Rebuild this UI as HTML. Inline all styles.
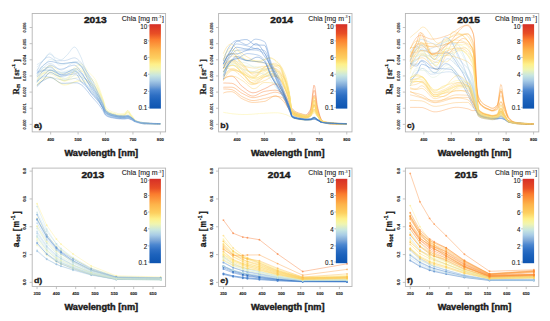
<!DOCTYPE html><html><head><meta charset="utf-8"><style>html,body{margin:0;padding:0;background:#fff;}svg{display:block;font-family:"Liberation Sans", sans-serif;}</style></head><body>
<svg width="550" height="321" viewBox="0 0 550 321">
<defs><linearGradient id="cb" x1="0" y1="1" x2="0" y2="0"><stop offset="0.0" stop-color="#0d54b0"/><stop offset="0.09898989898989899" stop-color="#1c62bc"/><stop offset="0.15858585858585855" stop-color="#2e6fc4"/><stop offset="0.21818181818181814" stop-color="#4b86d0"/><stop offset="0.2727272727272727" stop-color="#7ea8d8"/><stop offset="0.3333333333333333" stop-color="#a8cce6"/><stop offset="0.3939393939393939" stop-color="#c8e6e0"/><stop offset="0.4646464646464647" stop-color="#f0f5b0"/><stop offset="0.5252525252525253" stop-color="#fef08a"/><stop offset="0.595959595959596" stop-color="#fdd060"/><stop offset="0.696969696969697" stop-color="#fdb34a"/><stop offset="0.8181818181818181" stop-color="#fb7d2e"/><stop offset="0.888888888888889" stop-color="#e84e25"/><stop offset="1.0" stop-color="#d62f27"/></linearGradient></defs>
<rect width="550" height="321" fill="#fff"/>
<clipPath id="clip00"><rect x="32.2" y="13.5" width="133.4" height="118.4"/></clipPath><g clip-path="url(#clip00)"><path d="M36.9 84.5L37.8 83.8L38.6 83.2L39.4 82.5L40.2 81.9L41.0 81.4L41.9 80.9L42.7 80.4L43.5 79.9L44.3 79.5L45.2 79.1L46.0 78.6L46.8 78.2L47.6 77.8L48.5 77.5L49.3 77.3L50.1 77.3L50.9 77.3L51.7 77.5L52.6 77.8L53.4 78.2L54.2 78.7L55.0 79.2L55.9 79.8L56.7 80.4L57.5 81.0L58.3 81.6L59.2 82.2L60.0 82.7L60.8 83.2L61.6 83.6L62.4 84.0L63.3 84.2L64.1 84.3L64.9 84.3L65.7 84.2L66.6 84.1L67.4 84.0L68.2 83.8L69.0 83.6L69.9 83.4L70.7 83.1L71.5 82.9L72.3 82.6L73.1 82.4L74.0 82.1L74.8 81.9L75.6 81.7L76.4 81.5L77.3 81.4L78.1 81.3L78.9 81.3L79.7 81.2L80.5 81.3L81.4 81.4L82.2 81.5L83.0 81.7L83.8 81.9L84.7 82.1L85.5 82.4L86.3 82.7L87.1 83.0L88.0 83.3L88.8 83.7L89.6 84.1L90.4 84.6L91.2 85.2L92.1 85.9L92.9 86.8L93.7 87.7L94.5 88.7L95.4 89.7L96.2 91.0L97.0 92.5L97.8 94.2L98.7 95.9L99.5 97.7L100.3 99.4L101.1 100.9L101.9 102.5L102.8 104.2L103.6 106.0L104.4 108.2L105.2 110.2L106.1 111.2L106.9 112.0L107.7 112.6L108.5 113.1L109.4 113.5L110.2 113.8L111.0 114.2L111.8 114.4L112.6 114.7L113.5 114.9L114.3 115.1L115.1 115.3L115.9 115.5L116.8 115.7L117.6 115.9L118.4 116.1L119.2 116.1L120.0 116.1L120.9 116.1L121.7 116.1L122.5 116.1L123.3 116.1L124.2 116.0L125.0 115.8L125.8 115.4L126.6 115.0L127.5 114.7L128.3 114.8L129.1 115.2L129.9 115.9L130.7 116.7L131.6 117.4L132.4 118.1L133.2 119.0L134.0 119.8L134.9 120.5" fill="none" stroke="#fcf18e" stroke-width="0.6" stroke-opacity="0.6" stroke-linejoin="round"/><path d="M134.9 120.5L135.7 120.9L136.5 121.2L137.3 121.5L138.2 121.7L139.0 121.9L139.8 122.1L140.6 122.3L141.4 122.4L142.3 122.5L143.1 122.6L143.9 122.7L144.7 122.8L145.6 122.9L146.4 123.0L147.2 123.0L148.0 123.1L148.8 123.2L149.7 123.2L150.5 123.3L151.3 123.3L152.1 123.4L153.0 123.4L153.8 123.5L154.6 123.5L155.4 123.6L156.3 123.6L157.1 123.6L157.9 123.6L158.7 123.6L159.5 123.7L160.4 123.7" fill="none" stroke="#fcf18e" stroke-width="0.6" stroke-opacity="0.36" stroke-linejoin="round"/>
<path d="M36.9 85.8L37.8 84.4L38.6 83.0L39.4 81.7L40.2 80.6L41.0 79.6L41.9 78.8L42.7 78.2L43.5 77.9L44.3 77.8L45.2 77.7L46.0 77.6L46.8 77.5L47.6 77.5L48.5 77.5L49.3 77.4L50.1 77.4L50.9 77.5L51.7 77.7L52.6 78.0L53.4 78.5L54.2 79.0L55.0 79.6L55.9 80.2L56.7 80.8L57.5 81.5L58.3 82.2L59.2 82.8L60.0 83.4L60.8 83.9L61.6 84.4L62.4 84.7L63.3 85.0L64.1 85.1L64.9 85.1L65.7 85.0L66.6 84.9L67.4 84.7L68.2 84.5L69.0 84.2L69.9 83.9L70.7 83.6L71.5 83.2L72.3 82.9L73.1 82.5L74.0 82.1L74.8 81.8L75.6 81.5L76.4 81.1L77.3 80.9L78.1 80.6L78.9 80.4L79.7 80.2L80.5 80.1L81.4 80.1L82.2 80.1L83.0 80.2L83.8 80.4L84.7 80.7L85.5 81.0L86.3 81.3L87.1 81.7L88.0 82.0L88.8 82.4L89.6 82.8L90.4 83.2L91.2 83.7L92.1 84.3L92.9 85.0L93.7 85.7L94.5 86.5L95.4 87.4L96.2 88.6L97.0 90.1L97.8 91.9L98.7 93.8L99.5 95.8L100.3 97.5L101.1 99.2L101.9 100.9L102.8 102.7L103.6 104.8L104.4 107.9L105.2 110.5L106.1 111.6L106.9 112.4L107.7 113.0L108.5 113.4L109.4 113.8L110.2 114.2L111.0 114.5L111.8 114.7L112.6 114.9L113.5 115.2L114.3 115.4L115.1 115.5L115.9 115.8L116.8 116.0L117.6 116.2L118.4 116.3L119.2 116.4L120.0 116.3L120.9 116.3L121.7 116.2L122.5 116.0L123.3 115.9L124.2 115.7L125.0 115.0L125.8 113.8L126.6 112.6L127.5 111.9L128.3 112.0L129.1 112.9L129.9 114.3L130.7 115.6L131.6 116.7L132.4 117.7L133.2 118.8L134.0 119.7L134.9 120.5" fill="none" stroke="#feec85" stroke-width="0.6" stroke-opacity="0.6" stroke-linejoin="round"/><path d="M134.9 120.5L135.7 121.0L136.5 121.4L137.3 121.7L138.2 122.0L139.0 122.3L139.8 122.6L140.6 122.8L141.4 123.0L142.3 123.1L143.1 123.2L143.9 123.2L144.7 123.3L145.6 123.3L146.4 123.3L147.2 123.3L148.0 123.4L148.8 123.4L149.7 123.4L150.5 123.4L151.3 123.4L152.1 123.5L153.0 123.5L153.8 123.5L154.6 123.5L155.4 123.5L156.3 123.5L157.1 123.5L157.9 123.5L158.7 123.5L159.5 123.5L160.4 123.5" fill="none" stroke="#feec85" stroke-width="0.6" stroke-opacity="0.36" stroke-linejoin="round"/>
<path d="M36.9 85.3L37.8 84.6L38.6 83.9L39.4 83.1L40.2 82.4L41.0 81.6L41.9 80.8L42.7 80.0L43.5 79.2L44.3 78.4L45.2 77.3L46.0 76.2L46.8 75.1L47.6 74.0L48.5 73.1L49.3 72.5L50.1 72.3L50.9 72.4L51.7 72.6L52.6 73.0L53.4 73.5L54.2 74.1L55.0 74.7L55.9 75.4L56.7 76.1L57.5 76.9L58.3 77.6L59.2 78.3L60.0 79.0L60.8 79.6L61.6 80.1L62.4 80.5L63.3 80.8L64.1 80.9L64.9 80.9L65.7 80.9L66.6 80.7L67.4 80.6L68.2 80.4L69.0 80.1L69.9 79.9L70.7 79.6L71.5 79.3L72.3 79.0L73.1 78.7L74.0 78.4L74.8 78.1L75.6 77.8L76.4 77.5L77.3 77.3L78.1 77.1L78.9 77.0L79.7 76.9L80.5 76.8L81.4 76.8L82.2 77.0L83.0 77.3L83.8 77.7L84.7 78.2L85.5 78.8L86.3 79.4L87.1 80.0L88.0 80.7L88.8 81.3L89.6 81.9L90.4 82.6L91.2 83.3L92.1 84.1L92.9 85.0L93.7 85.9L94.5 86.9L95.4 88.0L96.2 89.2L97.0 90.6L97.8 92.1L98.7 93.7L99.5 95.4L100.3 97.0L101.1 98.7L101.9 100.4L102.8 102.3L103.6 104.4L104.4 107.2L105.2 109.7L106.1 110.8L106.9 111.6L107.7 112.3L108.5 112.8L109.4 113.2L110.2 113.5L111.0 113.9L111.8 114.1L112.6 114.4L113.5 114.6L114.3 114.8L115.1 115.0L115.9 115.2L116.8 115.5L117.6 115.7L118.4 115.8L119.2 115.9L120.0 115.8L120.9 115.8L121.7 115.6L122.5 115.5L123.3 115.3L124.2 115.0L125.0 114.3L125.8 112.9L126.6 111.5L127.5 110.6L128.3 110.8L129.1 111.8L129.9 113.3L130.7 114.9L131.6 116.1L132.4 117.2L133.2 118.3L134.0 119.4L134.9 120.2" fill="none" stroke="#f9f299" stroke-width="0.6" stroke-opacity="0.6" stroke-linejoin="round"/><path d="M134.9 120.2L135.7 120.8L136.5 121.3L137.3 121.8L138.2 122.2L139.0 122.5L139.8 122.9L140.6 123.2L141.4 123.4L142.3 123.6L143.1 123.7L143.9 123.8L144.7 123.8L145.6 123.8L146.4 123.8L147.2 123.8L148.0 123.9L148.8 123.9L149.7 123.9L150.5 123.9L151.3 123.9L152.1 123.9L153.0 123.9L153.8 123.9L154.6 123.9L155.4 123.9L156.3 123.9L157.1 123.9L157.9 123.9L158.7 123.9L159.5 123.9L160.4 123.9" fill="none" stroke="#f9f299" stroke-width="0.6" stroke-opacity="0.36" stroke-linejoin="round"/>
<path d="M36.9 79.3L37.8 78.1L38.6 76.9L39.4 75.9L40.2 75.0L41.0 74.2L41.9 73.6L42.7 73.2L43.5 73.0L44.3 73.0L45.2 73.0L46.0 73.1L46.8 73.2L47.6 73.3L48.5 73.4L49.3 73.6L50.1 73.7L50.9 73.9L51.7 74.2L52.6 74.6L53.4 75.1L54.2 75.6L55.0 76.1L55.9 76.7L56.7 77.3L57.5 77.9L58.3 78.4L59.2 79.0L60.0 79.5L60.8 79.9L61.6 80.3L62.4 80.6L63.3 80.8L64.1 80.9L64.9 80.9L65.7 80.8L66.6 80.5L67.4 80.1L68.2 79.7L69.0 79.2L69.9 78.6L70.7 78.0L71.5 77.3L72.3 76.6L73.1 75.9L74.0 75.2L74.8 74.6L75.6 73.9L76.4 73.3L77.3 72.8L78.1 72.3L78.9 71.9L79.7 71.5L80.5 71.3L81.4 71.2L82.2 71.4L83.0 72.0L83.8 72.9L84.7 74.1L85.5 75.5L86.3 77.0L87.1 78.4L88.0 79.8L88.8 80.9L89.6 81.7L90.4 82.4L91.2 83.0L92.1 83.6L92.9 84.2L93.7 84.9L94.5 85.6L95.4 86.5L96.2 87.5L97.0 88.8L97.8 90.2L98.7 91.7L99.5 93.3L100.3 94.9L101.1 96.5L101.9 98.3L102.8 100.2L103.6 102.6L104.4 106.2L105.2 109.3L106.1 110.5L106.9 111.4L107.7 112.0L108.5 112.5L109.4 112.9L110.2 113.3L111.0 113.6L111.8 113.9L112.6 114.1L113.5 114.4L114.3 114.6L115.1 114.8L115.9 115.0L116.8 115.3L117.6 115.5L118.4 115.6L119.2 115.7L120.0 115.7L120.9 115.6L121.7 115.5L122.5 115.5L123.3 115.3L124.2 115.2L125.0 114.7L125.8 113.8L126.6 112.9L127.5 112.3L128.3 112.4L129.1 113.2L129.9 114.3L130.7 115.5L131.6 116.5L132.4 117.4L133.2 118.4L134.0 119.4L134.9 120.2" fill="none" stroke="#fee980" stroke-width="0.6" stroke-opacity="0.6" stroke-linejoin="round"/><path d="M134.9 120.2L135.7 120.8L136.5 121.2L137.3 121.6L138.2 122.0L139.0 122.3L139.8 122.7L140.6 122.9L141.4 123.2L142.3 123.3L143.1 123.5L143.9 123.6L144.7 123.6L145.6 123.7L146.4 123.7L147.2 123.8L148.0 123.8L148.8 123.8L149.7 123.9L150.5 123.9L151.3 123.9L152.1 124.0L153.0 124.0L153.8 124.0L154.6 124.0L155.4 124.1L156.3 124.1L157.1 124.1L157.9 124.1L158.7 124.1L159.5 124.1L160.4 124.1" fill="none" stroke="#fee980" stroke-width="0.6" stroke-opacity="0.36" stroke-linejoin="round"/>
<path d="M36.9 80.7L37.8 79.5L38.6 78.4L39.4 77.3L40.2 76.3L41.0 75.4L41.9 74.6L42.7 73.9L43.5 73.3L44.3 72.8L45.2 72.4L46.0 72.0L46.8 71.6L47.6 71.2L48.5 71.0L49.3 70.8L50.1 70.8L50.9 70.8L51.7 71.1L52.6 71.4L53.4 71.9L54.2 72.4L55.0 73.0L55.9 73.7L56.7 74.4L57.5 75.1L58.3 75.8L59.2 76.4L60.0 77.1L60.8 77.6L61.6 78.1L62.4 78.5L63.3 78.8L64.1 78.9L64.9 78.9L65.7 78.7L66.6 78.3L67.4 77.8L68.2 77.1L69.0 76.4L69.9 75.6L70.7 74.7L71.5 73.9L72.3 73.0L73.1 72.1L74.0 71.3L74.8 70.5L75.6 69.8L76.4 69.2L77.3 68.7L78.1 68.4L78.9 68.3L79.7 68.3L80.5 68.6L81.4 69.0L82.2 69.6L83.0 70.3L83.8 71.1L84.7 72.1L85.5 73.0L86.3 74.0L87.1 75.0L88.0 75.9L88.8 76.8L89.6 77.6L90.4 78.4L91.2 79.2L92.1 80.0L92.9 80.9L93.7 81.8L94.5 82.9L95.4 84.0L96.2 85.3L97.0 86.9L97.8 88.7L98.7 90.6L99.5 92.4L100.3 94.2L101.1 96.0L101.9 97.8L102.8 99.7L103.6 102.0L104.4 105.3L105.2 108.2L106.1 109.5L106.9 110.4L107.7 111.1L108.5 111.6L109.4 112.1L110.2 112.5L111.0 112.8L111.8 113.1L112.6 113.4L113.5 113.6L114.3 113.9L115.1 114.1L115.9 114.3L116.8 114.6L117.6 114.8L118.4 115.0L119.2 115.0L120.0 115.0L120.9 115.0L121.7 115.0L122.5 115.0L123.3 115.0L124.2 115.0L125.0 114.8L125.8 114.4L126.6 114.0L127.5 113.7L128.3 113.8L129.1 114.3L129.9 115.0L130.7 115.8L131.6 116.5L132.4 117.3L133.2 118.3L134.0 119.2L134.9 120.0" fill="none" stroke="#feef88" stroke-width="0.6" stroke-opacity="0.6" stroke-linejoin="round"/><path d="M134.9 120.0L135.7 120.5L136.5 120.8L137.3 121.1L138.2 121.4L139.0 121.7L139.8 121.9L140.6 122.1L141.4 122.2L142.3 122.4L143.1 122.5L143.9 122.6L144.7 122.7L145.6 122.8L146.4 122.9L147.2 123.0L148.0 123.1L148.8 123.2L149.7 123.3L150.5 123.3L151.3 123.4L152.1 123.5L153.0 123.5L153.8 123.6L154.6 123.7L155.4 123.7L156.3 123.7L157.1 123.8L157.9 123.8L158.7 123.8L159.5 123.8L160.4 123.8" fill="none" stroke="#feef88" stroke-width="0.6" stroke-opacity="0.36" stroke-linejoin="round"/>
<path d="M36.9 81.9L37.8 80.8L38.6 79.8L39.4 78.8L40.2 77.8L41.0 76.9L41.9 76.1L42.7 75.3L43.5 74.5L44.3 73.8L45.2 73.0L46.0 72.3L46.8 71.5L47.6 70.9L48.5 70.4L49.3 70.0L50.1 69.9L50.9 70.0L51.7 70.3L52.6 70.7L53.4 71.3L54.2 72.0L55.0 72.8L55.9 73.7L56.7 74.6L57.5 75.5L58.3 76.4L59.2 77.3L60.0 78.1L60.8 78.8L61.6 79.4L62.4 79.9L63.3 80.3L64.1 80.4L64.9 80.4L65.7 80.2L66.6 79.8L67.4 79.2L68.2 78.6L69.0 77.8L69.9 76.9L70.7 76.0L71.5 75.1L72.3 74.2L73.1 73.3L74.0 72.4L74.8 71.6L75.6 70.9L76.4 70.4L77.3 69.9L78.1 69.7L78.9 69.6L79.7 69.7L80.5 70.0L81.4 70.4L82.2 71.0L83.0 71.6L83.8 72.3L84.7 73.1L85.5 74.0L86.3 74.8L87.1 75.6L88.0 76.5L88.8 77.2L89.6 78.0L90.4 78.7L91.2 79.5L92.1 80.3L92.9 81.1L93.7 82.0L94.5 83.0L95.4 84.1L96.2 85.3L97.0 86.7L97.8 88.2L98.7 89.9L99.5 91.7L100.3 93.6L101.1 95.9L101.9 98.5L102.8 101.0L103.6 103.5L104.4 106.1L105.2 108.2L106.1 109.4L106.9 110.3L107.7 111.0L108.5 111.5L109.4 112.0L110.2 112.4L111.0 112.7L111.8 113.1L112.6 113.3L113.5 113.6L114.3 113.8L115.1 114.0L115.9 114.3L116.8 114.5L117.6 114.7L118.4 114.9L119.2 115.0L120.0 115.0L120.9 114.9L121.7 114.9L122.5 114.8L123.3 114.8L124.2 114.7L125.0 114.3L125.8 113.6L126.6 112.8L127.5 112.3L128.3 112.4L129.1 113.1L129.9 114.1L130.7 115.2L131.6 116.1L132.4 117.1L133.2 118.1L134.0 119.1L134.9 119.9" fill="none" stroke="#f2f4a9" stroke-width="0.6" stroke-opacity="0.6" stroke-linejoin="round"/><path d="M134.9 119.9L135.7 120.5L136.5 120.9L137.3 121.3L138.2 121.7L139.0 122.0L139.8 122.3L140.6 122.6L141.4 122.8L142.3 123.0L143.1 123.1L143.9 123.2L144.7 123.2L145.6 123.2L146.4 123.3L147.2 123.3L148.0 123.3L148.8 123.4L149.7 123.4L150.5 123.4L151.3 123.5L152.1 123.5L153.0 123.5L153.8 123.5L154.6 123.5L155.4 123.5L156.3 123.5L157.1 123.6L157.9 123.6L158.7 123.6L159.5 123.6L160.4 123.6" fill="none" stroke="#f2f4a9" stroke-width="0.6" stroke-opacity="0.36" stroke-linejoin="round"/>
<path d="M36.9 77.8L37.8 77.1L38.6 76.4L39.4 75.7L40.2 75.0L41.0 74.3L41.9 73.6L42.7 72.9L43.5 72.2L44.3 71.4L45.2 70.5L46.0 69.5L46.8 68.5L47.6 67.6L48.5 66.9L49.3 66.4L50.1 66.2L50.9 66.3L51.7 66.7L52.6 67.4L53.4 68.2L54.2 69.1L55.0 70.2L55.9 71.4L56.7 72.7L57.5 73.9L58.3 75.2L59.2 76.4L60.0 77.5L60.8 78.6L61.6 79.4L62.4 80.1L63.3 80.6L64.1 80.8L64.9 80.8L65.7 80.5L66.6 80.1L67.4 79.4L68.2 78.6L69.0 77.7L69.9 76.6L70.7 75.5L71.5 74.3L72.3 73.1L73.1 71.9L74.0 70.7L74.8 69.6L75.6 68.6L76.4 67.6L77.3 66.8L78.1 66.1L78.9 65.6L79.7 65.3L80.5 65.2L81.4 65.6L82.2 66.3L83.0 67.3L83.8 68.5L84.7 69.9L85.5 71.4L86.3 72.9L87.1 74.3L88.0 75.6L88.8 76.6L89.6 77.3L90.4 77.9L91.2 78.4L92.1 78.9L92.9 79.4L93.7 80.0L94.5 80.7L95.4 81.5L96.2 82.8L97.0 84.5L97.8 86.6L98.7 88.8L99.5 91.0L100.3 93.0L101.1 94.7L101.9 96.5L102.8 98.5L103.6 100.9L104.4 104.8L105.2 108.1L106.1 109.5L106.9 110.4L107.7 111.1L108.5 111.6L109.4 112.1L110.2 112.5L111.0 112.8L111.8 113.1L112.6 113.4L113.5 113.6L114.3 113.8L115.1 114.1L115.9 114.3L116.8 114.6L117.6 114.8L118.4 114.9L119.2 115.0L120.0 115.0L120.9 114.9L121.7 114.9L122.5 114.8L123.3 114.6L124.2 114.5L125.0 113.9L125.8 112.9L126.6 111.9L127.5 111.2L128.3 111.4L129.1 112.2L129.9 113.5L130.7 114.8L131.6 115.8L132.4 116.9L133.2 118.0L134.0 119.1L134.9 119.9" fill="none" stroke="#f7f39e" stroke-width="0.6" stroke-opacity="0.6" stroke-linejoin="round"/><path d="M134.9 119.9L135.7 120.5L136.5 120.9L137.3 121.2L138.2 121.5L139.0 121.8L139.8 122.0L140.6 122.2L141.4 122.4L142.3 122.5L143.1 122.7L143.9 122.8L144.7 122.9L145.6 123.0L146.4 123.1L147.2 123.2L148.0 123.2L148.8 123.3L149.7 123.4L150.5 123.5L151.3 123.6L152.1 123.6L153.0 123.7L153.8 123.7L154.6 123.8L155.4 123.8L156.3 123.9L157.1 123.9L157.9 123.9L158.7 124.0L159.5 124.0L160.4 124.0" fill="none" stroke="#f7f39e" stroke-width="0.6" stroke-opacity="0.36" stroke-linejoin="round"/>
<path d="M36.9 75.7L37.8 74.8L38.6 74.0L39.4 73.1L40.2 72.3L41.0 71.6L41.9 70.8L42.7 70.2L43.5 69.5L44.3 68.9L45.2 68.3L46.0 67.7L46.8 67.1L47.6 66.5L48.5 66.1L49.3 65.8L50.1 65.7L50.9 65.8L51.7 66.0L52.6 66.4L53.4 66.9L54.2 67.4L55.0 68.1L55.9 68.7L56.7 69.5L57.5 70.2L58.3 70.9L59.2 71.6L60.0 72.3L60.8 72.9L61.6 73.4L62.4 73.8L63.3 74.1L64.1 74.2L64.9 74.2L65.7 74.0L66.6 73.7L67.4 73.3L68.2 72.8L69.0 72.2L69.9 71.6L70.7 70.9L71.5 70.1L72.3 69.4L73.1 68.6L74.0 67.9L74.8 67.1L75.6 66.5L76.4 65.8L77.3 65.3L78.1 64.8L78.9 64.4L79.7 64.1L80.5 64.0L81.4 64.0L82.2 64.4L83.0 65.0L83.8 65.8L84.7 66.7L85.5 67.8L86.3 69.0L87.1 70.1L88.0 71.2L88.8 72.2L89.6 73.1L90.4 73.9L91.2 74.7L92.1 75.6L92.9 76.4L93.7 77.3L94.5 78.4L95.4 79.6L96.2 81.0L97.0 82.7L97.8 84.6L98.7 86.6L99.5 88.8L100.3 90.9L101.1 93.3L101.9 95.9L102.8 98.5L103.6 101.0L104.4 103.8L105.2 106.1L106.1 107.4L106.9 108.4L107.7 109.2L108.5 109.9L109.4 110.4L110.2 110.8L111.0 111.2L111.8 111.6L112.6 111.9L113.5 112.2L114.3 112.4L115.1 112.7L115.9 112.9L116.8 113.2L117.6 113.5L118.4 113.7L119.2 113.7L120.0 113.7L120.9 113.7L121.7 113.6L122.5 113.6L123.3 113.5L124.2 113.4L125.0 112.9L125.8 112.0L126.6 111.1L127.5 110.6L128.3 110.7L129.1 111.5L129.9 112.7L130.7 113.9L131.6 115.0L132.4 116.1L133.2 117.2L134.0 118.3L134.9 119.3" fill="none" stroke="#fdf08c" stroke-width="0.6" stroke-opacity="0.6" stroke-linejoin="round"/><path d="M134.9 119.3L135.7 120.0L136.5 120.4L137.3 120.9L138.2 121.3L139.0 121.7L139.8 122.0L140.6 122.3L141.4 122.6L142.3 122.8L143.1 123.0L143.9 123.1L144.7 123.2L145.6 123.3L146.4 123.3L147.2 123.4L148.0 123.5L148.8 123.6L149.7 123.6L150.5 123.7L151.3 123.8L152.1 123.8L153.0 123.9L153.8 123.9L154.6 123.9L155.4 124.0L156.3 124.0L157.1 124.0L157.9 124.1L158.7 124.1L159.5 124.1L160.4 124.1" fill="none" stroke="#fdf08c" stroke-width="0.6" stroke-opacity="0.36" stroke-linejoin="round"/>
<path d="M36.9 82.7L37.8 81.5L38.6 80.2L39.4 79.1L40.2 78.1L41.0 77.3L41.9 76.6L42.7 76.2L43.5 76.0L44.3 76.0L45.2 76.1L46.0 76.2L46.8 76.4L47.6 76.6L48.5 76.8L49.3 77.0L50.1 77.1L50.9 77.3L51.7 77.5L52.6 77.7L53.4 77.9L54.2 78.1L55.0 78.3L55.9 78.6L56.7 78.8L57.5 79.0L58.3 79.2L59.2 79.4L60.0 79.6L60.8 79.7L61.6 79.8L62.4 79.9L63.3 80.0L64.1 80.0L64.9 80.0L65.7 79.9L66.6 79.8L67.4 79.7L68.2 79.5L69.0 79.4L69.9 79.2L70.7 79.0L71.5 78.9L72.3 78.7L73.1 78.6L74.0 78.5L74.8 78.5L75.6 78.5L76.4 78.8L77.3 79.2L78.1 79.7L78.9 80.3L79.7 80.9L80.5 81.5L81.4 82.0L82.2 82.5L83.0 82.9L83.8 83.2L84.7 83.7L85.5 84.1L86.3 84.7L87.1 85.5L88.0 86.5L88.8 87.6L89.6 88.8L90.4 90.1L91.2 91.3L92.1 92.4L92.9 93.4L93.7 94.4L94.5 95.4L95.4 96.4L96.2 97.4L97.0 98.5L97.8 99.6L98.7 100.8L99.5 102.1L100.3 103.6L101.1 105.1L101.9 106.7L102.8 108.3L103.6 110.1L104.4 112.0L105.2 113.4L106.1 114.2L106.9 114.8L107.7 115.3L108.5 115.7L109.4 116.0L110.2 116.3L111.0 116.5L111.8 116.7L112.6 116.9L113.5 117.1L114.3 117.2L115.1 117.4L115.9 117.5L116.8 117.7L117.6 117.8L118.4 117.9L119.2 118.0L120.0 118.0L120.9 118.1L121.7 118.1L122.5 118.1L123.3 118.1L124.2 118.1L125.0 118.1L125.8 118.0L126.6 117.9L127.5 117.8L128.3 117.8L129.1 118.1L129.9 118.4L130.7 118.8L131.6 119.2L132.4 119.7L133.2 120.3L134.0 120.9L134.9 121.4" fill="none" stroke="#91b8de" stroke-width="0.6" stroke-opacity="0.6" stroke-linejoin="round"/><path d="M134.9 121.4L135.7 121.7L136.5 121.9L137.3 122.0L138.2 122.1L139.0 122.2L139.8 122.3L140.6 122.3L141.4 122.4L142.3 122.5L143.1 122.5L143.9 122.6L144.7 122.7L145.6 122.7L146.4 122.8L147.2 122.8L148.0 122.9L148.8 123.0L149.7 123.0L150.5 123.1L151.3 123.1L152.1 123.2L153.0 123.2L153.8 123.3L154.6 123.3L155.4 123.4L156.3 123.4L157.1 123.5L157.9 123.5L158.7 123.5L159.5 123.6L160.4 123.6" fill="none" stroke="#91b8de" stroke-width="0.6" stroke-opacity="0.36" stroke-linejoin="round"/>
<path d="M36.9 80.2L37.8 79.9L38.6 79.5L39.4 79.1L40.2 78.7L41.0 78.4L41.9 78.0L42.7 77.6L43.5 77.2L44.3 76.8L45.2 76.3L46.0 75.7L46.8 75.1L47.6 74.6L48.5 74.2L49.3 73.9L50.1 73.8L50.9 73.9L51.7 74.0L52.6 74.1L53.4 74.3L54.2 74.6L55.0 74.9L55.9 75.2L56.7 75.5L57.5 75.8L58.3 76.1L59.2 76.4L60.0 76.6L60.8 76.8L61.6 77.0L62.4 77.1L63.3 77.1L64.1 77.0L64.9 76.7L65.7 76.3L66.6 75.7L67.4 75.0L68.2 74.3L69.0 73.5L69.9 72.8L70.7 72.2L71.5 71.6L72.3 71.2L73.1 71.0L74.0 70.9L74.8 71.2L75.6 71.6L76.4 72.2L77.3 72.9L78.1 73.8L78.9 74.7L79.7 75.6L80.5 76.6L81.4 77.5L82.2 78.4L83.0 79.5L83.8 80.6L84.7 81.7L85.5 82.9L86.3 84.0L87.1 85.2L88.0 86.3L88.8 87.5L89.6 88.6L90.4 89.8L91.2 90.9L92.1 92.1L92.9 93.2L93.7 94.4L94.5 95.5L95.4 96.6L96.2 97.8L97.0 98.9L97.8 100.1L98.7 101.2L99.5 102.3L100.3 103.4L101.1 104.5L101.9 105.7L102.8 107.0L103.6 108.7L104.4 110.6L105.2 112.2L106.1 113.1L106.9 113.7L107.7 114.3L108.5 114.7L109.4 115.0L110.2 115.3L111.0 115.6L111.8 115.8L112.6 116.0L113.5 116.2L114.3 116.4L115.1 116.6L115.9 116.8L116.8 116.9L117.6 117.1L118.4 117.2L119.2 117.3L120.0 117.3L120.9 117.4L121.7 117.4L122.5 117.4L123.3 117.4L124.2 117.4L125.0 117.4L125.8 117.3L126.6 117.1L127.5 117.1L128.3 117.1L129.1 117.4L129.9 117.7L130.7 118.2L131.6 118.6L132.4 119.2L133.2 119.8L134.0 120.5L134.9 121.0" fill="none" stroke="#bedee2" stroke-width="0.6" stroke-opacity="0.6" stroke-linejoin="round"/><path d="M134.9 121.0L135.7 121.4L136.5 121.7L137.3 122.0L138.2 122.2L139.0 122.4L139.8 122.6L140.6 122.8L141.4 122.9L142.3 123.0L143.1 123.1L143.9 123.2L144.7 123.2L145.6 123.2L146.4 123.3L147.2 123.3L148.0 123.3L148.8 123.3L149.7 123.4L150.5 123.4L151.3 123.4L152.1 123.4L153.0 123.5L153.8 123.5L154.6 123.5L155.4 123.5L156.3 123.5L157.1 123.5L157.9 123.5L158.7 123.5L159.5 123.5L160.4 123.5" fill="none" stroke="#bedee2" stroke-width="0.6" stroke-opacity="0.36" stroke-linejoin="round"/>
<path d="M36.9 82.4L37.8 80.8L38.6 79.4L39.4 78.0L40.2 76.7L41.0 75.5L41.9 74.5L42.7 73.7L43.5 73.0L44.3 72.4L45.2 71.9L46.0 71.5L46.8 71.0L47.6 70.7L48.5 70.4L49.3 70.2L50.1 70.1L50.9 70.2L51.7 70.5L52.6 70.8L53.4 71.3L54.2 71.9L55.0 72.5L55.9 73.2L56.7 73.9L57.5 74.7L58.3 75.4L59.2 76.1L60.0 76.7L60.8 77.3L61.6 77.8L62.4 78.1L63.3 78.3L64.1 78.4L64.9 78.4L65.7 78.3L66.6 78.1L67.4 77.9L68.2 77.7L69.0 77.4L69.9 77.2L70.7 76.9L71.5 76.6L72.3 76.4L73.1 76.1L74.0 75.9L74.8 75.7L75.6 75.6L76.4 75.5L77.3 75.5L78.1 75.5L78.9 75.6L79.7 75.8L80.5 76.0L81.4 76.2L82.2 76.9L83.0 78.2L83.8 79.9L84.7 81.8L85.5 83.5L86.3 84.8L87.1 85.8L88.0 86.7L88.8 87.5L89.6 88.2L90.4 89.0L91.2 89.8L92.1 90.7L92.9 91.6L93.7 92.5L94.5 93.5L95.4 94.5L96.2 95.5L97.0 96.6L97.8 97.8L98.7 99.0L99.5 100.6L100.3 102.4L101.1 104.3L101.9 106.2L102.8 107.9L103.6 109.5L104.4 111.0L105.2 112.2L106.1 113.0L106.9 113.7L107.7 114.2L108.5 114.7L109.4 115.0L110.2 115.3L111.0 115.6L111.8 115.8L112.6 116.0L113.5 116.2L114.3 116.4L115.1 116.6L115.9 116.7L116.8 116.9L117.6 117.1L118.4 117.2L119.2 117.3L120.0 117.3L120.9 117.3L121.7 117.4L122.5 117.4L123.3 117.4L124.2 117.4L125.0 117.4L125.8 117.2L126.6 117.1L127.5 117.0L128.3 117.1L129.1 117.3L129.9 117.7L130.7 118.2L131.6 118.6L132.4 119.1L133.2 119.8L134.0 120.5L134.9 121.0" fill="none" stroke="#cae7de" stroke-width="0.6" stroke-opacity="0.6" stroke-linejoin="round"/><path d="M134.9 121.0L135.7 121.4L136.5 121.7L137.3 121.9L138.2 122.1L139.0 122.3L139.8 122.5L140.6 122.6L141.4 122.7L142.3 122.9L143.1 123.0L143.9 123.1L144.7 123.2L145.6 123.3L146.4 123.4L147.2 123.5L148.0 123.6L148.8 123.7L149.7 123.8L150.5 123.9L151.3 124.0L152.1 124.0L153.0 124.1L153.8 124.2L154.6 124.3L155.4 124.3L156.3 124.4L157.1 124.4L157.9 124.4L158.7 124.5L159.5 124.5L160.4 124.5" fill="none" stroke="#cae7de" stroke-width="0.6" stroke-opacity="0.36" stroke-linejoin="round"/>
<path d="M36.9 81.6L37.8 79.7L38.6 77.9L39.4 76.3L40.2 74.7L41.0 73.4L41.9 72.3L42.7 71.5L43.5 70.9L44.3 70.7L45.2 70.5L46.0 70.3L46.8 70.1L47.6 70.0L48.5 69.9L49.3 69.8L50.1 69.8L50.9 69.8L51.7 69.9L52.6 70.1L53.4 70.3L54.2 70.5L55.0 70.7L55.9 71.0L56.7 71.3L57.5 71.5L58.3 71.8L59.2 72.0L60.0 72.2L60.8 72.4L61.6 72.5L62.4 72.6L63.3 72.6L64.1 72.5L64.9 72.4L65.7 72.3L66.6 72.1L67.4 71.9L68.2 71.7L69.0 71.5L69.9 71.3L70.7 71.2L71.5 71.0L72.3 70.9L73.1 70.8L74.0 70.7L74.8 70.8L75.6 71.0L76.4 71.4L77.3 71.8L78.1 72.3L78.9 72.9L79.7 73.6L80.5 74.2L81.4 74.9L82.2 75.5L83.0 76.3L83.8 77.1L84.7 78.0L85.5 78.9L86.3 79.9L87.1 81.0L88.0 82.3L88.8 83.6L89.6 85.0L90.4 86.3L91.2 87.6L92.1 88.8L92.9 89.9L93.7 90.9L94.5 91.9L95.4 92.9L96.2 93.9L97.0 94.9L97.8 96.1L98.7 97.3L99.5 98.7L100.3 100.3L101.1 102.0L101.9 103.7L102.8 105.5L103.6 107.4L104.4 109.5L105.2 111.1L106.1 112.1L106.9 112.8L107.7 113.3L108.5 113.8L109.4 114.2L110.2 114.5L111.0 114.8L111.8 115.1L112.6 115.3L113.5 115.5L114.3 115.7L115.1 115.9L115.9 116.1L116.8 116.3L117.6 116.4L118.4 116.6L119.2 116.7L120.0 116.7L120.9 116.7L121.7 116.8L122.5 116.8L123.3 116.8L124.2 116.8L125.0 116.8L125.8 116.6L126.6 116.5L127.5 116.4L128.3 116.5L129.1 116.7L129.9 117.1L130.7 117.6L131.6 118.1L132.4 118.7L133.2 119.4L134.0 120.1L134.9 120.7" fill="none" stroke="#9ec3e3" stroke-width="0.6" stroke-opacity="0.6" stroke-linejoin="round"/><path d="M134.9 120.7L135.7 121.2L136.5 121.6L137.3 121.9L138.2 122.3L139.0 122.6L139.8 122.9L140.6 123.2L141.4 123.4L142.3 123.6L143.1 123.7L143.9 123.8L144.7 123.8L145.6 123.8L146.4 123.8L147.2 123.8L148.0 123.8L148.8 123.8L149.7 123.8L150.5 123.8L151.3 123.8L152.1 123.8L153.0 123.8L153.8 123.8L154.6 123.8L155.4 123.8L156.3 123.8L157.1 123.8L157.9 123.8L158.7 123.8L159.5 123.8L160.4 123.8" fill="none" stroke="#9ec3e3" stroke-width="0.6" stroke-opacity="0.36" stroke-linejoin="round"/>
<path d="M36.9 71.8L37.8 71.4L38.6 71.1L39.4 70.8L40.2 70.6L41.0 70.4L41.9 70.2L42.7 70.1L43.5 70.1L44.3 70.1L45.2 70.1L46.0 70.1L46.8 70.1L47.6 70.2L48.5 70.3L49.3 70.3L50.1 70.4L50.9 70.5L51.7 70.7L52.6 70.9L53.4 71.3L54.2 71.6L55.0 71.9L55.9 72.3L56.7 72.6L57.5 72.9L58.3 73.2L59.2 73.4L60.0 73.5L60.8 73.5L61.6 73.5L62.4 73.4L63.3 73.3L64.1 73.1L64.9 72.9L65.7 72.7L66.6 72.4L67.4 72.2L68.2 71.9L69.0 71.7L69.9 71.4L70.7 71.2L71.5 71.0L72.3 70.8L73.1 70.6L74.0 70.5L74.8 70.5L75.6 70.5L76.4 70.9L77.3 71.7L78.1 72.8L78.9 74.1L79.7 75.3L80.5 76.4L81.4 77.2L82.2 77.7L83.0 78.1L83.8 78.5L84.7 78.8L85.5 79.2L86.3 79.7L87.1 80.3L88.0 80.9L88.8 81.7L89.6 82.5L90.4 83.4L91.2 84.4L92.1 85.4L92.9 86.5L93.7 87.8L94.5 89.1L95.4 90.6L96.2 92.1L97.0 93.6L97.8 95.2L98.7 96.8L99.5 98.5L100.3 100.3L101.1 102.1L101.9 104.0L102.8 105.8L103.6 107.8L104.4 109.9L105.2 111.5L106.1 112.4L106.9 113.1L107.7 113.7L108.5 114.1L109.4 114.5L110.2 114.8L111.0 115.1L111.8 115.4L112.6 115.6L113.5 115.8L114.3 116.0L115.1 116.1L115.9 116.3L116.8 116.5L117.6 116.7L118.4 116.8L119.2 116.9L120.0 116.9L120.9 117.0L121.7 117.0L122.5 117.0L123.3 117.0L124.2 117.0L125.0 117.0L125.8 116.9L126.6 116.7L127.5 116.6L128.3 116.7L129.1 117.0L129.9 117.4L130.7 117.8L131.6 118.3L132.4 118.8L133.2 119.5L134.0 120.2L134.9 120.8" fill="none" stroke="#a5cae5" stroke-width="0.6" stroke-opacity="0.6" stroke-linejoin="round"/><path d="M134.9 120.8L135.7 121.3L136.5 121.6L137.3 122.0L138.2 122.3L139.0 122.6L139.8 122.9L140.6 123.2L141.4 123.4L142.3 123.6L143.1 123.7L143.9 123.7L144.7 123.7L145.6 123.7L146.4 123.7L147.2 123.8L148.0 123.8L148.8 123.8L149.7 123.8L150.5 123.8L151.3 123.8L152.1 123.8L153.0 123.8L153.8 123.8L154.6 123.8L155.4 123.8L156.3 123.8L157.1 123.8L157.9 123.8L158.7 123.8L159.5 123.8L160.4 123.8" fill="none" stroke="#a5cae5" stroke-width="0.6" stroke-opacity="0.36" stroke-linejoin="round"/>
<path d="M36.9 75.3L37.8 73.8L38.6 72.4L39.4 71.1L40.2 70.0L41.0 69.0L41.9 68.2L42.7 67.6L43.5 67.4L44.3 67.4L45.2 67.4L46.0 67.5L46.8 67.5L47.6 67.6L48.5 67.7L49.3 67.8L50.1 67.9L50.9 68.1L51.7 68.5L52.6 68.9L53.4 69.4L54.2 70.0L55.0 70.6L55.9 71.1L56.7 71.6L57.5 72.0L58.3 72.2L59.2 72.3L60.0 72.3L60.8 72.2L61.6 72.1L62.4 71.9L63.3 71.8L64.1 71.6L64.9 71.3L65.7 71.1L66.6 70.9L67.4 70.6L68.2 70.4L69.0 70.2L69.9 70.0L70.7 69.8L71.5 69.7L72.3 69.6L73.1 69.5L74.0 69.5L74.8 69.6L75.6 69.9L76.4 70.3L77.3 70.8L78.1 71.3L78.9 71.8L79.7 72.4L80.5 72.9L81.4 73.4L82.2 73.8L83.0 74.1L83.8 74.5L84.7 74.9L85.5 75.3L86.3 75.9L87.1 76.7L88.0 77.7L88.8 79.0L89.6 80.4L90.4 81.9L91.2 83.3L92.1 84.7L92.9 86.1L93.7 87.6L94.5 89.1L95.4 90.7L96.2 92.2L97.0 93.8L97.8 95.3L98.7 96.8L99.5 98.3L100.3 99.8L101.1 101.2L101.9 102.8L102.8 104.4L103.6 106.3L104.4 108.5L105.2 110.2L106.1 111.1L106.9 111.9L107.7 112.5L108.5 113.1L109.4 113.5L110.2 113.8L111.0 114.1L111.8 114.4L112.6 114.6L113.5 114.9L114.3 115.1L115.1 115.3L115.9 115.5L116.8 115.7L117.6 115.9L118.4 116.0L119.2 116.1L120.0 116.1L120.9 116.2L121.7 116.2L122.5 116.2L123.3 116.3L124.2 116.3L125.0 116.2L125.8 116.1L126.6 115.9L127.5 115.8L128.3 115.9L129.1 116.2L129.9 116.6L130.7 117.1L131.6 117.6L132.4 118.3L133.2 119.0L134.0 119.8L134.9 120.4" fill="none" stroke="#bedee2" stroke-width="0.6" stroke-opacity="0.6" stroke-linejoin="round"/><path d="M134.9 120.4L135.7 120.9L136.5 121.3L137.3 121.7L138.2 122.0L139.0 122.4L139.8 122.7L140.6 122.9L141.4 123.1L142.3 123.3L143.1 123.4L143.9 123.5L144.7 123.5L145.6 123.5L146.4 123.5L147.2 123.5L148.0 123.5L148.8 123.6L149.7 123.6L150.5 123.6L151.3 123.6L152.1 123.6L153.0 123.6L153.8 123.6L154.6 123.6L155.4 123.6L156.3 123.6L157.1 123.6L157.9 123.6L158.7 123.6L159.5 123.6L160.4 123.6" fill="none" stroke="#bedee2" stroke-width="0.6" stroke-opacity="0.36" stroke-linejoin="round"/>
<path d="M36.9 75.8L37.8 74.5L38.6 73.3L39.4 72.2L40.2 71.1L41.0 70.1L41.9 69.2L42.7 68.3L43.5 67.6L44.3 66.9L45.2 66.2L46.0 65.5L46.8 64.8L47.6 64.3L48.5 63.8L49.3 63.5L50.1 63.4L50.9 63.5L51.7 63.8L52.6 64.2L53.4 64.8L54.2 65.4L55.0 66.1L55.9 66.8L56.7 67.5L57.5 68.2L58.3 68.8L59.2 69.3L60.0 69.7L60.8 70.0L61.6 70.1L62.4 69.9L63.3 69.7L64.1 69.2L64.9 68.7L65.7 68.1L66.6 67.5L67.4 66.8L68.2 66.1L69.0 65.4L69.9 64.7L70.7 64.1L71.5 63.6L72.3 63.2L73.1 62.9L74.0 62.8L74.8 62.9L75.6 63.0L76.4 63.4L77.3 63.8L78.1 64.3L78.9 64.9L79.7 65.6L80.5 66.2L81.4 66.9L82.2 67.8L83.0 69.0L83.8 70.3L84.7 71.8L85.5 73.2L86.3 74.6L87.1 75.9L88.0 77.1L88.8 78.4L89.6 79.7L90.4 81.0L91.2 82.3L92.1 83.6L92.9 85.0L93.7 86.3L94.5 87.7L95.4 89.0L96.2 90.4L97.0 91.9L97.8 93.4L98.7 94.9L99.5 96.5L100.3 98.2L101.1 100.0L101.9 101.8L102.8 103.7L103.6 105.9L104.4 108.2L105.2 110.0L106.1 111.0L106.9 111.8L107.7 112.4L108.5 112.9L109.4 113.3L110.2 113.7L111.0 114.0L111.8 114.3L112.6 114.5L113.5 114.7L114.3 115.0L115.1 115.2L115.9 115.4L116.8 115.6L117.6 115.8L118.4 115.9L119.2 116.0L120.0 116.0L120.9 116.1L121.7 116.1L122.5 116.1L123.3 116.2L124.2 116.2L125.0 116.1L125.8 116.0L126.6 115.8L127.5 115.7L128.3 115.8L129.1 116.1L129.9 116.5L130.7 117.0L131.6 117.6L132.4 118.2L133.2 119.0L134.0 119.8L134.9 120.5" fill="none" stroke="#9bc1e2" stroke-width="0.6" stroke-opacity="0.6" stroke-linejoin="round"/><path d="M134.9 120.5L135.7 120.9L136.5 121.2L137.3 121.4L138.2 121.6L139.0 121.8L139.8 122.0L140.6 122.1L141.4 122.2L142.3 122.4L143.1 122.5L143.9 122.6L144.7 122.7L145.6 122.9L146.4 123.0L147.2 123.1L148.0 123.2L148.8 123.3L149.7 123.4L150.5 123.5L151.3 123.6L152.1 123.7L153.0 123.8L153.8 123.9L154.6 124.0L155.4 124.1L156.3 124.2L157.1 124.2L157.9 124.3L158.7 124.3L159.5 124.4L160.4 124.4" fill="none" stroke="#9bc1e2" stroke-width="0.6" stroke-opacity="0.36" stroke-linejoin="round"/>
<path d="M36.9 69.6L37.8 69.2L38.6 68.7L39.4 68.3L40.2 67.8L41.0 67.2L41.9 66.7L42.7 66.1L43.5 65.5L44.3 64.9L45.2 64.0L46.0 63.0L46.8 62.0L47.6 61.1L48.5 60.3L49.3 59.8L50.1 59.6L50.9 59.6L51.7 59.7L52.6 60.0L53.4 60.3L54.2 60.6L55.0 61.0L55.9 61.3L56.7 61.7L57.5 62.1L58.3 62.5L59.2 62.9L60.0 63.2L60.8 63.4L61.6 63.6L62.4 63.7L63.3 63.6L64.1 63.6L64.9 63.5L65.7 63.4L66.6 63.3L67.4 63.2L68.2 63.1L69.0 62.9L69.9 62.8L70.7 62.6L71.5 62.5L72.3 62.4L73.1 62.3L74.0 62.3L74.8 62.2L75.6 62.3L76.4 62.5L77.3 62.9L78.1 63.3L78.9 63.9L79.7 64.6L80.5 65.3L81.4 66.0L82.2 66.9L83.0 68.1L83.8 69.5L84.7 70.9L85.5 72.4L86.3 73.7L87.1 74.9L88.0 76.1L88.8 77.2L89.6 78.4L90.4 79.6L91.2 80.8L92.1 82.2L92.9 83.6L93.7 85.1L94.5 86.7L95.4 88.4L96.2 90.0L97.0 91.7L97.8 93.3L98.7 94.9L99.5 96.5L100.3 98.0L101.1 99.5L101.9 101.1L102.8 102.9L103.6 105.2L104.4 107.9L105.2 110.0L106.1 111.1L106.9 111.8L107.7 112.5L108.5 113.0L109.4 113.4L110.2 113.7L111.0 114.0L111.8 114.3L112.6 114.6L113.5 114.8L114.3 115.0L115.1 115.2L115.9 115.4L116.8 115.6L117.6 115.8L118.4 115.9L119.2 116.0L120.0 116.1L120.9 116.1L121.7 116.1L122.5 116.2L123.3 116.2L124.2 116.2L125.0 116.1L125.8 116.0L126.6 115.8L127.5 115.7L128.3 115.8L129.1 116.1L129.9 116.5L130.7 117.1L131.6 117.6L132.4 118.2L133.2 119.0L134.0 119.7L134.9 120.4" fill="none" stroke="#c0e0e1" stroke-width="0.6" stroke-opacity="0.6" stroke-linejoin="round"/><path d="M134.9 120.4L135.7 120.9L136.5 121.2L137.3 121.6L138.2 121.8L139.0 122.1L139.8 122.3L140.6 122.6L141.4 122.7L142.3 122.9L143.1 123.0L143.9 123.1L144.7 123.2L145.6 123.3L146.4 123.4L147.2 123.5L148.0 123.5L148.8 123.6L149.7 123.7L150.5 123.7L151.3 123.8L152.1 123.8L153.0 123.9L153.8 123.9L154.6 124.0L155.4 124.0L156.3 124.0L157.1 124.1L157.9 124.1L158.7 124.1L159.5 124.1L160.4 124.1" fill="none" stroke="#c0e0e1" stroke-width="0.6" stroke-opacity="0.36" stroke-linejoin="round"/>
<path d="M36.9 67.1L37.8 66.4L38.6 65.6L39.4 64.7L40.2 63.9L41.0 63.1L41.9 62.2L42.7 61.3L43.5 60.5L44.3 59.5L45.2 58.4L46.0 57.2L46.8 55.9L47.6 54.8L48.5 53.8L49.3 53.2L50.1 53.0L50.9 53.3L51.7 54.0L52.6 55.2L53.4 56.7L54.2 58.3L55.0 59.9L55.9 61.5L56.7 62.9L57.5 64.1L58.3 64.8L59.2 65.0L60.0 65.0L60.8 65.0L61.6 64.9L62.4 64.8L63.3 64.6L64.1 64.4L64.9 64.3L65.7 64.1L66.6 63.8L67.4 63.6L68.2 63.4L69.0 63.2L69.9 62.9L70.7 62.7L71.5 62.5L72.3 62.3L73.1 62.1L74.0 62.0L74.8 61.8L75.6 61.7L76.4 61.6L77.3 61.6L78.1 61.6L78.9 62.0L79.7 63.0L80.5 64.3L81.4 65.4L82.2 66.3L83.0 67.1L83.8 68.0L84.7 68.9L85.5 69.9L86.3 71.0L87.1 72.3L88.0 73.9L88.8 75.6L89.6 77.4L90.4 79.2L91.2 80.9L92.1 82.4L92.9 83.9L93.7 85.3L94.5 86.6L95.4 87.9L96.2 89.3L97.0 90.6L97.8 92.0L98.7 93.4L99.5 94.8L100.3 96.2L101.1 97.7L101.9 99.3L102.8 101.1L103.6 103.7L104.4 106.8L105.2 109.2L106.1 110.4L106.9 111.2L107.7 111.8L108.5 112.4L109.4 112.8L110.2 113.2L111.0 113.5L111.8 113.8L112.6 114.0L113.5 114.3L114.3 114.5L115.1 114.7L115.9 114.9L116.8 115.1L117.6 115.3L118.4 115.5L119.2 115.6L120.0 115.6L120.9 115.7L121.7 115.7L122.5 115.7L123.3 115.7L124.2 115.7L125.0 115.7L125.8 115.5L126.6 115.4L127.5 115.3L128.3 115.3L129.1 115.7L129.9 116.1L130.7 116.7L131.6 117.2L132.4 117.9L133.2 118.7L134.0 119.5L134.9 120.2" fill="none" stroke="#b0d2e5" stroke-width="0.6" stroke-opacity="0.6" stroke-linejoin="round"/><path d="M134.9 120.2L135.7 120.7L136.5 121.1L137.3 121.5L138.2 121.8L139.0 122.1L139.8 122.4L140.6 122.7L141.4 122.9L142.3 123.1L143.1 123.2L143.9 123.3L144.7 123.3L145.6 123.4L146.4 123.4L147.2 123.4L148.0 123.5L148.8 123.5L149.7 123.5L150.5 123.6L151.3 123.6L152.1 123.6L153.0 123.6L153.8 123.6L154.6 123.7L155.4 123.7L156.3 123.7L157.1 123.7L157.9 123.7L158.7 123.7L159.5 123.7L160.4 123.7" fill="none" stroke="#b0d2e5" stroke-width="0.6" stroke-opacity="0.36" stroke-linejoin="round"/>
<path d="M36.9 85.1L37.8 84.4L38.6 83.7L39.4 83.1L40.2 82.5L41.0 81.9L41.9 81.4L42.7 80.9L43.5 80.4L44.3 80.0L45.2 79.5L46.0 79.1L46.8 78.6L47.6 78.2L48.5 77.9L49.3 77.7L50.1 77.6L50.9 77.7L51.7 77.9L52.6 78.2L53.4 78.6L54.2 79.1L55.0 79.7L55.9 80.2L56.7 80.8L57.5 81.4L58.3 81.9L59.2 82.4L60.0 82.8L60.8 83.1L61.6 83.3L62.4 83.3L63.3 83.3L64.1 83.3L64.9 83.3L65.7 83.3L66.6 83.2L67.4 83.2L68.2 83.1L69.0 83.1L69.9 83.0L70.7 83.0L71.5 82.9L72.3 82.9L73.1 82.8L74.0 82.8L74.8 82.8L75.6 82.8L76.4 82.8L77.3 82.9L78.1 83.1L78.9 83.5L79.7 83.9L80.5 84.4L81.4 84.9L82.2 85.5L83.0 86.2L83.8 87.1L84.7 88.0L85.5 88.9L86.3 89.9L87.1 90.8L88.0 91.9L88.8 92.9L89.6 94.0L90.4 95.1L91.2 96.1L92.1 97.1L92.9 98.0L93.7 98.9L94.5 99.8L95.4 100.7L96.2 101.6L97.0 102.5L97.8 103.5L98.7 104.5L99.5 105.6L100.3 106.7L101.1 107.9L101.9 109.1L102.8 110.4L103.6 111.9L104.4 113.6L105.2 114.9L106.1 115.6L106.9 116.1L107.7 116.5L108.5 116.9L109.4 117.2L110.2 117.4L111.0 117.6L111.8 117.8L112.6 117.9L113.5 118.1L114.3 118.2L115.1 118.3L115.9 118.5L116.8 118.6L117.6 118.7L118.4 118.8L119.2 118.9L120.0 118.9L120.9 118.9L121.7 119.0L122.5 119.0L123.3 119.0L124.2 119.0L125.0 119.0L125.8 118.9L126.6 118.8L127.5 118.7L128.3 118.7L129.1 118.9L129.9 119.2L130.7 119.6L131.6 119.9L132.4 120.3L133.2 120.8L134.0 121.3L134.9 121.8" fill="none" stroke="#4480cd" stroke-width="0.6" stroke-opacity="0.6" stroke-linejoin="round"/><path d="M134.9 121.8L135.7 122.1L136.5 122.3L137.3 122.6L138.2 122.8L139.0 123.0L139.8 123.1L140.6 123.3L141.4 123.4L142.3 123.6L143.1 123.7L143.9 123.7L144.7 123.8L145.6 123.9L146.4 123.9L147.2 124.0L148.0 124.0L148.8 124.1L149.7 124.2L150.5 124.2L151.3 124.3L152.1 124.3L153.0 124.3L153.8 124.4L154.6 124.4L155.4 124.4L156.3 124.5L157.1 124.5L157.9 124.5L158.7 124.5L159.5 124.5L160.4 124.5" fill="none" stroke="#4480cd" stroke-width="0.6" stroke-opacity="0.36" stroke-linejoin="round"/>
<path d="M36.9 86.7L37.8 85.8L38.6 84.9L39.4 84.0L40.2 83.1L41.0 82.2L41.9 81.3L42.7 80.4L43.5 79.5L44.3 78.6L45.2 77.5L46.0 76.3L46.8 75.1L47.6 74.1L48.5 73.2L49.3 72.6L50.1 72.4L50.9 72.4L51.7 72.7L52.6 73.0L53.4 73.4L54.2 73.9L55.0 74.4L55.9 74.9L56.7 75.3L57.5 75.7L58.3 76.0L59.2 76.2L60.0 76.2L60.8 76.2L61.6 76.2L62.4 76.1L63.3 75.9L64.1 75.8L64.9 75.7L65.7 75.5L66.6 75.3L67.4 75.1L68.2 75.0L69.0 74.8L69.9 74.6L70.7 74.4L71.5 74.3L72.3 74.2L73.1 74.0L74.0 73.9L74.8 73.9L75.6 73.9L76.4 74.0L77.3 74.9L78.1 76.1L78.9 77.7L79.7 79.3L80.5 80.8L81.4 81.9L82.2 82.8L83.0 83.6L83.8 84.3L84.7 85.0L85.5 85.8L86.3 86.6L87.1 87.6L88.0 88.7L88.8 89.8L89.6 91.0L90.4 92.2L91.2 93.3L92.1 94.3L92.9 95.3L93.7 96.2L94.5 97.2L95.4 98.1L96.2 99.0L97.0 99.9L97.8 100.9L98.7 101.9L99.5 102.9L100.3 104.0L101.1 105.2L101.9 106.4L102.8 107.8L103.6 109.9L104.4 112.3L105.2 114.2L106.1 115.0L106.9 115.5L107.7 116.0L108.5 116.3L109.4 116.6L110.2 116.9L111.0 117.1L111.8 117.3L112.6 117.4L113.5 117.6L114.3 117.7L115.1 117.9L115.9 118.0L116.8 118.2L117.6 118.3L118.4 118.4L119.2 118.5L120.0 118.5L120.9 118.5L121.7 118.6L122.5 118.6L123.3 118.6L124.2 118.6L125.0 118.6L125.8 118.5L126.6 118.4L127.5 118.3L128.3 118.3L129.1 118.5L129.9 118.9L130.7 119.2L131.6 119.6L132.4 120.0L133.2 120.6L134.0 121.1L134.9 121.6" fill="none" stroke="#3272c6" stroke-width="0.6" stroke-opacity="0.6" stroke-linejoin="round"/><path d="M134.9 121.6L135.7 121.9L136.5 122.2L137.3 122.5L138.2 122.7L139.0 123.0L139.8 123.2L140.6 123.4L141.4 123.5L142.3 123.6L143.1 123.7L143.9 123.8L144.7 123.8L145.6 123.8L146.4 123.7L147.2 123.7L148.0 123.7L148.8 123.7L149.7 123.7L150.5 123.7L151.3 123.7L152.1 123.7L153.0 123.7L153.8 123.7L154.6 123.7L155.4 123.6L156.3 123.6L157.1 123.6L157.9 123.6L158.7 123.5L159.5 123.5L160.4 123.5" fill="none" stroke="#3272c6" stroke-width="0.6" stroke-opacity="0.36" stroke-linejoin="round"/>
<path d="M36.9 81.6L37.8 80.9L38.6 80.1L39.4 79.4L40.2 78.6L41.0 77.9L41.9 77.2L42.7 76.5L43.5 75.7L44.3 75.0L45.2 74.1L46.0 73.2L46.8 72.3L47.6 71.5L48.5 70.8L49.3 70.4L50.1 70.2L50.9 70.3L51.7 70.4L52.6 70.7L53.4 71.1L54.2 71.5L55.0 71.9L55.9 72.4L56.7 72.9L57.5 73.4L58.3 73.8L59.2 74.2L60.0 74.5L60.8 74.8L61.6 75.0L62.4 75.0L63.3 75.0L64.1 74.9L64.9 74.7L65.7 74.5L66.6 74.3L67.4 74.0L68.2 73.7L69.0 73.4L69.9 73.1L70.7 72.9L71.5 72.6L72.3 72.4L73.1 72.2L74.0 72.0L74.8 71.9L75.6 71.8L76.4 72.0L77.3 72.5L78.1 73.4L78.9 74.4L79.7 75.5L80.5 76.7L81.4 77.8L82.2 79.0L83.0 80.3L83.8 81.7L84.7 83.1L85.5 84.5L86.3 85.8L87.1 87.0L88.0 88.2L88.8 89.3L89.6 90.4L90.4 91.5L91.2 92.5L92.1 93.5L92.9 94.4L93.7 95.3L94.5 96.1L95.4 96.9L96.2 97.7L97.0 98.6L97.8 99.5L98.7 100.6L99.5 101.9L100.3 103.4L101.1 105.0L101.9 106.6L102.8 108.2L103.6 109.8L104.4 111.3L105.2 112.6L106.1 113.4L106.9 114.0L107.7 114.6L108.5 115.0L109.4 115.3L110.2 115.6L111.0 115.9L111.8 116.1L112.6 116.3L113.5 116.5L114.3 116.7L115.1 116.8L115.9 117.0L116.8 117.2L117.6 117.3L118.4 117.4L119.2 117.5L120.0 117.6L120.9 117.6L121.7 117.6L122.5 117.6L123.3 117.6L124.2 117.7L125.0 117.6L125.8 117.5L126.6 117.4L127.5 117.3L128.3 117.3L129.1 117.6L129.9 117.9L130.7 118.4L131.6 118.8L132.4 119.3L133.2 120.0L134.0 120.6L134.9 121.2" fill="none" stroke="#4480cd" stroke-width="0.6" stroke-opacity="0.6" stroke-linejoin="round"/><path d="M134.9 121.2L135.7 121.5L136.5 121.7L137.3 121.9L138.2 122.0L139.0 122.2L139.8 122.3L140.6 122.4L141.4 122.4L142.3 122.5L143.1 122.6L143.9 122.7L144.7 122.8L145.6 122.8L146.4 122.9L147.2 123.0L148.0 123.1L148.8 123.1L149.7 123.2L150.5 123.3L151.3 123.3L152.1 123.4L153.0 123.4L153.8 123.5L154.6 123.6L155.4 123.6L156.3 123.6L157.1 123.7L157.9 123.7L158.7 123.7L159.5 123.8L160.4 123.8" fill="none" stroke="#4480cd" stroke-width="0.6" stroke-opacity="0.36" stroke-linejoin="round"/>
<path d="M36.9 77.1L37.8 76.1L38.6 75.2L39.4 74.3L40.2 73.5L41.0 72.7L41.9 72.0L42.7 71.3L43.5 70.7L44.3 70.1L45.2 69.4L46.0 68.8L46.8 68.2L47.6 67.7L48.5 67.3L49.3 67.0L50.1 66.9L50.9 67.1L51.7 67.4L52.6 68.0L53.4 68.7L54.2 69.6L55.0 70.5L55.9 71.4L56.7 72.2L57.5 73.1L58.3 73.8L59.2 74.3L60.0 74.6L60.8 74.7L61.6 74.7L62.4 74.5L63.3 74.3L64.1 74.0L64.9 73.6L65.7 73.2L66.6 72.7L67.4 72.3L68.2 71.8L69.0 71.3L69.9 70.8L70.7 70.4L71.5 70.0L72.3 69.6L73.1 69.3L74.0 69.0L74.8 68.8L75.6 68.8L76.4 68.8L77.3 69.2L78.1 69.9L78.9 70.7L79.7 71.6L80.5 72.6L81.4 73.5L82.2 74.4L83.0 75.4L83.8 76.5L84.7 77.6L85.5 78.8L86.3 80.0L87.1 81.4L88.0 82.9L88.8 84.5L89.6 86.1L90.4 87.7L91.2 89.2L92.1 90.6L92.9 91.8L93.7 93.0L94.5 94.1L95.4 95.2L96.2 96.3L97.0 97.5L97.8 98.7L98.7 100.0L99.5 101.4L100.3 102.9L101.1 104.6L101.9 106.2L102.8 107.7L103.6 109.2L104.4 110.6L105.2 111.8L106.1 112.6L106.9 113.3L107.7 113.9L108.5 114.3L109.4 114.7L110.2 115.0L111.0 115.3L111.8 115.5L112.6 115.8L113.5 115.9L114.3 116.1L115.1 116.3L115.9 116.5L116.8 116.7L117.6 116.8L118.4 117.0L119.2 117.0L120.0 117.1L120.9 117.1L121.7 117.1L122.5 117.2L123.3 117.2L124.2 117.2L125.0 117.1L125.8 117.0L126.6 116.9L127.5 116.8L128.3 116.8L129.1 117.1L129.9 117.5L130.7 118.0L131.6 118.4L132.4 119.0L133.2 119.7L134.0 120.3L134.9 120.9" fill="none" stroke="#4d87d0" stroke-width="0.6" stroke-opacity="0.6" stroke-linejoin="round"/><path d="M134.9 120.9L135.7 121.3L136.5 121.6L137.3 121.8L138.2 122.1L139.0 122.3L139.8 122.4L140.6 122.6L141.4 122.7L142.3 122.8L143.1 122.9L143.9 123.0L144.7 123.0L145.6 123.1L146.4 123.1L147.2 123.2L148.0 123.2L148.8 123.2L149.7 123.3L150.5 123.3L151.3 123.3L152.1 123.4L153.0 123.4L153.8 123.4L154.6 123.4L155.4 123.4L156.3 123.5L157.1 123.5L157.9 123.5L158.7 123.5L159.5 123.5L160.4 123.5" fill="none" stroke="#4d87d0" stroke-width="0.6" stroke-opacity="0.36" stroke-linejoin="round"/>
<path d="M36.9 72.3L37.8 72.2L38.6 72.1L39.4 71.9L40.2 71.6L41.0 71.4L41.9 71.0L42.7 70.7L43.5 70.3L44.3 69.9L45.2 69.2L46.0 68.4L46.8 67.5L47.6 66.6L48.5 65.9L49.3 65.3L50.1 65.1L50.9 65.2L51.7 65.4L52.6 65.8L53.4 66.2L54.2 66.7L55.0 67.2L55.9 67.7L56.7 68.1L57.5 68.6L58.3 68.9L59.2 69.1L60.0 69.2L60.8 69.2L61.6 69.1L62.4 68.9L63.3 68.7L64.1 68.5L64.9 68.2L65.7 67.8L66.6 67.5L67.4 67.1L68.2 66.8L69.0 66.4L69.9 66.1L70.7 65.8L71.5 65.6L72.3 65.4L73.1 65.2L74.0 65.2L74.8 65.2L75.6 65.6L76.4 66.1L77.3 66.9L78.1 67.9L78.9 68.9L79.7 70.0L80.5 71.1L81.4 72.2L82.2 73.3L83.0 74.6L83.8 76.0L84.7 77.5L85.5 78.9L86.3 80.2L87.1 81.4L88.0 82.6L88.8 83.7L89.6 84.8L90.4 86.0L91.2 87.1L92.1 88.3L92.9 89.6L93.7 90.9L94.5 92.2L95.4 93.5L96.2 94.8L97.0 96.2L97.8 97.6L98.7 99.0L99.5 100.5L100.3 102.0L101.1 103.6L101.9 105.1L102.8 106.7L103.6 108.4L104.4 110.2L105.2 111.6L106.1 112.5L106.9 113.2L107.7 113.7L108.5 114.2L109.4 114.6L110.2 114.9L111.0 115.2L111.8 115.4L112.6 115.6L113.5 115.8L114.3 116.0L115.1 116.2L115.9 116.4L116.8 116.6L117.6 116.7L118.4 116.9L119.2 116.9L120.0 117.0L120.9 117.0L121.7 117.0L122.5 117.1L123.3 117.1L124.2 117.1L125.0 117.0L125.8 116.9L126.6 116.8L127.5 116.7L128.3 116.7L129.1 117.0L129.9 117.4L130.7 117.9L131.6 118.3L132.4 118.9L133.2 119.5L134.0 120.2L134.9 120.8" fill="none" stroke="#598fd2" stroke-width="0.6" stroke-opacity="0.6" stroke-linejoin="round"/><path d="M134.9 120.8L135.7 121.3L136.5 121.7L137.3 122.0L138.2 122.4L139.0 122.7L139.8 123.0L140.6 123.2L141.4 123.5L142.3 123.6L143.1 123.7L143.9 123.8L144.7 123.8L145.6 123.8L146.4 123.8L147.2 123.8L148.0 123.9L148.8 123.9L149.7 123.9L150.5 123.9L151.3 123.9L152.1 123.9L153.0 123.9L153.8 123.9L154.6 123.9L155.4 123.9L156.3 123.9L157.1 123.9L157.9 123.9L158.7 123.9L159.5 123.9L160.4 123.9" fill="none" stroke="#598fd2" stroke-width="0.6" stroke-opacity="0.36" stroke-linejoin="round"/>
<path d="M36.9 73.9L37.8 72.6L38.6 71.3L39.4 70.0L40.2 68.9L41.0 67.8L41.9 66.8L42.7 65.9L43.5 65.2L44.3 64.5L45.2 63.9L46.0 63.3L46.8 62.7L47.6 62.2L48.5 61.8L49.3 61.6L50.1 61.5L50.9 61.5L51.7 61.6L52.6 61.7L53.4 61.9L54.2 62.1L55.0 62.3L55.9 62.5L56.7 62.7L57.5 62.9L58.3 63.1L59.2 63.3L60.0 63.4L60.8 63.5L61.6 63.5L62.4 63.5L63.3 63.5L64.1 63.4L64.9 63.3L65.7 63.2L66.6 63.1L67.4 63.0L68.2 62.9L69.0 62.8L69.9 62.7L70.7 62.6L71.5 62.5L72.3 62.4L73.1 62.4L74.0 62.3L74.8 62.3L75.6 62.3L76.4 62.4L77.3 62.8L78.1 63.3L78.9 64.0L79.7 64.8L80.5 65.7L81.4 66.6L82.2 67.7L83.0 69.1L83.8 70.8L84.7 72.6L85.5 74.3L86.3 76.0L87.1 77.6L88.0 79.2L88.8 80.8L89.6 82.4L90.4 83.9L91.2 85.4L92.1 86.7L92.9 88.0L93.7 89.2L94.5 90.4L95.4 91.5L96.2 92.7L97.0 93.9L97.8 95.1L98.7 96.5L99.5 98.0L100.3 99.6L101.1 101.3L101.9 103.0L102.8 104.7L103.6 106.6L104.4 108.5L105.2 110.1L106.1 111.0L106.9 111.8L107.7 112.4L108.5 113.0L109.4 113.4L110.2 113.7L111.0 114.1L111.8 114.3L112.6 114.6L113.5 114.8L114.3 115.0L115.1 115.2L115.9 115.4L116.8 115.6L117.6 115.8L118.4 115.9L119.2 116.0L120.0 116.1L120.9 116.1L121.7 116.1L122.5 116.2L123.3 116.2L124.2 116.2L125.0 116.1L125.8 116.0L126.6 115.9L127.5 115.8L128.3 115.8L129.1 116.1L129.9 116.6L130.7 117.1L131.6 117.6L132.4 118.2L133.2 119.0L134.0 119.8L134.9 120.4" fill="none" stroke="#3d7bca" stroke-width="0.6" stroke-opacity="0.6" stroke-linejoin="round"/><path d="M134.9 120.4L135.7 120.9L136.5 121.2L137.3 121.5L138.2 121.8L139.0 122.1L139.8 122.3L140.6 122.5L141.4 122.7L142.3 122.8L143.1 122.9L143.9 123.0L144.7 123.1L145.6 123.1L146.4 123.2L147.2 123.2L148.0 123.3L148.8 123.3L149.7 123.4L150.5 123.4L151.3 123.4L152.1 123.5L153.0 123.5L153.8 123.5L154.6 123.6L155.4 123.6L156.3 123.6L157.1 123.6L157.9 123.6L158.7 123.6L159.5 123.6L160.4 123.6" fill="none" stroke="#3d7bca" stroke-width="0.6" stroke-opacity="0.36" stroke-linejoin="round"/>
<path d="M36.9 64.6L37.8 64.2L38.6 63.7L39.4 63.2L40.2 62.7L41.0 62.1L41.9 61.5L42.7 60.8L43.5 60.1L44.3 59.1L45.2 58.1L46.0 56.9L46.8 55.9L47.6 55.0L48.5 54.4L49.3 54.1L50.1 54.3L50.9 54.6L51.7 55.1L52.6 55.7L53.4 56.3L54.2 57.0L55.0 57.6L55.9 58.1L56.7 58.4L57.5 58.8L58.3 59.2L59.2 59.5L60.0 59.7L60.8 59.8L61.6 59.7L62.4 59.3L63.3 58.7L64.1 58.0L64.9 57.1L65.7 56.3L66.6 55.5L67.4 54.7L68.2 53.8L69.0 52.7L69.9 51.5L70.7 50.4L71.5 49.3L72.3 48.3L73.1 47.6L74.0 47.1L74.8 47.1L75.6 47.5L76.4 48.5L77.3 49.7L78.1 51.2L78.9 52.8L79.7 54.4L80.5 56.1L81.4 58.1L82.2 60.3L83.0 62.7L83.8 65.0L84.7 67.2L85.5 69.2L86.3 71.1L87.1 72.9L88.0 74.7L88.8 76.5L89.6 78.3L90.4 80.2L91.2 82.1L92.1 84.0L92.9 86.0L93.7 88.0L94.5 90.0L95.4 91.9L96.2 93.9L97.0 95.7L97.8 97.5L98.7 99.3L99.5 100.9L100.3 102.5L101.1 104.2L101.9 105.8L102.8 107.4L103.6 109.3L104.4 111.3L105.2 112.8L106.1 113.6L106.9 114.2L107.7 114.7L108.5 115.1L109.4 115.5L110.2 115.8L111.0 116.0L111.8 116.2L112.6 116.4L113.5 116.6L114.3 116.8L115.1 116.9L115.9 117.1L116.8 117.3L117.6 117.4L118.4 117.5L119.2 117.6L120.0 117.7L120.9 117.7L121.7 117.7L122.5 117.7L123.3 117.7L124.2 117.8L125.0 117.7L125.8 117.6L126.6 117.5L127.5 117.4L128.3 117.4L129.1 117.7L129.9 118.0L130.7 118.5L131.6 118.9L132.4 119.4L133.2 120.1L134.0 120.7L134.9 121.2" fill="none" stroke="#9ac0e1" stroke-width="0.6" stroke-opacity="0.6" stroke-linejoin="round"/><path d="M134.9 121.2L135.7 121.6L136.5 121.8L137.3 121.9L138.2 122.1L139.0 122.2L139.8 122.3L140.6 122.4L141.4 122.5L142.3 122.5L143.1 122.6L143.9 122.7L144.7 122.8L145.6 122.9L146.4 123.0L147.2 123.1L148.0 123.1L148.8 123.2L149.7 123.3L150.5 123.4L151.3 123.5L152.1 123.5L153.0 123.6L153.8 123.7L154.6 123.7L155.4 123.8L156.3 123.9L157.1 123.9L157.9 124.0L158.7 124.0L159.5 124.1L160.4 124.1" fill="none" stroke="#9ac0e1" stroke-width="0.6" stroke-opacity="0.36" stroke-linejoin="round"/>
<path d="M36.9 71.1L37.8 69.3L38.6 67.7L39.4 66.1L40.2 64.7L41.0 63.3L41.9 62.1L42.7 61.0L43.5 60.0L44.3 59.2L45.2 58.5L46.0 57.9L46.8 57.5L47.6 57.2L48.5 57.1L49.3 57.1L50.1 57.4L50.9 57.8L51.7 58.3L52.6 58.9L53.4 59.5L54.2 60.0L55.0 60.5L55.9 60.7L56.7 60.8L57.5 60.8L58.3 60.8L59.2 60.7L60.0 60.7L60.8 60.7L61.6 60.7L62.4 60.7L63.3 60.6L64.1 60.6L64.9 60.6L65.7 60.4L66.6 60.2L67.4 60.0L68.2 59.7L69.0 59.4L69.9 59.0L70.7 58.7L71.5 58.4L72.3 58.2L73.1 58.0L74.0 57.9L74.8 57.9L75.6 58.1L76.4 58.5L77.3 59.0L78.1 59.7L78.9 60.4L79.7 61.2L80.5 62.0L81.4 63.0L82.2 64.2L83.0 65.6L83.8 67.0L84.7 68.4L85.5 69.8L86.3 71.1L87.1 72.3L88.0 73.4L88.8 74.6L89.6 75.7L90.4 76.9L91.2 78.2L92.1 79.7L92.9 81.3L93.7 83.1L94.5 85.0L95.4 87.0L96.2 88.9L97.0 90.9L97.8 92.7L98.7 94.5L99.5 96.2L100.3 97.9L101.1 99.7L101.9 101.5L102.8 103.4L103.6 105.7L104.4 108.3L105.2 110.3L106.1 111.3L106.9 112.1L107.7 112.7L108.5 113.2L109.4 113.6L110.2 113.9L111.0 114.2L111.8 114.5L112.6 114.7L113.5 114.9L114.3 115.1L115.1 115.3L115.9 115.5L116.8 115.7L117.6 115.9L118.4 116.1L119.2 116.2L120.0 116.2L120.9 116.2L121.7 116.3L122.5 116.3L123.3 116.3L124.2 116.3L125.0 116.3L125.8 116.1L126.6 116.0L127.5 115.9L128.3 116.0L129.1 116.2L129.9 116.7L130.7 117.2L131.6 117.7L132.4 118.3L133.2 119.1L134.0 119.9L134.9 120.5" fill="none" stroke="#7ea8d8" stroke-width="0.6" stroke-opacity="0.6" stroke-linejoin="round"/><path d="M134.9 120.5L135.7 121.0L136.5 121.2L137.3 121.5L138.2 121.7L139.0 121.9L139.8 122.1L140.6 122.2L141.4 122.4L142.3 122.5L143.1 122.6L143.9 122.7L144.7 122.8L145.6 122.8L146.4 122.9L147.2 123.0L148.0 123.1L148.8 123.1L149.7 123.2L150.5 123.3L151.3 123.3L152.1 123.4L153.0 123.4L153.8 123.5L154.6 123.5L155.4 123.6L156.3 123.6L157.1 123.6L157.9 123.6L158.7 123.7L159.5 123.7L160.4 123.7" fill="none" stroke="#7ea8d8" stroke-width="0.6" stroke-opacity="0.36" stroke-linejoin="round"/></g>
<rect x="32.20" y="13.50" width="133.4" height="118.40" fill="none" stroke="#b5b5b5" stroke-width="0.9"/>
<line x1="29.60" y1="124.40" x2="32.20" y2="124.40" stroke="#b5b5b5" stroke-width="0.8"/>
<text x="26.35" y="124.40" font-size="3.8" text-anchor="middle" font-weight="bold" fill="#1e1e1e" stroke="#1e1e1e" stroke-width="0.12" transform="rotate(-90 26.35 124.40)" textLength="10.0" lengthAdjust="spacingAndGlyphs">0.000</text>
<line x1="29.60" y1="108.25" x2="32.20" y2="108.25" stroke="#b5b5b5" stroke-width="0.8"/>
<text x="26.35" y="108.25" font-size="3.8" text-anchor="middle" font-weight="bold" fill="#1e1e1e" stroke="#1e1e1e" stroke-width="0.12" transform="rotate(-90 26.35 108.25)" textLength="10.0" lengthAdjust="spacingAndGlyphs">0.001</text>
<line x1="29.60" y1="92.10" x2="32.20" y2="92.10" stroke="#b5b5b5" stroke-width="0.8"/>
<text x="26.35" y="92.10" font-size="3.8" text-anchor="middle" font-weight="bold" fill="#1e1e1e" stroke="#1e1e1e" stroke-width="0.12" transform="rotate(-90 26.35 92.10)" textLength="10.0" lengthAdjust="spacingAndGlyphs">0.002</text>
<line x1="29.60" y1="75.95" x2="32.20" y2="75.95" stroke="#b5b5b5" stroke-width="0.8"/>
<text x="26.35" y="75.95" font-size="3.8" text-anchor="middle" font-weight="bold" fill="#1e1e1e" stroke="#1e1e1e" stroke-width="0.12" transform="rotate(-90 26.35 75.95)" textLength="10.0" lengthAdjust="spacingAndGlyphs">0.003</text>
<line x1="29.60" y1="59.80" x2="32.20" y2="59.80" stroke="#b5b5b5" stroke-width="0.8"/>
<text x="26.35" y="59.80" font-size="3.8" text-anchor="middle" font-weight="bold" fill="#1e1e1e" stroke="#1e1e1e" stroke-width="0.12" transform="rotate(-90 26.35 59.80)" textLength="10.0" lengthAdjust="spacingAndGlyphs">0.004</text>
<line x1="29.60" y1="43.65" x2="32.20" y2="43.65" stroke="#b5b5b5" stroke-width="0.8"/>
<text x="26.35" y="43.65" font-size="3.8" text-anchor="middle" font-weight="bold" fill="#1e1e1e" stroke="#1e1e1e" stroke-width="0.12" transform="rotate(-90 26.35 43.65)" textLength="10.0" lengthAdjust="spacingAndGlyphs">0.005</text>
<line x1="29.60" y1="27.50" x2="32.20" y2="27.50" stroke="#b5b5b5" stroke-width="0.8"/>
<text x="26.35" y="27.50" font-size="3.8" text-anchor="middle" font-weight="bold" fill="#1e1e1e" stroke="#1e1e1e" stroke-width="0.12" transform="rotate(-90 26.35 27.50)" textLength="10.0" lengthAdjust="spacingAndGlyphs">0.006</text>
<line x1="50.65" y1="131.90" x2="50.65" y2="134.50" stroke="#b5b5b5" stroke-width="0.8"/>
<text x="50.65" y="140.65" font-size="4.0" text-anchor="middle" font-weight="bold" fill="#1e1e1e" stroke="#1e1e1e" stroke-width="0.12" textLength="7.0" lengthAdjust="spacingAndGlyphs">400</text>
<line x1="78.08" y1="131.90" x2="78.08" y2="134.50" stroke="#b5b5b5" stroke-width="0.8"/>
<text x="78.08" y="140.65" font-size="4.0" text-anchor="middle" font-weight="bold" fill="#1e1e1e" stroke="#1e1e1e" stroke-width="0.12" textLength="7.0" lengthAdjust="spacingAndGlyphs">500</text>
<line x1="105.51" y1="131.90" x2="105.51" y2="134.50" stroke="#b5b5b5" stroke-width="0.8"/>
<text x="105.51" y="140.65" font-size="4.0" text-anchor="middle" font-weight="bold" fill="#1e1e1e" stroke="#1e1e1e" stroke-width="0.12" textLength="7.0" lengthAdjust="spacingAndGlyphs">600</text>
<line x1="132.94" y1="131.90" x2="132.94" y2="134.50" stroke="#b5b5b5" stroke-width="0.8"/>
<text x="132.94" y="140.65" font-size="4.0" text-anchor="middle" font-weight="bold" fill="#1e1e1e" stroke="#1e1e1e" stroke-width="0.12" textLength="7.0" lengthAdjust="spacingAndGlyphs">700</text>
<line x1="160.37" y1="131.90" x2="160.37" y2="134.50" stroke="#b5b5b5" stroke-width="0.8"/>
<text x="160.37" y="140.65" font-size="4.0" text-anchor="middle" font-weight="bold" fill="#1e1e1e" stroke="#1e1e1e" stroke-width="0.12" textLength="7.0" lengthAdjust="spacingAndGlyphs">800</text>
<g transform="rotate(-90)" font-family='"Liberation Serif", serif' font-weight="bold" fill="#1a1a1a" stroke="#1a1a1a" stroke-width="0.3"><text x="-94.60" y="19.10" font-size="9" textLength="6.3" lengthAdjust="spacingAndGlyphs">R</text><text x="-87.70" y="19.60" font-size="5.4" textLength="3.6" lengthAdjust="spacingAndGlyphs">rs</text><text x="-79.20" y="19.70" font-size="9" textLength="2.8" lengthAdjust="spacingAndGlyphs">[</text><text x="-75.40" y="19.10" font-size="9" textLength="6.7" lengthAdjust="spacingAndGlyphs">sr</text><text x="-68.60" y="15.10" font-size="5.0" textLength="4.6" lengthAdjust="spacingAndGlyphs">-1</text><text x="-62.00" y="19.70" font-size="9" textLength="2.8" lengthAdjust="spacingAndGlyphs">]</text></g>
<text x="101.30" y="155.50" font-size="8.2" text-anchor="middle" font-weight="bold" fill="#1a1a1a" stroke="#1a1a1a" stroke-width="0.4" textLength="73.6" lengthAdjust="spacingAndGlyphs">Wavelength [nm]</text>
<text x="95.30" y="23.00" font-size="9.0" text-anchor="middle" font-weight="bold" fill="#1a1a1a" stroke="#1a1a1a" stroke-width="0.4" textLength="22.7" lengthAdjust="spacingAndGlyphs">2013</text>
<text x="121.80" y="20.80" font-size="6.7" fill="#1a1a1a" stroke="#1a1a1a" stroke-width="0.1" textLength="35.9" lengthAdjust="spacingAndGlyphs">Chla [mg m</text>
<text x="158.00" y="18.30" font-size="3.8" fill="#1a1a1a" textLength="3.3" lengthAdjust="spacingAndGlyphs">-3</text>
<text x="162.10" y="20.80" font-size="6.7" fill="#1a1a1a" stroke="#1a1a1a" stroke-width="0.1">]</text>
<rect x="149.45" y="24.20" width="11.45" height="84.40" fill="url(#cb)"/>
<line x1="148.05" y1="25.80" x2="149.45" y2="25.80" stroke="#777" stroke-width="0.5"/>
<text x="147.30" y="28.55" font-size="6.3" text-anchor="end" font-weight="normal" fill="#1a1a1a" stroke="#1a1a1a" stroke-width="0.1">10</text>
<line x1="148.05" y1="40.90" x2="149.45" y2="40.90" stroke="#777" stroke-width="0.5"/>
<text x="147.30" y="43.65" font-size="6.3" text-anchor="end" font-weight="normal" fill="#1a1a1a" stroke="#1a1a1a" stroke-width="0.1">8</text>
<line x1="148.05" y1="57.40" x2="149.45" y2="57.40" stroke="#777" stroke-width="0.5"/>
<text x="147.30" y="60.15" font-size="6.3" text-anchor="end" font-weight="normal" fill="#1a1a1a" stroke="#1a1a1a" stroke-width="0.1">6</text>
<line x1="148.05" y1="74.25" x2="149.45" y2="74.25" stroke="#777" stroke-width="0.5"/>
<text x="147.30" y="77.00" font-size="6.3" text-anchor="end" font-weight="normal" fill="#1a1a1a" stroke="#1a1a1a" stroke-width="0.1">4</text>
<line x1="148.05" y1="91.30" x2="149.45" y2="91.30" stroke="#777" stroke-width="0.5"/>
<text x="147.30" y="94.05" font-size="6.3" text-anchor="end" font-weight="normal" fill="#1a1a1a" stroke="#1a1a1a" stroke-width="0.1">2</text>
<line x1="148.05" y1="107.40" x2="149.45" y2="107.40" stroke="#777" stroke-width="0.5"/>
<text x="147.30" y="110.15" font-size="6.3" text-anchor="end" font-weight="normal" fill="#1a1a1a" stroke="#1a1a1a" stroke-width="0.1">0.1</text>
<text x="33.90" y="128.10" font-size="7.4" text-anchor="start" font-weight="bold" fill="#1a1a1a" stroke="#1a1a1a" stroke-width="0.3" textLength="8.3" lengthAdjust="spacingAndGlyphs">a)</text>
<clipPath id="clip01"><rect x="218.6" y="13.5" width="133.4" height="118.4"/></clipPath><g clip-path="url(#clip01)"><path d="M223.3 112.3L224.2 112.5L225.0 112.6L225.8 112.8L226.6 112.9L227.4 113.0L228.3 113.2L229.1 113.3L229.9 113.4L230.7 113.5L231.6 113.6L232.4 113.8L233.2 113.8L234.0 113.9L234.9 114.0L235.7 114.1L236.5 114.2L237.3 114.2L238.1 114.3L239.0 114.4L239.8 114.4L240.6 114.4L241.4 114.5L242.3 114.5L243.1 114.5L243.9 114.5L244.7 114.5L245.6 114.5L246.4 114.5L247.2 114.5L248.0 114.5L248.8 114.4L249.7 114.4L250.5 114.3L251.3 114.3L252.1 114.2L253.0 114.1L253.8 114.1L254.6 114.0L255.4 113.9L256.3 113.8L257.1 113.8L257.9 113.7L258.7 113.6L259.5 113.6L260.4 113.5L261.2 113.4L262.0 113.4L262.8 113.4L263.7 113.3L264.5 113.3L265.3 113.2L266.1 113.2L266.9 113.1L267.8 113.1L268.6 113.0L269.4 113.0L270.2 112.9L271.1 112.9L271.9 112.9L272.7 112.8L273.5 112.8L274.4 112.8L275.2 112.8L276.0 112.8L276.8 112.8L277.6 112.8L278.5 112.9L279.3 113.0L280.1 113.1L280.9 113.3L281.8 113.5L282.6 113.7L283.4 113.9L284.2 114.2L285.1 114.4L285.9 114.6L286.7 114.9L287.5 115.3L288.3 115.7L289.2 116.1L290.0 116.5L290.8 117.0L291.6 117.5L292.5 117.9L293.3 118.2L294.1 118.5L294.9 118.8L295.8 119.0L296.6 119.2L297.4 119.4L298.2 119.5L299.0 119.6L299.9 119.7L300.7 119.8L301.5 119.9L302.3 120.0L303.2 120.1L304.0 120.2L304.8 120.3L305.6 120.3L306.4 120.3L307.3 120.3L308.1 120.3L308.9 120.2L309.7 120.2L310.6 120.1L311.4 119.9L312.2 119.5L313.0 119.0L313.9 118.8L314.7 118.8L315.5 119.2L316.3 119.7L317.1 120.3L318.0 120.7L318.8 121.2L319.6 121.6L320.4 122.1L321.3 122.5" fill="none" stroke="#fcf190" stroke-width="0.62" stroke-opacity="0.7" stroke-linejoin="round"/><path d="M321.3 122.5L322.1 122.7L322.9 122.9L323.7 123.0L324.6 123.2L325.4 123.3L326.2 123.4L327.0 123.5L327.8 123.6L328.7 123.6L329.5 123.7L330.3 123.7L331.1 123.8L332.0 123.8L332.8 123.8L333.6 123.8L334.4 123.8L335.2 123.9L336.1 123.9L336.9 123.9L337.7 123.9L338.5 123.9L339.4 123.9L340.2 124.0L341.0 124.0L341.8 124.0L342.7 124.0L343.5 124.0L344.3 124.0L345.1 124.0L345.9 124.0L346.8 124.0" fill="none" stroke="#fcf190" stroke-width="0.62" stroke-opacity="0.42" stroke-linejoin="round"/>
<path d="M223.3 93.1L224.2 92.7L225.0 92.4L225.8 92.2L226.6 92.0L227.4 91.9L228.3 91.8L229.1 91.8L229.9 91.7L230.7 91.7L231.6 91.7L232.4 91.8L233.2 92.1L234.0 92.5L234.9 93.0L235.7 93.6L236.5 94.3L237.3 95.0L238.1 95.7L239.0 96.4L239.8 97.1L240.6 97.8L241.4 98.4L242.3 98.8L243.1 99.2L243.9 99.6L244.7 100.0L245.6 100.3L246.4 100.7L247.2 101.0L248.0 101.4L248.8 101.7L249.7 101.9L250.5 102.1L251.3 102.3L252.1 102.4L253.0 102.4L253.8 102.4L254.6 102.4L255.4 102.4L256.3 102.3L257.1 102.3L257.9 102.2L258.7 102.1L259.5 102.0L260.4 101.9L261.2 101.8L262.0 101.7L262.8 101.6L263.7 101.5L264.5 101.4L265.3 101.2L266.1 100.9L266.9 100.4L267.8 100.0L268.6 99.4L269.4 98.8L270.2 98.3L271.1 97.7L271.9 97.2L272.7 96.7L273.5 96.4L274.4 96.1L275.2 96.0L276.0 96.0L276.8 96.2L277.6 96.6L278.5 97.0L279.3 97.6L280.1 98.2L280.9 98.9L281.8 99.6L282.6 100.3L283.4 101.2L284.2 102.2L285.1 103.4L285.9 104.6L286.7 105.9L287.5 107.1L288.3 108.2L289.2 109.6L290.0 110.9L290.8 112.1L291.6 113.1L292.5 113.8L293.3 114.4L294.1 114.9L294.9 115.3L295.8 115.7L296.6 115.9L297.4 116.2L298.2 116.4L299.0 116.6L299.9 116.8L300.7 116.9L301.5 117.1L302.3 117.3L303.2 117.4L304.0 117.6L304.8 117.7L305.6 117.8L306.4 117.7L307.3 117.5L308.1 117.1L308.9 116.6L309.7 116.0L310.6 115.4L311.4 113.6L312.2 110.4L313.0 107.2L313.9 105.2L314.7 105.5L315.5 107.7L316.3 110.7L317.1 113.7L318.0 115.6L318.8 117.2L319.6 118.7L320.4 120.0L321.3 121.0" fill="none" stroke="#fca141" stroke-width="0.62" stroke-opacity="0.7" stroke-linejoin="round"/><path d="M321.3 121.0L322.1 121.6L322.9 122.0L323.7 122.4L324.6 122.7L325.4 123.0L326.2 123.2L327.0 123.4L327.8 123.6L328.7 123.7L329.5 123.8L330.3 123.9L331.1 123.9L332.0 124.0L332.8 124.0L333.6 124.1L334.4 124.1L335.2 124.1L336.1 124.2L336.9 124.2L337.7 124.2L338.5 124.3L339.4 124.3L340.2 124.3L341.0 124.3L341.8 124.3L342.7 124.4L343.5 124.4L344.3 124.4L345.1 124.4L345.9 124.4L346.8 124.4" fill="none" stroke="#fca141" stroke-width="0.62" stroke-opacity="0.42" stroke-linejoin="round"/>
<path d="M223.3 88.9L224.2 89.0L225.0 89.0L225.8 89.0L226.6 89.1L227.4 89.1L228.3 89.2L229.1 89.3L229.9 89.4L230.7 89.5L231.6 89.6L232.4 89.8L233.2 90.2L234.0 90.6L234.9 91.1L235.7 91.7L236.5 92.3L237.3 93.0L238.1 93.7L239.0 94.4L239.8 95.0L240.6 95.7L241.4 96.2L242.3 96.7L243.1 97.1L243.9 97.5L244.7 97.9L245.6 98.3L246.4 98.7L247.2 99.0L248.0 99.4L248.8 99.7L249.7 100.0L250.5 100.2L251.3 100.4L252.1 100.5L253.0 100.5L253.8 100.5L254.6 100.5L255.4 100.4L256.3 100.3L257.1 100.1L257.9 100.0L258.7 99.8L259.5 99.6L260.4 99.5L261.2 99.3L262.0 99.1L262.8 98.9L263.7 98.7L264.5 98.6L265.3 98.4L266.1 98.2L266.9 98.0L267.8 97.8L268.6 97.5L269.4 97.3L270.2 97.1L271.1 96.8L271.9 96.6L272.7 96.5L273.5 96.3L274.4 96.3L275.2 96.2L276.0 96.2L276.8 96.3L277.6 96.4L278.5 96.5L279.3 96.7L280.1 96.9L280.9 97.1L281.8 97.4L282.6 97.7L283.4 98.5L284.2 99.8L285.1 101.3L285.9 103.1L286.7 104.7L287.5 106.2L288.3 107.5L289.2 108.8L290.0 110.0L290.8 111.2L291.6 112.1L292.5 112.8L293.3 113.5L294.1 114.0L294.9 114.5L295.8 114.9L296.6 115.2L297.4 115.5L298.2 115.7L299.0 115.9L299.9 116.1L300.7 116.3L301.5 116.4L302.3 116.6L303.2 116.8L304.0 117.0L304.8 117.1L305.6 117.2L306.4 117.1L307.3 116.8L308.1 116.3L308.9 115.6L309.7 114.8L310.6 113.9L311.4 111.5L312.2 107.2L313.0 102.8L313.9 100.2L314.7 100.6L315.5 103.6L316.3 107.6L317.1 111.4L318.0 114.0L318.8 116.0L319.6 117.8L320.4 119.4L321.3 120.7" fill="none" stroke="#fc963b" stroke-width="0.62" stroke-opacity="0.7" stroke-linejoin="round"/><path d="M321.3 120.7L322.1 121.4L322.9 121.8L323.7 122.2L324.6 122.5L325.4 122.8L326.2 123.1L327.0 123.3L327.8 123.5L328.7 123.6L329.5 123.7L330.3 123.7L331.1 123.7L332.0 123.7L332.8 123.7L333.6 123.7L334.4 123.7L335.2 123.7L336.1 123.7L336.9 123.7L337.7 123.7L338.5 123.7L339.4 123.7L340.2 123.7L341.0 123.7L341.8 123.7L342.7 123.7L343.5 123.7L344.3 123.7L345.1 123.7L345.9 123.7L346.8 123.7" fill="none" stroke="#fc963b" stroke-width="0.62" stroke-opacity="0.42" stroke-linejoin="round"/>
<path d="M223.3 87.3L224.2 87.2L225.0 87.2L225.8 87.2L226.6 87.2L227.4 87.2L228.3 87.2L229.1 87.2L229.9 87.2L230.7 87.2L231.6 87.2L232.4 87.3L233.2 87.5L234.0 87.8L234.9 88.2L235.7 88.7L236.5 89.3L237.3 89.9L238.1 90.5L239.0 91.2L239.8 91.8L240.6 92.4L241.4 92.9L242.3 93.4L243.1 93.8L243.9 94.2L244.7 94.6L245.6 95.1L246.4 95.5L247.2 95.9L248.0 96.3L248.8 96.7L249.7 97.0L250.5 97.3L251.3 97.5L252.1 97.6L253.0 97.7L253.8 97.6L254.6 97.6L255.4 97.5L256.3 97.3L257.1 97.1L257.9 96.9L258.7 96.7L259.5 96.5L260.4 96.2L261.2 96.0L262.0 95.7L262.8 95.5L263.7 95.3L264.5 95.1L265.3 94.9L266.1 94.6L266.9 94.4L267.8 94.1L268.6 93.8L269.4 93.5L270.2 93.2L271.1 93.0L271.9 92.8L272.7 92.6L273.5 92.4L274.4 92.3L275.2 92.2L276.0 92.3L276.8 92.4L277.6 92.5L278.5 92.8L279.3 93.1L280.1 93.4L280.9 93.8L281.8 94.2L282.6 94.7L283.4 95.6L284.2 96.9L285.1 98.4L285.9 100.1L286.7 101.8L287.5 103.3L288.3 104.8L289.2 106.4L290.0 108.0L290.8 109.5L291.6 110.7L292.5 111.5L293.3 112.2L294.1 112.9L294.9 113.4L295.8 113.8L296.6 114.2L297.4 114.4L298.2 114.7L299.0 114.9L299.9 115.2L300.7 115.3L301.5 115.5L302.3 115.7L303.2 116.0L304.0 116.2L304.8 116.3L305.6 116.3L306.4 116.2L307.3 115.8L308.1 115.2L308.9 114.4L309.7 113.4L310.6 112.3L311.4 109.2L312.2 103.9L313.0 98.5L313.9 95.2L314.7 95.8L315.5 99.4L316.3 104.3L317.1 109.1L318.0 112.2L318.8 114.6L319.6 116.9L320.4 118.8L321.3 120.3" fill="none" stroke="#fc8a35" stroke-width="0.62" stroke-opacity="0.7" stroke-linejoin="round"/><path d="M321.3 120.3L322.1 121.0L322.9 121.4L323.7 121.7L324.6 122.0L325.4 122.2L326.2 122.4L327.0 122.6L327.8 122.7L328.7 122.8L329.5 123.0L330.3 123.1L331.1 123.2L332.0 123.3L332.8 123.3L333.6 123.4L334.4 123.5L335.2 123.6L336.1 123.7L336.9 123.8L337.7 123.9L338.5 123.9L339.4 124.0L340.2 124.1L341.0 124.1L341.8 124.2L342.7 124.2L343.5 124.2L344.3 124.3L345.1 124.3L345.9 124.3L346.8 124.3" fill="none" stroke="#fc8a35" stroke-width="0.62" stroke-opacity="0.42" stroke-linejoin="round"/>
<path d="M223.3 83.0L224.2 83.0L225.0 83.0L225.8 83.0L226.6 83.1L227.4 83.1L228.3 83.1L229.1 83.2L229.9 83.2L230.7 83.3L231.6 83.3L232.4 83.5L233.2 83.7L234.0 84.1L234.9 84.6L235.7 85.2L236.5 85.8L237.3 86.5L238.1 87.2L239.0 88.0L239.8 88.7L240.6 89.3L241.4 89.9L242.3 90.5L243.1 91.0L243.9 91.5L244.7 92.1L245.6 92.6L246.4 93.2L247.2 93.8L248.0 94.3L248.8 94.8L249.7 95.2L250.5 95.5L251.3 95.8L252.1 96.0L253.0 96.0L253.8 96.0L254.6 95.8L255.4 95.6L256.3 95.2L257.1 94.8L257.9 94.4L258.7 94.0L259.5 93.5L260.4 93.0L261.2 92.6L262.0 92.2L262.8 91.9L263.7 91.6L264.5 91.4L265.3 91.3L266.1 91.1L266.9 91.0L267.8 90.9L268.6 90.8L269.4 90.6L270.2 90.5L271.1 90.4L271.9 90.4L272.7 90.3L273.5 90.3L274.4 90.2L275.2 90.2L276.0 90.2L276.8 90.4L277.6 90.6L278.5 90.9L279.3 91.2L280.1 91.7L280.9 92.2L281.8 92.7L282.6 93.3L283.4 94.3L284.2 95.8L285.1 97.4L285.9 99.2L286.7 101.0L287.5 102.7L288.3 104.1L289.2 105.6L290.0 107.1L290.8 108.5L291.6 109.6L292.5 110.4L293.3 111.2L294.1 111.9L294.9 112.5L295.8 112.9L296.6 113.3L297.4 113.6L298.2 113.9L299.0 114.2L299.9 114.4L300.7 114.6L301.5 114.8L302.3 115.0L303.2 115.3L304.0 115.5L304.8 115.6L305.6 115.7L306.4 115.5L307.3 115.1L308.1 114.3L308.9 113.3L309.7 112.1L310.6 110.8L311.4 107.1L312.2 100.7L313.0 94.2L313.9 90.2L314.7 90.9L315.5 95.2L316.3 101.2L317.1 106.8L318.0 110.4L318.8 113.3L319.6 116.0L320.4 118.2L321.3 119.9" fill="none" stroke="#fb7f2f" stroke-width="0.62" stroke-opacity="0.7" stroke-linejoin="round"/><path d="M321.3 119.9L322.1 120.8L322.9 121.2L323.7 121.5L324.6 121.8L325.4 122.0L326.2 122.2L327.0 122.4L327.8 122.6L328.7 122.7L329.5 122.8L330.3 122.9L331.1 123.0L332.0 123.2L332.8 123.3L333.6 123.4L334.4 123.5L335.2 123.6L336.1 123.7L336.9 123.8L337.7 123.8L338.5 123.9L339.4 124.0L340.2 124.1L341.0 124.1L341.8 124.2L342.7 124.2L343.5 124.3L344.3 124.3L345.1 124.3L345.9 124.3L346.8 124.3" fill="none" stroke="#fb7f2f" stroke-width="0.62" stroke-opacity="0.42" stroke-linejoin="round"/>
<path d="M223.3 79.5L224.2 78.7L225.0 78.1L225.8 77.6L226.6 77.1L227.4 76.8L228.3 76.5L229.1 76.3L229.9 76.2L230.7 76.1L231.6 76.1L232.4 76.2L233.2 76.6L234.0 77.1L234.9 77.9L235.7 78.7L236.5 79.7L237.3 80.8L238.1 81.8L239.0 82.9L239.8 83.9L240.6 84.9L241.4 85.8L242.3 86.5L243.1 87.1L243.9 87.7L244.7 88.4L245.6 89.0L246.4 89.7L247.2 90.3L248.0 90.9L248.8 91.4L249.7 91.9L250.5 92.2L251.3 92.5L252.1 92.7L253.0 92.8L253.8 92.7L254.6 92.6L255.4 92.5L256.3 92.3L257.1 92.0L257.9 91.7L258.7 91.3L259.5 91.0L260.4 90.6L261.2 90.2L262.0 89.8L262.8 89.5L263.7 89.1L264.5 88.8L265.3 88.4L266.1 88.0L266.9 87.6L267.8 87.2L268.6 86.7L269.4 86.2L270.2 85.8L271.1 85.3L271.9 85.0L272.7 84.6L273.5 84.4L274.4 84.2L275.2 84.1L276.0 84.2L276.8 84.5L277.6 85.1L278.5 85.9L279.3 86.8L280.1 87.8L280.9 88.9L281.8 89.9L282.6 91.0L283.4 92.1L284.2 93.4L285.1 94.9L285.9 96.4L286.7 97.9L287.5 99.5L288.3 101.1L289.2 102.9L290.0 104.8L290.8 106.6L291.6 108.0L292.5 109.0L293.3 109.9L294.1 110.6L294.9 111.3L295.8 111.8L296.6 112.2L297.4 112.5L298.2 112.9L299.0 113.1L299.9 113.4L300.7 113.6L301.5 113.8L302.3 114.1L303.2 114.3L304.0 114.6L304.8 114.7L305.6 114.8L306.4 114.6L307.3 114.1L308.1 113.2L308.9 112.1L309.7 110.7L310.6 109.1L311.4 104.8L312.2 97.4L313.0 89.8L313.9 85.2L314.7 86.0L315.5 91.0L316.3 97.9L317.1 104.4L318.0 108.6L318.8 111.9L319.6 114.8L320.4 117.4L321.3 119.3" fill="none" stroke="#f6702b" stroke-width="0.62" stroke-opacity="0.7" stroke-linejoin="round"/><path d="M321.3 119.3L322.1 120.4L322.9 121.0L323.7 121.6L324.6 122.1L325.4 122.5L326.2 122.9L327.0 123.2L327.8 123.5L328.7 123.7L329.5 123.8L330.3 123.9L331.1 123.9L332.0 124.0L332.8 124.0L333.6 124.1L334.4 124.1L335.2 124.1L336.1 124.2L336.9 124.2L337.7 124.2L338.5 124.3L339.4 124.3L340.2 124.3L341.0 124.3L341.8 124.3L342.7 124.4L343.5 124.4L344.3 124.4L345.1 124.4L345.9 124.4L346.8 124.4" fill="none" stroke="#f6702b" stroke-width="0.62" stroke-opacity="0.42" stroke-linejoin="round"/>
<path d="M223.3 80.9L224.2 79.3L225.0 77.8L225.8 76.5L226.6 75.2L227.4 74.1L228.3 73.1L229.1 72.3L229.9 71.6L230.7 71.1L231.6 70.7L232.4 70.5L233.2 70.5L234.0 70.6L234.9 71.0L235.7 71.5L236.5 72.1L237.3 72.7L238.1 73.5L239.0 74.3L239.8 75.1L240.6 75.9L241.4 76.7L242.3 77.4L243.1 78.1L243.9 78.8L244.7 79.6L245.6 80.5L246.4 81.3L247.2 82.2L248.0 82.9L248.8 83.6L249.7 84.1L250.5 84.4L251.3 84.6L252.1 84.6L253.0 84.5L253.8 84.4L254.6 84.2L255.4 84.0L256.3 83.8L257.1 83.5L257.9 83.2L258.7 82.9L259.5 82.6L260.4 82.2L261.2 81.9L262.0 81.6L262.8 81.2L263.7 80.9L264.5 80.6L265.3 80.3L266.1 79.9L266.9 79.5L267.8 79.0L268.6 78.5L269.4 78.1L270.2 77.7L271.1 77.2L271.9 76.9L272.7 76.6L273.5 76.4L274.4 76.3L275.2 76.3L276.0 76.5L276.8 76.9L277.6 77.4L278.5 78.0L279.3 78.6L280.1 79.4L280.9 80.6L281.8 82.0L282.6 83.7L283.4 85.6L284.2 87.5L285.1 89.4L285.9 91.3L286.7 93.2L287.5 95.3L288.3 97.7L289.2 100.4L290.0 104.5L290.8 109.4L291.6 113.1L292.5 114.1L293.3 114.8L294.1 115.2L294.9 115.6L295.8 115.9L296.6 116.2L297.4 116.4L298.2 116.6L299.0 116.8L299.9 117.0L300.7 117.1L301.5 117.3L302.3 117.4L303.2 117.6L304.0 117.8L304.8 117.9L305.6 117.9L306.4 117.9L307.3 117.7L308.1 117.5L308.9 117.2L309.7 116.8L310.6 116.4L311.4 115.2L312.2 113.0L313.0 110.9L313.9 109.5L314.7 109.8L315.5 111.3L316.3 113.4L317.1 115.5L318.0 116.9L318.8 118.2L319.6 119.4L320.4 120.5L321.3 121.3" fill="none" stroke="#fdca5b" stroke-width="0.62" stroke-opacity="0.7" stroke-linejoin="round"/><path d="M321.3 121.3L322.1 121.7L322.9 121.9L323.7 122.1L324.6 122.2L325.4 122.3L326.2 122.4L327.0 122.5L327.8 122.6L328.7 122.7L329.5 122.8L330.3 122.8L331.1 122.9L332.0 123.0L332.8 123.1L333.6 123.2L334.4 123.3L335.2 123.4L336.1 123.5L336.9 123.5L337.7 123.6L338.5 123.7L339.4 123.8L340.2 123.8L341.0 123.9L341.8 124.0L342.7 124.1L343.5 124.1L344.3 124.2L345.1 124.2L345.9 124.3L346.8 124.3" fill="none" stroke="#fdca5b" stroke-width="0.62" stroke-opacity="0.42" stroke-linejoin="round"/>
<path d="M223.3 67.5L224.2 67.6L225.0 67.8L225.8 67.9L226.6 68.1L227.4 68.3L228.3 68.5L229.1 68.7L229.9 68.9L230.7 69.1L231.6 69.3L232.4 69.5L233.2 69.8L234.0 70.0L234.9 70.3L235.7 70.5L236.5 70.8L237.3 71.1L238.1 71.4L239.0 71.7L239.8 72.1L240.6 72.5L241.4 72.9L242.3 73.3L243.1 73.8L243.9 74.5L244.7 75.5L245.6 76.5L246.4 77.6L247.2 78.7L248.0 79.8L248.8 80.8L249.7 81.6L250.5 82.1L251.3 82.4L252.1 82.4L253.0 82.3L253.8 82.1L254.6 81.8L255.4 81.4L256.3 80.9L257.1 80.3L257.9 79.8L258.7 79.2L259.5 78.5L260.4 77.9L261.2 77.3L262.0 76.7L262.8 76.1L263.7 75.5L264.5 75.1L265.3 74.6L266.1 74.0L266.9 73.4L267.8 72.9L268.6 72.3L269.4 71.8L270.2 71.4L271.1 71.1L271.9 70.9L272.7 70.8L273.5 70.9L274.4 70.9L275.2 71.0L276.0 71.1L276.8 71.3L277.6 71.5L278.5 71.7L279.3 71.9L280.1 72.5L280.9 74.1L281.8 76.5L282.6 79.4L283.4 82.5L284.2 85.6L285.1 88.2L285.9 90.3L286.7 92.4L287.5 94.4L288.3 96.6L289.2 99.2L290.0 103.0L290.8 107.6L291.6 111.0L292.5 112.2L293.3 112.9L294.1 113.5L294.9 113.9L295.8 114.3L296.6 114.6L297.4 114.9L298.2 115.1L299.0 115.4L299.9 115.6L300.7 115.7L301.5 115.9L302.3 116.1L303.2 116.3L304.0 116.5L304.8 116.6L305.6 116.7L306.4 116.6L307.3 116.2L308.1 115.6L308.9 114.8L309.7 113.9L310.6 112.8L311.4 109.9L312.2 104.8L313.0 99.7L313.9 96.5L314.7 97.1L315.5 100.5L316.3 105.3L317.1 109.8L318.0 112.7L318.8 115.0L319.6 117.2L320.4 119.0L321.3 120.4" fill="none" stroke="#fdcc5d" stroke-width="0.62" stroke-opacity="0.7" stroke-linejoin="round"/><path d="M321.3 120.4L322.1 121.2L322.9 121.6L323.7 122.0L324.6 122.3L325.4 122.5L326.2 122.8L327.0 123.0L327.8 123.1L328.7 123.2L329.5 123.3L330.3 123.4L331.1 123.5L332.0 123.5L332.8 123.6L333.6 123.6L334.4 123.7L335.2 123.7L336.1 123.8L336.9 123.8L337.7 123.9L338.5 123.9L339.4 123.9L340.2 124.0L341.0 124.0L341.8 124.0L342.7 124.0L343.5 124.0L344.3 124.1L345.1 124.1L345.9 124.1L346.8 124.1" fill="none" stroke="#fdcc5d" stroke-width="0.62" stroke-opacity="0.42" stroke-linejoin="round"/>
<path d="M223.3 65.3L224.2 64.4L225.0 63.7L225.8 63.1L226.6 62.6L227.4 62.2L228.3 61.8L229.1 61.6L229.9 61.4L230.7 61.3L231.6 61.2L232.4 61.2L233.2 61.2L234.0 61.4L234.9 61.9L235.7 62.6L236.5 63.4L237.3 64.3L238.1 65.4L239.0 66.4L239.8 67.4L240.6 68.4L241.4 69.3L242.3 70.1L243.1 70.7L243.9 71.4L244.7 72.0L245.6 72.7L246.4 73.4L247.2 74.0L248.0 74.6L248.8 75.2L249.7 75.8L250.5 76.3L251.3 76.7L252.1 77.0L253.0 77.3L253.8 77.5L254.6 77.5L255.4 77.3L256.3 76.8L257.1 76.1L257.9 75.1L258.7 74.0L259.5 72.9L260.4 71.8L261.2 70.7L262.0 69.7L262.8 69.0L263.7 68.5L264.5 68.3L265.3 68.3L266.1 68.3L266.9 68.3L267.8 68.4L268.6 68.4L269.4 68.5L270.2 68.5L271.1 68.6L271.9 68.6L272.7 68.7L273.5 68.8L274.4 68.9L275.2 69.3L276.0 69.8L276.8 70.5L277.6 71.3L278.5 72.2L279.3 73.0L280.1 73.8L280.9 74.6L281.8 75.4L282.6 76.3L283.4 77.3L284.2 78.5L285.1 79.9L285.9 81.9L286.7 84.7L287.5 88.0L288.3 91.7L289.2 95.6L290.0 100.8L290.8 107.0L291.6 111.4L292.5 112.7L293.3 113.4L294.1 113.9L294.9 114.3L295.8 114.7L296.6 115.0L297.4 115.3L298.2 115.5L299.0 115.7L299.9 115.9L300.7 116.1L301.5 116.3L302.3 116.4L303.2 116.6L304.0 116.8L304.8 116.9L305.6 117.0L306.4 116.9L307.3 116.7L308.1 116.3L308.9 115.9L309.7 115.3L310.6 114.7L311.4 112.8L312.2 109.7L313.0 106.5L313.9 104.5L314.7 104.8L315.5 107.0L316.3 110.1L317.1 113.0L318.0 115.1L318.8 116.7L319.6 118.3L320.4 119.7L321.3 120.8" fill="none" stroke="#fdc457" stroke-width="0.62" stroke-opacity="0.7" stroke-linejoin="round"/><path d="M321.3 120.8L322.1 121.3L322.9 121.6L323.7 121.8L324.6 122.0L325.4 122.2L326.2 122.3L327.0 122.4L327.8 122.5L328.7 122.6L329.5 122.7L330.3 122.8L331.1 122.8L332.0 122.9L332.8 123.0L333.6 123.0L334.4 123.1L335.2 123.1L336.1 123.2L336.9 123.2L337.7 123.3L338.5 123.3L339.4 123.4L340.2 123.4L341.0 123.4L341.8 123.5L342.7 123.5L343.5 123.5L344.3 123.5L345.1 123.5L345.9 123.5L346.8 123.6" fill="none" stroke="#fdc457" stroke-width="0.62" stroke-opacity="0.42" stroke-linejoin="round"/>
<path d="M223.3 71.7L224.2 70.4L225.0 69.1L225.8 68.0L226.6 67.0L227.4 66.1L228.3 65.3L229.1 64.6L229.9 64.0L230.7 63.6L231.6 63.3L232.4 63.1L233.2 63.1L234.0 63.2L234.9 63.5L235.7 63.8L236.5 64.3L237.3 64.8L238.1 65.5L239.0 66.1L239.8 66.8L240.6 67.4L241.4 68.0L242.3 68.6L243.1 69.2L243.9 69.9L244.7 70.6L245.6 71.4L246.4 72.2L247.2 73.0L248.0 73.8L248.8 74.5L249.7 75.2L250.5 75.7L251.3 76.1L252.1 76.4L253.0 76.4L253.8 76.4L254.6 76.2L255.4 76.0L256.3 75.8L257.1 75.5L257.9 75.1L258.7 74.7L259.5 74.3L260.4 73.9L261.2 73.5L262.0 73.0L262.8 72.6L263.7 72.3L264.5 71.9L265.3 71.6L266.1 71.2L266.9 70.7L267.8 70.3L268.6 69.9L269.4 69.4L270.2 69.0L271.1 68.7L271.9 68.4L272.7 68.2L273.5 68.1L274.4 68.2L275.2 68.5L276.0 69.0L276.8 69.7L277.6 70.6L278.5 71.5L279.3 72.4L280.1 73.4L280.9 74.5L281.8 75.7L282.6 77.2L283.4 78.8L284.2 80.6L285.1 82.5L285.9 85.0L286.7 88.0L287.5 91.5L288.3 95.2L289.2 98.9L290.0 103.3L290.8 108.2L291.6 111.7L292.5 112.8L293.3 113.5L294.1 114.0L294.9 114.4L295.8 114.8L296.6 115.1L297.4 115.3L298.2 115.6L299.0 115.8L299.9 116.0L300.7 116.2L301.5 116.3L302.3 116.5L303.2 116.7L304.0 116.9L304.8 117.0L305.6 117.1L306.4 117.0L307.3 116.9L308.1 116.8L308.9 116.6L309.7 116.3L310.6 116.0L311.4 115.1L312.2 113.6L313.0 111.9L313.9 110.9L314.7 111.1L315.5 112.3L316.3 114.0L317.1 115.6L318.0 116.9L318.8 118.0L319.6 119.0L320.4 120.0L321.3 120.8" fill="none" stroke="#feef89" stroke-width="0.62" stroke-opacity="0.7" stroke-linejoin="round"/><path d="M321.3 120.8L322.1 121.3L322.9 121.7L323.7 122.1L324.6 122.4L325.4 122.8L326.2 123.0L327.0 123.3L327.8 123.5L328.7 123.6L329.5 123.7L330.3 123.7L331.1 123.8L332.0 123.8L332.8 123.8L333.6 123.8L334.4 123.8L335.2 123.8L336.1 123.9L336.9 123.9L337.7 123.9L338.5 123.9L339.4 123.9L340.2 123.9L341.0 123.9L341.8 123.9L342.7 123.9L343.5 123.9L344.3 123.9L345.1 123.9L345.9 123.9L346.8 123.9" fill="none" stroke="#feef89" stroke-width="0.62" stroke-opacity="0.42" stroke-linejoin="round"/>
<path d="M223.3 68.8L224.2 68.1L225.0 67.5L225.8 67.0L226.6 66.6L227.4 66.3L228.3 66.0L229.1 65.8L229.9 65.7L230.7 65.6L231.6 65.5L232.4 65.5L233.2 65.5L234.0 65.7L234.9 66.1L235.7 66.7L236.5 67.4L237.3 68.3L238.1 69.1L239.0 70.0L239.8 70.9L240.6 71.7L241.4 72.5L242.3 73.1L243.1 73.6L243.9 74.0L244.7 74.5L245.6 75.0L246.4 75.5L247.2 76.0L248.0 76.4L248.8 76.8L249.7 77.2L250.5 77.6L251.3 77.9L252.1 78.1L253.0 78.3L253.8 78.4L254.6 78.4L255.4 78.3L256.3 78.1L257.1 77.9L257.9 77.5L258.7 77.1L259.5 76.7L260.4 76.2L261.2 75.7L262.0 75.2L262.8 74.7L263.7 74.3L264.5 74.0L265.3 73.6L266.1 73.2L266.9 72.8L267.8 72.4L268.6 72.1L269.4 71.7L270.2 71.5L271.1 71.4L271.9 71.3L272.7 71.4L273.5 71.5L274.4 71.7L275.2 72.0L276.0 72.4L276.8 72.7L277.6 73.2L278.5 73.7L279.3 74.2L280.1 74.9L280.9 76.3L281.8 78.1L282.6 80.3L283.4 82.6L284.2 85.0L285.1 87.1L285.9 89.1L286.7 91.0L287.5 93.0L288.3 95.2L289.2 97.8L290.0 102.0L290.8 107.1L291.6 110.9L292.5 112.1L293.3 112.9L294.1 113.4L294.9 113.8L295.8 114.2L296.6 114.5L297.4 114.8L298.2 115.1L299.0 115.3L299.9 115.5L300.7 115.7L301.5 115.9L302.3 116.1L303.2 116.3L304.0 116.5L304.8 116.6L305.6 116.6L306.4 116.5L307.3 116.3L308.1 115.8L308.9 115.2L309.7 114.5L310.6 113.6L311.4 111.3L312.2 107.3L313.0 103.2L313.9 100.6L314.7 101.1L315.5 103.8L316.3 107.7L317.1 111.4L318.0 113.8L318.8 115.8L319.6 117.6L320.4 119.2L321.3 120.4" fill="none" stroke="#fddc6f" stroke-width="0.62" stroke-opacity="0.7" stroke-linejoin="round"/><path d="M321.3 120.4L322.1 121.2L322.9 121.6L323.7 122.0L324.6 122.4L325.4 122.7L326.2 123.0L327.0 123.2L327.8 123.4L328.7 123.5L329.5 123.6L330.3 123.7L331.1 123.7L332.0 123.8L332.8 123.8L333.6 123.8L334.4 123.9L335.2 123.9L336.1 123.9L336.9 123.9L337.7 123.9L338.5 124.0L339.4 124.0L340.2 124.0L341.0 124.0L341.8 124.0L342.7 124.0L343.5 124.0L344.3 124.0L345.1 124.0L345.9 124.0L346.8 124.0" fill="none" stroke="#fddc6f" stroke-width="0.62" stroke-opacity="0.42" stroke-linejoin="round"/>
<path d="M223.3 73.1L224.2 71.9L225.0 70.7L225.8 69.7L226.6 68.8L227.4 68.0L228.3 67.3L229.1 66.7L229.9 66.2L230.7 65.8L231.6 65.6L232.4 65.4L233.2 65.4L234.0 65.6L234.9 65.9L235.7 66.3L236.5 66.8L237.3 67.5L238.1 68.2L239.0 68.9L239.8 69.6L240.6 70.3L241.4 71.0L242.3 71.6L243.1 72.1L243.9 72.7L244.7 73.4L245.6 74.1L246.4 74.7L247.2 75.4L248.0 76.1L248.8 76.7L249.7 77.2L250.5 77.7L251.3 78.1L252.1 78.3L253.0 78.4L253.8 78.4L254.6 78.4L255.4 78.2L256.3 78.0L257.1 77.8L257.9 77.5L258.7 77.2L259.5 76.8L260.4 76.5L261.2 76.2L262.0 75.8L262.8 75.5L263.7 75.3L264.5 75.0L265.3 74.8L266.1 74.5L266.9 74.3L267.8 74.0L268.6 73.7L269.4 73.5L270.2 73.3L271.1 73.2L271.9 73.1L272.7 73.1L273.5 73.3L274.4 73.7L275.2 74.1L276.0 74.7L276.8 75.4L277.6 76.1L278.5 76.9L279.3 77.7L280.1 78.5L280.9 79.4L281.8 80.4L282.6 81.6L283.4 82.9L284.2 84.3L285.1 85.9L285.9 87.9L286.7 90.3L287.5 93.1L288.3 96.1L289.2 99.3L290.0 103.4L290.8 108.2L291.6 111.7L292.5 112.8L293.3 113.5L294.1 114.1L294.9 114.5L295.8 114.8L296.6 115.1L297.4 115.4L298.2 115.6L299.0 115.8L299.9 116.0L300.7 116.2L301.5 116.4L302.3 116.6L303.2 116.7L304.0 116.9L304.8 117.0L305.6 117.1L306.4 117.0L307.3 116.8L308.1 116.5L308.9 116.1L309.7 115.6L310.6 115.0L311.4 113.4L312.2 110.5L313.0 107.6L313.9 105.9L314.7 106.2L315.5 108.2L316.3 110.9L317.1 113.6L318.0 115.5L318.8 117.0L319.6 118.5L320.4 119.8L321.3 120.8" fill="none" stroke="#fdf08e" stroke-width="0.62" stroke-opacity="0.7" stroke-linejoin="round"/><path d="M321.3 120.8L322.1 121.4L322.9 121.6L323.7 121.8L324.6 122.0L325.4 122.2L326.2 122.3L327.0 122.5L327.8 122.6L328.7 122.7L329.5 122.8L330.3 122.8L331.1 122.9L332.0 123.0L332.8 123.1L333.6 123.2L334.4 123.3L335.2 123.4L336.1 123.5L336.9 123.6L337.7 123.7L338.5 123.7L339.4 123.8L340.2 123.9L341.0 124.0L341.8 124.0L342.7 124.1L343.5 124.1L344.3 124.2L345.1 124.2L345.9 124.2L346.8 124.2" fill="none" stroke="#fdf08e" stroke-width="0.62" stroke-opacity="0.42" stroke-linejoin="round"/>
<path d="M223.3 78.9L224.2 78.4L225.0 78.0L225.8 77.6L226.6 77.3L227.4 77.0L228.3 76.8L229.1 76.6L229.9 76.5L230.7 76.4L231.6 76.3L232.4 76.3L233.2 76.3L234.0 76.4L234.9 76.6L235.7 76.8L236.5 77.2L237.3 77.6L238.1 78.1L239.0 78.6L239.8 79.1L240.6 79.6L241.4 80.1L242.3 80.6L243.1 81.1L243.9 81.7L244.7 82.3L245.6 83.0L246.4 83.8L247.2 84.5L248.0 85.3L248.8 86.0L249.7 86.7L250.5 87.3L251.3 87.9L252.1 88.3L253.0 88.6L253.8 88.7L254.6 88.6L255.4 88.4L256.3 88.0L257.1 87.4L257.9 86.8L258.7 86.1L259.5 85.3L260.4 84.6L261.2 84.0L262.0 83.4L262.8 82.9L263.7 82.6L264.5 82.5L265.3 82.5L266.1 82.5L266.9 82.6L267.8 82.6L268.6 82.6L269.4 82.7L270.2 82.8L271.1 82.8L271.9 82.9L272.7 83.0L273.5 83.1L274.4 83.2L275.2 83.3L276.0 83.5L276.8 83.7L277.6 84.0L278.5 84.3L279.3 84.7L280.1 85.2L280.9 86.0L281.8 87.0L282.6 88.2L283.4 89.6L284.2 91.0L285.1 92.5L285.9 94.2L286.7 96.2L287.5 98.5L288.3 100.9L289.2 103.4L290.0 106.9L290.8 110.8L291.6 113.7L292.5 114.6L293.3 115.2L294.1 115.7L294.9 116.0L295.8 116.3L296.6 116.5L297.4 116.8L298.2 117.0L299.0 117.1L299.9 117.3L300.7 117.5L301.5 117.6L302.3 117.8L303.2 117.9L304.0 118.1L304.8 118.2L305.6 118.2L306.4 118.2L307.3 117.9L308.1 117.6L308.9 117.2L309.7 116.7L310.6 116.1L311.4 114.4L312.2 111.5L313.0 108.6L313.9 106.8L314.7 107.1L315.5 109.1L316.3 111.9L317.1 114.5L318.0 116.3L318.8 117.8L319.6 119.2L320.4 120.4L321.3 121.3" fill="none" stroke="#fdd161" stroke-width="0.62" stroke-opacity="0.7" stroke-linejoin="round"/><path d="M321.3 121.3L322.1 121.8L322.9 122.0L323.7 122.2L324.6 122.4L325.4 122.5L326.2 122.6L327.0 122.7L327.8 122.8L328.7 122.8L329.5 122.9L330.3 123.0L331.1 123.1L332.0 123.1L332.8 123.2L333.6 123.3L334.4 123.4L335.2 123.4L336.1 123.5L336.9 123.6L337.7 123.7L338.5 123.7L339.4 123.8L340.2 123.8L341.0 123.9L341.8 124.0L342.7 124.0L343.5 124.0L344.3 124.1L345.1 124.1L345.9 124.2L346.8 124.2" fill="none" stroke="#fdd161" stroke-width="0.62" stroke-opacity="0.42" stroke-linejoin="round"/>
<path d="M223.3 65.7L224.2 64.2L225.0 62.8L225.8 61.5L226.6 60.3L227.4 59.3L228.3 58.4L229.1 57.6L229.9 57.0L230.7 56.5L231.6 56.2L232.4 56.0L233.2 56.0L234.0 56.2L234.9 56.5L235.7 57.0L236.5 57.6L237.3 58.3L238.1 59.1L239.0 59.9L239.8 60.7L240.6 61.6L241.4 62.4L242.3 63.2L243.1 64.0L243.9 64.8L244.7 65.8L245.6 66.9L246.4 68.0L247.2 69.1L248.0 70.2L248.8 71.3L249.7 72.3L250.5 73.2L251.3 74.0L252.1 74.6L253.0 75.0L253.8 75.2L254.6 75.2L255.4 74.9L256.3 74.5L257.1 73.9L257.9 73.1L258.7 72.3L259.5 71.5L260.4 70.6L261.2 69.7L262.0 68.9L262.8 68.1L263.7 67.5L264.5 67.0L265.3 66.6L266.1 66.2L266.9 65.8L267.8 65.4L268.6 65.0L269.4 64.6L270.2 64.3L271.1 64.0L271.9 63.7L272.7 63.5L273.5 63.4L274.4 63.3L275.2 63.3L276.0 63.5L276.8 64.0L277.6 64.7L278.5 65.5L279.3 66.4L280.1 67.3L280.9 68.7L281.8 70.4L282.6 72.4L283.4 74.6L284.2 76.8L285.1 79.1L285.9 81.5L286.7 84.0L287.5 86.8L288.3 89.9L289.2 93.5L290.0 99.0L290.8 105.8L291.6 110.8L292.5 112.1L293.3 112.9L294.1 113.4L294.9 113.8L295.8 114.2L296.6 114.5L297.4 114.8L298.2 115.1L299.0 115.3L299.9 115.5L300.7 115.7L301.5 115.9L302.3 116.1L303.2 116.3L304.0 116.4L304.8 116.6L305.6 116.6L306.4 116.5L307.3 116.2L308.1 115.6L308.9 114.9L309.7 114.0L310.6 113.0L311.4 110.2L312.2 105.4L313.0 100.6L313.9 97.6L314.7 98.1L315.5 101.3L316.3 105.9L317.1 110.2L318.0 113.0L318.8 115.2L319.6 117.3L320.4 119.1L321.3 120.4" fill="none" stroke="#fdd465" stroke-width="0.62" stroke-opacity="0.7" stroke-linejoin="round"/><path d="M321.3 120.4L322.1 121.2L322.9 121.6L323.7 121.9L324.6 122.2L325.4 122.5L326.2 122.7L327.0 122.9L327.8 123.0L328.7 123.2L329.5 123.3L330.3 123.4L331.1 123.5L332.0 123.6L332.8 123.6L333.6 123.7L334.4 123.8L335.2 123.9L336.1 124.0L336.9 124.0L337.7 124.1L338.5 124.2L339.4 124.2L340.2 124.3L341.0 124.3L341.8 124.3L342.7 124.4L343.5 124.4L344.3 124.4L345.1 124.4L345.9 124.5L346.8 124.5" fill="none" stroke="#fdd465" stroke-width="0.62" stroke-opacity="0.42" stroke-linejoin="round"/>
<path d="M223.3 62.0L224.2 60.5L225.0 59.1L225.8 58.0L226.6 56.9L227.4 56.0L228.3 55.3L229.1 54.7L229.9 54.2L230.7 53.8L231.6 53.6L232.4 53.4L233.2 53.4L234.0 53.7L234.9 54.3L235.7 55.0L236.5 56.0L237.3 57.1L238.1 58.3L239.0 59.6L239.8 60.8L240.6 62.1L241.4 63.2L242.3 64.2L243.1 65.1L243.9 66.0L244.7 67.0L245.6 68.0L246.4 69.0L247.2 69.9L248.0 70.7L248.8 71.4L249.7 71.9L250.5 72.1L251.3 72.1L252.1 72.0L253.0 71.9L253.8 71.7L254.6 71.5L255.4 71.2L256.3 70.9L257.1 70.6L257.9 70.2L258.7 69.8L259.5 69.5L260.4 69.1L261.2 68.7L262.0 68.3L262.8 68.0L263.7 67.6L264.5 67.3L265.3 67.0L266.1 66.7L266.9 66.3L267.8 66.0L268.6 65.6L269.4 65.3L270.2 65.0L271.1 64.7L271.9 64.5L272.7 64.4L273.5 64.4L274.4 64.5L275.2 64.6L276.0 64.8L276.8 65.0L277.6 65.3L278.5 65.7L279.3 66.1L280.1 66.8L280.9 68.4L281.8 70.8L282.6 73.7L283.4 76.8L284.2 79.7L285.1 82.3L285.9 84.5L286.7 86.5L287.5 88.6L288.3 90.9L289.2 93.7L290.0 98.3L290.8 104.1L291.6 108.5L292.5 109.9L293.3 110.8L294.1 111.5L294.9 112.0L295.8 112.4L296.6 112.8L297.4 113.1L298.2 113.4L299.0 113.7L299.9 113.9L300.7 114.2L301.5 114.4L302.3 114.6L303.2 114.8L304.0 115.1L304.8 115.2L305.6 115.3L306.4 115.3L307.3 115.2L308.1 115.1L308.9 115.0L309.7 114.8L310.6 114.6L311.4 114.0L312.2 112.8L313.0 111.6L313.9 110.8L314.7 111.0L315.5 111.9L316.3 113.3L317.1 114.7L318.0 115.9L318.8 117.0L319.6 118.1L320.4 119.2L321.3 120.1" fill="none" stroke="#fdd96b" stroke-width="0.62" stroke-opacity="0.7" stroke-linejoin="round"/><path d="M321.3 120.1L322.1 120.6L322.9 120.9L323.7 121.2L324.6 121.4L325.4 121.6L326.2 121.8L327.0 122.0L327.8 122.1L328.7 122.2L329.5 122.4L330.3 122.5L331.1 122.6L332.0 122.7L332.8 122.8L333.6 122.9L334.4 123.0L335.2 123.1L336.1 123.2L336.9 123.3L337.7 123.4L338.5 123.5L339.4 123.6L340.2 123.6L341.0 123.7L341.8 123.8L342.7 123.8L343.5 123.9L344.3 123.9L345.1 123.9L345.9 124.0L346.8 124.0" fill="none" stroke="#fdd96b" stroke-width="0.62" stroke-opacity="0.42" stroke-linejoin="round"/>
<path d="M223.3 76.6L224.2 75.4L225.0 74.2L225.8 73.2L226.6 72.3L227.4 71.4L228.3 70.7L229.1 70.1L229.9 69.6L230.7 69.2L231.6 68.9L232.4 68.7L233.2 68.7L234.0 68.8L234.9 69.1L235.7 69.5L236.5 69.9L237.3 70.5L238.1 71.1L239.0 71.7L239.8 72.3L240.6 73.0L241.4 73.6L242.3 74.2L243.1 74.8L243.9 75.4L244.7 76.2L245.6 77.0L246.4 77.8L247.2 78.6L248.0 79.5L248.8 80.3L249.7 81.1L250.5 81.8L251.3 82.5L252.1 83.0L253.0 83.4L253.8 83.7L254.6 83.8L255.4 83.7L256.3 83.5L257.1 83.0L257.9 82.5L258.7 81.8L259.5 81.1L260.4 80.3L261.2 79.5L262.0 78.8L262.8 78.1L263.7 77.6L264.5 77.1L265.3 76.8L266.1 76.4L266.9 76.1L267.8 75.7L268.6 75.4L269.4 75.2L270.2 75.0L271.1 74.9L271.9 74.8L272.7 74.9L273.5 75.0L274.4 75.3L275.2 75.7L276.0 76.2L276.8 76.8L277.6 77.4L278.5 78.1L279.3 78.8L280.1 79.6L280.9 80.8L281.8 82.2L282.6 83.9L283.4 85.7L284.2 87.5L285.1 89.4L285.9 91.2L286.7 93.1L287.5 95.1L288.3 97.4L289.2 100.0L290.0 104.0L290.8 109.0L291.6 112.7L292.5 113.8L293.3 114.5L294.1 115.0L294.9 115.3L295.8 115.6L296.6 115.9L297.4 116.1L298.2 116.4L299.0 116.6L299.9 116.7L300.7 116.9L301.5 117.1L302.3 117.2L303.2 117.4L304.0 117.6L304.8 117.7L305.6 117.7L306.4 117.6L307.3 117.4L308.1 117.0L308.9 116.4L309.7 115.8L310.6 115.0L311.4 112.9L312.2 109.4L313.0 105.7L313.9 103.5L314.7 103.8L315.5 106.3L316.3 109.7L317.1 113.0L318.0 115.1L318.8 116.9L319.6 118.5L320.4 119.9L321.3 121.0" fill="none" stroke="#fdc155" stroke-width="0.62" stroke-opacity="0.7" stroke-linejoin="round"/><path d="M321.3 121.0L322.1 121.6L322.9 122.0L323.7 122.3L324.6 122.6L325.4 122.9L326.2 123.1L327.0 123.3L327.8 123.5L328.7 123.6L329.5 123.7L330.3 123.8L331.1 123.9L332.0 123.9L332.8 124.0L333.6 124.0L334.4 124.1L335.2 124.2L336.1 124.2L336.9 124.2L337.7 124.3L338.5 124.3L339.4 124.4L340.2 124.4L341.0 124.4L341.8 124.4L342.7 124.5L343.5 124.5L344.3 124.5L345.1 124.5L345.9 124.5L346.8 124.5" fill="none" stroke="#fdc155" stroke-width="0.62" stroke-opacity="0.42" stroke-linejoin="round"/>
<path d="M223.3 71.7L224.2 70.5L225.0 69.5L225.8 68.6L226.6 67.8L227.4 67.1L228.3 66.5L229.1 66.0L229.9 65.6L230.7 65.4L231.6 65.2L232.4 65.1L233.2 65.1L234.0 65.3L234.9 65.7L235.7 66.2L236.5 67.0L237.3 67.8L238.1 68.7L239.0 69.7L239.8 70.7L240.6 71.7L241.4 72.6L242.3 73.5L243.1 74.3L243.9 75.3L244.7 76.3L245.6 77.4L246.4 78.6L247.2 79.7L248.0 80.7L248.8 81.7L249.7 82.5L250.5 83.2L251.3 83.6L252.1 83.8L253.0 83.8L253.8 83.6L254.6 83.3L255.4 82.9L256.3 82.4L257.1 81.8L257.9 81.2L258.7 80.6L259.5 79.9L260.4 79.3L261.2 78.6L262.0 78.0L262.8 77.5L263.7 77.0L264.5 76.6L265.3 76.3L266.1 75.9L266.9 75.5L267.8 75.2L268.6 74.8L269.4 74.5L270.2 74.2L271.1 74.0L271.9 73.8L272.7 73.7L273.5 73.6L274.4 73.7L275.2 73.9L276.0 74.3L276.8 74.8L277.6 75.4L278.5 76.0L279.3 76.7L280.1 77.6L280.9 78.9L281.8 80.5L282.6 82.3L283.4 84.3L284.2 86.3L285.1 88.2L285.9 90.0L286.7 91.7L287.5 93.6L288.3 95.8L289.2 98.4L290.0 103.0L290.8 108.9L291.6 113.2L292.5 114.3L293.3 114.9L294.1 115.4L294.9 115.7L295.8 116.0L296.6 116.3L297.4 116.5L298.2 116.7L299.0 116.9L299.9 117.1L300.7 117.2L301.5 117.4L302.3 117.5L303.2 117.7L304.0 117.9L304.8 118.0L305.6 118.0L306.4 117.9L307.3 117.6L308.1 117.1L308.9 116.5L309.7 115.7L310.6 114.7L311.4 112.3L312.2 108.0L313.0 103.6L313.9 101.0L314.7 101.4L315.5 104.3L316.3 108.3L317.1 112.2L318.0 114.6L318.8 116.6L319.6 118.5L320.4 120.1L321.3 121.2" fill="none" stroke="#fde075" stroke-width="0.62" stroke-opacity="0.7" stroke-linejoin="round"/><path d="M321.3 121.2L322.1 121.7L322.9 121.9L323.7 122.1L324.6 122.2L325.4 122.3L326.2 122.4L327.0 122.5L327.8 122.6L328.7 122.6L329.5 122.7L330.3 122.7L331.1 122.8L332.0 122.9L332.8 122.9L333.6 123.0L334.4 123.0L335.2 123.1L336.1 123.1L336.9 123.2L337.7 123.2L338.5 123.3L339.4 123.3L340.2 123.4L341.0 123.4L341.8 123.4L342.7 123.5L343.5 123.5L344.3 123.5L345.1 123.5L345.9 123.5L346.8 123.5" fill="none" stroke="#fde075" stroke-width="0.62" stroke-opacity="0.42" stroke-linejoin="round"/>
<path d="M223.3 68.6L224.2 67.3L225.0 66.0L225.8 64.9L226.6 63.9L227.4 63.0L228.3 62.2L229.1 61.6L229.9 61.0L230.7 60.6L231.6 60.3L232.4 60.1L233.2 60.1L234.0 60.3L234.9 60.6L235.7 61.0L236.5 61.5L237.3 62.2L238.1 62.9L239.0 63.6L239.8 64.3L240.6 65.0L241.4 65.7L242.3 66.3L243.1 66.9L243.9 67.5L244.7 68.2L245.6 68.9L246.4 69.7L247.2 70.4L248.0 71.1L248.8 71.7L249.7 72.2L250.5 72.7L251.3 73.0L252.1 73.2L253.0 73.2L253.8 73.2L254.6 73.1L255.4 73.0L256.3 72.8L257.1 72.6L257.9 72.5L258.7 72.2L259.5 72.0L260.4 71.8L261.2 71.5L262.0 71.3L262.8 71.0L263.7 70.8L264.5 70.5L265.3 70.2L266.1 69.9L266.9 69.4L267.8 69.0L268.6 68.6L269.4 68.2L270.2 67.9L271.1 67.7L271.9 67.6L272.7 67.6L273.5 67.7L274.4 68.0L275.2 68.3L276.0 68.7L276.8 69.1L277.6 69.7L278.5 70.2L279.3 70.8L280.1 71.5L280.9 72.4L281.8 73.6L282.6 75.0L283.4 76.5L284.2 78.3L285.1 80.2L285.9 82.5L286.7 85.3L287.5 88.6L288.3 92.2L289.2 95.9L290.0 100.9L290.8 106.6L291.6 110.7L292.5 112.0L293.3 112.7L294.1 113.3L294.9 113.7L295.8 114.1L296.6 114.4L297.4 114.7L298.2 115.0L299.0 115.2L299.9 115.4L300.7 115.6L301.5 115.8L302.3 116.0L303.2 116.2L304.0 116.4L304.8 116.5L305.6 116.6L306.4 116.5L307.3 116.4L308.1 116.2L308.9 115.9L309.7 115.6L310.6 115.2L311.4 114.1L312.2 112.2L313.0 110.2L313.9 109.0L314.7 109.2L315.5 110.6L316.3 112.6L317.1 114.6L318.0 116.1L318.8 117.4L319.6 118.6L320.4 119.8L321.3 120.6" fill="none" stroke="#fdc356" stroke-width="0.62" stroke-opacity="0.7" stroke-linejoin="round"/><path d="M321.3 120.6L322.1 121.1L322.9 121.4L323.7 121.6L324.6 121.8L325.4 121.9L326.2 122.1L327.0 122.2L327.8 122.3L328.7 122.4L329.5 122.5L330.3 122.6L331.1 122.7L332.0 122.8L332.8 122.8L333.6 122.9L334.4 123.0L335.2 123.1L336.1 123.2L336.9 123.3L337.7 123.4L338.5 123.5L339.4 123.5L340.2 123.6L341.0 123.7L341.8 123.7L342.7 123.8L343.5 123.9L344.3 123.9L345.1 123.9L345.9 124.0L346.8 124.0" fill="none" stroke="#fdc356" stroke-width="0.62" stroke-opacity="0.42" stroke-linejoin="round"/>
<path d="M223.3 59.4L224.2 58.2L225.0 57.2L225.8 56.4L226.6 55.7L227.4 55.1L228.3 54.6L229.1 54.3L229.9 54.0L230.7 53.8L231.6 53.7L232.4 53.6L233.2 53.6L234.0 54.0L234.9 54.7L235.7 55.8L236.5 57.0L237.3 58.4L238.1 59.8L239.0 61.3L239.8 62.6L240.6 63.8L241.4 64.8L242.3 65.4L243.1 65.7L243.9 66.0L244.7 66.3L245.6 66.6L246.4 66.8L247.2 67.0L248.0 67.2L248.8 67.4L249.7 67.6L250.5 67.7L251.3 67.8L252.1 67.9L253.0 68.0L253.8 68.0L254.6 68.0L255.4 67.9L256.3 67.8L257.1 67.7L257.9 67.5L258.7 67.3L259.5 67.1L260.4 66.9L261.2 66.7L262.0 66.5L262.8 66.4L263.7 66.3L264.5 66.3L265.3 66.3L266.1 66.3L266.9 66.3L267.8 66.3L268.6 66.3L269.4 66.3L270.2 66.3L271.1 66.3L271.9 66.3L272.7 66.3L273.5 66.3L274.4 66.2L275.2 66.2L276.0 66.0L276.8 65.9L277.6 65.8L278.5 65.7L279.3 65.7L280.1 65.9L280.9 66.9L281.8 68.6L282.6 70.8L283.4 73.3L284.2 75.8L285.1 78.3L285.9 80.7L286.7 83.3L287.5 86.2L288.3 89.5L289.2 93.1L290.0 98.4L290.8 104.9L291.6 109.5L292.5 110.9L293.3 111.8L294.1 112.4L294.9 112.8L295.8 113.2L296.6 113.6L297.4 113.9L298.2 114.2L299.0 114.4L299.9 114.6L300.7 114.8L301.5 115.0L302.3 115.3L303.2 115.5L304.0 115.7L304.8 115.8L305.6 115.9L306.4 115.8L307.3 115.7L308.1 115.4L308.9 115.0L309.7 114.5L310.6 114.0L311.4 112.4L312.2 109.7L313.0 106.9L313.9 105.2L314.7 105.5L315.5 107.4L316.3 110.1L317.1 112.8L318.0 114.7L318.8 116.2L319.6 117.7L320.4 119.1L321.3 120.1" fill="none" stroke="#fdcf5f" stroke-width="0.62" stroke-opacity="0.7" stroke-linejoin="round"/><path d="M321.3 120.1L322.1 120.9L322.9 121.4L323.7 121.8L324.6 122.3L325.4 122.7L326.2 123.0L327.0 123.3L327.8 123.5L328.7 123.7L329.5 123.8L330.3 123.9L331.1 123.9L332.0 123.9L332.8 123.9L333.6 123.9L334.4 123.9L335.2 123.8L336.1 123.8L336.9 123.8L337.7 123.8L338.5 123.8L339.4 123.8L340.2 123.8L341.0 123.8L341.8 123.8L342.7 123.8L343.5 123.8L344.3 123.7L345.1 123.7L345.9 123.7L346.8 123.7" fill="none" stroke="#fdcf5f" stroke-width="0.62" stroke-opacity="0.42" stroke-linejoin="round"/>
<path d="M223.3 68.9L224.2 67.7L225.0 66.5L225.8 65.5L226.6 64.7L227.4 64.0L228.3 63.4L229.1 62.9L229.9 62.5L230.7 62.3L231.6 62.1L232.4 62.0L233.2 62.0L234.0 62.3L234.9 63.0L235.7 63.9L236.5 65.0L237.3 66.2L238.1 67.5L239.0 68.8L239.8 70.1L240.6 71.3L241.4 72.3L242.3 73.0L243.1 73.6L243.9 74.1L244.7 74.6L245.6 75.1L246.4 75.6L247.2 76.1L248.0 76.5L248.8 76.8L249.7 77.1L250.5 77.4L251.3 77.5L252.1 77.6L253.0 77.6L253.8 77.3L254.6 76.9L255.4 76.4L256.3 75.7L257.1 74.9L257.9 74.1L258.7 73.3L259.5 72.5L260.4 71.7L261.2 71.0L262.0 70.4L262.8 69.9L263.7 69.6L264.5 69.5L265.3 69.6L266.1 70.0L266.9 70.6L267.8 71.2L268.6 72.0L269.4 72.7L270.2 73.3L271.1 73.8L271.9 74.1L272.7 74.4L273.5 74.6L274.4 74.7L275.2 74.9L276.0 75.1L276.8 75.2L277.6 75.4L278.5 75.7L279.3 76.0L280.1 76.5L280.9 77.3L281.8 78.5L282.6 79.9L283.4 81.6L284.2 83.3L285.1 85.1L285.9 87.1L286.7 89.4L287.5 92.0L288.3 95.0L289.2 98.2L290.0 102.9L290.8 108.5L291.6 112.6L292.5 113.8L293.3 114.4L294.1 114.9L294.9 115.3L295.8 115.6L296.6 115.8L297.4 116.1L298.2 116.3L299.0 116.5L299.9 116.7L300.7 116.8L301.5 117.0L302.3 117.2L303.2 117.4L304.0 117.5L304.8 117.6L305.6 117.7L306.4 117.6L307.3 117.3L308.1 116.8L308.9 116.3L309.7 115.5L310.6 114.7L311.4 112.4L312.2 108.5L313.0 104.5L313.9 102.0L314.7 102.4L315.5 105.1L316.3 108.8L317.1 112.4L318.0 114.7L318.8 116.6L319.6 118.3L320.4 119.8L321.3 120.9" fill="none" stroke="#fee075" stroke-width="0.62" stroke-opacity="0.7" stroke-linejoin="round"/><path d="M321.3 120.9L322.1 121.6L322.9 122.0L323.7 122.3L324.6 122.5L325.4 122.8L326.2 123.0L327.0 123.1L327.8 123.3L328.7 123.4L329.5 123.5L330.3 123.6L331.1 123.7L332.0 123.7L332.8 123.8L333.6 123.9L334.4 123.9L335.2 124.0L336.1 124.1L336.9 124.1L337.7 124.2L338.5 124.2L339.4 124.3L340.2 124.3L341.0 124.4L341.8 124.4L342.7 124.4L343.5 124.4L344.3 124.5L345.1 124.5L345.9 124.5L346.8 124.5" fill="none" stroke="#fee075" stroke-width="0.62" stroke-opacity="0.42" stroke-linejoin="round"/>
<path d="M223.3 77.1L224.2 76.1L225.0 75.1L225.8 74.2L226.6 73.3L227.4 72.6L228.3 71.9L229.1 71.2L229.9 70.7L230.7 70.3L231.6 70.1L232.4 69.9L233.2 69.9L234.0 69.9L234.9 70.0L235.7 70.1L236.5 70.3L237.3 70.5L238.1 70.8L239.0 71.0L239.8 71.3L240.6 71.6L241.4 71.9L242.3 72.2L243.1 72.6L243.9 73.1L244.7 73.8L245.6 74.5L246.4 75.3L247.2 76.2L248.0 77.1L248.8 77.9L249.7 78.7L250.5 79.3L251.3 79.8L252.1 80.2L253.0 80.3L253.8 80.3L254.6 80.2L255.4 80.0L256.3 79.7L257.1 79.4L257.9 79.0L258.7 78.7L259.5 78.3L260.4 77.9L261.2 77.6L262.0 77.2L262.8 77.0L263.7 76.8L264.5 76.6L265.3 76.5L266.1 76.4L266.9 76.4L267.8 76.3L268.6 76.2L269.4 76.1L270.2 76.1L271.1 76.0L271.9 76.0L272.7 76.0L273.5 75.9L274.4 75.9L275.2 76.0L276.0 76.2L276.8 76.5L277.6 76.9L278.5 77.4L279.3 77.9L280.1 78.6L280.9 79.6L281.8 80.8L282.6 82.3L283.4 83.9L284.2 85.6L285.1 87.4L285.9 89.2L286.7 91.3L287.5 93.5L288.3 96.1L289.2 98.9L290.0 103.1L290.8 108.1L291.6 111.7L292.5 112.9L293.3 113.6L294.1 114.1L294.9 114.5L295.8 114.8L296.6 115.2L297.4 115.4L298.2 115.7L299.0 115.9L299.9 116.1L300.7 116.2L301.5 116.4L302.3 116.6L303.2 116.8L304.0 117.0L304.8 117.1L305.6 117.1L306.4 117.1L307.3 116.9L308.1 116.6L308.9 116.1L309.7 115.6L310.6 115.0L311.4 113.4L312.2 110.6L313.0 107.7L313.9 105.9L314.7 106.2L315.5 108.2L316.3 111.0L317.1 113.7L318.0 115.5L318.8 117.1L319.6 118.6L320.4 119.8L321.3 120.8" fill="none" stroke="#fdda6d" stroke-width="0.62" stroke-opacity="0.7" stroke-linejoin="round"/><path d="M321.3 120.8L322.1 121.4L322.9 121.7L323.7 121.9L324.6 122.1L325.4 122.3L326.2 122.4L327.0 122.6L327.8 122.7L328.7 122.8L329.5 122.9L330.3 123.0L331.1 123.0L332.0 123.1L332.8 123.2L333.6 123.3L334.4 123.4L335.2 123.5L336.1 123.5L336.9 123.6L337.7 123.7L338.5 123.7L339.4 123.8L340.2 123.8L341.0 123.9L341.8 123.9L342.7 124.0L343.5 124.0L344.3 124.0L345.1 124.0L345.9 124.1L346.8 124.1" fill="none" stroke="#fdda6d" stroke-width="0.62" stroke-opacity="0.42" stroke-linejoin="round"/>
<path d="M223.3 65.8L224.2 64.7L225.0 63.7L225.8 62.8L226.6 62.0L227.4 61.4L228.3 60.9L229.1 60.4L229.9 60.1L230.7 59.8L231.6 59.6L232.4 59.6L233.2 59.6L234.0 59.8L234.9 60.3L235.7 61.0L236.5 61.8L237.3 62.7L238.1 63.7L239.0 64.8L239.8 65.8L240.6 66.7L241.4 67.5L242.3 68.1L243.1 68.6L243.9 69.1L244.7 69.6L245.6 70.0L246.4 70.5L247.2 70.9L248.0 71.3L248.8 71.7L249.7 72.0L250.5 72.2L251.3 72.4L252.1 72.5L253.0 72.6L253.8 72.5L254.6 72.5L255.4 72.3L256.3 72.2L257.1 72.0L257.9 71.8L258.7 71.6L259.5 71.3L260.4 71.1L261.2 70.8L262.0 70.6L262.8 70.3L263.7 70.1L264.5 69.9L265.3 69.6L266.1 69.4L266.9 69.0L267.8 68.7L268.6 68.4L269.4 68.2L270.2 68.0L271.1 67.9L271.9 67.9L272.7 68.1L273.5 68.6L274.4 69.2L275.2 70.0L276.0 71.0L276.8 72.0L277.6 73.0L278.5 74.1L279.3 75.0L280.1 75.9L280.9 76.8L281.8 77.7L282.6 78.6L283.4 79.7L284.2 80.9L285.1 82.3L285.9 84.2L286.7 86.5L287.5 89.2L288.3 92.3L289.2 95.6L290.0 100.4L290.8 106.1L291.6 110.3L292.5 111.6L293.3 112.4L294.1 113.0L294.9 113.4L295.8 113.8L296.6 114.1L297.4 114.4L298.2 114.7L299.0 114.9L299.9 115.1L300.7 115.3L301.5 115.5L302.3 115.7L303.2 115.9L304.0 116.1L304.8 116.3L305.6 116.3L306.4 116.3L307.3 116.2L308.1 116.1L308.9 115.9L309.7 115.7L310.6 115.4L311.4 114.6L312.2 113.2L313.0 111.7L313.9 110.8L314.7 110.9L315.5 112.0L316.3 113.6L317.1 115.2L318.0 116.4L318.8 117.5L319.6 118.6L320.4 119.6L321.3 120.5" fill="none" stroke="#feed86" stroke-width="0.62" stroke-opacity="0.7" stroke-linejoin="round"/><path d="M321.3 120.5L322.1 121.0L322.9 121.4L323.7 121.8L324.6 122.2L325.4 122.5L326.2 122.8L327.0 123.0L327.8 123.2L328.7 123.4L329.5 123.5L330.3 123.6L331.1 123.6L332.0 123.6L332.8 123.6L333.6 123.6L334.4 123.6L335.2 123.7L336.1 123.7L336.9 123.7L337.7 123.7L338.5 123.7L339.4 123.7L340.2 123.7L341.0 123.7L341.8 123.7L342.7 123.7L343.5 123.7L344.3 123.7L345.1 123.7L345.9 123.7L346.8 123.7" fill="none" stroke="#feed86" stroke-width="0.62" stroke-opacity="0.42" stroke-linejoin="round"/>
<path d="M223.3 53.7L224.2 51.8L225.0 50.1L225.8 48.6L226.6 47.3L227.4 46.2L228.3 45.4L229.1 44.7L229.9 44.3L230.7 44.1L231.6 44.2L232.4 44.6L233.2 45.2L234.0 46.0L234.9 46.9L235.7 47.8L236.5 48.6L237.3 49.3L238.1 50.0L239.0 50.7L239.8 51.4L240.6 52.1L241.4 52.8L242.3 53.5L243.1 54.2L243.9 54.8L244.7 55.4L245.6 55.9L246.4 56.4L247.2 56.9L248.0 57.4L248.8 57.8L249.7 58.3L250.5 58.7L251.3 59.2L252.1 59.6L253.0 60.0L253.8 60.4L254.6 60.7L255.4 61.0L256.3 61.3L257.1 61.4L257.9 61.6L258.7 61.6L259.5 61.6L260.4 61.5L261.2 61.2L262.0 60.9L262.8 60.6L263.7 60.1L264.5 59.7L265.3 59.3L266.1 58.9L266.9 58.5L267.8 58.2L268.6 58.0L269.4 57.8L270.2 57.8L271.1 57.9L271.9 58.2L272.7 58.5L273.5 59.0L274.4 59.5L275.2 60.2L276.0 60.8L276.8 61.6L277.6 62.3L278.5 63.1L279.3 63.9L280.1 65.0L280.9 66.2L281.8 67.6L282.6 69.1L283.4 70.8L284.2 72.6L285.1 74.6L285.9 76.9L286.7 79.8L287.5 83.2L288.3 86.9L289.2 91.1L290.0 97.2L290.8 104.7L291.6 110.1L292.5 111.5L293.3 112.3L294.1 112.9L294.9 113.3L295.8 113.7L296.6 114.0L297.4 114.3L298.2 114.6L299.0 114.8L299.9 115.0L300.7 115.2L301.5 115.4L302.3 115.6L303.2 115.8L304.0 116.0L304.8 116.2L305.6 116.2L306.4 116.2L307.3 116.2L308.1 116.1L308.9 116.0L309.7 115.9L310.6 115.8L311.4 115.3L312.2 114.3L313.0 113.4L313.9 112.8L314.7 112.9L315.5 113.7L316.3 114.8L317.1 116.0L318.0 116.9L318.8 117.9L319.6 118.8L320.4 119.7L321.3 120.5" fill="none" stroke="#fdd567" stroke-width="0.62" stroke-opacity="0.7" stroke-linejoin="round"/><path d="M321.3 120.5L322.1 121.0L322.9 121.3L323.7 121.6L324.6 121.9L325.4 122.1L326.2 122.4L327.0 122.5L327.8 122.7L328.7 122.8L329.5 123.0L330.3 123.1L331.1 123.2L332.0 123.3L332.8 123.3L333.6 123.4L334.4 123.5L335.2 123.6L336.1 123.7L336.9 123.7L337.7 123.8L338.5 123.9L339.4 123.9L340.2 124.0L341.0 124.0L341.8 124.1L342.7 124.1L343.5 124.2L344.3 124.2L345.1 124.2L345.9 124.2L346.8 124.2" fill="none" stroke="#fdd567" stroke-width="0.62" stroke-opacity="0.42" stroke-linejoin="round"/>
<path d="M223.3 59.6L224.2 57.3L225.0 55.2L225.8 53.3L226.6 51.7L227.4 50.4L228.3 49.3L229.1 48.5L229.9 48.0L230.7 47.8L231.6 47.9L232.4 48.4L233.2 49.3L234.0 50.3L234.9 51.5L235.7 52.6L236.5 53.6L237.3 54.3L238.1 54.9L239.0 55.5L239.8 56.1L240.6 56.6L241.4 57.1L242.3 57.6L243.1 58.1L243.9 58.5L244.7 58.9L245.6 59.3L246.4 59.6L247.2 59.8L248.0 60.1L248.8 60.3L249.7 60.5L250.5 60.7L251.3 60.9L252.1 61.1L253.0 61.2L253.8 61.4L254.6 61.5L255.4 61.7L256.3 61.8L257.1 62.0L257.9 62.1L258.7 62.3L259.5 62.4L260.4 62.6L261.2 62.7L262.0 62.8L262.8 62.9L263.7 63.0L264.5 63.1L265.3 63.3L266.1 63.4L266.9 63.5L267.8 63.6L268.6 63.8L269.4 64.0L270.2 64.2L271.1 64.4L271.9 64.6L272.7 64.8L273.5 65.1L274.4 65.4L275.2 65.8L276.0 66.2L276.8 66.6L277.6 67.1L278.5 67.6L279.3 68.3L280.1 69.3L280.9 70.4L281.8 71.7L282.6 73.1L283.4 74.7L284.2 76.4L285.1 78.2L285.9 80.4L286.7 83.1L287.5 86.2L288.3 89.7L289.2 93.5L290.0 98.8L290.8 105.0L291.6 109.6L292.5 111.0L293.3 111.8L294.1 112.4L294.9 112.9L295.8 113.3L296.6 113.6L297.4 113.9L298.2 114.2L299.0 114.4L299.9 114.7L300.7 114.9L301.5 115.1L302.3 115.3L303.2 115.5L304.0 115.7L304.8 115.9L305.6 115.9L306.4 115.9L307.3 115.8L308.1 115.7L308.9 115.5L309.7 115.2L310.6 115.0L311.4 114.1L312.2 112.7L313.0 111.1L313.9 110.2L314.7 110.4L315.5 111.5L316.3 113.1L317.1 114.8L318.0 116.0L318.8 117.2L319.6 118.4L320.4 119.5L321.3 120.3" fill="none" stroke="#fdde72" stroke-width="0.62" stroke-opacity="0.7" stroke-linejoin="round"/><path d="M321.3 120.3L322.1 120.9L322.9 121.2L323.7 121.5L324.6 121.7L325.4 121.9L326.2 122.1L327.0 122.3L327.8 122.4L328.7 122.6L329.5 122.7L330.3 122.8L331.1 122.9L332.0 122.9L332.8 123.0L333.6 123.1L334.4 123.2L335.2 123.3L336.1 123.3L336.9 123.4L337.7 123.5L338.5 123.5L339.4 123.6L340.2 123.7L341.0 123.7L341.8 123.7L342.7 123.8L343.5 123.8L344.3 123.8L345.1 123.9L345.9 123.9L346.8 123.9" fill="none" stroke="#fdde72" stroke-width="0.62" stroke-opacity="0.42" stroke-linejoin="round"/>
<path d="M223.3 55.6L224.2 54.8L225.0 54.0L225.8 53.2L226.6 52.5L227.4 51.9L228.3 51.4L229.1 51.0L229.9 50.8L230.7 50.6L231.6 50.6L232.4 50.6L233.2 50.6L234.0 50.7L234.9 50.7L235.7 50.8L236.5 50.8L237.3 50.9L238.1 51.2L239.0 51.9L239.8 52.9L240.6 54.0L241.4 55.2L242.3 56.4L243.1 57.6L243.9 58.7L244.7 59.6L245.6 60.3L246.4 60.6L247.2 60.6L248.0 60.6L248.8 60.6L249.7 60.6L250.5 60.6L251.3 60.6L252.1 60.6L253.0 60.6L253.8 60.6L254.6 60.6L255.4 60.6L256.3 60.6L257.1 60.6L257.9 60.6L258.7 60.6L259.5 60.5L260.4 60.4L261.2 60.3L262.0 60.1L262.8 59.9L263.7 59.7L264.5 59.4L265.3 59.2L266.1 58.9L266.9 58.7L267.8 58.5L268.6 58.4L269.4 58.3L270.2 58.3L271.1 58.4L271.9 58.7L272.7 59.1L273.5 59.6L274.4 60.2L275.2 60.9L276.0 61.6L276.8 62.4L277.6 63.2L278.5 64.0L279.3 65.0L280.1 66.2L280.9 67.5L281.8 69.0L282.6 70.6L283.4 72.4L284.2 74.4L285.1 76.4L285.9 78.8L286.7 81.7L287.5 85.0L288.3 88.6L289.2 92.5L290.0 97.8L290.8 104.0L291.6 108.6L292.5 110.0L293.3 110.9L294.1 111.6L294.9 112.1L295.8 112.5L296.6 112.9L297.4 113.2L298.2 113.5L299.0 113.7L299.9 114.0L300.7 114.2L301.5 114.4L302.3 114.7L303.2 114.9L304.0 115.1L304.8 115.3L305.6 115.3L306.4 115.3L307.3 115.3L308.1 115.2L308.9 115.2L309.7 115.1L310.6 114.9L311.4 114.5L312.2 113.7L313.0 112.8L313.9 112.3L314.7 112.4L315.5 113.1L316.3 114.2L317.1 115.3L318.0 116.3L318.8 117.2L319.6 118.3L320.4 119.2L321.3 120.0" fill="none" stroke="#f9f297" stroke-width="0.62" stroke-opacity="0.7" stroke-linejoin="round"/><path d="M321.3 120.0L322.1 120.6L322.9 121.1L323.7 121.5L324.6 121.8L325.4 122.2L326.2 122.5L327.0 122.8L327.8 123.0L328.7 123.2L329.5 123.3L330.3 123.4L331.1 123.5L332.0 123.5L332.8 123.6L333.6 123.6L334.4 123.6L335.2 123.7L336.1 123.7L336.9 123.7L337.7 123.8L338.5 123.8L339.4 123.8L340.2 123.8L341.0 123.9L341.8 123.9L342.7 123.9L343.5 123.9L344.3 123.9L345.1 123.9L345.9 123.9L346.8 123.9" fill="none" stroke="#f9f297" stroke-width="0.62" stroke-opacity="0.42" stroke-linejoin="round"/>
<path d="M223.3 72.7L224.2 71.3L225.0 69.9L225.8 68.6L226.6 67.3L227.4 66.1L228.3 65.1L229.1 64.2L229.9 63.6L230.7 63.1L231.6 63.0L232.4 63.0L233.2 63.1L234.0 63.2L234.9 63.3L235.7 63.4L236.5 63.6L237.3 63.8L238.1 64.0L239.0 64.2L239.8 64.4L240.6 64.6L241.4 64.8L242.3 65.0L243.1 65.2L243.9 65.4L244.7 65.5L245.6 65.6L246.4 65.7L247.2 65.8L248.0 65.9L248.8 65.9L249.7 66.0L250.5 66.1L251.3 66.1L252.1 66.2L253.0 66.2L253.8 66.3L254.6 66.4L255.4 66.5L256.3 66.5L257.1 66.7L257.9 66.8L258.7 66.9L259.5 67.1L260.4 67.5L261.2 68.0L262.0 68.6L262.8 69.3L263.7 70.1L264.5 70.9L265.3 71.7L266.1 72.5L266.9 73.2L267.8 73.9L268.6 74.6L269.4 75.3L270.2 75.9L271.1 76.6L271.9 77.3L272.7 78.1L273.5 78.9L274.4 79.7L275.2 80.6L276.0 81.5L276.8 82.6L277.6 83.6L278.5 84.8L279.3 86.0L280.1 87.3L280.9 88.6L281.8 90.0L282.6 91.5L283.4 93.0L284.2 94.6L285.1 96.3L285.9 98.0L286.7 99.9L287.5 102.0L288.3 104.2L289.2 106.6L290.0 109.0L290.8 111.8L291.6 115.2L292.5 116.2L293.3 116.8L294.1 117.1L294.9 117.4L295.8 117.6L296.6 117.8L297.4 118.0L298.2 118.2L299.0 118.3L299.9 118.5L300.7 118.6L301.5 118.7L302.3 118.8L303.2 119.0L304.0 119.1L304.8 119.2L305.6 119.2L306.4 119.2L307.3 119.2L308.1 119.1L308.9 119.1L309.7 119.0L310.6 118.9L311.4 118.6L312.2 118.1L313.0 117.5L313.9 117.2L314.7 117.2L315.5 117.7L316.3 118.4L317.1 119.1L318.0 119.7L318.8 120.3L319.6 120.9L320.4 121.5L321.3 122.0" fill="none" stroke="#d7ecce" stroke-width="0.62" stroke-opacity="0.62" stroke-linejoin="round"/><path d="M321.3 122.0L322.1 122.2L322.9 122.4L323.7 122.5L324.6 122.7L325.4 122.8L326.2 122.9L327.0 122.9L327.8 123.0L328.7 123.1L329.5 123.1L330.3 123.2L331.1 123.2L332.0 123.2L332.8 123.3L333.6 123.3L334.4 123.4L335.2 123.4L336.1 123.4L336.9 123.5L337.7 123.5L338.5 123.5L339.4 123.5L340.2 123.6L341.0 123.6L341.8 123.6L342.7 123.6L343.5 123.6L344.3 123.6L345.1 123.6L345.9 123.6L346.8 123.6" fill="none" stroke="#d7ecce" stroke-width="0.62" stroke-opacity="0.37" stroke-linejoin="round"/>
<path d="M223.3 76.1L224.2 74.4L225.0 72.7L225.8 71.1L226.6 69.6L227.4 68.2L228.3 67.0L229.1 66.0L229.9 65.3L230.7 64.8L231.6 64.6L232.4 64.6L233.2 64.8L234.0 65.0L234.9 65.3L235.7 65.6L236.5 65.9L237.3 66.3L238.1 66.8L239.0 67.2L239.8 67.7L240.6 68.1L241.4 68.6L242.3 69.0L243.1 69.4L243.9 69.7L244.7 70.0L245.6 70.2L246.4 70.4L247.2 70.6L248.0 70.7L248.8 70.9L249.7 71.0L250.5 71.2L251.3 71.3L252.1 71.4L253.0 71.6L253.8 71.7L254.6 71.8L255.4 72.0L256.3 72.1L257.1 72.3L257.9 72.5L258.7 72.6L259.5 72.9L260.4 73.1L261.2 73.3L262.0 73.6L262.8 73.8L263.7 74.1L264.5 74.4L265.3 74.8L266.1 75.2L266.9 75.6L267.8 76.2L268.6 76.9L269.4 77.9L270.2 79.0L271.1 80.2L271.9 81.5L272.7 82.8L273.5 84.1L274.4 85.3L275.2 86.5L276.0 87.5L276.8 88.5L277.6 89.4L278.5 90.3L279.3 91.2L280.1 92.1L280.9 93.0L281.8 94.0L282.6 95.0L283.4 96.1L284.2 97.3L285.1 98.6L285.9 100.0L286.7 101.7L287.5 103.6L288.3 105.6L289.2 107.7L290.0 110.0L290.8 112.5L291.6 115.8L292.5 116.7L293.3 117.2L294.1 117.6L294.9 117.8L295.8 118.0L296.6 118.2L297.4 118.4L298.2 118.5L299.0 118.7L299.9 118.8L300.7 118.9L301.5 119.0L302.3 119.2L303.2 119.3L304.0 119.4L304.8 119.5L305.6 119.5L306.4 119.5L307.3 119.5L308.1 119.4L308.9 119.4L309.7 119.3L310.6 119.2L311.4 118.8L312.2 118.2L313.0 117.6L313.9 117.2L314.7 117.2L315.5 117.8L316.3 118.5L317.1 119.2L318.0 119.9L318.8 120.5L319.6 121.1L320.4 121.7L321.3 122.1" fill="none" stroke="#bedee2" stroke-width="0.62" stroke-opacity="0.62" stroke-linejoin="round"/><path d="M321.3 122.1L322.1 122.4L322.9 122.5L323.7 122.6L324.6 122.7L325.4 122.8L326.2 122.9L327.0 122.9L327.8 123.0L328.7 123.0L329.5 123.1L330.3 123.2L331.1 123.2L332.0 123.3L332.8 123.3L333.6 123.4L334.4 123.5L335.2 123.5L336.1 123.6L336.9 123.6L337.7 123.7L338.5 123.7L339.4 123.8L340.2 123.9L341.0 123.9L341.8 123.9L342.7 124.0L343.5 124.0L344.3 124.1L345.1 124.1L345.9 124.2L346.8 124.2" fill="none" stroke="#bedee2" stroke-width="0.62" stroke-opacity="0.37" stroke-linejoin="round"/>
<path d="M223.3 75.0L224.2 73.0L225.0 70.9L225.8 69.0L226.6 67.1L227.4 65.4L228.3 63.9L229.1 62.6L229.9 61.7L230.7 61.1L231.6 60.8L232.4 60.9L233.2 60.9L234.0 60.9L234.9 61.0L235.7 61.1L236.5 61.2L237.3 61.3L238.1 61.4L239.0 61.6L239.8 61.7L240.6 61.9L241.4 62.0L242.3 62.2L243.1 62.4L243.9 62.5L244.7 62.7L245.6 62.9L246.4 63.1L247.2 63.5L248.0 63.8L248.8 64.3L249.7 64.7L250.5 65.2L251.3 65.7L252.1 66.2L253.0 66.7L253.8 67.2L254.6 67.7L255.4 68.1L256.3 68.5L257.1 68.8L257.9 69.0L258.7 69.1L259.5 69.2L260.4 69.2L261.2 69.3L262.0 69.3L262.8 69.3L263.7 69.3L264.5 69.4L265.3 69.4L266.1 69.4L266.9 69.5L267.8 69.7L268.6 70.3L269.4 71.4L270.2 72.7L271.1 74.3L271.9 76.1L272.7 77.9L273.5 79.7L274.4 81.4L275.2 82.9L276.0 84.2L276.8 85.4L277.6 86.5L278.5 87.6L279.3 88.7L280.1 89.8L280.9 90.9L281.8 92.0L282.6 93.2L283.4 94.5L284.2 95.9L285.1 97.3L285.9 98.9L286.7 100.7L287.5 102.5L288.3 104.5L289.2 106.7L290.0 109.0L290.8 111.7L291.6 115.2L292.5 116.2L293.3 116.7L294.1 117.1L294.9 117.3L295.8 117.6L296.6 117.8L297.4 118.0L298.2 118.1L299.0 118.3L299.9 118.4L300.7 118.6L301.5 118.7L302.3 118.8L303.2 118.9L304.0 119.1L304.8 119.2L305.6 119.2L306.4 119.2L307.3 119.2L308.1 119.1L308.9 119.1L309.7 119.0L310.6 118.9L311.4 118.6L312.2 118.1L313.0 117.5L313.9 117.2L314.7 117.2L315.5 117.7L316.3 118.4L317.1 119.1L318.0 119.7L318.8 120.3L319.6 120.9L320.4 121.4L321.3 121.9" fill="none" stroke="#cde8d9" stroke-width="0.62" stroke-opacity="0.62" stroke-linejoin="round"/><path d="M321.3 121.9L322.1 122.2L322.9 122.4L323.7 122.6L324.6 122.8L325.4 123.0L326.2 123.1L327.0 123.2L327.8 123.3L328.7 123.4L329.5 123.5L330.3 123.5L331.1 123.6L332.0 123.7L332.8 123.7L333.6 123.8L334.4 123.8L335.2 123.9L336.1 123.9L336.9 124.0L337.7 124.0L338.5 124.1L339.4 124.1L340.2 124.1L341.0 124.2L341.8 124.2L342.7 124.2L343.5 124.2L344.3 124.3L345.1 124.3L345.9 124.3L346.8 124.3" fill="none" stroke="#cde8d9" stroke-width="0.62" stroke-opacity="0.37" stroke-linejoin="round"/>
<path d="M223.3 72.0L224.2 70.6L225.0 69.3L225.8 68.0L226.6 66.8L227.4 65.7L228.3 64.6L229.1 63.7L229.9 62.8L230.7 62.0L231.6 61.2L232.4 60.4L233.2 59.7L234.0 59.0L234.9 58.5L235.7 58.2L236.5 58.1L237.3 58.1L238.1 58.2L239.0 58.4L239.8 58.6L240.6 58.8L241.4 59.1L242.3 59.4L243.1 59.7L243.9 59.9L244.7 60.2L245.6 60.4L246.4 60.6L247.2 60.7L248.0 60.8L248.8 60.9L249.7 61.0L250.5 61.1L251.3 61.1L252.1 61.2L253.0 61.3L253.8 61.3L254.6 61.4L255.4 61.5L256.3 61.5L257.1 61.6L257.9 61.7L258.7 61.8L259.5 61.9L260.4 62.0L261.2 62.1L262.0 62.2L262.8 62.4L263.7 62.6L264.5 62.8L265.3 63.3L266.1 64.4L266.9 66.0L267.8 67.8L268.6 69.8L269.4 71.9L270.2 73.9L271.1 75.7L271.9 77.3L272.7 78.9L273.5 80.4L274.4 82.0L275.2 83.5L276.0 85.1L276.8 86.6L277.6 88.1L278.5 89.5L279.3 90.9L280.1 92.2L280.9 93.5L281.8 94.8L282.6 96.1L283.4 97.4L284.2 98.9L285.1 100.4L285.9 102.1L286.7 103.9L287.5 105.8L288.3 107.8L289.2 109.9L290.0 112.0L290.8 114.2L291.6 116.7L292.5 117.5L293.3 117.9L294.1 118.2L294.9 118.4L295.8 118.6L296.6 118.8L297.4 119.0L298.2 119.1L299.0 119.2L299.9 119.4L300.7 119.5L301.5 119.6L302.3 119.7L303.2 119.8L304.0 119.9L304.8 120.0L305.6 120.0L306.4 120.0L307.3 120.0L308.1 119.9L308.9 119.9L309.7 119.8L310.6 119.7L311.4 119.4L312.2 118.9L313.0 118.3L313.9 117.9L314.7 118.0L315.5 118.5L316.3 119.1L317.1 119.8L318.0 120.3L318.8 120.9L319.6 121.4L320.4 121.9L321.3 122.3" fill="none" stroke="#2568c0" stroke-width="0.62" stroke-opacity="0.62" stroke-linejoin="round"/><path d="M321.3 122.3L322.1 122.6L322.9 122.7L323.7 122.8L324.6 122.9L325.4 123.0L326.2 123.0L327.0 123.1L327.8 123.1L328.7 123.2L329.5 123.2L330.3 123.2L331.1 123.3L332.0 123.3L332.8 123.3L333.6 123.3L334.4 123.4L335.2 123.4L336.1 123.4L336.9 123.4L337.7 123.4L338.5 123.4L339.4 123.5L340.2 123.5L341.0 123.5L341.8 123.5L342.7 123.5L343.5 123.5L344.3 123.5L345.1 123.5L345.9 123.5L346.8 123.5" fill="none" stroke="#2568c0" stroke-width="0.62" stroke-opacity="0.37" stroke-linejoin="round"/>
<path d="M223.3 79.3L224.2 76.6L225.0 74.0L225.8 71.5L226.6 69.2L227.4 67.1L228.3 65.2L229.1 63.6L229.9 62.3L230.7 61.2L231.6 60.2L232.4 59.2L233.2 58.3L234.0 57.5L234.9 56.9L235.7 56.5L236.5 56.4L237.3 56.5L238.1 56.6L239.0 56.9L239.8 57.3L240.6 57.6L241.4 58.1L242.3 58.5L243.1 59.0L243.9 59.4L244.7 59.8L245.6 60.1L246.4 60.3L247.2 60.5L248.0 60.5L248.8 60.4L249.7 60.2L250.5 59.9L251.3 59.5L252.1 59.1L253.0 58.6L253.8 58.2L254.6 57.9L255.4 57.5L256.3 57.3L257.1 57.2L257.9 57.2L258.7 57.3L259.5 57.6L260.4 58.0L261.2 58.5L262.0 59.1L262.8 59.8L263.7 60.5L264.5 61.2L265.3 62.3L266.1 63.8L266.9 65.7L267.8 67.9L268.6 70.1L269.4 72.4L270.2 74.5L271.1 76.3L271.9 77.8L272.7 79.1L273.5 80.4L274.4 81.6L275.2 82.8L276.0 83.9L276.8 85.1L277.6 86.4L278.5 87.7L279.3 89.1L280.1 90.5L280.9 91.9L281.8 93.4L282.6 94.9L283.4 96.5L284.2 98.1L285.1 99.8L285.9 101.7L286.7 103.8L287.5 106.0L288.3 108.1L289.2 110.2L290.0 112.1L290.8 113.7L291.6 115.0L292.5 115.7L293.3 116.3L294.1 116.7L294.9 117.0L295.8 117.2L296.6 117.5L297.4 117.7L298.2 117.9L299.0 118.0L299.9 118.2L300.7 118.3L301.5 118.4L302.3 118.6L303.2 118.7L304.0 118.8L304.8 118.9L305.6 119.0L306.4 119.0L307.3 118.9L308.1 118.9L308.9 118.9L309.7 118.9L310.6 118.8L311.4 118.6L312.2 118.3L313.0 117.9L313.9 117.6L314.7 117.7L315.5 118.0L316.3 118.6L317.1 119.2L318.0 119.7L318.8 120.2L319.6 120.8L320.4 121.4L321.3 121.8" fill="none" stroke="#2065be" stroke-width="0.62" stroke-opacity="0.62" stroke-linejoin="round"/><path d="M321.3 121.8L322.1 122.1L322.9 122.3L323.7 122.5L324.6 122.7L325.4 122.8L326.2 122.9L327.0 123.1L327.8 123.2L328.7 123.2L329.5 123.3L330.3 123.4L331.1 123.4L332.0 123.5L332.8 123.5L333.6 123.6L334.4 123.6L335.2 123.6L336.1 123.7L336.9 123.7L337.7 123.8L338.5 123.8L339.4 123.8L340.2 123.8L341.0 123.9L341.8 123.9L342.7 123.9L343.5 123.9L344.3 123.9L345.1 123.9L345.9 124.0L346.8 124.0" fill="none" stroke="#2065be" stroke-width="0.62" stroke-opacity="0.37" stroke-linejoin="round"/>
<path d="M223.3 75.7L224.2 73.1L225.0 70.6L225.8 68.3L226.6 66.1L227.4 64.3L228.3 62.7L229.1 61.5L229.9 60.8L230.7 60.4L231.6 60.1L232.4 59.9L233.2 59.7L234.0 59.6L234.9 59.4L235.7 59.2L236.5 59.0L237.3 58.7L238.1 58.3L239.0 57.8L239.8 57.3L240.6 56.8L241.4 56.2L242.3 55.7L243.1 55.2L243.9 54.7L244.7 54.3L245.6 54.0L246.4 53.7L247.2 53.6L248.0 53.6L248.8 53.7L249.7 53.7L250.5 53.8L251.3 53.9L252.1 54.0L253.0 54.1L253.8 54.2L254.6 54.4L255.4 54.5L256.3 54.7L257.1 54.9L257.9 55.1L258.7 55.4L259.5 55.8L260.4 56.3L261.2 56.8L262.0 57.5L262.8 58.2L263.7 59.0L264.5 59.9L265.3 60.9L266.1 62.3L266.9 64.0L267.8 65.9L268.6 67.8L269.4 69.8L270.2 71.8L271.1 73.6L271.9 75.2L272.7 76.8L273.5 78.5L274.4 80.1L275.2 81.6L276.0 83.2L276.8 84.7L277.6 86.3L278.5 87.8L279.3 89.2L280.1 90.6L280.9 91.9L281.8 93.2L282.6 94.6L283.4 96.0L284.2 97.5L285.1 99.2L285.9 100.9L286.7 102.9L287.5 104.9L288.3 107.0L289.2 109.2L290.0 111.4L290.8 113.7L291.6 116.2L292.5 117.0L293.3 117.5L294.1 117.8L294.9 118.0L295.8 118.3L296.6 118.4L297.4 118.6L298.2 118.8L299.0 118.9L299.9 119.0L300.7 119.1L301.5 119.3L302.3 119.4L303.2 119.5L304.0 119.6L304.8 119.7L305.6 119.7L306.4 119.7L307.3 119.7L308.1 119.6L308.9 119.6L309.7 119.5L310.6 119.4L311.4 119.0L312.2 118.4L313.0 117.8L313.9 117.4L314.7 117.4L315.5 117.9L316.3 118.7L317.1 119.4L318.0 120.0L318.8 120.6L319.6 121.2L320.4 121.7L321.3 122.2" fill="none" stroke="#4f89d1" stroke-width="0.62" stroke-opacity="0.62" stroke-linejoin="round"/><path d="M321.3 122.2L322.1 122.5L322.9 122.6L323.7 122.8L324.6 123.0L325.4 123.1L326.2 123.2L327.0 123.3L327.8 123.4L328.7 123.5L329.5 123.5L330.3 123.6L331.1 123.6L332.0 123.6L332.8 123.7L333.6 123.7L334.4 123.7L335.2 123.8L336.1 123.8L336.9 123.8L337.7 123.8L338.5 123.9L339.4 123.9L340.2 123.9L341.0 123.9L341.8 123.9L342.7 123.9L343.5 124.0L344.3 124.0L345.1 124.0L345.9 124.0L346.8 124.0" fill="none" stroke="#4f89d1" stroke-width="0.62" stroke-opacity="0.37" stroke-linejoin="round"/>
<path d="M223.3 67.9L224.2 66.5L225.0 65.1L225.8 63.7L226.6 62.4L227.4 61.2L228.3 60.0L229.1 58.8L229.9 57.7L230.7 56.6L231.6 55.4L232.4 54.2L233.2 53.1L234.0 52.0L234.9 51.2L235.7 50.6L236.5 50.3L237.3 50.3L238.1 50.2L239.0 50.1L239.8 50.1L240.6 50.1L241.4 50.0L242.3 50.0L243.1 50.0L243.9 49.9L244.7 49.9L245.6 49.9L246.4 49.9L247.2 49.9L248.0 49.9L248.8 49.9L249.7 49.9L250.5 49.9L251.3 49.9L252.1 49.9L253.0 50.0L253.8 50.0L254.6 50.0L255.4 50.1L256.3 50.1L257.1 50.3L257.9 50.4L258.7 50.7L259.5 50.9L260.4 51.3L261.2 51.6L262.0 52.0L262.8 52.5L263.7 53.0L264.5 53.5L265.3 54.4L266.1 55.9L266.9 57.7L267.8 59.9L268.6 62.3L269.4 64.7L270.2 67.0L271.1 69.1L271.9 70.9L272.7 72.7L273.5 74.5L274.4 76.2L275.2 77.9L276.0 79.6L276.8 81.3L277.6 83.0L278.5 84.7L279.3 86.3L280.1 87.8L280.9 89.4L281.8 90.9L282.6 92.5L283.4 94.1L284.2 95.8L285.1 97.6L285.9 99.6L286.7 101.6L287.5 103.7L288.3 105.9L289.2 108.2L290.0 110.4L290.8 112.7L291.6 115.3L292.5 116.1L293.3 116.7L294.1 117.0L294.9 117.3L295.8 117.5L296.6 117.8L297.4 117.9L298.2 118.1L299.0 118.3L299.9 118.4L300.7 118.5L301.5 118.7L302.3 118.8L303.2 118.9L304.0 119.1L304.8 119.1L305.6 119.2L306.4 119.2L307.3 119.2L308.1 119.1L308.9 119.1L309.7 119.1L310.6 119.1L311.4 118.9L312.2 118.5L313.0 118.1L313.9 117.9L314.7 118.0L315.5 118.3L316.3 118.8L317.1 119.4L318.0 119.9L318.8 120.4L319.6 121.0L320.4 121.5L321.3 122.0" fill="none" stroke="#5b91d2" stroke-width="0.62" stroke-opacity="0.62" stroke-linejoin="round"/><path d="M321.3 122.0L322.1 122.2L322.9 122.3L323.7 122.4L324.6 122.5L325.4 122.6L326.2 122.7L327.0 122.7L327.8 122.8L328.7 122.8L329.5 122.9L330.3 122.9L331.1 123.0L332.0 123.1L332.8 123.2L333.6 123.2L334.4 123.3L335.2 123.4L336.1 123.5L336.9 123.5L337.7 123.6L338.5 123.7L339.4 123.8L340.2 123.9L341.0 123.9L341.8 124.0L342.7 124.1L343.5 124.2L344.3 124.3L345.1 124.3L345.9 124.4L346.8 124.5" fill="none" stroke="#5b91d2" stroke-width="0.62" stroke-opacity="0.37" stroke-linejoin="round"/>
<path d="M223.3 63.8L224.2 62.1L225.0 60.4L225.8 58.8L226.6 57.3L227.4 56.1L228.3 55.1L229.1 54.4L229.9 54.1L230.7 54.0L231.6 54.0L232.4 54.0L233.2 54.0L234.0 53.9L234.9 53.9L235.7 53.9L236.5 53.9L237.3 53.8L238.1 53.7L239.0 53.4L239.8 53.2L240.6 52.9L241.4 52.5L242.3 52.2L243.1 51.8L243.9 51.4L244.7 51.1L245.6 50.8L246.4 50.5L247.2 50.2L248.0 50.0L248.8 49.8L249.7 49.6L250.5 49.4L251.3 49.2L252.1 49.0L253.0 48.9L253.8 48.7L254.6 48.6L255.4 48.5L256.3 48.4L257.1 48.3L257.9 48.4L258.7 48.8L259.5 49.5L260.4 50.4L261.2 51.5L262.0 52.7L262.8 54.0L263.7 55.2L264.5 56.4L265.3 57.5L266.1 58.6L266.9 59.8L267.8 61.1L268.6 62.4L269.4 63.8L270.2 65.2L271.1 66.7L271.9 68.3L272.7 70.1L273.5 72.0L274.4 74.1L275.2 76.1L276.0 78.2L276.8 80.2L277.6 82.2L278.5 84.1L279.3 85.8L280.1 87.5L280.9 89.1L281.8 90.8L282.6 92.4L283.4 94.1L284.2 95.9L285.1 97.7L285.9 99.6L286.7 101.5L287.5 103.5L288.3 105.6L289.2 107.8L290.0 110.1L290.8 112.9L291.6 116.4L292.5 117.3L293.3 117.8L294.1 118.1L294.9 118.3L295.8 118.5L296.6 118.7L297.4 118.9L298.2 119.0L299.0 119.1L299.9 119.2L300.7 119.4L301.5 119.5L302.3 119.6L303.2 119.7L304.0 119.8L304.8 119.9L305.6 119.9L306.4 119.9L307.3 119.9L308.1 119.9L308.9 119.9L309.7 119.9L310.6 119.9L311.4 119.8L312.2 119.6L313.0 119.4L313.9 119.3L314.7 119.4L315.5 119.6L316.3 119.9L317.1 120.3L318.0 120.6L318.8 121.0L319.6 121.5L320.4 122.0L321.3 122.3" fill="none" stroke="#2c6ec3" stroke-width="0.62" stroke-opacity="0.62" stroke-linejoin="round"/><path d="M321.3 122.3L322.1 122.5L322.9 122.6L323.7 122.7L324.6 122.8L325.4 122.9L326.2 122.9L327.0 123.0L327.8 123.0L328.7 123.0L329.5 123.1L330.3 123.1L331.1 123.1L332.0 123.2L332.8 123.2L333.6 123.2L334.4 123.3L335.2 123.3L336.1 123.3L336.9 123.3L337.7 123.4L338.5 123.4L339.4 123.4L340.2 123.4L341.0 123.4L341.8 123.4L342.7 123.5L343.5 123.5L344.3 123.5L345.1 123.5L345.9 123.5L346.8 123.5" fill="none" stroke="#2c6ec3" stroke-width="0.62" stroke-opacity="0.37" stroke-linejoin="round"/>
<path d="M223.3 68.2L224.2 66.3L225.0 64.4L225.8 62.7L226.6 61.0L227.4 59.3L228.3 57.8L229.1 56.4L229.9 55.1L230.7 53.9L231.6 52.6L232.4 51.3L233.2 50.0L234.0 49.0L234.9 48.1L235.7 47.5L236.5 47.3L237.3 47.3L238.1 47.4L239.0 47.5L239.8 47.7L240.6 47.8L241.4 48.0L242.3 48.2L243.1 48.4L243.9 48.6L244.7 48.7L245.6 48.8L246.4 48.9L247.2 49.0L248.0 49.0L248.8 48.8L249.7 48.3L250.5 47.6L251.3 46.9L252.1 46.1L253.0 45.3L253.8 44.6L254.6 44.1L255.4 43.7L256.3 43.7L257.1 43.9L257.9 44.4L258.7 45.0L259.5 45.9L260.4 46.9L261.2 48.0L262.0 49.2L262.8 50.4L263.7 51.7L264.5 52.9L265.3 54.3L266.1 55.9L266.9 57.6L267.8 59.5L268.6 61.4L269.4 63.4L270.2 65.3L271.1 67.2L271.9 68.9L272.7 70.5L273.5 72.2L274.4 73.8L275.2 75.4L276.0 77.0L276.8 78.6L277.6 80.3L278.5 82.1L279.3 83.9L280.1 85.7L280.9 87.6L281.8 89.5L282.6 91.4L283.4 93.3L284.2 95.3L285.1 97.3L285.9 99.3L286.7 101.3L287.5 103.3L288.3 105.4L289.2 107.5L290.0 109.9L290.8 112.5L291.6 115.8L292.5 116.7L293.3 117.2L294.1 117.6L294.9 117.8L295.8 118.0L296.6 118.2L297.4 118.4L298.2 118.5L299.0 118.7L299.9 118.8L300.7 118.9L301.5 119.0L302.3 119.2L303.2 119.3L304.0 119.4L304.8 119.5L305.6 119.5L306.4 119.5L307.3 119.5L308.1 119.5L308.9 119.4L309.7 119.3L310.6 119.3L311.4 119.0L312.2 118.4L313.0 117.9L313.9 117.5L314.7 117.6L315.5 118.1L316.3 118.7L317.1 119.4L318.0 120.0L318.8 120.5L319.6 121.1L320.4 121.6L321.3 122.1" fill="none" stroke="#2669c0" stroke-width="0.62" stroke-opacity="0.62" stroke-linejoin="round"/><path d="M321.3 122.1L322.1 122.4L322.9 122.6L323.7 122.8L324.6 123.0L325.4 123.2L326.2 123.4L327.0 123.6L327.8 123.7L328.7 123.8L329.5 123.8L330.3 123.8L331.1 123.8L332.0 123.8L332.8 123.8L333.6 123.8L334.4 123.8L335.2 123.8L336.1 123.8L336.9 123.8L337.7 123.8L338.5 123.8L339.4 123.8L340.2 123.8L341.0 123.8L341.8 123.7L342.7 123.7L343.5 123.7L344.3 123.7L345.1 123.6L345.9 123.6L346.8 123.6" fill="none" stroke="#2669c0" stroke-width="0.62" stroke-opacity="0.37" stroke-linejoin="round"/>
<path d="M223.3 64.6L224.2 62.6L225.0 60.6L225.8 58.8L226.6 57.0L227.4 55.4L228.3 53.9L229.1 52.5L229.9 51.2L230.7 50.0L231.6 48.8L232.4 47.6L233.2 46.5L234.0 45.5L234.9 44.7L235.7 44.2L236.5 44.0L237.3 44.0L238.1 44.1L239.0 44.2L239.8 44.3L240.6 44.4L241.4 44.6L242.3 44.8L243.1 44.9L243.9 45.1L244.7 45.3L245.6 45.5L246.4 45.7L247.2 45.9L248.0 46.2L248.8 46.4L249.7 46.7L250.5 47.0L251.3 47.3L252.1 47.6L253.0 47.9L253.8 48.2L254.6 48.4L255.4 48.6L256.3 48.8L257.1 49.0L257.9 49.1L258.7 49.2L259.5 49.4L260.4 49.5L261.2 49.7L262.0 49.9L262.8 50.1L263.7 50.4L264.5 50.7L265.3 51.3L266.1 52.5L266.9 54.2L267.8 56.1L268.6 58.2L269.4 60.4L270.2 62.6L271.1 64.5L271.9 66.3L272.7 68.1L273.5 69.9L274.4 71.6L275.2 73.4L276.0 75.2L276.8 77.1L277.6 78.9L278.5 80.7L279.3 82.6L280.1 84.4L280.9 86.3L281.8 88.2L282.6 90.1L283.4 92.0L284.2 94.0L285.1 96.0L285.9 98.0L286.7 100.0L287.5 102.0L288.3 104.1L289.2 106.4L290.0 108.8L290.8 111.8L291.6 115.9L292.5 116.9L293.3 117.4L294.1 117.7L294.9 118.0L295.8 118.2L296.6 118.4L297.4 118.5L298.2 118.7L299.0 118.8L299.9 119.0L300.7 119.1L301.5 119.2L302.3 119.3L303.2 119.4L304.0 119.5L304.8 119.6L305.6 119.7L306.4 119.6L307.3 119.6L308.1 119.6L308.9 119.6L309.7 119.5L310.6 119.5L311.4 119.3L312.2 118.8L313.0 118.4L313.9 118.1L314.7 118.2L315.5 118.6L316.3 119.1L317.1 119.7L318.0 120.2L318.8 120.7L319.6 121.3L320.4 121.8L321.3 122.2" fill="none" stroke="#4f89d1" stroke-width="0.62" stroke-opacity="0.62" stroke-linejoin="round"/><path d="M321.3 122.2L322.1 122.4L322.9 122.5L323.7 122.6L324.6 122.6L325.4 122.6L326.2 122.7L327.0 122.7L327.8 122.7L328.7 122.8L329.5 122.8L330.3 122.8L331.1 122.9L332.0 122.9L332.8 122.9L333.6 123.0L334.4 123.0L335.2 123.0L336.1 123.1L336.9 123.1L337.7 123.1L338.5 123.2L339.4 123.2L340.2 123.2L341.0 123.3L341.8 123.3L342.7 123.3L343.5 123.4L344.3 123.4L345.1 123.4L345.9 123.5L346.8 123.5" fill="none" stroke="#4f89d1" stroke-width="0.62" stroke-opacity="0.37" stroke-linejoin="round"/>
<path d="M223.3 63.8L224.2 62.3L225.0 60.9L225.8 59.4L226.6 58.0L227.4 56.5L228.3 55.1L229.1 53.7L229.9 52.3L230.7 50.9L231.6 49.3L232.4 47.6L233.2 45.9L234.0 44.4L234.9 43.0L235.7 42.0L236.5 41.5L237.3 41.2L238.1 40.9L239.0 40.7L239.8 40.4L240.6 40.2L241.4 40.0L242.3 39.9L243.1 39.8L243.9 39.7L244.7 39.6L245.6 39.6L246.4 39.6L247.2 39.7L248.0 40.1L248.8 40.6L249.7 41.2L250.5 41.9L251.3 42.6L252.1 43.3L253.0 43.9L253.8 44.4L254.6 44.7L255.4 44.9L256.3 44.9L257.1 45.0L257.9 45.0L258.7 45.0L259.5 45.0L260.4 45.1L261.2 45.1L262.0 45.1L262.8 45.2L263.7 45.2L264.5 45.3L265.3 45.9L266.1 47.6L266.9 50.0L267.8 53.0L268.6 56.2L269.4 59.4L270.2 62.4L271.1 64.9L271.9 66.8L272.7 68.5L273.5 70.1L274.4 71.6L275.2 73.1L276.0 74.6L276.8 76.1L277.6 77.8L278.5 79.5L279.3 81.4L280.1 83.4L280.9 85.4L281.8 87.5L282.6 89.7L283.4 91.8L284.2 93.9L285.1 96.1L285.9 98.1L286.7 100.0L287.5 102.0L288.3 104.0L289.2 106.2L290.0 108.6L290.8 111.6L291.6 115.8L292.5 116.8L293.3 117.3L294.1 117.7L294.9 117.9L295.8 118.1L296.6 118.3L297.4 118.5L298.2 118.6L299.0 118.8L299.9 118.9L300.7 119.0L301.5 119.1L302.3 119.2L303.2 119.4L304.0 119.5L304.8 119.6L305.6 119.6L306.4 119.6L307.3 119.6L308.1 119.6L308.9 119.6L309.7 119.6L310.6 119.5L311.4 119.4L312.2 119.2L313.0 118.9L313.9 118.7L314.7 118.8L315.5 119.1L316.3 119.5L317.1 119.9L318.0 120.3L318.8 120.8L319.6 121.3L320.4 121.8L321.3 122.2" fill="none" stroke="#296bc2" stroke-width="0.62" stroke-opacity="0.62" stroke-linejoin="round"/><path d="M321.3 122.2L322.1 122.4L322.9 122.5L323.7 122.6L324.6 122.6L325.4 122.7L326.2 122.7L327.0 122.7L327.8 122.8L328.7 122.8L329.5 122.8L330.3 122.9L331.1 122.9L332.0 123.0L332.8 123.1L333.6 123.1L334.4 123.2L335.2 123.3L336.1 123.3L336.9 123.4L337.7 123.5L338.5 123.5L339.4 123.6L340.2 123.7L341.0 123.8L341.8 123.9L342.7 123.9L343.5 124.0L344.3 124.1L345.1 124.2L345.9 124.3L346.8 124.4" fill="none" stroke="#296bc2" stroke-width="0.62" stroke-opacity="0.37" stroke-linejoin="round"/>
<path d="M223.3 61.0L224.2 58.5L225.0 56.1L225.8 53.8L226.6 51.8L227.4 49.9L228.3 48.2L229.1 46.8L229.9 45.6L230.7 44.7L231.6 43.8L232.4 42.9L233.2 42.2L234.0 41.6L234.9 41.1L235.7 40.7L236.5 40.6L237.3 40.7L238.1 40.9L239.0 41.2L239.8 41.6L240.6 42.1L241.4 42.6L242.3 43.0L243.1 43.5L243.9 43.9L244.7 44.2L245.6 44.5L246.4 44.6L247.2 44.5L248.0 44.2L248.8 43.7L249.7 43.1L250.5 42.4L251.3 41.7L252.1 41.0L253.0 40.3L253.8 39.7L254.6 39.4L255.4 39.2L256.3 39.2L257.1 39.3L257.9 39.4L258.7 39.5L259.5 39.7L260.4 39.9L261.2 40.2L262.0 40.5L262.8 40.9L263.7 41.3L264.5 41.7L265.3 42.7L266.1 44.6L266.9 47.2L267.8 50.2L268.6 53.5L269.4 56.7L270.2 59.8L271.1 62.3L271.9 64.2L272.7 66.0L273.5 67.5L274.4 69.0L275.2 70.5L276.0 71.9L276.8 73.4L277.6 75.1L278.5 76.9L279.3 78.8L280.1 80.8L280.9 82.9L281.8 85.1L282.6 87.3L283.4 89.6L284.2 91.9L285.1 94.2L285.9 96.4L286.7 98.5L287.5 100.7L288.3 103.0L289.2 105.5L290.0 108.2L290.8 111.4L291.6 115.8L292.5 116.9L293.3 117.4L294.1 117.7L294.9 118.0L295.8 118.2L296.6 118.4L297.4 118.5L298.2 118.7L299.0 118.8L299.9 119.0L300.7 119.1L301.5 119.2L302.3 119.3L303.2 119.4L304.0 119.5L304.8 119.6L305.6 119.7L306.4 119.7L307.3 119.7L308.1 119.7L308.9 119.7L309.7 119.7L310.6 119.7L311.4 119.6L312.2 119.4L313.0 119.3L313.9 119.2L314.7 119.2L315.5 119.4L316.3 119.7L317.1 120.1L318.0 120.4L318.8 120.9L319.6 121.3L320.4 121.8L321.3 122.2" fill="none" stroke="#4682ce" stroke-width="0.62" stroke-opacity="0.62" stroke-linejoin="round"/><path d="M321.3 122.2L322.1 122.4L322.9 122.6L323.7 122.7L324.6 122.8L325.4 122.9L326.2 123.0L327.0 123.0L327.8 123.1L328.7 123.1L329.5 123.2L330.3 123.2L331.1 123.2L332.0 123.3L332.8 123.3L333.6 123.3L334.4 123.4L335.2 123.4L336.1 123.4L336.9 123.4L337.7 123.5L338.5 123.5L339.4 123.5L340.2 123.5L341.0 123.5L341.8 123.5L342.7 123.6L343.5 123.6L344.3 123.6L345.1 123.6L345.9 123.6L346.8 123.6" fill="none" stroke="#4682ce" stroke-width="0.62" stroke-opacity="0.37" stroke-linejoin="round"/></g>
<rect x="218.60" y="13.50" width="133.4" height="118.40" fill="none" stroke="#b5b5b5" stroke-width="0.9"/>
<line x1="216.00" y1="124.40" x2="218.60" y2="124.40" stroke="#b5b5b5" stroke-width="0.8"/>
<text x="212.75" y="124.40" font-size="3.8" text-anchor="middle" font-weight="bold" fill="#1e1e1e" stroke="#1e1e1e" stroke-width="0.12" transform="rotate(-90 212.75 124.40)" textLength="10.0" lengthAdjust="spacingAndGlyphs">0.000</text>
<line x1="216.00" y1="108.25" x2="218.60" y2="108.25" stroke="#b5b5b5" stroke-width="0.8"/>
<text x="212.75" y="108.25" font-size="3.8" text-anchor="middle" font-weight="bold" fill="#1e1e1e" stroke="#1e1e1e" stroke-width="0.12" transform="rotate(-90 212.75 108.25)" textLength="10.0" lengthAdjust="spacingAndGlyphs">0.001</text>
<line x1="216.00" y1="92.10" x2="218.60" y2="92.10" stroke="#b5b5b5" stroke-width="0.8"/>
<text x="212.75" y="92.10" font-size="3.8" text-anchor="middle" font-weight="bold" fill="#1e1e1e" stroke="#1e1e1e" stroke-width="0.12" transform="rotate(-90 212.75 92.10)" textLength="10.0" lengthAdjust="spacingAndGlyphs">0.002</text>
<line x1="216.00" y1="75.95" x2="218.60" y2="75.95" stroke="#b5b5b5" stroke-width="0.8"/>
<text x="212.75" y="75.95" font-size="3.8" text-anchor="middle" font-weight="bold" fill="#1e1e1e" stroke="#1e1e1e" stroke-width="0.12" transform="rotate(-90 212.75 75.95)" textLength="10.0" lengthAdjust="spacingAndGlyphs">0.003</text>
<line x1="216.00" y1="59.80" x2="218.60" y2="59.80" stroke="#b5b5b5" stroke-width="0.8"/>
<text x="212.75" y="59.80" font-size="3.8" text-anchor="middle" font-weight="bold" fill="#1e1e1e" stroke="#1e1e1e" stroke-width="0.12" transform="rotate(-90 212.75 59.80)" textLength="10.0" lengthAdjust="spacingAndGlyphs">0.004</text>
<line x1="216.00" y1="43.65" x2="218.60" y2="43.65" stroke="#b5b5b5" stroke-width="0.8"/>
<text x="212.75" y="43.65" font-size="3.8" text-anchor="middle" font-weight="bold" fill="#1e1e1e" stroke="#1e1e1e" stroke-width="0.12" transform="rotate(-90 212.75 43.65)" textLength="10.0" lengthAdjust="spacingAndGlyphs">0.005</text>
<line x1="216.00" y1="27.50" x2="218.60" y2="27.50" stroke="#b5b5b5" stroke-width="0.8"/>
<text x="212.75" y="27.50" font-size="3.8" text-anchor="middle" font-weight="bold" fill="#1e1e1e" stroke="#1e1e1e" stroke-width="0.12" transform="rotate(-90 212.75 27.50)" textLength="10.0" lengthAdjust="spacingAndGlyphs">0.006</text>
<line x1="237.05" y1="131.90" x2="237.05" y2="134.50" stroke="#b5b5b5" stroke-width="0.8"/>
<text x="237.05" y="140.65" font-size="4.0" text-anchor="middle" font-weight="bold" fill="#1e1e1e" stroke="#1e1e1e" stroke-width="0.12" textLength="7.0" lengthAdjust="spacingAndGlyphs">400</text>
<line x1="264.48" y1="131.90" x2="264.48" y2="134.50" stroke="#b5b5b5" stroke-width="0.8"/>
<text x="264.48" y="140.65" font-size="4.0" text-anchor="middle" font-weight="bold" fill="#1e1e1e" stroke="#1e1e1e" stroke-width="0.12" textLength="7.0" lengthAdjust="spacingAndGlyphs">500</text>
<line x1="291.91" y1="131.90" x2="291.91" y2="134.50" stroke="#b5b5b5" stroke-width="0.8"/>
<text x="291.91" y="140.65" font-size="4.0" text-anchor="middle" font-weight="bold" fill="#1e1e1e" stroke="#1e1e1e" stroke-width="0.12" textLength="7.0" lengthAdjust="spacingAndGlyphs">600</text>
<line x1="319.34" y1="131.90" x2="319.34" y2="134.50" stroke="#b5b5b5" stroke-width="0.8"/>
<text x="319.34" y="140.65" font-size="4.0" text-anchor="middle" font-weight="bold" fill="#1e1e1e" stroke="#1e1e1e" stroke-width="0.12" textLength="7.0" lengthAdjust="spacingAndGlyphs">700</text>
<line x1="346.77" y1="131.90" x2="346.77" y2="134.50" stroke="#b5b5b5" stroke-width="0.8"/>
<text x="346.77" y="140.65" font-size="4.0" text-anchor="middle" font-weight="bold" fill="#1e1e1e" stroke="#1e1e1e" stroke-width="0.12" textLength="7.0" lengthAdjust="spacingAndGlyphs">800</text>
<g transform="rotate(-90)" font-family='"Liberation Serif", serif' font-weight="bold" fill="#1a1a1a" stroke="#1a1a1a" stroke-width="0.3"><text x="-94.60" y="205.50" font-size="9" textLength="6.3" lengthAdjust="spacingAndGlyphs">R</text><text x="-87.70" y="206.00" font-size="5.4" textLength="3.6" lengthAdjust="spacingAndGlyphs">rs</text><text x="-79.20" y="206.10" font-size="9" textLength="2.8" lengthAdjust="spacingAndGlyphs">[</text><text x="-75.40" y="205.50" font-size="9" textLength="6.7" lengthAdjust="spacingAndGlyphs">sr</text><text x="-68.60" y="201.50" font-size="5.0" textLength="4.6" lengthAdjust="spacingAndGlyphs">-1</text><text x="-62.00" y="206.10" font-size="9" textLength="2.8" lengthAdjust="spacingAndGlyphs">]</text></g>
<text x="287.70" y="155.50" font-size="8.2" text-anchor="middle" font-weight="bold" fill="#1a1a1a" stroke="#1a1a1a" stroke-width="0.4" textLength="73.6" lengthAdjust="spacingAndGlyphs">Wavelength [nm]</text>
<text x="281.70" y="23.00" font-size="9.0" text-anchor="middle" font-weight="bold" fill="#1a1a1a" stroke="#1a1a1a" stroke-width="0.4" textLength="22.7" lengthAdjust="spacingAndGlyphs">2014</text>
<text x="308.20" y="20.80" font-size="6.7" fill="#1a1a1a" stroke="#1a1a1a" stroke-width="0.1" textLength="35.9" lengthAdjust="spacingAndGlyphs">Chla [mg m</text>
<text x="344.40" y="18.30" font-size="3.8" fill="#1a1a1a" textLength="3.3" lengthAdjust="spacingAndGlyphs">-3</text>
<text x="348.50" y="20.80" font-size="6.7" fill="#1a1a1a" stroke="#1a1a1a" stroke-width="0.1">]</text>
<rect x="335.85" y="24.20" width="11.45" height="84.40" fill="url(#cb)"/>
<line x1="334.45" y1="25.80" x2="335.85" y2="25.80" stroke="#777" stroke-width="0.5"/>
<text x="333.70" y="28.55" font-size="6.3" text-anchor="end" font-weight="normal" fill="#1a1a1a" stroke="#1a1a1a" stroke-width="0.1">10</text>
<line x1="334.45" y1="40.90" x2="335.85" y2="40.90" stroke="#777" stroke-width="0.5"/>
<text x="333.70" y="43.65" font-size="6.3" text-anchor="end" font-weight="normal" fill="#1a1a1a" stroke="#1a1a1a" stroke-width="0.1">8</text>
<line x1="334.45" y1="57.40" x2="335.85" y2="57.40" stroke="#777" stroke-width="0.5"/>
<text x="333.70" y="60.15" font-size="6.3" text-anchor="end" font-weight="normal" fill="#1a1a1a" stroke="#1a1a1a" stroke-width="0.1">6</text>
<line x1="334.45" y1="74.25" x2="335.85" y2="74.25" stroke="#777" stroke-width="0.5"/>
<text x="333.70" y="77.00" font-size="6.3" text-anchor="end" font-weight="normal" fill="#1a1a1a" stroke="#1a1a1a" stroke-width="0.1">4</text>
<line x1="334.45" y1="91.30" x2="335.85" y2="91.30" stroke="#777" stroke-width="0.5"/>
<text x="333.70" y="94.05" font-size="6.3" text-anchor="end" font-weight="normal" fill="#1a1a1a" stroke="#1a1a1a" stroke-width="0.1">2</text>
<line x1="334.45" y1="107.40" x2="335.85" y2="107.40" stroke="#777" stroke-width="0.5"/>
<text x="333.70" y="110.15" font-size="6.3" text-anchor="end" font-weight="normal" fill="#1a1a1a" stroke="#1a1a1a" stroke-width="0.1">0.1</text>
<text x="220.30" y="128.10" font-size="7.4" text-anchor="start" font-weight="bold" fill="#1a1a1a" stroke="#1a1a1a" stroke-width="0.3" textLength="8.3" lengthAdjust="spacingAndGlyphs">b)</text>
<clipPath id="clip02"><rect x="405.4" y="13.5" width="133.4" height="118.4"/></clipPath><g clip-path="url(#clip02)"><path d="M410.1 81.3L411.0 81.3L411.8 81.3L412.6 81.4L413.4 81.4L414.2 81.4L415.1 81.4L415.9 81.4L416.7 81.4L417.5 81.5L418.4 81.5L419.2 81.6L420.0 81.7L420.8 81.7L421.7 81.8L422.5 82.1L423.3 82.6L424.1 83.2L424.9 84.1L425.8 85.1L426.6 86.1L427.4 87.3L428.2 88.5L429.1 89.6L429.9 90.8L430.7 91.8L431.5 92.8L432.4 93.6L433.2 94.2L434.0 94.6L434.8 94.7L435.6 94.7L436.5 94.6L437.3 94.5L438.1 94.4L438.9 94.2L439.8 94.0L440.6 93.8L441.4 93.6L442.2 93.4L443.1 93.1L443.9 92.9L444.7 92.6L445.5 92.2L446.3 91.8L447.2 91.4L448.0 90.9L448.8 90.5L449.6 90.0L450.5 89.4L451.3 88.9L452.1 88.4L452.9 88.0L453.7 87.5L454.6 87.1L455.4 86.7L456.2 86.3L457.0 86.0L457.9 85.8L458.7 85.6L459.5 85.6L460.3 85.5L461.2 85.6L462.0 85.6L462.8 85.7L463.6 85.7L464.4 85.8L465.3 86.0L466.1 86.1L466.9 86.3L467.7 86.5L468.6 86.7L469.4 87.0L470.2 88.4L471.0 90.8L471.9 93.7L472.7 96.6L473.5 99.3L474.3 102.3L475.1 105.7L476.0 109.1L476.8 112.2L477.6 114.7L478.4 116.3L479.3 116.9L480.1 117.3L480.9 117.7L481.7 118.0L482.6 118.2L483.4 118.4L484.2 118.6L485.0 118.7L485.8 118.9L486.7 119.0L487.5 119.1L488.3 119.2L489.1 119.3L490.0 119.5L490.8 119.6L491.6 119.6L492.4 119.7L493.2 119.6L494.1 119.5L494.9 119.2L495.7 118.9L496.5 118.5L497.4 118.0L498.2 116.8L499.0 114.6L499.8 112.3L500.7 111.0L501.5 111.2L502.3 112.7L503.1 114.8L503.9 116.9L504.8 118.2L505.6 119.4L506.4 120.4L507.2 121.4L508.1 122.0" fill="none" stroke="#fdc85a" stroke-width="0.62" stroke-opacity="0.62" stroke-linejoin="round"/><path d="M508.1 122.0L508.9 122.4L509.7 122.6L510.5 122.8L511.4 122.9L512.2 123.1L513.0 123.2L513.8 123.3L514.6 123.3L515.5 123.4L516.3 123.5L517.1 123.5L517.9 123.6L518.8 123.6L519.6 123.6L520.4 123.7L521.2 123.7L522.0 123.8L522.9 123.8L523.7 123.8L524.5 123.9L525.3 123.9L526.2 123.9L527.0 124.0L527.8 124.0L528.6 124.0L529.5 124.0L530.3 124.0L531.1 124.0L531.9 124.0L532.7 124.1L533.6 124.1" fill="none" stroke="#fdc85a" stroke-width="0.62" stroke-opacity="0.37" stroke-linejoin="round"/>
<path d="M410.1 62.4L411.0 61.9L411.8 61.4L412.6 61.0L413.4 60.6L414.2 60.2L415.1 59.8L415.9 59.5L416.7 59.2L417.5 58.9L418.4 58.6L419.2 58.3L420.0 58.1L420.8 57.9L421.7 57.8L422.5 57.8L423.3 58.0L424.1 58.3L424.9 58.8L425.8 59.5L426.6 60.2L427.4 61.1L428.2 62.0L429.1 62.9L429.9 63.8L430.7 64.8L431.5 65.7L432.4 66.6L433.2 67.4L434.0 68.1L434.8 68.6L435.6 69.1L436.5 69.4L437.3 69.5L438.1 69.2L438.9 68.5L439.8 67.4L440.6 66.0L441.4 64.4L442.2 62.7L443.1 60.9L443.9 59.2L444.7 57.6L445.5 56.2L446.3 55.1L447.2 54.4L448.0 53.8L448.8 53.3L449.6 52.8L450.5 52.3L451.3 51.9L452.1 51.4L452.9 51.0L453.7 50.6L454.6 50.2L455.4 49.9L456.2 49.5L457.0 49.2L457.9 49.0L458.7 48.7L459.5 48.5L460.3 48.3L461.2 48.1L462.0 48.0L462.8 47.9L463.6 47.8L464.4 47.8L465.3 47.9L466.1 48.2L466.9 48.7L467.7 49.4L468.6 50.4L469.4 51.5L470.2 52.8L471.0 54.4L471.9 56.1L472.7 58.1L473.5 60.3L474.3 64.8L475.1 75.8L476.0 88.5L476.8 97.5L477.6 99.9L478.4 100.9L479.3 102.0L480.1 103.2L480.9 104.3L481.7 105.3L482.6 106.1L483.4 106.7L484.2 107.3L485.0 107.7L485.8 108.1L486.7 108.5L487.5 108.8L488.3 109.1L489.1 109.5L490.0 109.9L490.8 110.2L491.6 110.4L492.4 110.5L493.2 110.5L494.1 110.3L494.9 110.1L495.7 109.9L496.5 109.5L497.4 109.1L498.2 107.8L499.0 105.5L499.8 103.1L500.7 101.7L501.5 101.9L502.3 103.7L503.1 106.3L503.9 108.9L504.8 110.9L505.6 112.7L506.4 114.5L507.2 116.2L508.1 117.6" fill="none" stroke="#fdbc51" stroke-width="0.62" stroke-opacity="0.62" stroke-linejoin="round"/><path d="M508.1 117.6L508.9 118.6L509.7 119.4L510.5 120.2L511.4 120.9L512.2 121.6L513.0 122.2L513.8 122.7L514.6 123.1L515.5 123.5L516.3 123.7L517.1 123.9L517.9 123.9L518.8 124.0L519.6 124.0L520.4 124.1L521.2 124.2L522.0 124.2L522.9 124.2L523.7 124.3L524.5 124.3L525.3 124.4L526.2 124.4L527.0 124.4L527.8 124.4L528.6 124.5L529.5 124.5L530.3 124.5L531.1 124.5L531.9 124.5L532.7 124.5L533.6 124.5" fill="none" stroke="#fdbc51" stroke-width="0.62" stroke-opacity="0.37" stroke-linejoin="round"/>
<path d="M410.1 82.0L411.0 79.3L411.8 76.7L412.6 74.4L413.4 72.4L414.2 70.6L415.1 69.3L415.9 68.4L416.7 68.0L417.5 67.9L418.4 68.0L419.2 68.0L420.0 68.1L420.8 68.1L421.7 68.3L422.5 68.6L423.3 69.2L424.1 69.9L424.9 70.7L425.8 71.6L426.6 72.6L427.4 73.5L428.2 74.4L429.1 75.3L429.9 76.1L430.7 76.7L431.5 77.1L432.4 77.4L433.2 77.4L434.0 77.3L434.8 77.1L435.6 76.7L436.5 76.3L437.3 75.8L438.1 75.2L438.9 74.5L439.8 73.9L440.6 73.1L441.4 72.4L442.2 71.7L443.1 71.0L443.9 70.3L444.7 69.7L445.5 69.1L446.3 68.5L447.2 68.1L448.0 67.7L448.8 67.5L449.6 67.3L450.5 67.3L451.3 67.5L452.1 67.9L452.9 68.5L453.7 69.2L454.6 70.0L455.4 70.9L456.2 71.9L457.0 72.8L457.9 73.7L458.7 74.6L459.5 75.4L460.3 76.3L461.2 77.1L462.0 78.0L462.8 78.9L463.6 79.8L464.4 80.8L465.3 81.8L466.1 82.8L466.9 84.0L467.7 85.2L468.6 86.5L469.4 87.8L470.2 89.3L471.0 90.9L471.9 92.6L472.7 94.8L473.5 97.6L474.3 100.8L475.1 104.0L476.0 107.0L476.8 109.9L477.6 112.9L478.4 115.0L479.3 115.8L480.1 116.3L480.9 116.7L481.7 117.0L482.6 117.3L483.4 117.5L484.2 117.7L485.0 117.9L485.8 118.0L486.7 118.2L487.5 118.3L488.3 118.4L489.1 118.6L490.0 118.7L490.8 118.8L491.6 118.9L492.4 119.0L493.2 119.0L494.1 118.9L494.9 118.9L495.7 118.8L496.5 118.7L497.4 118.5L498.2 118.1L499.0 117.4L499.8 116.6L500.7 116.1L501.5 116.2L502.3 116.8L503.1 117.7L503.9 118.6L504.8 119.3L505.6 119.9L506.4 120.6L507.2 121.3L508.1 121.8" fill="none" stroke="#d5ebd0" stroke-width="0.62" stroke-opacity="0.62" stroke-linejoin="round"/><path d="M508.1 121.8L508.9 122.1L509.7 122.4L510.5 122.6L511.4 122.8L512.2 122.9L513.0 123.1L513.8 123.2L514.6 123.3L515.5 123.4L516.3 123.5L517.1 123.5L517.9 123.6L518.8 123.7L519.6 123.7L520.4 123.8L521.2 123.9L522.0 123.9L522.9 124.0L523.7 124.0L524.5 124.1L525.3 124.1L526.2 124.2L527.0 124.2L527.8 124.3L528.6 124.3L529.5 124.3L530.3 124.3L531.1 124.4L531.9 124.4L532.7 124.4L533.6 124.4" fill="none" stroke="#d5ebd0" stroke-width="0.62" stroke-opacity="0.37" stroke-linejoin="round"/>
<path d="M410.1 37.5L411.0 36.8L411.8 36.1L412.6 35.4L413.4 34.7L414.2 34.0L415.1 33.3L415.9 32.7L416.7 32.0L417.5 31.3L418.4 30.5L419.2 29.7L420.0 28.8L420.8 28.1L421.7 27.5L422.5 27.1L423.3 27.1L424.1 27.3L424.9 27.7L425.8 28.3L426.6 29.2L427.4 30.2L428.2 31.3L429.1 32.5L429.9 33.7L430.7 35.0L431.5 36.3L432.4 37.6L433.2 38.8L434.0 40.0L434.8 41.0L435.6 41.8L436.5 42.5L437.3 43.0L438.1 43.2L438.9 43.2L439.8 43.1L440.6 42.8L441.4 42.5L442.2 42.1L443.1 41.7L443.9 41.2L444.7 40.8L445.5 40.4L446.3 40.0L447.2 39.5L448.0 39.0L448.8 38.4L449.6 37.8L450.5 37.1L451.3 36.5L452.1 35.9L452.9 35.4L453.7 34.9L454.6 34.4L455.4 34.1L456.2 33.8L457.0 33.7L457.9 33.7L458.7 33.8L459.5 34.0L460.3 34.3L461.2 34.6L462.0 35.0L462.8 35.6L463.6 36.2L464.4 36.9L465.3 37.8L466.1 38.7L466.9 39.8L467.7 40.9L468.6 42.2L469.4 43.5L470.2 45.0L471.0 46.6L471.9 48.3L472.7 50.2L473.5 54.4L474.3 62.2L475.1 72.0L476.0 82.3L476.8 92.0L477.6 104.2L478.4 113.4L479.3 114.9L480.1 115.6L480.9 116.0L481.7 116.3L482.6 116.5L483.4 116.8L484.2 117.0L485.0 117.2L485.8 117.3L486.7 117.5L487.5 117.7L488.3 117.8L489.1 117.9L490.0 118.1L490.8 118.3L491.6 118.4L492.4 118.4L493.2 118.4L494.1 118.3L494.9 118.1L495.7 117.9L496.5 117.7L497.4 117.4L498.2 116.6L499.0 115.1L499.8 113.6L500.7 112.7L501.5 112.9L502.3 113.9L503.1 115.4L503.9 116.9L504.8 118.0L505.6 119.0L506.4 120.0L507.2 120.8L508.1 121.5" fill="none" stroke="#fdcb5c" stroke-width="0.62" stroke-opacity="0.62" stroke-linejoin="round"/><path d="M508.1 121.5L508.9 121.9L509.7 122.1L510.5 122.4L511.4 122.5L512.2 122.7L513.0 122.8L513.8 123.0L514.6 123.1L515.5 123.2L516.3 123.2L517.1 123.3L517.9 123.4L518.8 123.4L519.6 123.5L520.4 123.6L521.2 123.6L522.0 123.7L522.9 123.7L523.7 123.8L524.5 123.8L525.3 123.9L526.2 123.9L527.0 123.9L527.8 124.0L528.6 124.0L529.5 124.0L530.3 124.1L531.1 124.1L531.9 124.1L532.7 124.1L533.6 124.1" fill="none" stroke="#fdcb5c" stroke-width="0.62" stroke-opacity="0.37" stroke-linejoin="round"/>
<path d="M410.1 56.2L411.0 56.2L411.8 56.3L412.6 56.3L413.4 56.3L414.2 56.3L415.1 56.3L415.9 56.3L416.7 56.3L417.5 56.1L418.4 55.4L419.2 54.4L420.0 53.5L420.8 53.1L421.7 53.1L422.5 53.2L423.3 53.4L424.1 53.7L424.9 53.9L425.8 54.3L426.6 54.7L427.4 55.1L428.2 55.5L429.1 55.9L429.9 56.4L430.7 56.9L431.5 57.3L432.4 57.8L433.2 58.2L434.0 58.6L434.8 59.0L435.6 59.4L436.5 59.7L437.3 59.9L438.1 60.2L438.9 60.5L439.8 60.7L440.6 61.0L441.4 61.2L442.2 61.4L443.1 61.6L443.9 61.8L444.7 61.9L445.5 62.0L446.3 61.9L447.2 61.6L448.0 61.1L448.8 60.5L449.6 59.7L450.5 58.8L451.3 57.8L452.1 56.7L452.9 55.7L453.7 54.6L454.6 53.5L455.4 52.6L456.2 51.7L457.0 51.0L457.9 50.4L458.7 50.0L459.5 49.8L460.3 49.8L461.2 49.9L462.0 50.2L462.8 50.6L463.6 51.1L464.4 51.7L465.3 52.5L466.1 53.3L466.9 54.3L467.7 55.4L468.6 56.6L469.4 58.0L470.2 59.4L471.0 61.0L471.9 62.7L472.7 64.5L473.5 67.8L474.3 73.5L475.1 80.5L476.0 88.0L476.8 95.5L477.6 105.5L478.4 113.2L479.3 114.7L480.1 115.3L480.9 115.7L481.7 116.0L482.6 116.3L483.4 116.5L484.2 116.8L485.0 117.0L485.8 117.1L486.7 117.3L487.5 117.5L488.3 117.6L489.1 117.8L490.0 117.9L490.8 118.1L491.6 118.2L492.4 118.2L493.2 118.1L494.1 117.9L494.9 117.5L495.7 117.1L496.5 116.5L497.4 115.8L498.2 113.9L499.0 110.7L499.8 107.4L500.7 105.4L501.5 105.7L502.3 107.9L503.1 111.0L503.9 114.0L504.8 115.9L505.6 117.6L506.4 119.1L507.2 120.4L508.1 121.3" fill="none" stroke="#fddb6e" stroke-width="0.62" stroke-opacity="0.62" stroke-linejoin="round"/><path d="M508.1 121.3L508.9 121.8L509.7 122.0L510.5 122.2L511.4 122.3L512.2 122.4L513.0 122.5L513.8 122.6L514.6 122.7L515.5 122.8L516.3 122.8L517.1 122.9L517.9 123.0L518.8 123.0L519.6 123.1L520.4 123.2L521.2 123.2L522.0 123.3L522.9 123.4L523.7 123.4L524.5 123.5L525.3 123.5L526.2 123.6L527.0 123.6L527.8 123.7L528.6 123.7L529.5 123.8L530.3 123.8L531.1 123.8L531.9 123.8L532.7 123.9L533.6 123.9" fill="none" stroke="#fddb6e" stroke-width="0.62" stroke-opacity="0.37" stroke-linejoin="round"/>
<path d="M410.1 61.4L411.0 58.1L411.8 55.0L412.6 52.1L413.4 49.4L414.2 47.1L415.1 45.0L415.9 43.3L416.7 42.0L417.5 41.0L418.4 40.0L419.2 39.2L420.0 38.5L420.8 38.0L421.7 37.9L422.5 38.2L423.3 38.9L424.1 40.1L424.9 41.6L425.8 43.3L426.6 45.2L427.4 47.3L428.2 49.4L429.1 51.4L429.9 53.4L430.7 55.2L431.5 56.8L432.4 58.0L433.2 58.9L434.0 59.3L434.8 59.3L435.6 59.1L436.5 58.8L437.3 58.3L438.1 57.7L438.9 57.0L439.8 56.3L440.6 55.4L441.4 54.4L442.2 53.4L443.1 52.4L443.9 51.3L444.7 50.2L445.5 49.1L446.3 47.7L447.2 45.8L448.0 43.3L448.8 40.6L449.6 37.9L450.5 35.4L451.3 33.4L452.1 32.1L452.9 31.7L453.7 31.8L454.6 31.8L455.4 32.0L456.2 32.1L457.0 32.4L457.9 32.6L458.7 33.0L459.5 33.4L460.3 33.8L461.2 34.4L462.0 34.9L462.8 35.6L463.6 36.3L464.4 37.1L465.3 37.9L466.1 38.9L466.9 39.9L467.7 41.0L468.6 42.2L469.4 43.4L470.2 44.7L471.0 46.2L471.9 47.7L472.7 49.3L473.5 53.5L474.3 61.5L475.1 71.6L476.0 82.1L476.8 91.7L477.6 103.2L478.4 111.8L479.3 113.5L480.1 114.2L480.9 114.6L481.7 115.0L482.6 115.3L483.4 115.6L484.2 115.8L485.0 116.0L485.8 116.2L486.7 116.4L487.5 116.6L488.3 116.8L489.1 116.9L490.0 117.1L490.8 117.3L491.6 117.4L492.4 117.5L493.2 117.4L494.1 117.4L494.9 117.3L495.7 117.2L496.5 117.0L497.4 116.9L498.2 116.3L499.0 115.3L499.8 114.3L500.7 113.6L501.5 113.8L502.3 114.6L503.1 115.7L503.9 116.9L504.8 117.8L505.6 118.7L506.4 119.6L507.2 120.4L508.1 121.0" fill="none" stroke="#fdd96c" stroke-width="0.62" stroke-opacity="0.62" stroke-linejoin="round"/><path d="M508.1 121.0L508.9 121.5L509.7 121.8L510.5 122.1L511.4 122.4L512.2 122.6L513.0 122.8L513.8 123.0L514.6 123.1L515.5 123.2L516.3 123.3L517.1 123.4L517.9 123.4L518.8 123.5L519.6 123.5L520.4 123.5L521.2 123.6L522.0 123.6L522.9 123.6L523.7 123.7L524.5 123.7L525.3 123.7L526.2 123.7L527.0 123.7L527.8 123.7L528.6 123.8L529.5 123.8L530.3 123.8L531.1 123.8L531.9 123.8L532.7 123.8L533.6 123.8" fill="none" stroke="#fdd96c" stroke-width="0.62" stroke-opacity="0.37" stroke-linejoin="round"/>
<path d="M410.1 59.6L411.0 57.6L411.8 55.7L412.6 53.8L413.4 52.0L414.2 50.3L415.1 48.7L415.9 47.1L416.7 45.7L417.5 44.2L418.4 42.5L419.2 41.0L420.0 39.9L420.8 39.5L421.7 39.5L422.5 39.6L423.3 39.8L424.1 40.0L424.9 40.2L425.8 40.5L426.6 40.8L427.4 41.2L428.2 41.5L429.1 41.9L429.9 42.2L430.7 42.6L431.5 43.0L432.4 43.3L433.2 43.6L434.0 43.9L434.8 44.1L435.6 44.3L436.5 44.5L437.3 44.6L438.1 44.6L438.9 44.6L439.8 44.4L440.6 44.2L441.4 43.9L442.2 43.5L443.1 43.2L443.9 42.7L444.7 42.3L445.5 41.9L446.3 41.5L447.2 41.1L448.0 40.8L448.8 40.6L449.6 40.5L450.5 40.4L451.3 40.8L452.1 41.8L452.9 43.4L453.7 45.4L454.6 47.7L455.4 50.1L456.2 52.5L457.0 54.8L457.9 56.8L458.7 58.4L459.5 59.6L460.3 60.7L461.2 61.7L462.0 62.6L462.8 63.4L463.6 64.2L464.4 64.9L465.3 65.6L466.1 66.4L466.9 67.3L467.7 68.2L468.6 69.3L469.4 70.4L470.2 71.8L471.0 73.4L471.9 75.2L472.7 78.0L473.5 82.3L474.3 87.5L475.1 93.0L476.0 98.2L476.8 104.1L477.6 110.4L478.4 114.7L479.3 115.7L480.1 116.3L480.9 116.7L481.7 117.0L482.6 117.2L483.4 117.4L484.2 117.6L485.0 117.8L485.8 118.0L486.7 118.1L487.5 118.2L488.3 118.4L489.1 118.5L490.0 118.7L490.8 118.8L491.6 118.9L492.4 118.9L493.2 118.9L494.1 118.8L494.9 118.6L495.7 118.4L496.5 118.2L497.4 117.9L498.2 117.0L499.0 115.5L499.8 114.0L500.7 113.1L501.5 113.3L502.3 114.3L503.1 115.8L503.9 117.3L504.8 118.4L505.6 119.4L506.4 120.3L507.2 121.1L508.1 121.8" fill="none" stroke="#a1c6e4" stroke-width="0.62" stroke-opacity="0.62" stroke-linejoin="round"/><path d="M508.1 121.8L508.9 122.1L509.7 122.3L510.5 122.4L511.4 122.5L512.2 122.6L513.0 122.7L513.8 122.7L514.6 122.8L515.5 122.8L516.3 122.9L517.1 123.0L517.9 123.1L518.8 123.1L519.6 123.2L520.4 123.3L521.2 123.4L522.0 123.4L522.9 123.5L523.7 123.6L524.5 123.6L525.3 123.7L526.2 123.8L527.0 123.8L527.8 123.9L528.6 124.0L529.5 124.0L530.3 124.1L531.1 124.1L531.9 124.2L532.7 124.2L533.6 124.3" fill="none" stroke="#a1c6e4" stroke-width="0.62" stroke-opacity="0.37" stroke-linejoin="round"/>
<path d="M410.1 107.4L411.0 107.4L411.8 107.4L412.6 107.4L413.4 107.4L414.2 107.4L415.1 107.4L415.9 107.4L416.7 107.4L417.5 107.4L418.4 107.4L419.2 107.4L420.0 107.5L420.8 107.5L421.7 107.5L422.5 107.6L423.3 107.8L424.1 108.1L424.9 108.4L425.8 108.7L426.6 109.1L427.4 109.4L428.2 109.8L429.1 110.2L429.9 110.6L430.7 110.9L431.5 111.2L432.4 111.5L433.2 111.7L434.0 111.8L434.8 111.8L435.6 111.8L436.5 111.8L437.3 111.7L438.1 111.6L438.9 111.4L439.8 111.3L440.6 111.1L441.4 110.9L442.2 110.6L443.1 110.4L443.9 110.1L444.7 109.9L445.5 109.6L446.3 109.4L447.2 109.1L448.0 108.9L448.8 108.6L449.6 108.4L450.5 108.2L451.3 108.0L452.1 107.8L452.9 107.6L453.7 107.5L454.6 107.4L455.4 107.3L456.2 107.3L457.0 107.3L457.9 107.3L458.7 107.3L459.5 107.4L460.3 107.5L461.2 107.6L462.0 107.7L462.8 107.8L463.6 108.0L464.4 108.1L465.3 108.3L466.1 108.5L466.9 108.6L467.7 108.8L468.6 109.1L469.4 109.4L470.2 109.8L471.0 110.2L471.9 110.5L472.7 110.6L473.5 110.6L474.3 110.5L475.1 110.5L476.0 110.4L476.8 110.3L477.6 110.2L478.4 110.2L479.3 110.3L480.1 110.9L480.9 111.7L481.7 112.5L482.6 113.2L483.4 113.6L484.2 113.9L485.0 114.1L485.8 114.4L486.7 114.6L487.5 114.8L488.3 115.0L489.1 115.2L490.0 115.5L490.8 115.7L491.6 115.8L492.4 115.9L493.2 115.9L494.1 115.8L494.9 115.7L495.7 115.6L496.5 115.5L497.4 115.4L498.2 114.9L499.0 113.9L499.8 112.9L500.7 112.3L501.5 112.4L502.3 113.2L503.1 114.4L503.9 115.6L504.8 116.6L505.6 117.6L506.4 118.6L507.2 119.6L508.1 120.3" fill="none" stroke="#fc9239" stroke-width="0.62" stroke-opacity="0.62" stroke-linejoin="round"/><path d="M508.1 120.3L508.9 120.8L509.7 121.2L510.5 121.4L511.4 121.7L512.2 121.9L513.0 122.0L513.8 122.2L514.6 122.3L515.5 122.5L516.3 122.6L517.1 122.7L517.9 122.8L518.8 122.9L519.6 123.0L520.4 123.1L521.2 123.2L522.0 123.3L522.9 123.4L523.7 123.5L524.5 123.6L525.3 123.7L526.2 123.8L527.0 123.8L527.8 123.9L528.6 124.0L529.5 124.0L530.3 124.1L531.1 124.1L531.9 124.1L532.7 124.1L533.6 124.1" fill="none" stroke="#fc9239" stroke-width="0.62" stroke-opacity="0.37" stroke-linejoin="round"/>
<path d="M410.1 65.1L411.0 64.1L411.8 63.1L412.6 62.1L413.4 61.0L414.2 59.9L415.1 58.8L415.9 57.6L416.7 56.5L417.5 55.2L418.4 53.5L419.2 51.8L420.0 50.2L420.8 49.0L421.7 48.4L422.5 48.4L423.3 48.7L424.1 49.1L424.9 49.6L425.8 50.2L426.6 50.8L427.4 51.5L428.2 52.0L429.1 52.5L429.9 52.9L430.7 53.2L431.5 53.2L432.4 53.2L433.2 53.1L434.0 52.9L434.8 52.7L435.6 52.5L436.5 52.3L437.3 52.0L438.1 51.7L438.9 51.4L439.8 51.1L440.6 50.7L441.4 50.4L442.2 50.1L443.1 49.8L443.9 49.6L444.7 49.3L445.5 49.1L446.3 48.9L447.2 48.8L448.0 48.7L448.8 48.7L449.6 48.8L450.5 49.4L451.3 50.4L452.1 51.6L452.9 53.0L453.7 54.6L454.6 56.3L455.4 57.9L456.2 59.5L457.0 60.9L457.9 62.2L458.7 63.4L459.5 64.6L460.3 65.8L461.2 66.9L462.0 68.1L462.8 69.2L463.6 70.4L464.4 71.6L465.3 72.9L466.1 74.2L466.9 75.6L467.7 77.0L468.6 78.6L469.4 80.2L470.2 82.0L471.0 83.9L471.9 86.0L472.7 88.6L473.5 92.0L474.3 95.7L475.1 99.4L476.0 102.7L476.8 106.0L477.6 109.2L478.4 111.5L479.3 112.5L480.1 113.2L480.9 113.7L481.7 114.2L482.6 114.5L483.4 114.8L484.2 115.1L485.0 115.4L485.8 115.6L486.7 115.8L487.5 116.0L488.3 116.1L489.1 116.3L490.0 116.5L490.8 116.7L491.6 116.8L492.4 116.9L493.2 116.9L494.1 116.8L494.9 116.8L495.7 116.7L496.5 116.6L497.4 116.5L498.2 116.2L499.0 115.4L499.8 114.7L500.7 114.2L501.5 114.3L502.3 114.9L503.1 115.8L503.9 116.8L504.8 117.6L505.6 118.4L506.4 119.3L507.2 120.1L508.1 120.8" fill="none" stroke="#c2e1e1" stroke-width="0.62" stroke-opacity="0.62" stroke-linejoin="round"/><path d="M508.1 120.8L508.9 121.3L509.7 121.6L510.5 122.0L511.4 122.3L512.2 122.6L513.0 122.8L513.8 123.1L514.6 123.3L515.5 123.4L516.3 123.5L517.1 123.6L517.9 123.6L518.8 123.6L519.6 123.6L520.4 123.6L521.2 123.7L522.0 123.7L522.9 123.7L523.7 123.7L524.5 123.7L525.3 123.7L526.2 123.7L527.0 123.7L527.8 123.7L528.6 123.8L529.5 123.8L530.3 123.8L531.1 123.8L531.9 123.8L532.7 123.8L533.6 123.8" fill="none" stroke="#c2e1e1" stroke-width="0.62" stroke-opacity="0.37" stroke-linejoin="round"/>
<path d="M410.1 63.5L411.0 64.3L411.8 64.9L412.6 65.3L413.4 65.6L414.2 65.8L415.1 65.9L415.9 66.0L416.7 66.0L417.5 65.8L418.4 64.7L419.2 63.2L420.0 61.7L420.8 60.6L421.7 60.3L422.5 60.4L423.3 60.7L424.1 61.1L424.9 61.5L425.8 62.1L426.6 62.7L427.4 63.3L428.2 64.0L429.1 64.8L429.9 65.5L430.7 66.2L431.5 66.9L432.4 67.6L433.2 68.2L434.0 68.7L434.8 69.1L435.6 69.4L436.5 69.6L437.3 69.7L438.1 69.3L438.9 68.0L439.8 66.0L440.6 63.7L441.4 61.1L442.2 58.5L443.1 56.1L443.9 54.1L444.7 52.7L445.5 52.1L446.3 52.1L447.2 52.3L448.0 52.7L448.8 53.2L449.6 53.8L450.5 54.5L451.3 55.4L452.1 56.3L452.9 57.4L453.7 58.5L454.6 59.7L455.4 60.9L456.2 62.2L457.0 63.5L457.9 64.9L458.7 66.3L459.5 67.7L460.3 69.1L461.2 70.5L462.0 71.8L462.8 73.2L463.6 74.7L464.4 76.4L465.3 78.2L466.1 80.1L466.9 82.0L467.7 84.0L468.6 86.1L469.4 88.2L470.2 90.5L471.0 92.9L471.9 95.4L472.7 98.0L473.5 100.5L474.3 103.0L475.1 105.4L476.0 108.1L476.8 110.8L477.6 113.1L478.4 114.6L479.3 115.4L480.1 115.9L480.9 116.3L481.7 116.6L482.6 116.9L483.4 117.2L484.2 117.4L485.0 117.6L485.8 117.7L486.7 117.9L487.5 118.0L488.3 118.1L489.1 118.3L490.0 118.4L490.8 118.6L491.6 118.7L492.4 118.7L493.2 118.7L494.1 118.8L494.9 118.8L495.7 118.8L496.5 118.8L497.4 118.8L498.2 118.8L499.0 118.7L499.8 118.6L500.7 118.5L501.5 118.6L502.3 118.8L503.1 119.1L503.9 119.4L504.8 119.8L505.6 120.2L506.4 120.7L507.2 121.3L508.1 121.7" fill="none" stroke="#4581cd" stroke-width="0.62" stroke-opacity="0.62" stroke-linejoin="round"/><path d="M508.1 121.7L508.9 122.0L509.7 122.2L510.5 122.4L511.4 122.5L512.2 122.7L513.0 122.8L513.8 122.9L514.6 123.0L515.5 123.1L516.3 123.1L517.1 123.2L517.9 123.3L518.8 123.4L519.6 123.4L520.4 123.5L521.2 123.6L522.0 123.7L522.9 123.7L523.7 123.8L524.5 123.9L525.3 123.9L526.2 124.0L527.0 124.0L527.8 124.1L528.6 124.1L529.5 124.2L530.3 124.2L531.1 124.2L531.9 124.2L532.7 124.3L533.6 124.3" fill="none" stroke="#4581cd" stroke-width="0.62" stroke-opacity="0.37" stroke-linejoin="round"/>
<path d="M410.1 65.5L411.0 62.6L411.8 59.9L412.6 57.4L413.4 55.3L414.2 53.5L415.1 52.0L415.9 51.0L416.7 50.5L417.5 50.4L418.4 50.4L419.2 50.3L420.0 50.3L420.8 50.3L421.7 50.4L422.5 50.5L423.3 50.7L424.1 50.9L424.9 51.2L425.8 51.5L426.6 51.9L427.4 52.2L428.2 52.6L429.1 53.0L429.9 53.3L430.7 53.7L431.5 54.1L432.4 54.4L433.2 54.7L434.0 55.0L434.8 55.2L435.6 55.4L436.5 55.5L437.3 55.6L438.1 55.6L438.9 55.6L439.8 55.6L440.6 55.5L441.4 55.5L442.2 55.4L443.1 55.4L443.9 55.3L444.7 55.2L445.5 55.1L446.3 55.0L447.2 54.9L448.0 54.7L448.8 54.5L449.6 54.2L450.5 53.9L451.3 53.6L452.1 53.2L452.9 52.9L453.7 52.5L454.6 52.2L455.4 51.9L456.2 51.6L457.0 51.3L457.9 51.1L458.7 50.9L459.5 50.7L460.3 50.6L461.2 50.6L462.0 50.7L462.8 50.9L463.6 51.2L464.4 51.6L465.3 52.0L466.1 52.6L466.9 53.3L467.7 54.2L468.6 55.1L469.4 56.1L470.2 57.3L471.0 58.6L471.9 60.0L472.7 61.5L473.5 65.3L474.3 72.2L475.1 80.9L476.0 89.7L476.8 97.6L477.6 106.6L478.4 113.3L479.3 114.7L480.1 115.3L480.9 115.7L481.7 116.0L482.6 116.3L483.4 116.6L484.2 116.8L485.0 117.0L485.8 117.2L486.7 117.3L487.5 117.5L488.3 117.6L489.1 117.8L490.0 117.9L490.8 118.1L491.6 118.2L492.4 118.2L493.2 118.2L494.1 118.0L494.9 117.8L495.7 117.5L496.5 117.1L497.4 116.6L498.2 115.3L499.0 113.0L499.8 110.7L500.7 109.3L501.5 109.6L502.3 111.1L503.1 113.4L503.9 115.5L504.8 117.0L505.6 118.3L506.4 119.6L507.2 120.7L508.1 121.5" fill="none" stroke="#fee57b" stroke-width="0.62" stroke-opacity="0.62" stroke-linejoin="round"/><path d="M508.1 121.5L508.9 121.8L509.7 122.0L510.5 122.0L511.4 122.1L512.2 122.2L513.0 122.2L513.8 122.3L514.6 122.3L515.5 122.4L516.3 122.4L517.1 122.5L517.9 122.5L518.8 122.6L519.6 122.7L520.4 122.7L521.2 122.8L522.0 122.9L522.9 122.9L523.7 123.0L524.5 123.0L525.3 123.1L526.2 123.2L527.0 123.2L527.8 123.3L528.6 123.4L529.5 123.4L530.3 123.5L531.1 123.6L531.9 123.6L532.7 123.7L533.6 123.7" fill="none" stroke="#fee57b" stroke-width="0.62" stroke-opacity="0.37" stroke-linejoin="round"/>
<path d="M410.1 87.6L411.0 88.0L411.8 88.3L412.6 88.5L413.4 88.7L414.2 88.8L415.1 88.8L415.9 88.8L416.7 88.7L417.5 88.3L418.4 87.8L419.2 87.1L420.0 86.5L420.8 86.0L421.7 85.8L422.5 85.9L423.3 86.3L424.1 86.8L424.9 87.5L425.8 88.4L426.6 89.3L427.4 90.3L428.2 91.3L429.1 92.3L429.9 93.3L430.7 94.3L431.5 95.1L432.4 95.8L433.2 96.3L434.0 96.7L434.8 96.8L435.6 96.7L436.5 96.5L437.3 96.2L438.1 95.8L438.9 95.4L439.8 95.0L440.6 94.5L441.4 94.1L442.2 93.8L443.1 93.5L443.9 93.3L444.7 93.1L445.5 93.0L446.3 92.8L447.2 92.6L448.0 92.4L448.8 92.2L449.6 92.1L450.5 91.9L451.3 91.8L452.1 91.6L452.9 91.5L453.7 91.3L454.6 91.2L455.4 91.1L456.2 91.0L457.0 90.9L457.9 90.9L458.7 90.8L459.5 90.8L460.3 90.7L461.2 90.7L462.0 90.7L462.8 90.7L463.6 90.7L464.4 90.7L465.3 90.8L466.1 90.8L466.9 90.8L467.7 90.9L468.6 90.9L469.4 91.0L470.2 92.0L471.0 93.8L471.9 96.0L472.7 98.4L473.5 100.5L474.3 103.1L475.1 106.0L476.0 108.9L476.8 111.7L477.6 113.9L478.4 115.4L479.3 116.1L480.1 116.6L480.9 117.0L481.7 117.3L482.6 117.5L483.4 117.8L484.2 118.0L485.0 118.1L485.8 118.3L486.7 118.4L487.5 118.5L488.3 118.7L489.1 118.8L490.0 118.9L490.8 119.1L491.6 119.2L492.4 119.2L493.2 119.2L494.1 119.1L494.9 119.0L495.7 118.9L496.5 118.8L497.4 118.6L498.2 118.1L499.0 117.3L499.8 116.3L500.7 115.8L501.5 115.9L502.3 116.6L503.1 117.5L503.9 118.5L504.8 119.3L505.6 120.0L506.4 120.7L507.2 121.4L508.1 121.9" fill="none" stroke="#fdba4f" stroke-width="0.62" stroke-opacity="0.62" stroke-linejoin="round"/><path d="M508.1 121.9L508.9 122.2L509.7 122.4L510.5 122.6L511.4 122.8L512.2 122.9L513.0 123.0L513.8 123.1L514.6 123.2L515.5 123.3L516.3 123.4L517.1 123.4L517.9 123.5L518.8 123.6L519.6 123.7L520.4 123.7L521.2 123.8L522.0 123.9L522.9 123.9L523.7 124.0L524.5 124.1L525.3 124.1L526.2 124.2L527.0 124.2L527.8 124.3L528.6 124.3L529.5 124.4L530.3 124.4L531.1 124.4L531.9 124.4L532.7 124.4L533.6 124.5" fill="none" stroke="#fdba4f" stroke-width="0.62" stroke-opacity="0.37" stroke-linejoin="round"/>
<path d="M410.1 100.4L411.0 100.4L411.8 100.4L412.6 100.4L413.4 100.4L414.2 100.5L415.1 100.5L415.9 100.5L416.7 100.6L417.5 100.6L418.4 100.7L419.2 100.7L420.0 100.8L420.8 100.8L421.7 100.9L422.5 101.1L423.3 101.3L424.1 101.6L424.9 102.0L425.8 102.4L426.6 102.9L427.4 103.4L428.2 103.9L429.1 104.3L429.9 104.8L430.7 105.2L431.5 105.6L432.4 105.9L433.2 106.1L434.0 106.3L434.8 106.3L435.6 106.3L436.5 106.3L437.3 106.2L438.1 106.1L438.9 106.0L439.8 105.9L440.6 105.7L441.4 105.6L442.2 105.4L443.1 105.2L443.9 105.0L444.7 104.8L445.5 104.6L446.3 104.4L447.2 104.2L448.0 104.0L448.8 103.8L449.6 103.6L450.5 103.5L451.3 103.3L452.1 103.1L452.9 103.0L453.7 102.9L454.6 102.8L455.4 102.7L456.2 102.6L457.0 102.6L457.9 102.6L458.7 102.5L459.5 102.5L460.3 102.5L461.2 102.5L462.0 102.4L462.8 102.4L463.6 102.4L464.4 102.4L465.3 102.4L466.1 102.4L466.9 102.4L467.7 102.4L468.6 102.6L469.4 103.4L470.2 104.3L471.0 105.4L471.9 106.4L472.7 107.1L473.5 107.6L474.3 108.0L475.1 108.3L476.0 108.7L476.8 109.0L477.6 109.4L478.4 109.8L479.3 110.4L480.1 111.0L480.9 111.8L481.7 112.5L482.6 113.0L483.4 113.4L484.2 113.7L485.0 114.0L485.8 114.2L486.7 114.5L487.5 114.7L488.3 114.9L489.1 115.1L490.0 115.3L490.8 115.5L491.6 115.7L492.4 115.8L493.2 115.7L494.1 115.5L494.9 115.2L495.7 114.8L496.5 114.3L497.4 113.7L498.2 112.1L499.0 109.2L499.8 106.3L500.7 104.5L501.5 104.9L502.3 106.9L503.1 109.7L503.9 112.5L504.8 114.4L505.6 116.1L506.4 117.7L507.2 119.1L508.1 120.2" fill="none" stroke="#fdb64c" stroke-width="0.62" stroke-opacity="0.62" stroke-linejoin="round"/><path d="M508.1 120.2L508.9 120.8L509.7 121.1L510.5 121.4L511.4 121.7L512.2 121.9L513.0 122.1L513.8 122.2L514.6 122.3L515.5 122.5L516.3 122.6L517.1 122.7L517.9 122.8L518.8 122.9L519.6 123.0L520.4 123.1L521.2 123.2L522.0 123.3L522.9 123.4L523.7 123.5L524.5 123.6L525.3 123.7L526.2 123.8L527.0 123.8L527.8 123.9L528.6 123.9L529.5 124.0L530.3 124.0L531.1 124.1L531.9 124.1L532.7 124.1L533.6 124.1" fill="none" stroke="#fdb64c" stroke-width="0.62" stroke-opacity="0.37" stroke-linejoin="round"/>
<path d="M410.1 48.9L411.0 47.2L411.8 45.5L412.6 43.8L413.4 42.3L414.2 40.8L415.1 39.5L415.9 38.3L416.7 37.3L417.5 36.5L418.4 36.0L419.2 35.6L420.0 35.6L420.8 35.7L421.7 35.8L422.5 36.0L423.3 36.3L424.1 36.6L424.9 36.9L425.8 37.3L426.6 37.6L427.4 38.0L428.2 38.3L429.1 38.6L429.9 38.8L430.7 39.0L431.5 39.1L432.4 39.1L433.2 39.1L434.0 39.0L434.8 38.9L435.6 38.8L436.5 38.7L437.3 38.5L438.1 38.3L438.9 38.1L439.8 37.9L440.6 37.7L441.4 37.4L442.2 37.2L443.1 36.9L443.9 36.6L444.7 36.4L445.5 36.1L446.3 35.8L447.2 35.6L448.0 35.3L448.8 34.9L449.6 34.5L450.5 34.1L451.3 33.6L452.1 33.1L452.9 32.6L453.7 32.0L454.6 31.5L455.4 30.9L456.2 30.3L457.0 29.7L457.9 29.1L458.7 28.6L459.5 28.0L460.3 27.5L461.2 27.0L462.0 26.6L462.8 26.2L463.6 25.8L464.4 25.5L465.3 25.3L466.1 25.1L466.9 25.0L467.7 24.9L468.6 25.1L469.4 25.7L470.2 26.7L471.0 28.1L471.9 29.9L472.7 32.1L473.5 34.6L474.3 40.1L475.1 54.0L476.0 71.2L476.8 85.7L477.6 94.1L478.4 100.0L479.3 102.2L480.1 103.5L480.9 104.5L481.7 105.3L482.6 105.9L483.4 106.5L484.2 107.0L485.0 107.5L485.8 107.9L486.7 108.3L487.5 108.6L488.3 108.9L489.1 109.3L490.0 109.7L490.8 110.0L491.6 110.3L492.4 110.3L493.2 110.2L494.1 109.7L494.9 109.0L495.7 108.0L496.5 106.8L497.4 105.5L498.2 101.7L499.0 95.1L499.8 88.5L500.7 84.4L501.5 85.1L502.3 89.6L503.1 95.9L503.9 102.0L504.8 106.0L505.6 109.3L506.4 112.4L507.2 115.1L508.1 117.2" fill="none" stroke="#fc983c" stroke-width="0.62" stroke-opacity="0.62" stroke-linejoin="round"/><path d="M508.1 117.2L508.9 118.5L509.7 119.4L510.5 120.2L511.4 121.0L512.2 121.6L513.0 122.2L513.8 122.7L514.6 123.1L515.5 123.4L516.3 123.5L517.1 123.6L517.9 123.6L518.8 123.6L519.6 123.6L520.4 123.6L521.2 123.6L522.0 123.6L522.9 123.7L523.7 123.7L524.5 123.7L525.3 123.7L526.2 123.7L527.0 123.7L527.8 123.7L528.6 123.7L529.5 123.7L530.3 123.7L531.1 123.7L531.9 123.7L532.7 123.7L533.6 123.7" fill="none" stroke="#fc983c" stroke-width="0.62" stroke-opacity="0.37" stroke-linejoin="round"/>
<path d="M410.1 63.4L411.0 63.3L411.8 63.1L412.6 62.8L413.4 62.4L414.2 61.9L415.1 61.4L415.9 60.8L416.7 60.2L417.5 59.5L418.4 58.3L419.2 56.9L420.0 55.6L420.8 54.6L421.7 54.1L422.5 54.2L423.3 54.5L424.1 54.9L424.9 55.4L425.8 56.1L426.6 56.8L427.4 57.7L428.2 58.6L429.1 59.5L429.9 60.5L430.7 61.4L431.5 62.4L432.4 63.3L433.2 64.2L434.0 65.0L434.8 65.7L435.6 66.3L436.5 66.8L437.3 67.1L438.1 67.3L438.9 67.2L439.8 66.8L440.6 66.1L441.4 65.2L442.2 64.1L443.1 63.0L443.9 61.8L444.7 60.8L445.5 59.8L446.3 59.2L447.2 58.8L448.0 58.7L448.8 58.9L449.6 59.2L450.5 59.7L451.3 60.3L452.1 61.0L452.9 61.7L453.7 62.5L454.6 63.3L455.4 64.1L456.2 64.8L457.0 65.6L457.9 66.3L458.7 67.1L459.5 67.9L460.3 68.7L461.2 69.5L462.0 70.4L462.8 71.4L463.6 72.3L464.4 73.4L465.3 74.5L466.1 75.7L466.9 76.9L467.7 78.3L468.6 79.7L469.4 81.2L470.2 82.8L471.0 84.5L471.9 86.4L472.7 88.9L473.5 92.4L474.3 96.4L475.1 100.4L476.0 103.8L476.8 107.1L477.6 110.2L478.4 112.4L479.3 113.3L480.1 114.0L480.9 114.5L481.7 114.9L482.6 115.2L483.4 115.5L484.2 115.8L485.0 116.0L485.8 116.2L486.7 116.4L487.5 116.6L488.3 116.7L489.1 116.9L490.0 117.1L490.8 117.3L491.6 117.4L492.4 117.4L493.2 117.4L494.1 117.3L494.9 117.2L495.7 117.0L496.5 116.8L497.4 116.6L498.2 115.8L499.0 114.5L499.8 113.1L500.7 112.2L501.5 112.4L502.3 113.4L503.1 114.8L503.9 116.3L504.8 117.4L505.6 118.4L506.4 119.4L507.2 120.3L508.1 121.0" fill="none" stroke="#9ec3e3" stroke-width="0.62" stroke-opacity="0.62" stroke-linejoin="round"/><path d="M508.1 121.0L508.9 121.5L509.7 121.9L510.5 122.2L511.4 122.5L512.2 122.8L513.0 123.1L513.8 123.3L514.6 123.4L515.5 123.6L516.3 123.7L517.1 123.7L517.9 123.7L518.8 123.7L519.6 123.7L520.4 123.7L521.2 123.7L522.0 123.7L522.9 123.7L523.7 123.7L524.5 123.7L525.3 123.7L526.2 123.7L527.0 123.7L527.8 123.7L528.6 123.7L529.5 123.7L530.3 123.6L531.1 123.6L531.9 123.6L532.7 123.6L533.6 123.6" fill="none" stroke="#9ec3e3" stroke-width="0.62" stroke-opacity="0.37" stroke-linejoin="round"/>
<path d="M410.1 60.6L411.0 58.6L411.8 56.7L412.6 55.0L413.4 53.3L414.2 51.9L415.1 50.7L415.9 49.7L416.7 49.0L417.5 48.6L418.4 48.1L419.2 47.8L420.0 47.5L420.8 47.2L421.7 47.0L422.5 46.9L423.3 46.9L424.1 47.1L424.9 47.6L425.8 48.2L426.6 49.0L427.4 49.9L428.2 50.8L429.1 51.6L429.9 52.5L430.7 53.3L431.5 53.9L432.4 54.3L433.2 54.6L434.0 54.5L434.8 54.3L435.6 53.9L436.5 53.3L437.3 52.5L438.1 51.7L438.9 50.8L439.8 49.9L440.6 48.9L441.4 47.9L442.2 46.9L443.1 46.1L443.9 45.2L444.7 44.5L445.5 44.0L446.3 43.6L447.2 43.4L448.0 43.3L448.8 43.2L449.6 43.1L450.5 43.0L451.3 42.9L452.1 42.9L452.9 42.8L453.7 42.7L454.6 42.7L455.4 42.6L456.2 42.6L457.0 42.5L457.9 42.5L458.7 42.5L459.5 42.5L460.3 42.5L461.2 42.4L462.0 42.5L462.8 42.5L463.6 42.7L464.4 43.0L465.3 43.4L466.1 43.8L466.9 44.4L467.7 45.1L468.6 45.9L469.4 46.8L470.2 47.9L471.0 49.1L471.9 50.4L472.7 51.9L473.5 53.5L474.3 57.6L475.1 68.8L476.0 82.6L476.8 93.4L477.6 98.2L478.4 101.1L479.3 102.8L480.1 104.0L480.9 105.1L481.7 105.9L482.6 106.5L483.4 107.1L484.2 107.6L485.0 108.1L485.8 108.4L486.7 108.8L487.5 109.1L488.3 109.5L489.1 109.8L490.0 110.2L490.8 110.5L491.6 110.7L492.4 110.8L493.2 110.7L494.1 110.5L494.9 110.1L495.7 109.5L496.5 108.8L497.4 108.1L498.2 105.8L499.0 101.9L499.8 97.9L500.7 95.4L501.5 95.8L502.3 98.6L503.1 102.6L503.9 106.5L504.8 109.3L505.6 111.7L506.4 114.0L507.2 116.0L508.1 117.7" fill="none" stroke="#fdb048" stroke-width="0.62" stroke-opacity="0.62" stroke-linejoin="round"/><path d="M508.1 117.7L508.9 118.7L509.7 119.5L510.5 120.1L511.4 120.7L512.2 121.2L513.0 121.7L513.8 122.1L514.6 122.4L515.5 122.7L516.3 122.9L517.1 123.0L517.9 123.1L518.8 123.2L519.6 123.3L520.4 123.4L521.2 123.4L522.0 123.5L522.9 123.5L523.7 123.6L524.5 123.7L525.3 123.7L526.2 123.7L527.0 123.8L527.8 123.8L528.6 123.8L529.5 123.9L530.3 123.9L531.1 123.9L531.9 123.9L532.7 123.9L533.6 123.9" fill="none" stroke="#fdb048" stroke-width="0.62" stroke-opacity="0.37" stroke-linejoin="round"/>
<path d="M410.1 78.8L411.0 77.1L411.8 75.6L412.6 74.2L413.4 72.9L414.2 71.9L415.1 71.1L415.9 70.6L416.7 70.3L417.5 70.3L418.4 70.3L419.2 70.3L420.0 70.3L420.8 70.3L421.7 70.4L422.5 70.5L423.3 70.5L424.1 70.6L424.9 70.7L425.8 70.9L426.6 71.0L427.4 71.1L428.2 71.3L429.1 71.4L429.9 71.5L430.7 71.7L431.5 71.8L432.4 71.9L433.2 72.0L434.0 72.1L434.8 72.2L435.6 72.2L436.5 72.3L437.3 72.3L438.1 72.1L438.9 71.7L439.8 71.2L440.6 70.5L441.4 69.7L442.2 68.8L443.1 68.0L443.9 67.1L444.7 66.4L445.5 65.7L446.3 65.2L447.2 64.8L448.0 64.7L448.8 65.0L449.6 65.7L450.5 66.7L451.3 68.0L452.1 69.5L452.9 71.1L453.7 72.7L454.6 74.2L455.4 75.6L456.2 76.8L457.0 77.7L457.9 78.6L458.7 79.5L459.5 80.3L460.3 81.0L461.2 81.7L462.0 82.4L462.8 83.1L463.6 83.7L464.4 84.4L465.3 85.2L466.1 85.9L466.9 86.8L467.7 87.6L468.6 88.6L469.4 89.7L470.2 90.8L471.0 92.1L471.9 93.5L472.7 95.4L473.5 98.0L474.3 101.0L475.1 104.0L476.0 106.7L476.8 109.4L477.6 112.0L478.4 113.9L479.3 114.7L480.1 115.3L480.9 115.8L481.7 116.1L482.6 116.4L483.4 116.7L484.2 116.9L485.0 117.1L485.8 117.3L486.7 117.4L487.5 117.6L488.3 117.7L489.1 117.9L490.0 118.0L490.8 118.2L491.6 118.3L492.4 118.3L493.2 118.3L494.1 118.3L494.9 118.2L495.7 118.1L496.5 118.0L497.4 117.9L498.2 117.5L499.0 116.8L499.8 116.1L500.7 115.6L501.5 115.7L502.3 116.3L503.1 117.1L503.9 118.0L504.8 118.8L505.6 119.5L506.4 120.3L507.2 121.0L508.1 121.6" fill="none" stroke="#d4ead2" stroke-width="0.62" stroke-opacity="0.62" stroke-linejoin="round"/><path d="M508.1 121.6L508.9 121.9L509.7 122.0L510.5 122.1L511.4 122.1L512.2 122.2L513.0 122.2L513.8 122.3L514.6 122.3L515.5 122.4L516.3 122.4L517.1 122.5L517.9 122.5L518.8 122.6L519.6 122.7L520.4 122.7L521.2 122.8L522.0 122.9L522.9 122.9L523.7 123.0L524.5 123.1L525.3 123.2L526.2 123.2L527.0 123.3L527.8 123.4L528.6 123.5L529.5 123.5L530.3 123.6L531.1 123.7L531.9 123.8L532.7 123.8L533.6 123.9" fill="none" stroke="#d4ead2" stroke-width="0.62" stroke-opacity="0.37" stroke-linejoin="round"/>
<path d="M410.1 51.9L411.0 51.7L411.8 51.5L412.6 51.2L413.4 50.9L414.2 50.5L415.1 50.1L415.9 49.7L416.7 49.2L417.5 48.7L418.4 47.9L419.2 46.9L420.0 45.9L420.8 44.9L421.7 43.9L422.5 43.2L423.3 42.8L424.1 42.7L424.9 43.3L425.8 44.6L426.6 46.2L427.4 48.2L428.2 50.3L429.1 52.5L429.9 54.5L430.7 56.2L431.5 57.5L432.4 58.2L433.2 58.2L434.0 57.8L434.8 57.0L435.6 56.0L436.5 54.8L437.3 53.4L438.1 51.9L438.9 50.2L439.8 48.6L440.6 47.0L441.4 45.5L442.2 44.1L443.1 42.9L443.9 42.0L444.7 41.3L445.5 41.0L446.3 41.0L447.2 41.0L448.0 41.1L448.8 41.2L449.6 41.3L450.5 41.4L451.3 41.6L452.1 41.7L452.9 42.0L453.7 42.2L454.6 42.4L455.4 42.7L456.2 43.0L457.0 43.3L457.9 43.7L458.7 44.0L459.5 44.4L460.3 44.8L461.2 45.2L462.0 45.7L462.8 46.1L463.6 46.6L464.4 47.1L465.3 47.6L466.1 48.1L466.9 48.6L467.7 49.4L468.6 50.2L469.4 51.3L470.2 52.6L471.0 54.1L471.9 55.9L472.7 58.0L473.5 62.3L474.3 69.7L475.1 78.6L476.0 87.4L476.8 94.9L477.6 102.9L478.4 108.8L479.3 110.4L480.1 111.3L480.9 111.9L481.7 112.4L482.6 112.8L483.4 113.1L484.2 113.5L485.0 113.8L485.8 114.0L486.7 114.2L487.5 114.5L488.3 114.7L489.1 114.9L490.0 115.1L490.8 115.3L491.6 115.5L492.4 115.6L493.2 115.5L494.1 115.3L494.9 115.1L495.7 114.8L496.5 114.4L497.4 113.9L498.2 112.5L499.0 110.1L499.8 107.6L500.7 106.1L501.5 106.4L502.3 108.1L503.1 110.6L503.9 113.0L504.8 114.7L505.6 116.3L506.4 117.7L507.2 119.0L508.1 120.0" fill="none" stroke="#fbf191" stroke-width="0.62" stroke-opacity="0.62" stroke-linejoin="round"/><path d="M508.1 120.0L508.9 120.7L509.7 121.2L510.5 121.5L511.4 121.9L512.2 122.2L513.0 122.5L513.8 122.7L514.6 122.9L515.5 123.1L516.3 123.2L517.1 123.3L517.9 123.4L518.8 123.5L519.6 123.6L520.4 123.7L521.2 123.7L522.0 123.8L522.9 123.9L523.7 123.9L524.5 124.0L525.3 124.1L526.2 124.1L527.0 124.2L527.8 124.2L528.6 124.2L529.5 124.3L530.3 124.3L531.1 124.3L531.9 124.3L532.7 124.3L533.6 124.3" fill="none" stroke="#fbf191" stroke-width="0.62" stroke-opacity="0.37" stroke-linejoin="round"/>
<path d="M410.1 57.3L411.0 54.6L411.8 52.1L412.6 49.9L413.4 47.9L414.2 46.2L415.1 44.9L415.9 44.0L416.7 43.6L417.5 43.6L418.4 43.8L419.2 44.2L420.0 44.6L420.8 45.1L421.7 45.4L422.5 45.7L423.3 45.8L424.1 45.9L424.9 46.0L425.8 46.0L426.6 46.1L427.4 46.1L428.2 46.2L429.1 46.2L429.9 46.3L430.7 46.3L431.5 46.3L432.4 46.3L433.2 46.2L434.0 46.0L434.8 45.8L435.6 45.4L436.5 44.9L437.3 44.4L438.1 43.9L438.9 43.3L439.8 42.7L440.6 42.1L441.4 41.5L442.2 40.9L443.1 40.4L443.9 39.9L444.7 39.4L445.5 39.1L446.3 38.8L447.2 38.4L448.0 38.1L448.8 37.8L449.6 37.5L450.5 37.2L451.3 36.9L452.1 36.6L452.9 36.3L453.7 36.1L454.6 35.8L455.4 35.5L456.2 35.3L457.0 35.1L457.9 34.9L458.7 34.7L459.5 34.5L460.3 34.4L461.2 34.2L462.0 34.1L462.8 34.1L463.6 34.0L464.4 34.0L465.3 34.2L466.1 34.6L466.9 35.2L467.7 36.1L468.6 37.1L469.4 38.4L470.2 39.8L471.0 41.5L471.9 43.4L472.7 45.4L473.5 50.3L474.3 59.2L475.1 70.2L476.0 81.2L476.8 90.8L477.6 101.5L478.4 109.3L479.3 111.0L480.1 111.9L480.9 112.5L481.7 112.9L482.6 113.3L483.4 113.6L484.2 113.9L485.0 114.2L485.8 114.5L486.7 114.7L487.5 114.9L488.3 115.1L489.1 115.3L490.0 115.5L490.8 115.7L491.6 115.9L492.4 115.9L493.2 115.9L494.1 115.9L494.9 115.8L495.7 115.7L496.5 115.5L497.4 115.3L498.2 114.8L499.0 113.7L499.8 112.6L500.7 111.9L501.5 112.1L502.3 112.9L503.1 114.2L503.9 115.5L504.8 116.5L505.6 117.6L506.4 118.6L507.2 119.6L508.1 120.4" fill="none" stroke="#fdc85a" stroke-width="0.62" stroke-opacity="0.62" stroke-linejoin="round"/><path d="M508.1 120.4L508.9 120.9L509.7 121.2L510.5 121.4L511.4 121.6L512.2 121.8L513.0 122.0L513.8 122.2L514.6 122.3L515.5 122.4L516.3 122.5L517.1 122.6L517.9 122.7L518.8 122.8L519.6 122.8L520.4 122.9L521.2 123.0L522.0 123.1L522.9 123.1L523.7 123.2L524.5 123.3L525.3 123.3L526.2 123.4L527.0 123.4L527.8 123.5L528.6 123.5L529.5 123.6L530.3 123.6L531.1 123.6L531.9 123.6L532.7 123.6L533.6 123.6" fill="none" stroke="#fdc85a" stroke-width="0.62" stroke-opacity="0.37" stroke-linejoin="round"/>
<path d="M410.1 85.4L411.0 85.3L411.8 85.2L412.6 85.1L413.4 84.9L414.2 84.8L415.1 84.6L415.9 84.4L416.7 84.2L417.5 83.8L418.4 83.4L419.2 83.0L420.0 82.6L420.8 82.3L421.7 82.2L422.5 82.4L423.3 82.8L424.1 83.5L424.9 84.5L425.8 85.6L426.6 86.8L427.4 88.1L428.2 89.4L429.1 90.8L429.9 92.1L430.7 93.3L431.5 94.4L432.4 95.3L433.2 96.0L434.0 96.5L434.8 96.6L435.6 96.6L436.5 96.6L437.3 96.6L438.1 96.6L438.9 96.6L439.8 96.6L440.6 96.6L441.4 96.5L442.2 96.5L443.1 96.5L443.9 96.4L444.7 96.2L445.5 95.9L446.3 95.5L447.2 95.0L448.0 94.4L448.8 93.8L449.6 93.1L450.5 92.4L451.3 91.7L452.1 91.0L452.9 90.3L453.7 89.6L454.6 88.9L455.4 88.3L456.2 87.8L457.0 87.3L457.9 86.9L458.7 86.6L459.5 86.4L460.3 86.3L461.2 86.4L462.0 86.5L462.8 86.7L463.6 86.9L464.4 87.2L465.3 87.6L466.1 88.1L466.9 88.6L467.7 89.1L468.6 89.7L469.4 90.5L470.2 92.2L471.0 94.6L471.9 97.4L472.7 100.0L473.5 102.1L474.3 104.0L475.1 105.9L476.0 107.7L476.8 109.3L477.6 110.7L478.4 111.8L479.3 112.6L480.1 113.3L480.9 113.9L481.7 114.3L482.6 114.7L483.4 115.0L484.2 115.3L485.0 115.5L485.8 115.8L486.7 115.9L487.5 116.1L488.3 116.3L489.1 116.5L490.0 116.7L490.8 116.9L491.6 117.0L492.4 117.0L493.2 117.0L494.1 117.0L494.9 117.0L495.7 116.9L496.5 116.8L497.4 116.7L498.2 116.4L499.0 115.7L499.8 115.1L500.7 114.6L501.5 114.7L502.3 115.3L503.1 116.2L503.9 117.1L504.8 117.8L505.6 118.6L506.4 119.4L507.2 120.2L508.1 120.9" fill="none" stroke="#fdbf53" stroke-width="0.62" stroke-opacity="0.62" stroke-linejoin="round"/><path d="M508.1 120.9L508.9 121.3L509.7 121.7L510.5 122.0L511.4 122.2L512.2 122.5L513.0 122.7L513.8 122.9L514.6 123.1L515.5 123.2L516.3 123.3L517.1 123.4L517.9 123.4L518.8 123.5L519.6 123.6L520.4 123.6L521.2 123.7L522.0 123.7L522.9 123.8L523.7 123.8L524.5 123.9L525.3 123.9L526.2 123.9L527.0 124.0L527.8 124.0L528.6 124.0L529.5 124.0L530.3 124.1L531.1 124.1L531.9 124.1L532.7 124.1L533.6 124.1" fill="none" stroke="#fdbf53" stroke-width="0.62" stroke-opacity="0.37" stroke-linejoin="round"/>
<path d="M410.1 56.6L411.0 55.9L411.8 55.3L412.6 54.6L413.4 53.9L414.2 53.2L415.1 52.5L415.9 51.8L416.7 51.1L417.5 50.3L418.4 49.3L419.2 48.3L420.0 47.2L420.8 46.3L421.7 45.4L422.5 44.8L423.3 44.5L424.1 44.6L424.9 44.9L425.8 45.3L426.6 45.9L427.4 46.6L428.2 47.4L429.1 48.3L429.9 49.3L430.7 50.2L431.5 51.2L432.4 52.1L433.2 53.0L434.0 53.9L434.8 54.6L435.6 55.2L436.5 55.6L437.3 55.9L438.1 56.0L438.9 55.6L439.8 54.9L440.6 53.7L441.4 52.3L442.2 50.7L443.1 48.9L443.9 47.1L444.7 45.4L445.5 43.7L446.3 42.2L447.2 41.0L448.0 40.1L448.8 39.6L449.6 39.6L450.5 39.8L451.3 40.3L452.1 41.0L452.9 41.9L453.7 42.8L454.6 43.9L455.4 45.0L456.2 46.2L457.0 47.3L457.9 48.4L458.7 49.5L459.5 50.7L460.3 51.9L461.2 53.2L462.0 54.6L462.8 56.0L463.6 57.5L464.4 59.1L465.3 60.7L466.1 62.5L466.9 64.3L467.7 66.3L468.6 68.3L469.4 70.5L470.2 72.8L471.0 75.2L471.9 77.7L472.7 80.8L473.5 84.6L474.3 88.9L475.1 93.4L476.0 97.7L476.8 102.7L477.6 108.0L478.4 111.7L479.3 112.8L480.1 113.5L480.9 114.1L481.7 114.5L482.6 114.8L483.4 115.1L484.2 115.4L485.0 115.6L485.8 115.8L486.7 116.0L487.5 116.2L488.3 116.4L489.1 116.5L490.0 116.7L490.8 116.9L491.6 117.0L492.4 117.1L493.2 117.1L494.1 117.0L494.9 116.8L495.7 116.7L496.5 116.5L497.4 116.2L498.2 115.4L499.0 114.1L499.8 112.7L500.7 111.8L501.5 112.0L502.3 113.0L503.1 114.5L503.9 116.0L504.8 117.1L505.6 118.1L506.4 119.1L507.2 120.0L508.1 120.8" fill="none" stroke="#d6ebd0" stroke-width="0.62" stroke-opacity="0.62" stroke-linejoin="round"/><path d="M508.1 120.8L508.9 121.4L509.7 121.8L510.5 122.1L511.4 122.5L512.2 122.8L513.0 123.1L513.8 123.3L514.6 123.5L515.5 123.7L516.3 123.8L517.1 123.9L517.9 123.9L518.8 124.0L519.6 124.0L520.4 124.1L521.2 124.1L522.0 124.1L522.9 124.2L523.7 124.2L524.5 124.2L525.3 124.2L526.2 124.3L527.0 124.3L527.8 124.3L528.6 124.3L529.5 124.3L530.3 124.3L531.1 124.3L531.9 124.3L532.7 124.3L533.6 124.3" fill="none" stroke="#d6ebd0" stroke-width="0.62" stroke-opacity="0.37" stroke-linejoin="round"/>
<path d="M410.1 79.9L411.0 79.6L411.8 79.1L412.6 78.5L413.4 77.8L414.2 76.9L415.1 76.0L415.9 75.0L416.7 73.9L417.5 72.7L418.4 70.7L419.2 68.5L420.0 66.3L420.8 64.8L421.7 64.2L422.5 64.3L423.3 64.5L424.1 64.7L424.9 65.1L425.8 65.5L426.6 65.9L427.4 66.4L428.2 66.8L429.1 67.2L429.9 67.6L430.7 67.9L431.5 68.1L432.4 68.2L433.2 68.3L434.0 68.4L434.8 68.4L435.6 68.5L436.5 68.5L437.3 68.6L438.1 68.6L438.9 68.6L439.8 68.6L440.6 68.7L441.4 68.7L442.2 68.7L443.1 68.7L443.9 68.8L444.7 68.8L445.5 68.9L446.3 68.9L447.2 69.0L448.0 69.0L448.8 69.1L449.6 69.2L450.5 69.3L451.3 69.5L452.1 70.0L452.9 70.7L453.7 71.5L454.6 72.5L455.4 73.6L456.2 74.8L457.0 76.0L457.9 77.4L458.7 78.7L459.5 80.1L460.3 81.5L461.2 82.9L462.0 84.2L462.8 85.5L463.6 86.9L464.4 88.4L465.3 89.9L466.1 91.5L466.9 93.1L467.7 94.8L468.6 96.4L469.4 98.1L470.2 99.9L471.0 101.8L471.9 103.7L472.7 105.6L473.5 107.4L474.3 108.9L475.1 110.1L476.0 111.3L476.8 112.3L477.6 113.2L478.4 114.0L479.3 114.6L480.1 115.1L480.9 115.6L481.7 116.0L482.6 116.3L483.4 116.6L484.2 116.8L485.0 117.0L485.8 117.2L486.7 117.4L487.5 117.5L488.3 117.7L489.1 117.8L490.0 118.0L490.8 118.1L491.6 118.2L492.4 118.3L493.2 118.3L494.1 118.3L494.9 118.4L495.7 118.4L496.5 118.4L497.4 118.4L498.2 118.4L499.0 118.3L499.8 118.1L500.7 118.1L501.5 118.1L502.3 118.3L503.1 118.7L503.9 119.0L504.8 119.4L505.6 119.9L506.4 120.4L507.2 121.0L508.1 121.5" fill="none" stroke="#4883cf" stroke-width="0.62" stroke-opacity="0.62" stroke-linejoin="round"/><path d="M508.1 121.5L508.9 121.8L509.7 122.1L510.5 122.3L511.4 122.5L512.2 122.7L513.0 122.9L513.8 123.1L514.6 123.2L515.5 123.3L516.3 123.4L517.1 123.5L517.9 123.5L518.8 123.6L519.6 123.6L520.4 123.7L521.2 123.7L522.0 123.7L522.9 123.8L523.7 123.8L524.5 123.8L525.3 123.9L526.2 123.9L527.0 123.9L527.8 123.9L528.6 124.0L529.5 124.0L530.3 124.0L531.1 124.0L531.9 124.0L532.7 124.0L533.6 124.0" fill="none" stroke="#4883cf" stroke-width="0.62" stroke-opacity="0.37" stroke-linejoin="round"/>
<path d="M410.1 84.0L411.0 83.2L411.8 82.4L412.6 81.7L413.4 81.0L414.2 80.5L415.1 79.9L415.9 79.5L416.7 79.2L417.5 78.9L418.4 78.6L419.2 78.3L420.0 78.1L420.8 78.0L421.7 77.9L422.5 78.1L423.3 78.7L424.1 79.6L424.9 80.8L425.8 82.2L426.6 83.8L427.4 85.5L428.2 87.2L429.1 89.0L429.9 90.7L430.7 92.2L431.5 93.6L432.4 94.8L433.2 95.7L434.0 96.3L434.8 96.5L435.6 96.5L436.5 96.2L437.3 95.8L438.1 95.4L438.9 94.8L439.8 94.3L440.6 93.7L441.4 93.1L442.2 92.6L443.1 92.2L443.9 91.8L444.7 91.5L445.5 91.0L446.3 90.6L447.2 90.2L448.0 89.8L448.8 89.4L449.6 89.0L450.5 88.6L451.3 88.2L452.1 87.8L452.9 87.5L453.7 87.1L454.6 86.8L455.4 86.6L456.2 86.3L457.0 86.1L457.9 86.0L458.7 85.9L459.5 85.8L460.3 85.8L461.2 85.8L462.0 85.9L462.8 85.9L463.6 86.0L464.4 86.1L465.3 86.2L466.1 86.3L466.9 86.5L467.7 86.7L468.6 86.9L469.4 87.2L470.2 88.5L471.0 90.8L471.9 93.5L472.7 96.3L473.5 98.7L474.3 101.4L475.1 104.4L476.0 107.5L476.8 110.2L477.6 112.5L478.4 114.1L479.3 114.8L480.1 115.4L480.9 115.8L481.7 116.2L482.6 116.5L483.4 116.7L484.2 117.0L485.0 117.1L485.8 117.3L486.7 117.5L487.5 117.6L488.3 117.8L489.1 117.9L490.0 118.1L490.8 118.2L491.6 118.3L492.4 118.4L493.2 118.3L494.1 118.2L494.9 118.1L495.7 117.9L496.5 117.7L497.4 117.4L498.2 116.6L499.0 115.1L499.8 113.6L500.7 112.7L501.5 112.9L502.3 114.0L503.1 115.5L503.9 116.9L504.8 118.0L505.6 119.0L506.4 119.9L507.2 120.8L508.1 121.5" fill="none" stroke="#fdf08c" stroke-width="0.62" stroke-opacity="0.62" stroke-linejoin="round"/><path d="M508.1 121.5L508.9 121.9L509.7 122.2L510.5 122.4L511.4 122.7L512.2 122.9L513.0 123.0L513.8 123.2L514.6 123.3L515.5 123.4L516.3 123.5L517.1 123.6L517.9 123.6L518.8 123.6L519.6 123.7L520.4 123.7L521.2 123.7L522.0 123.7L522.9 123.8L523.7 123.8L524.5 123.8L525.3 123.8L526.2 123.9L527.0 123.9L527.8 123.9L528.6 123.9L529.5 123.9L530.3 123.9L531.1 123.9L531.9 123.9L532.7 123.9L533.6 123.9" fill="none" stroke="#fdf08c" stroke-width="0.62" stroke-opacity="0.37" stroke-linejoin="round"/>
<path d="M410.1 49.3L411.0 47.7L411.8 46.1L412.6 44.7L413.4 43.5L414.2 42.5L415.1 41.7L415.9 41.2L416.7 41.0L417.5 41.0L418.4 41.3L419.2 41.7L420.0 42.1L420.8 42.6L421.7 43.1L422.5 43.4L423.3 43.5L424.1 43.5L424.9 43.5L425.8 43.5L426.6 43.5L427.4 43.5L428.2 43.6L429.1 43.6L429.9 43.6L430.7 43.6L431.5 43.6L432.4 43.6L433.2 43.8L434.0 44.2L434.8 44.7L435.6 45.3L436.5 46.0L437.3 46.7L438.1 47.5L438.9 48.4L439.8 49.2L440.6 50.0L441.4 50.7L442.2 51.4L443.1 52.0L443.9 52.4L444.7 52.7L445.5 52.9L446.3 52.7L447.2 52.0L448.0 50.8L448.8 49.2L449.6 47.4L450.5 45.5L451.3 43.7L452.1 42.1L452.9 40.9L453.7 40.1L454.6 40.0L455.4 40.0L456.2 40.0L457.0 40.1L457.9 40.2L458.7 40.3L459.5 40.4L460.3 40.6L461.2 40.8L462.0 41.0L462.8 41.2L463.6 41.5L464.4 41.9L465.3 42.2L466.1 42.7L466.9 43.1L467.7 43.6L468.6 44.2L469.4 44.7L470.2 45.4L471.0 46.1L471.9 46.8L472.7 47.6L473.5 51.6L474.3 60.5L475.1 71.8L476.0 83.3L476.8 93.1L477.6 104.0L478.4 112.1L479.3 113.6L480.1 114.3L480.9 114.8L481.7 115.1L482.6 115.4L483.4 115.7L484.2 116.0L485.0 116.2L485.8 116.4L486.7 116.6L487.5 116.7L488.3 116.9L489.1 117.1L490.0 117.2L490.8 117.4L491.6 117.5L492.4 117.6L493.2 117.5L494.1 117.5L494.9 117.4L495.7 117.3L496.5 117.1L497.4 116.9L498.2 116.3L499.0 115.3L499.8 114.2L500.7 113.5L501.5 113.6L502.3 114.4L503.1 115.6L503.9 116.9L504.8 117.8L505.6 118.7L506.4 119.6L507.2 120.5L508.1 121.1" fill="none" stroke="#fdc659" stroke-width="0.62" stroke-opacity="0.62" stroke-linejoin="round"/><path d="M508.1 121.1L508.9 121.6L509.7 121.8L510.5 122.0L511.4 122.2L512.2 122.4L513.0 122.5L513.8 122.6L514.6 122.7L515.5 122.8L516.3 122.9L517.1 123.0L517.9 123.1L518.8 123.2L519.6 123.3L520.4 123.4L521.2 123.4L522.0 123.5L522.9 123.6L523.7 123.7L524.5 123.8L525.3 123.8L526.2 123.9L527.0 123.9L527.8 124.0L528.6 124.1L529.5 124.1L530.3 124.1L531.1 124.2L531.9 124.2L532.7 124.2L533.6 124.2" fill="none" stroke="#fdc659" stroke-width="0.62" stroke-opacity="0.37" stroke-linejoin="round"/>
<path d="M410.1 92.2L411.0 92.2L411.8 92.3L412.6 92.5L413.4 92.6L414.2 92.8L415.1 93.0L415.9 93.2L416.7 93.4L417.5 93.6L418.4 93.8L419.2 94.1L420.0 94.3L420.8 94.6L421.7 94.8L422.5 95.2L423.3 95.6L424.1 96.1L424.9 96.7L425.8 97.2L426.6 97.8L427.4 98.5L428.2 99.1L429.1 99.6L429.9 100.2L430.7 100.7L431.5 101.1L432.4 101.5L433.2 101.8L434.0 101.9L434.8 102.0L435.6 102.0L436.5 101.9L437.3 101.7L438.1 101.6L438.9 101.3L439.8 101.1L440.6 100.8L441.4 100.5L442.2 100.1L443.1 99.8L443.9 99.4L444.7 99.0L445.5 98.6L446.3 98.2L447.2 97.8L448.0 97.4L448.8 97.0L449.6 96.7L450.5 96.3L451.3 96.0L452.1 95.7L452.9 95.5L453.7 95.3L454.6 95.1L455.4 95.0L456.2 94.9L457.0 94.9L457.9 94.9L458.7 94.9L459.5 94.9L460.3 94.9L461.2 95.0L462.0 95.0L462.8 95.0L463.6 95.0L464.4 95.1L465.3 95.1L466.1 95.1L466.9 95.2L467.7 95.2L468.6 95.6L469.4 96.6L470.2 97.9L471.0 99.4L471.9 100.9L472.7 102.2L473.5 103.5L474.3 104.7L475.1 106.0L476.0 107.3L476.8 108.5L477.6 109.6L478.4 110.5L479.3 111.3L480.1 112.0L480.9 112.7L481.7 113.2L482.6 113.7L483.4 114.0L484.2 114.3L485.0 114.6L485.8 114.8L486.7 115.0L487.5 115.2L488.3 115.4L489.1 115.6L490.0 115.8L490.8 116.0L491.6 116.2L492.4 116.2L493.2 116.2L494.1 116.1L494.9 115.9L495.7 115.6L496.5 115.2L497.4 114.8L498.2 113.7L499.0 111.6L499.8 109.5L500.7 108.2L501.5 108.4L502.3 109.9L503.1 112.0L503.9 114.1L504.8 115.7L505.6 117.0L506.4 118.3L507.2 119.4L508.1 120.4" fill="none" stroke="#fdad47" stroke-width="0.62" stroke-opacity="0.62" stroke-linejoin="round"/><path d="M508.1 120.4L508.9 121.0L509.7 121.4L510.5 121.8L511.4 122.1L512.2 122.4L513.0 122.7L513.8 122.9L514.6 123.1L515.5 123.3L516.3 123.4L517.1 123.5L517.9 123.6L518.8 123.7L519.6 123.8L520.4 123.8L521.2 123.9L522.0 124.0L522.9 124.0L523.7 124.1L524.5 124.2L525.3 124.2L526.2 124.3L527.0 124.3L527.8 124.4L528.6 124.4L529.5 124.4L530.3 124.5L531.1 124.5L531.9 124.5L532.7 124.5L533.6 124.5" fill="none" stroke="#fdad47" stroke-width="0.62" stroke-opacity="0.37" stroke-linejoin="round"/>
<path d="M410.1 52.1L411.0 50.7L411.8 49.5L412.6 48.4L413.4 47.6L414.2 47.0L415.1 46.5L415.9 46.3L416.7 46.1L417.5 46.3L418.4 47.0L419.2 48.0L420.0 49.1L420.8 50.2L421.7 50.9L422.5 51.1L423.3 51.0L424.1 50.9L424.9 50.8L425.8 50.6L426.6 50.3L427.4 50.0L428.2 49.7L429.1 49.4L429.9 49.1L430.7 48.7L431.5 48.4L432.4 48.0L433.2 47.7L434.0 47.4L434.8 47.1L435.6 46.8L436.5 46.6L437.3 46.4L438.1 46.3L438.9 46.1L439.8 45.9L440.6 45.8L441.4 45.6L442.2 45.4L443.1 45.3L443.9 45.1L444.7 45.0L445.5 44.8L446.3 44.7L447.2 44.6L448.0 44.4L448.8 44.3L449.6 44.2L450.5 44.1L451.3 44.0L452.1 43.9L452.9 43.9L453.7 43.8L454.6 43.8L455.4 43.8L456.2 43.8L457.0 43.9L457.9 44.4L458.7 45.3L459.5 46.4L460.3 47.8L461.2 49.4L462.0 51.1L462.8 52.9L463.6 54.7L464.4 56.5L465.3 58.4L466.1 60.6L466.9 63.1L467.7 65.7L468.6 68.6L469.4 71.6L470.2 74.7L471.0 77.9L471.9 81.1L472.7 84.5L473.5 88.3L474.3 92.2L475.1 96.2L476.0 100.1L476.8 104.5L477.6 109.2L478.4 112.4L479.3 113.5L480.1 114.1L480.9 114.6L481.7 115.0L482.6 115.3L483.4 115.6L484.2 115.9L485.0 116.1L485.8 116.3L486.7 116.5L487.5 116.6L488.3 116.8L489.1 117.0L490.0 117.2L490.8 117.3L491.6 117.4L492.4 117.5L493.2 117.5L494.1 117.6L494.9 117.6L495.7 117.6L496.5 117.6L497.4 117.6L498.2 117.6L499.0 117.5L499.8 117.4L500.7 117.3L501.5 117.3L502.3 117.6L503.1 117.9L503.9 118.4L504.8 118.8L505.6 119.3L506.4 120.0L507.2 120.6L508.1 121.2" fill="none" stroke="#a7cce6" stroke-width="0.62" stroke-opacity="0.62" stroke-linejoin="round"/><path d="M508.1 121.2L508.9 121.5L509.7 121.7L510.5 121.8L511.4 122.0L512.2 122.1L513.0 122.2L513.8 122.2L514.6 122.3L515.5 122.4L516.3 122.5L517.1 122.6L517.9 122.7L518.8 122.8L519.6 122.9L520.4 123.0L521.2 123.1L522.0 123.2L522.9 123.3L523.7 123.4L524.5 123.5L525.3 123.6L526.2 123.7L527.0 123.8L527.8 123.9L528.6 123.9L529.5 124.0L530.3 124.1L531.1 124.2L531.9 124.3L532.7 124.4L533.6 124.5" fill="none" stroke="#a7cce6" stroke-width="0.62" stroke-opacity="0.37" stroke-linejoin="round"/>
<path d="M410.1 83.1L411.0 82.9L411.8 82.6L412.6 82.4L413.4 82.2L414.2 82.1L415.1 81.9L415.9 81.8L416.7 81.7L417.5 81.6L418.4 81.5L419.2 81.4L420.0 81.3L420.8 81.3L421.7 81.2L422.5 81.4L423.3 81.8L424.1 82.5L424.9 83.4L425.8 84.4L426.6 85.6L427.4 86.8L428.2 88.1L429.1 89.4L429.9 90.6L430.7 91.7L431.5 92.8L432.4 93.7L433.2 94.3L434.0 94.8L434.8 94.9L435.6 94.8L436.5 94.7L437.3 94.4L438.1 94.0L438.9 93.6L439.8 93.1L440.6 92.7L441.4 92.2L442.2 91.8L443.1 91.4L443.9 91.1L444.7 90.7L445.5 90.3L446.3 89.8L447.2 89.4L448.0 88.9L448.8 88.5L449.6 88.0L450.5 87.6L451.3 87.1L452.1 86.7L452.9 86.3L453.7 85.9L454.6 85.5L455.4 85.1L456.2 84.8L457.0 84.5L457.9 84.3L458.7 84.1L459.5 83.9L460.3 83.8L461.2 83.8L462.0 83.8L462.8 83.9L463.6 84.1L464.4 84.4L465.3 84.7L466.1 85.2L466.9 85.7L467.7 86.2L468.6 86.9L469.4 87.6L470.2 89.3L471.0 91.7L471.9 94.5L472.7 97.3L473.5 99.7L474.3 102.3L475.1 105.1L476.0 107.8L476.8 110.3L477.6 112.4L478.4 113.8L479.3 114.6L480.1 115.1L480.9 115.6L481.7 116.0L482.6 116.3L483.4 116.5L484.2 116.8L485.0 117.0L485.8 117.1L486.7 117.3L487.5 117.5L488.3 117.6L489.1 117.8L490.0 117.9L490.8 118.1L491.6 118.2L492.4 118.2L493.2 118.2L494.1 118.2L494.9 118.1L495.7 118.0L496.5 117.9L497.4 117.7L498.2 117.2L499.0 116.3L499.8 115.4L500.7 114.9L501.5 115.0L502.3 115.7L503.1 116.7L503.9 117.7L504.8 118.5L505.6 119.3L506.4 120.1L507.2 120.9L508.1 121.5" fill="none" stroke="#fdc558" stroke-width="0.62" stroke-opacity="0.62" stroke-linejoin="round"/><path d="M508.1 121.5L508.9 121.8L509.7 122.1L510.5 122.3L511.4 122.4L512.2 122.6L513.0 122.7L513.8 122.8L514.6 122.9L515.5 123.0L516.3 123.1L517.1 123.2L517.9 123.3L518.8 123.4L519.6 123.5L520.4 123.6L521.2 123.6L522.0 123.7L522.9 123.8L523.7 123.9L524.5 124.0L525.3 124.0L526.2 124.1L527.0 124.2L527.8 124.2L528.6 124.3L529.5 124.3L530.3 124.4L531.1 124.4L531.9 124.5L532.7 124.5L533.6 124.5" fill="none" stroke="#fdc558" stroke-width="0.62" stroke-opacity="0.37" stroke-linejoin="round"/>
<path d="M410.1 61.8L411.0 59.6L411.8 57.6L412.6 55.7L413.4 54.0L414.2 52.4L415.1 51.0L415.9 49.7L416.7 48.7L417.5 47.8L418.4 46.9L419.2 46.1L420.0 45.4L420.8 45.1L421.7 45.0L422.5 45.3L423.3 45.9L424.1 46.7L424.9 47.7L425.8 48.8L426.6 50.1L427.4 51.4L428.2 52.8L429.1 54.1L429.9 55.4L430.7 56.6L431.5 57.7L432.4 58.5L433.2 59.1L434.0 59.5L434.8 59.5L435.6 58.8L436.5 57.6L437.3 55.9L438.1 53.8L438.9 51.5L439.8 49.0L440.6 46.5L441.4 44.1L442.2 41.9L443.1 40.0L443.9 38.5L444.7 37.6L445.5 37.2L446.3 37.4L447.2 37.7L448.0 38.2L448.8 38.8L449.6 39.7L450.5 40.7L451.3 41.8L452.1 43.0L452.9 44.4L453.7 45.8L454.6 47.3L455.4 48.9L456.2 50.6L457.0 52.3L457.9 54.1L458.7 55.8L459.5 57.6L460.3 59.4L461.2 61.1L462.0 62.8L462.8 64.6L463.6 66.4L464.4 68.5L465.3 70.6L466.1 72.9L466.9 75.2L467.7 77.7L468.6 80.2L469.4 82.7L470.2 85.5L471.0 88.4L471.9 91.5L472.7 94.6L473.5 97.7L474.3 100.7L475.1 103.9L476.0 107.5L476.8 111.2L477.6 114.2L478.4 116.2L479.3 116.9L480.1 117.3L480.9 117.7L481.7 118.0L482.6 118.2L483.4 118.4L484.2 118.6L485.0 118.7L485.8 118.8L486.7 119.0L487.5 119.1L488.3 119.2L489.1 119.3L490.0 119.4L490.8 119.6L491.6 119.6L492.4 119.7L493.2 119.6L494.1 119.6L494.9 119.5L495.7 119.4L496.5 119.3L497.4 119.2L498.2 118.7L499.0 117.9L499.8 117.0L500.7 116.5L501.5 116.6L502.3 117.2L503.1 118.1L503.9 119.0L504.8 119.7L505.6 120.4L506.4 121.1L507.2 121.7L508.1 122.2" fill="none" stroke="#82abd9" stroke-width="0.62" stroke-opacity="0.62" stroke-linejoin="round"/><path d="M508.1 122.2L508.9 122.4L509.7 122.5L510.5 122.6L511.4 122.7L512.2 122.8L513.0 122.9L513.8 122.9L514.6 123.0L515.5 123.0L516.3 123.0L517.1 123.1L517.9 123.1L518.8 123.2L519.6 123.2L520.4 123.3L521.2 123.3L522.0 123.4L522.9 123.4L523.7 123.5L524.5 123.5L525.3 123.6L526.2 123.6L527.0 123.7L527.8 123.7L528.6 123.7L529.5 123.8L530.3 123.8L531.1 123.8L531.9 123.9L532.7 123.9L533.6 123.9" fill="none" stroke="#82abd9" stroke-width="0.62" stroke-opacity="0.37" stroke-linejoin="round"/>
<path d="M410.1 78.9L411.0 77.8L411.8 76.9L412.6 76.1L413.4 75.4L414.2 74.9L415.1 74.5L415.9 74.3L416.7 74.4L417.5 74.5L418.4 74.8L419.2 75.2L420.0 75.6L420.8 76.0L421.7 76.5L422.5 77.0L423.3 77.8L424.1 78.7L424.9 79.8L425.8 81.0L426.6 82.2L427.4 83.5L428.2 84.8L429.1 86.0L429.9 87.2L430.7 88.3L431.5 89.3L432.4 90.1L433.2 90.7L434.0 91.1L434.8 91.2L435.6 91.1L436.5 90.8L437.3 90.3L438.1 89.7L438.9 89.0L439.8 88.3L440.6 87.6L441.4 87.0L442.2 86.5L443.1 86.2L443.9 85.9L444.7 85.6L445.5 85.4L446.3 85.1L447.2 84.9L448.0 84.6L448.8 84.4L449.6 84.2L450.5 84.0L451.3 83.7L452.1 83.5L452.9 83.4L453.7 83.2L454.6 83.0L455.4 82.9L456.2 82.7L457.0 82.6L457.9 82.5L458.7 82.4L459.5 82.3L460.3 82.2L461.2 82.1L462.0 82.1L462.8 82.1L463.6 82.1L464.4 82.1L465.3 82.2L466.1 82.4L466.9 82.7L467.7 83.0L468.6 83.4L469.4 83.8L470.2 85.2L471.0 87.3L471.9 89.9L472.7 92.5L473.5 95.1L474.3 98.1L475.1 101.5L476.0 105.0L476.8 108.2L477.6 110.9L478.4 112.7L479.3 113.6L480.1 114.2L480.9 114.7L481.7 115.1L482.6 115.4L483.4 115.7L484.2 116.0L485.0 116.2L485.8 116.4L486.7 116.6L487.5 116.7L488.3 116.9L489.1 117.1L490.0 117.3L490.8 117.4L491.6 117.5L492.4 117.6L493.2 117.6L494.1 117.4L494.9 117.3L495.7 117.1L496.5 116.8L497.4 116.5L498.2 115.6L499.0 114.0L499.8 112.3L500.7 111.3L501.5 111.5L502.3 112.7L503.1 114.4L503.9 116.0L504.8 117.2L505.6 118.3L506.4 119.4L507.2 120.3L508.1 121.0" fill="none" stroke="#fdd668" stroke-width="0.62" stroke-opacity="0.62" stroke-linejoin="round"/><path d="M508.1 121.0L508.9 121.6L509.7 121.9L510.5 122.2L511.4 122.6L512.2 122.8L513.0 123.1L513.8 123.3L514.6 123.5L515.5 123.6L516.3 123.7L517.1 123.7L517.9 123.7L518.8 123.7L519.6 123.7L520.4 123.7L521.2 123.7L522.0 123.7L522.9 123.7L523.7 123.7L524.5 123.7L525.3 123.7L526.2 123.7L527.0 123.7L527.8 123.7L528.6 123.8L529.5 123.8L530.3 123.8L531.1 123.8L531.9 123.8L532.7 123.8L533.6 123.8" fill="none" stroke="#fdd668" stroke-width="0.62" stroke-opacity="0.37" stroke-linejoin="round"/>
<path d="M410.1 86.1L411.0 85.0L411.8 84.0L412.6 83.1L413.4 82.4L414.2 81.8L415.1 81.4L415.9 81.2L416.7 81.2L417.5 81.3L418.4 81.5L419.2 81.7L420.0 82.0L420.8 82.3L421.7 82.7L422.5 83.1L423.3 83.8L424.1 84.6L424.9 85.5L425.8 86.6L426.6 87.8L427.4 88.9L428.2 90.1L429.1 91.3L429.9 92.4L430.7 93.5L431.5 94.4L432.4 95.2L433.2 95.7L434.0 96.1L434.8 96.3L435.6 96.2L436.5 96.0L437.3 95.8L438.1 95.5L438.9 95.2L439.8 94.8L440.6 94.4L441.4 94.0L442.2 93.7L443.1 93.4L443.9 93.2L444.7 92.9L445.5 92.6L446.3 92.3L447.2 92.0L448.0 91.7L448.8 91.4L449.6 91.1L450.5 90.8L451.3 90.4L452.1 90.1L452.9 89.9L453.7 89.6L454.6 89.3L455.4 89.1L456.2 88.8L457.0 88.6L457.9 88.4L458.7 88.2L459.5 88.1L460.3 87.9L461.2 87.8L462.0 87.8L462.8 87.7L463.6 87.7L464.4 87.8L465.3 87.8L466.1 87.9L466.9 88.1L467.7 88.2L468.6 88.4L469.4 88.7L470.2 89.9L471.0 91.9L471.9 94.4L472.7 97.0L473.5 99.3L474.3 102.0L475.1 105.0L476.0 108.0L476.8 110.9L477.6 113.2L478.4 114.7L479.3 115.4L480.1 116.0L480.9 116.4L481.7 116.7L482.6 117.0L483.4 117.2L484.2 117.4L485.0 117.6L485.8 117.8L486.7 117.9L487.5 118.1L488.3 118.2L489.1 118.4L490.0 118.5L490.8 118.6L491.6 118.7L492.4 118.8L493.2 118.7L494.1 118.6L494.9 118.4L495.7 118.1L496.5 117.7L497.4 117.3L498.2 116.2L499.0 114.2L499.8 112.1L500.7 110.8L501.5 111.1L502.3 112.5L503.1 114.5L503.9 116.4L504.8 117.7L505.6 118.9L506.4 120.0L507.2 120.9L508.1 121.6" fill="none" stroke="#fee981" stroke-width="0.62" stroke-opacity="0.62" stroke-linejoin="round"/><path d="M508.1 121.6L508.9 122.1L509.7 122.3L510.5 122.5L511.4 122.6L512.2 122.8L513.0 122.9L513.8 123.0L514.6 123.1L515.5 123.2L516.3 123.2L517.1 123.3L517.9 123.4L518.8 123.4L519.6 123.5L520.4 123.6L521.2 123.6L522.0 123.7L522.9 123.7L523.7 123.8L524.5 123.8L525.3 123.9L526.2 123.9L527.0 124.0L527.8 124.0L528.6 124.0L529.5 124.1L530.3 124.1L531.1 124.1L531.9 124.1L532.7 124.1L533.6 124.1" fill="none" stroke="#fee981" stroke-width="0.62" stroke-opacity="0.37" stroke-linejoin="round"/>
<path d="M410.1 85.9L411.0 83.6L411.8 81.4L412.6 79.4L413.4 77.5L414.2 75.8L415.1 74.3L415.9 73.1L416.7 72.1L417.5 71.4L418.4 70.7L419.2 70.1L420.0 69.5L420.8 69.1L421.7 68.7L422.5 68.5L423.3 68.5L424.1 68.7L424.9 69.3L425.8 70.0L426.6 70.9L427.4 71.8L428.2 72.7L429.1 73.4L429.9 73.9L430.7 74.2L431.5 74.2L432.4 74.1L433.2 74.1L434.0 74.0L434.8 73.9L435.6 73.8L436.5 73.6L437.3 73.5L438.1 73.3L438.9 73.2L439.8 73.0L440.6 72.9L441.4 72.7L442.2 72.6L443.1 72.4L443.9 72.3L444.7 72.2L445.5 72.0L446.3 71.9L447.2 71.9L448.0 71.8L448.8 71.8L449.6 71.8L450.5 71.9L451.3 72.0L452.1 72.3L452.9 72.6L453.7 72.9L454.6 73.3L455.4 73.8L456.2 74.2L457.0 74.7L457.9 75.2L458.7 75.7L459.5 76.3L460.3 76.9L461.2 77.7L462.0 78.4L462.8 79.3L463.6 80.2L464.4 81.2L465.3 82.3L466.1 83.4L466.9 84.6L467.7 85.8L468.6 87.2L469.4 88.6L470.2 90.1L471.0 91.7L471.9 93.3L472.7 95.6L473.5 98.6L474.3 102.0L475.1 105.2L476.0 107.7L476.8 109.7L477.6 111.5L478.4 112.9L479.3 113.7L480.1 114.3L480.9 114.8L481.7 115.2L482.6 115.5L483.4 115.8L484.2 116.1L485.0 116.3L485.8 116.5L486.7 116.7L487.5 116.8L488.3 117.0L489.1 117.2L490.0 117.3L490.8 117.5L491.6 117.6L492.4 117.7L493.2 117.7L494.1 117.7L494.9 117.6L495.7 117.6L496.5 117.6L497.4 117.6L498.2 117.5L499.0 117.2L499.8 116.8L500.7 116.6L501.5 116.7L502.3 117.1L503.1 117.6L503.9 118.2L504.8 118.7L505.6 119.3L506.4 120.0L507.2 120.7L508.1 121.3" fill="none" stroke="#9bc1e2" stroke-width="0.62" stroke-opacity="0.62" stroke-linejoin="round"/><path d="M508.1 121.3L508.9 121.6L509.7 121.7L510.5 121.9L511.4 122.0L512.2 122.1L513.0 122.1L513.8 122.2L514.6 122.3L515.5 122.3L516.3 122.4L517.1 122.5L517.9 122.6L518.8 122.7L519.6 122.8L520.4 122.8L521.2 122.9L522.0 123.0L522.9 123.1L523.7 123.2L524.5 123.3L525.3 123.3L526.2 123.4L527.0 123.5L527.8 123.6L528.6 123.7L529.5 123.8L530.3 123.8L531.1 123.9L531.9 124.0L532.7 124.1L533.6 124.1" fill="none" stroke="#9bc1e2" stroke-width="0.62" stroke-opacity="0.37" stroke-linejoin="round"/>
<path d="M410.1 55.8L411.0 54.2L411.8 52.6L412.6 51.1L413.4 49.7L414.2 48.4L415.1 47.2L415.9 46.1L416.7 45.2L417.5 44.5L418.4 44.0L419.2 43.7L420.0 43.7L420.8 43.7L421.7 43.9L422.5 44.1L423.3 44.3L424.1 44.6L424.9 44.9L425.8 45.2L426.6 45.5L427.4 45.8L428.2 46.1L429.1 46.4L429.9 46.6L430.7 46.8L431.5 46.9L432.4 46.9L433.2 46.9L434.0 46.8L434.8 46.7L435.6 46.6L436.5 46.5L437.3 46.3L438.1 46.2L438.9 46.0L439.8 45.8L440.6 45.6L441.4 45.3L442.2 45.1L443.1 44.9L443.9 44.6L444.7 44.4L445.5 44.1L446.3 43.9L447.2 43.7L448.0 43.4L448.8 43.1L449.6 42.7L450.5 42.3L451.3 41.9L452.1 41.4L452.9 40.9L453.7 40.4L454.6 39.9L455.4 39.4L456.2 38.9L457.0 38.3L457.9 37.8L458.7 37.3L459.5 36.8L460.3 36.3L461.2 35.9L462.0 35.5L462.8 35.1L463.6 34.8L464.4 34.5L465.3 34.3L466.1 34.1L466.9 34.0L467.7 34.0L468.6 34.1L469.4 34.7L470.2 35.6L471.0 36.9L471.9 38.5L472.7 40.5L473.5 42.8L474.3 47.9L475.1 60.8L476.0 76.6L476.8 89.5L477.6 96.0L478.4 100.2L479.3 102.1L480.1 103.5L480.9 104.5L481.7 105.3L482.6 105.9L483.4 106.5L484.2 107.0L485.0 107.5L485.8 107.9L486.7 108.3L487.5 108.6L488.3 108.9L489.1 109.3L490.0 109.7L490.8 110.0L491.6 110.3L492.4 110.3L493.2 110.2L494.1 109.9L494.9 109.4L495.7 108.6L496.5 107.8L497.4 106.8L498.2 103.9L499.0 98.9L499.8 93.9L500.7 90.7L501.5 91.3L502.3 94.8L503.1 99.7L503.9 104.5L504.8 107.8L505.6 110.6L506.4 113.2L507.2 115.5L508.1 117.4" fill="none" stroke="#fca643" stroke-width="0.62" stroke-opacity="0.62" stroke-linejoin="round"/><path d="M508.1 117.4L508.9 118.5L509.7 119.3L510.5 120.0L511.4 120.7L512.2 121.2L513.0 121.7L513.8 122.1L514.6 122.5L515.5 122.8L516.3 123.0L517.1 123.1L517.9 123.2L518.8 123.3L519.6 123.3L520.4 123.4L521.2 123.5L522.0 123.5L522.9 123.6L523.7 123.6L524.5 123.7L525.3 123.7L526.2 123.8L527.0 123.8L527.8 123.8L528.6 123.8L529.5 123.9L530.3 123.9L531.1 123.9L531.9 123.9L532.7 123.9L533.6 123.9" fill="none" stroke="#fca643" stroke-width="0.62" stroke-opacity="0.37" stroke-linejoin="round"/>
<path d="M410.1 68.9L411.0 68.5L411.8 67.9L412.6 67.2L413.4 66.5L414.2 65.6L415.1 64.7L415.9 63.7L416.7 62.7L417.5 61.5L418.4 59.8L419.2 57.9L420.0 56.3L420.8 55.3L421.7 55.3L422.5 55.4L423.3 55.6L424.1 55.9L424.9 56.3L425.8 56.7L426.6 57.1L427.4 57.7L428.2 58.2L429.1 58.7L429.9 59.3L430.7 59.8L431.5 60.3L432.4 60.8L433.2 61.3L434.0 61.7L434.8 62.0L435.6 62.3L436.5 62.4L437.3 62.5L438.1 62.4L438.9 61.9L439.8 61.2L440.6 60.3L441.4 59.3L442.2 58.2L443.1 57.2L443.9 56.4L444.7 55.8L445.5 55.5L446.3 55.5L447.2 55.5L448.0 55.6L448.8 55.6L449.6 55.7L450.5 55.9L451.3 56.0L452.1 56.2L452.9 56.4L453.7 56.6L454.6 56.8L455.4 57.0L456.2 57.3L457.0 57.5L457.9 57.8L458.7 58.1L459.5 58.4L460.3 58.7L461.2 59.0L462.0 59.3L462.8 59.6L463.6 60.0L464.4 60.3L465.3 60.6L466.1 61.0L466.9 61.4L467.7 61.9L468.6 62.5L469.4 63.2L470.2 64.0L471.0 64.9L471.9 66.0L472.7 67.2L473.5 70.9L474.3 77.9L475.1 86.3L476.0 94.2L476.8 99.9L477.6 105.0L478.4 108.7L479.3 110.1L480.1 110.9L480.9 111.6L481.7 112.1L482.6 112.5L483.4 112.9L484.2 113.2L485.0 113.5L485.8 113.8L486.7 114.0L487.5 114.2L488.3 114.4L489.1 114.7L490.0 114.9L490.8 115.1L491.6 115.3L492.4 115.3L493.2 115.3L494.1 115.2L494.9 115.0L495.7 114.8L496.5 114.5L497.4 114.1L498.2 113.1L499.0 111.3L499.8 109.4L500.7 108.2L501.5 108.4L502.3 109.8L503.1 111.8L503.9 113.7L504.8 115.2L505.6 116.5L506.4 117.8L507.2 119.0L508.1 120.0" fill="none" stroke="#fdc457" stroke-width="0.62" stroke-opacity="0.62" stroke-linejoin="round"/><path d="M508.1 120.0L508.9 120.6L509.7 121.1L510.5 121.6L511.4 122.0L512.2 122.4L513.0 122.7L513.8 123.0L514.6 123.3L515.5 123.5L516.3 123.6L517.1 123.6L517.9 123.6L518.8 123.7L519.6 123.7L520.4 123.7L521.2 123.7L522.0 123.7L522.9 123.7L523.7 123.8L524.5 123.8L525.3 123.8L526.2 123.8L527.0 123.8L527.8 123.8L528.6 123.8L529.5 123.8L530.3 123.8L531.1 123.8L531.9 123.8L532.7 123.8L533.6 123.8" fill="none" stroke="#fdc457" stroke-width="0.62" stroke-opacity="0.37" stroke-linejoin="round"/>
<path d="M410.1 79.9L411.0 79.8L411.8 79.7L412.6 79.6L413.4 79.4L414.2 79.2L415.1 79.1L415.9 78.9L416.7 78.6L417.5 78.3L418.4 77.9L419.2 77.6L420.0 77.2L420.8 77.0L421.7 76.9L422.5 77.1L423.3 77.6L424.1 78.3L424.9 79.3L425.8 80.5L426.6 81.8L427.4 83.2L428.2 84.7L429.1 86.1L429.9 87.6L430.7 88.9L431.5 90.0L432.4 91.0L433.2 91.8L434.0 92.3L434.8 92.5L435.6 92.4L436.5 92.3L437.3 92.1L438.1 91.9L438.9 91.6L439.8 91.3L440.6 91.0L441.4 90.6L442.2 90.3L443.1 90.0L443.9 89.7L444.7 89.3L445.5 88.9L446.3 88.5L447.2 88.0L448.0 87.6L448.8 87.1L449.6 86.6L450.5 86.1L451.3 85.6L452.1 85.1L452.9 84.7L453.7 84.3L454.6 83.9L455.4 83.6L456.2 83.3L457.0 83.0L457.9 82.9L458.7 82.8L459.5 82.8L460.3 82.8L461.2 82.9L462.0 83.0L462.8 83.2L463.6 83.4L464.4 83.7L465.3 84.0L466.1 84.3L466.9 84.7L467.7 85.1L468.6 85.6L469.4 86.2L470.2 87.7L471.0 90.0L471.9 92.8L472.7 95.6L473.5 98.3L474.3 101.3L475.1 104.7L476.0 108.2L476.8 111.4L477.6 113.9L478.4 115.6L479.3 116.3L480.1 116.8L480.9 117.1L481.7 117.4L482.6 117.7L483.4 117.9L484.2 118.1L485.0 118.2L485.8 118.4L486.7 118.5L487.5 118.7L488.3 118.8L489.1 118.9L490.0 119.0L490.8 119.2L491.6 119.3L492.4 119.3L493.2 119.2L494.1 119.1L494.9 118.9L495.7 118.7L496.5 118.4L497.4 118.1L498.2 117.1L499.0 115.4L499.8 113.6L500.7 112.6L501.5 112.8L502.3 114.0L503.1 115.6L503.9 117.3L504.8 118.5L505.6 119.5L506.4 120.4L507.2 121.2L508.1 121.9" fill="none" stroke="#fdcb5c" stroke-width="0.62" stroke-opacity="0.62" stroke-linejoin="round"/><path d="M508.1 121.9L508.9 122.3L509.7 122.5L510.5 122.8L511.4 123.0L512.2 123.2L513.0 123.3L513.8 123.5L514.6 123.6L515.5 123.7L516.3 123.7L517.1 123.8L517.9 123.8L518.8 123.8L519.6 123.8L520.4 123.8L521.2 123.8L522.0 123.8L522.9 123.8L523.7 123.8L524.5 123.8L525.3 123.8L526.2 123.8L527.0 123.8L527.8 123.8L528.6 123.8L529.5 123.8L530.3 123.8L531.1 123.8L531.9 123.8L532.7 123.8L533.6 123.8" fill="none" stroke="#fdcb5c" stroke-width="0.62" stroke-opacity="0.37" stroke-linejoin="round"/>
<path d="M410.1 63.5L411.0 63.7L411.8 63.9L412.6 64.0L413.4 64.1L414.2 64.1L415.1 64.2L415.9 64.2L416.7 64.2L417.5 64.1L418.4 63.6L419.2 63.0L420.0 62.3L420.8 61.7L421.7 61.5L422.5 61.6L423.3 61.9L424.1 62.5L424.9 63.3L425.8 64.1L426.6 65.1L427.4 66.2L428.2 67.2L429.1 68.3L429.9 69.3L430.7 70.3L431.5 71.2L432.4 71.9L433.2 72.4L434.0 72.7L434.8 72.8L435.6 72.6L436.5 72.2L437.3 71.5L438.1 70.7L438.9 69.8L439.8 68.8L440.6 67.8L441.4 66.9L442.2 65.9L443.1 65.1L443.9 64.4L444.7 63.9L445.5 63.7L446.3 63.7L447.2 63.8L448.0 64.1L448.8 64.5L449.6 65.0L450.5 65.7L451.3 66.4L452.1 67.2L452.9 68.1L453.7 69.1L454.6 70.1L455.4 71.2L456.2 72.3L457.0 73.5L457.9 74.6L458.7 75.9L459.5 77.1L460.3 78.3L461.2 79.5L462.0 80.7L462.8 81.9L463.6 83.3L464.4 84.8L465.3 86.3L466.1 88.0L466.9 89.7L467.7 91.5L468.6 93.2L469.4 94.9L470.2 96.8L471.0 98.7L471.9 100.6L472.7 102.6L473.5 104.5L474.3 106.3L475.1 108.0L476.0 109.8L476.8 111.6L477.6 113.2L478.4 114.3L479.3 115.0L480.1 115.5L480.9 116.0L481.7 116.3L482.6 116.6L483.4 116.9L484.2 117.1L485.0 117.3L485.8 117.5L486.7 117.6L487.5 117.8L488.3 117.9L489.1 118.1L490.0 118.2L490.8 118.3L491.6 118.4L492.4 118.5L493.2 118.5L494.1 118.6L494.9 118.6L495.7 118.6L496.5 118.6L497.4 118.6L498.2 118.6L499.0 118.5L499.8 118.4L500.7 118.3L501.5 118.3L502.3 118.6L503.1 118.9L503.9 119.2L504.8 119.6L505.6 120.1L506.4 120.6L507.2 121.2L508.1 121.7" fill="none" stroke="#5d92d3" stroke-width="0.62" stroke-opacity="0.62" stroke-linejoin="round"/><path d="M508.1 121.7L508.9 121.9L509.7 122.1L510.5 122.2L511.4 122.4L512.2 122.5L513.0 122.6L513.8 122.6L514.6 122.7L515.5 122.8L516.3 122.9L517.1 122.9L517.9 123.0L518.8 123.1L519.6 123.1L520.4 123.2L521.2 123.3L522.0 123.4L522.9 123.4L523.7 123.5L524.5 123.5L525.3 123.6L526.2 123.7L527.0 123.7L527.8 123.8L528.6 123.8L529.5 123.9L530.3 123.9L531.1 124.0L531.9 124.0L532.7 124.0L533.6 124.1" fill="none" stroke="#5d92d3" stroke-width="0.62" stroke-opacity="0.37" stroke-linejoin="round"/>
<path d="M410.1 62.6L411.0 62.6L411.8 62.3L412.6 62.0L413.4 61.6L414.2 61.2L415.1 60.7L415.9 60.1L416.7 59.6L417.5 58.8L418.4 57.7L419.2 56.6L420.0 56.3L420.8 56.2L421.7 56.1L422.5 56.1L423.3 56.0L424.1 56.0L424.9 56.0L425.8 56.0L426.6 55.9L427.4 55.9L428.2 55.9L429.1 55.9L429.9 55.9L430.7 55.9L431.5 55.8L432.4 55.8L433.2 55.8L434.0 55.7L434.8 55.7L435.6 55.6L436.5 55.5L437.3 55.3L438.1 55.1L438.9 54.8L439.8 54.4L440.6 54.1L441.4 53.7L442.2 53.4L443.1 53.1L443.9 52.7L444.7 52.5L445.5 52.3L446.3 52.1L447.2 52.0L448.0 52.1L448.8 52.6L449.6 53.5L450.5 54.7L451.3 56.1L452.1 57.7L452.9 59.3L453.7 60.9L454.6 62.4L455.4 63.8L456.2 64.9L457.0 65.9L457.9 66.8L458.7 67.6L459.5 68.4L460.3 69.2L461.2 69.9L462.0 70.7L462.8 71.4L463.6 72.1L464.4 72.9L465.3 73.7L466.1 74.6L466.9 75.5L467.7 76.6L468.6 77.7L469.4 78.9L470.2 80.3L471.0 81.8L471.9 83.5L472.7 85.9L473.5 89.5L474.3 93.6L475.1 97.8L476.0 101.7L476.8 105.6L477.6 109.6L478.4 112.4L479.3 113.4L480.1 114.1L480.9 114.6L481.7 115.0L482.6 115.3L483.4 115.6L484.2 115.9L485.0 116.1L485.8 116.3L486.7 116.5L487.5 116.6L488.3 116.8L489.1 117.0L490.0 117.2L490.8 117.3L491.6 117.4L492.4 117.5L493.2 117.5L494.1 117.4L494.9 117.4L495.7 117.3L496.5 117.2L497.4 117.1L498.2 116.7L499.0 116.0L499.8 115.3L500.7 114.8L501.5 114.9L502.3 115.5L503.1 116.4L503.9 117.4L504.8 118.1L505.6 118.9L506.4 119.7L507.2 120.4L508.1 121.1" fill="none" stroke="#bfdfe2" stroke-width="0.62" stroke-opacity="0.62" stroke-linejoin="round"/><path d="M508.1 121.1L508.9 121.5L509.7 121.9L510.5 122.2L511.4 122.5L512.2 122.8L513.0 123.1L513.8 123.3L514.6 123.5L515.5 123.6L516.3 123.7L517.1 123.8L517.9 123.8L518.8 123.8L519.6 123.8L520.4 123.8L521.2 123.9L522.0 123.9L522.9 123.9L523.7 123.9L524.5 123.9L525.3 123.9L526.2 123.9L527.0 123.9L527.8 124.0L528.6 124.0L529.5 124.0L530.3 124.0L531.1 124.0L531.9 124.0L532.7 124.0L533.6 124.0" fill="none" stroke="#bfdfe2" stroke-width="0.62" stroke-opacity="0.37" stroke-linejoin="round"/>
<path d="M410.1 94.8L411.0 95.0L411.8 95.2L412.6 95.4L413.4 95.6L414.2 95.8L415.1 96.0L415.9 96.3L416.7 96.5L417.5 96.7L418.4 96.9L419.2 97.2L420.0 97.4L420.8 97.7L421.7 97.9L422.5 98.2L423.3 98.6L424.1 98.9L424.9 99.3L425.8 99.7L426.6 100.1L427.4 100.5L428.2 100.9L429.1 101.2L429.9 101.6L430.7 101.9L431.5 102.2L432.4 102.4L433.2 102.5L434.0 102.6L434.8 102.7L435.6 102.7L436.5 102.6L437.3 102.5L438.1 102.4L438.9 102.3L439.8 102.1L440.6 101.9L441.4 101.7L442.2 101.4L443.1 101.2L443.9 101.0L444.7 100.7L445.5 100.4L446.3 100.2L447.2 99.9L448.0 99.7L448.8 99.4L449.6 99.2L450.5 98.9L451.3 98.7L452.1 98.6L452.9 98.4L453.7 98.3L454.6 98.1L455.4 98.1L456.2 98.0L457.0 98.0L457.9 98.0L458.7 98.1L459.5 98.1L460.3 98.2L461.2 98.3L462.0 98.4L462.8 98.5L463.6 98.7L464.4 98.9L465.3 99.0L466.1 99.2L466.9 99.5L467.7 99.7L468.6 100.2L469.4 101.0L470.2 102.0L471.0 103.1L471.9 104.2L472.7 105.1L473.5 105.9L474.3 106.7L475.1 107.5L476.0 108.2L476.8 108.9L477.6 109.6L478.4 110.3L479.3 110.9L480.1 111.6L480.9 112.3L481.7 112.9L482.6 113.4L483.4 113.8L484.2 114.1L485.0 114.4L485.8 114.6L486.7 114.8L487.5 115.0L488.3 115.2L489.1 115.4L490.0 115.7L490.8 115.9L491.6 116.0L492.4 116.1L493.2 116.0L494.1 116.0L494.9 115.8L495.7 115.7L496.5 115.5L497.4 115.2L498.2 114.5L499.0 113.2L499.8 111.8L500.7 111.0L501.5 111.1L502.3 112.2L503.1 113.6L503.9 115.1L504.8 116.3L505.6 117.4L506.4 118.6L507.2 119.6L508.1 120.4" fill="none" stroke="#fda844" stroke-width="0.62" stroke-opacity="0.62" stroke-linejoin="round"/><path d="M508.1 120.4L508.9 120.9L509.7 121.2L510.5 121.5L511.4 121.7L512.2 121.9L513.0 122.1L513.8 122.2L514.6 122.3L515.5 122.4L516.3 122.5L517.1 122.6L517.9 122.7L518.8 122.8L519.6 122.8L520.4 122.9L521.2 123.0L522.0 123.1L522.9 123.1L523.7 123.2L524.5 123.2L525.3 123.3L526.2 123.3L527.0 123.4L527.8 123.4L528.6 123.5L529.5 123.5L530.3 123.5L531.1 123.5L531.9 123.6L532.7 123.6L533.6 123.6" fill="none" stroke="#fda844" stroke-width="0.62" stroke-opacity="0.37" stroke-linejoin="round"/>
<path d="M410.1 77.7L411.0 77.3L411.8 77.0L412.6 76.7L413.4 76.4L414.2 76.2L415.1 76.1L415.9 76.1L416.7 76.1L417.5 76.1L418.4 76.2L419.2 76.3L420.0 76.5L420.8 76.6L421.7 76.8L422.5 77.1L423.3 77.6L424.1 78.3L424.9 79.2L425.8 80.3L426.6 81.4L427.4 82.5L428.2 83.7L429.1 84.9L429.9 86.0L430.7 87.1L431.5 88.0L432.4 88.8L433.2 89.4L434.0 89.8L434.8 90.0L435.6 89.9L436.5 89.8L437.3 89.7L438.1 89.5L438.9 89.2L439.8 89.0L440.6 88.7L441.4 88.4L442.2 88.1L443.1 87.7L443.9 87.3L444.7 86.8L445.5 86.1L446.3 85.4L447.2 84.5L448.0 83.6L448.8 82.7L449.6 81.7L450.5 80.7L451.3 79.8L452.1 78.9L452.9 78.1L453.7 77.4L454.6 76.7L455.4 76.2L456.2 75.9L457.0 75.7L457.9 75.7L458.7 75.8L459.5 76.1L460.3 76.4L461.2 76.8L462.0 77.2L462.8 77.8L463.6 78.4L464.4 79.1L465.3 79.9L466.1 80.7L466.9 81.5L467.7 82.4L468.6 83.4L469.4 84.4L470.2 85.7L471.0 87.4L471.9 89.5L472.7 91.6L473.5 94.0L474.3 97.0L475.1 100.7L476.0 104.6L476.8 108.3L477.6 111.3L478.4 113.3L479.3 114.2L480.1 114.8L480.9 115.2L481.7 115.6L482.6 115.9L483.4 116.2L484.2 116.5L485.0 116.7L485.8 116.8L486.7 117.0L487.5 117.2L488.3 117.3L489.1 117.5L490.0 117.7L490.8 117.8L491.6 117.9L492.4 118.0L493.2 117.9L494.1 117.8L494.9 117.6L495.7 117.3L496.5 117.0L497.4 116.6L498.2 115.6L499.0 113.7L499.8 111.7L500.7 110.5L501.5 110.7L502.3 112.1L503.1 114.0L503.9 115.9L504.8 117.2L505.6 118.4L506.4 119.5L507.2 120.4L508.1 121.2" fill="none" stroke="#fdd162" stroke-width="0.62" stroke-opacity="0.62" stroke-linejoin="round"/><path d="M508.1 121.2L508.9 121.7L509.7 122.1L510.5 122.4L511.4 122.7L512.2 123.0L513.0 123.2L513.8 123.4L514.6 123.6L515.5 123.7L516.3 123.7L517.1 123.8L517.9 123.8L518.8 123.8L519.6 123.8L520.4 123.8L521.2 123.8L522.0 123.8L522.9 123.8L523.7 123.8L524.5 123.8L525.3 123.7L526.2 123.7L527.0 123.7L527.8 123.7L528.6 123.7L529.5 123.7L530.3 123.7L531.1 123.7L531.9 123.6L532.7 123.6L533.6 123.6" fill="none" stroke="#fdd162" stroke-width="0.62" stroke-opacity="0.37" stroke-linejoin="round"/>
<path d="M410.1 73.5L411.0 70.2L411.8 67.2L412.6 64.3L413.4 61.7L414.2 59.5L415.1 57.6L415.9 56.3L416.7 55.5L417.5 55.2L418.4 55.0L419.2 54.8L420.0 54.7L420.8 54.6L421.7 54.5L422.5 54.4L423.3 54.5L424.1 54.7L424.9 55.1L425.8 55.6L426.6 56.3L427.4 57.1L428.2 57.9L429.1 58.8L429.9 59.7L430.7 60.6L431.5 61.5L432.4 62.4L433.2 63.1L434.0 63.8L434.8 64.4L435.6 64.8L436.5 65.0L437.3 65.0L438.1 64.3L438.9 63.0L439.8 61.2L440.6 59.1L441.4 56.9L442.2 54.6L443.1 52.5L443.9 50.7L444.7 49.4L445.5 48.7L446.3 48.7L447.2 48.7L448.0 48.7L448.8 48.6L449.6 48.6L450.5 48.6L451.3 48.6L452.1 48.6L452.9 48.6L453.7 48.6L454.6 48.6L455.4 48.6L456.2 48.7L457.0 48.8L457.9 48.9L458.7 49.2L459.5 49.4L460.3 49.8L461.2 50.2L462.0 50.6L462.8 51.2L463.6 51.7L464.4 52.4L465.3 53.1L466.1 53.9L466.9 54.8L467.7 55.8L468.6 56.8L469.4 57.9L470.2 59.1L471.0 60.3L471.9 61.7L472.7 63.1L473.5 66.6L474.3 73.2L475.1 81.4L476.0 89.6L476.8 96.9L477.6 105.1L478.4 111.2L479.3 112.6L480.1 113.4L480.9 113.9L481.7 114.3L482.6 114.6L483.4 114.9L484.2 115.2L485.0 115.4L485.8 115.6L486.7 115.8L487.5 116.0L488.3 116.2L489.1 116.4L490.0 116.6L490.8 116.8L491.6 116.9L492.4 116.9L493.2 116.9L494.1 116.8L494.9 116.6L495.7 116.3L496.5 116.0L497.4 115.7L498.2 114.6L499.0 112.7L499.8 110.8L500.7 109.6L501.5 109.8L502.3 111.2L503.1 113.1L503.9 115.0L504.8 116.4L505.6 117.6L506.4 118.8L507.2 119.9L508.1 120.7" fill="none" stroke="#fbf192" stroke-width="0.62" stroke-opacity="0.62" stroke-linejoin="round"/><path d="M508.1 120.7L508.9 121.3L509.7 121.7L510.5 122.0L511.4 122.3L512.2 122.6L513.0 122.8L513.8 123.0L514.6 123.2L515.5 123.3L516.3 123.4L517.1 123.5L517.9 123.5L518.8 123.6L519.6 123.6L520.4 123.7L521.2 123.7L522.0 123.7L522.9 123.8L523.7 123.8L524.5 123.8L525.3 123.8L526.2 123.8L527.0 123.9L527.8 123.9L528.6 123.9L529.5 123.9L530.3 123.9L531.1 123.9L531.9 123.9L532.7 123.9L533.6 123.9" fill="none" stroke="#fbf192" stroke-width="0.62" stroke-opacity="0.37" stroke-linejoin="round"/>
<path d="M410.1 52.9L411.0 52.9L411.8 52.8L412.6 52.8L413.4 52.7L414.2 52.6L415.1 52.5L415.9 52.3L416.7 52.1L417.5 51.5L418.4 49.4L419.2 46.5L420.0 43.9L420.8 42.3L421.7 42.3L422.5 42.7L423.3 43.5L424.1 44.5L424.9 45.7L425.8 47.1L426.6 48.5L427.4 49.9L428.2 51.2L429.1 52.4L429.9 53.4L430.7 54.1L431.5 54.5L432.4 54.6L433.2 54.5L434.0 54.4L434.8 54.3L435.6 54.1L436.5 54.0L437.3 53.8L438.1 53.5L438.9 53.3L439.8 53.0L440.6 52.8L441.4 52.5L442.2 52.2L443.1 52.0L443.9 51.7L444.7 51.5L445.5 51.3L446.3 51.0L447.2 50.8L448.0 50.5L448.8 50.3L449.6 50.0L450.5 49.7L451.3 49.4L452.1 49.1L452.9 48.8L453.7 48.6L454.6 48.4L455.4 48.2L456.2 48.0L457.0 47.9L457.9 47.9L458.7 47.9L459.5 48.0L460.3 48.1L461.2 48.3L462.0 48.5L462.8 48.8L463.6 49.2L464.4 49.6L465.3 50.1L466.1 50.7L466.9 51.4L467.7 52.2L468.6 53.0L469.4 53.9L470.2 54.9L471.0 56.0L471.9 57.2L472.7 58.5L473.5 62.1L474.3 69.2L475.1 78.1L476.0 87.1L476.8 94.9L477.6 103.6L478.4 110.0L479.3 111.6L480.1 112.4L480.9 113.0L481.7 113.4L482.6 113.7L483.4 114.1L484.2 114.4L485.0 114.6L485.8 114.9L486.7 115.1L487.5 115.3L488.3 115.5L489.1 115.7L490.0 115.9L490.8 116.1L491.6 116.2L492.4 116.3L493.2 116.2L494.1 116.1L494.9 115.9L495.7 115.7L496.5 115.4L497.4 115.1L498.2 114.0L499.0 112.2L499.8 110.4L500.7 109.2L501.5 109.4L502.3 110.8L503.1 112.7L503.9 114.6L504.8 116.0L505.6 117.2L506.4 118.4L507.2 119.5L508.1 120.4" fill="none" stroke="#fdc155" stroke-width="0.62" stroke-opacity="0.62" stroke-linejoin="round"/><path d="M508.1 120.4L508.9 121.0L509.7 121.4L510.5 121.8L511.4 122.2L512.2 122.5L513.0 122.8L513.8 123.1L514.6 123.3L515.5 123.4L516.3 123.5L517.1 123.6L517.9 123.6L518.8 123.6L519.6 123.6L520.4 123.6L521.2 123.7L522.0 123.7L522.9 123.7L523.7 123.7L524.5 123.7L525.3 123.7L526.2 123.7L527.0 123.7L527.8 123.7L528.6 123.7L529.5 123.7L530.3 123.8L531.1 123.8L531.9 123.8L532.7 123.8L533.6 123.8" fill="none" stroke="#fdc155" stroke-width="0.62" stroke-opacity="0.37" stroke-linejoin="round"/>
<path d="M410.1 67.3L411.0 64.7L411.8 62.3L412.6 60.1L413.4 58.0L414.2 56.2L415.1 54.7L415.9 53.5L416.7 52.7L417.5 52.1L418.4 51.7L419.2 51.3L420.0 50.9L420.8 50.7L421.7 50.5L422.5 50.4L423.3 50.4L424.1 50.5L424.9 50.7L425.8 51.0L426.6 51.3L427.4 51.6L428.2 52.0L429.1 52.3L429.9 52.7L430.7 52.9L431.5 53.1L432.4 53.3L433.2 53.3L434.0 53.3L434.8 53.3L435.6 53.3L436.5 53.4L437.3 53.4L438.1 53.4L438.9 53.4L439.8 53.4L440.6 53.4L441.4 53.4L442.2 53.4L443.1 53.4L443.9 53.4L444.7 53.4L445.5 53.4L446.3 53.4L447.2 53.4L448.0 53.3L448.8 53.0L449.6 52.5L450.5 51.8L451.3 51.0L452.1 50.1L452.9 49.0L453.7 47.9L454.6 46.8L455.4 45.7L456.2 44.5L457.0 43.4L457.9 42.4L458.7 41.4L459.5 40.5L460.3 39.8L461.2 39.2L462.0 38.8L462.8 38.5L463.6 38.5L464.4 38.7L465.3 39.0L466.1 39.5L466.9 40.1L467.7 40.8L468.6 41.8L469.4 42.9L470.2 44.2L471.0 45.7L471.9 47.4L472.7 49.2L473.5 51.3L474.3 55.7L475.1 67.2L476.0 81.2L476.8 92.4L477.6 97.9L478.4 101.4L479.3 103.2L480.1 104.4L480.9 105.4L481.7 106.2L482.6 106.8L483.4 107.4L484.2 107.9L485.0 108.3L485.8 108.7L486.7 109.1L487.5 109.4L488.3 109.7L489.1 110.0L490.0 110.4L490.8 110.7L491.6 111.0L492.4 111.0L493.2 111.0L494.1 110.9L494.9 110.6L495.7 110.3L496.5 110.0L497.4 109.5L498.2 108.2L499.0 105.8L499.8 103.4L500.7 101.9L501.5 102.2L502.3 104.0L503.1 106.6L503.9 109.2L504.8 111.2L505.6 113.0L506.4 114.8L507.2 116.5L508.1 117.9" fill="none" stroke="#fca442" stroke-width="0.62" stroke-opacity="0.62" stroke-linejoin="round"/><path d="M508.1 117.9L508.9 118.8L509.7 119.5L510.5 120.2L511.4 120.8L512.2 121.3L513.0 121.8L513.8 122.2L514.6 122.6L515.5 122.9L516.3 123.1L517.1 123.2L517.9 123.3L518.8 123.4L519.6 123.5L520.4 123.6L521.2 123.7L522.0 123.7L522.9 123.8L523.7 123.9L524.5 123.9L525.3 124.0L526.2 124.0L527.0 124.1L527.8 124.1L528.6 124.2L529.5 124.2L530.3 124.2L531.1 124.2L531.9 124.2L532.7 124.2L533.6 124.2" fill="none" stroke="#fca442" stroke-width="0.62" stroke-opacity="0.37" stroke-linejoin="round"/>
<path d="M410.1 91.2L411.0 91.7L411.8 92.2L412.6 92.7L413.4 93.1L414.2 93.6L415.1 94.0L415.9 94.5L416.7 94.9L417.5 95.3L418.4 95.7L419.2 96.1L420.0 96.4L420.8 96.7L421.7 97.0L422.5 97.4L423.3 97.7L424.1 98.0L424.9 98.3L425.8 98.6L426.6 98.9L427.4 99.2L428.2 99.5L429.1 99.8L429.9 100.0L430.7 100.2L431.5 100.4L432.4 100.5L433.2 100.7L434.0 100.7L434.8 100.7L435.6 100.7L436.5 100.7L437.3 100.6L438.1 100.6L438.9 100.5L439.8 100.4L440.6 100.2L441.4 100.1L442.2 99.9L443.1 99.8L443.9 99.6L444.7 99.4L445.5 99.3L446.3 99.1L447.2 98.9L448.0 98.7L448.8 98.6L449.6 98.4L450.5 98.2L451.3 98.1L452.1 98.0L452.9 97.8L453.7 97.7L454.6 97.7L455.4 97.6L456.2 97.5L457.0 97.5L457.9 97.5L458.7 97.5L459.5 97.5L460.3 97.4L461.2 97.4L462.0 97.4L462.8 97.4L463.6 97.4L464.4 97.4L465.3 97.4L466.1 97.4L466.9 97.4L467.7 97.4L468.6 97.6L469.4 98.2L470.2 99.1L471.0 100.2L471.9 101.4L472.7 102.5L473.5 103.7L474.3 105.3L475.1 107.0L476.0 108.7L476.8 110.4L477.6 111.8L478.4 112.9L479.3 113.6L480.1 114.2L480.9 114.8L481.7 115.2L482.6 115.5L483.4 115.8L484.2 116.1L485.0 116.3L485.8 116.5L486.7 116.7L487.5 116.8L488.3 117.0L489.1 117.2L490.0 117.3L490.8 117.5L491.6 117.6L492.4 117.7L493.2 117.6L494.1 117.5L494.9 117.4L495.7 117.2L496.5 116.9L497.4 116.6L498.2 115.8L499.0 114.3L499.8 112.7L500.7 111.7L501.5 111.9L502.3 113.0L503.1 114.6L503.9 116.2L504.8 117.4L505.6 118.5L506.4 119.5L507.2 120.4L508.1 121.2" fill="none" stroke="#fdad47" stroke-width="0.62" stroke-opacity="0.62" stroke-linejoin="round"/><path d="M508.1 121.2L508.9 121.6L509.7 121.8L510.5 122.0L511.4 122.2L512.2 122.3L513.0 122.4L513.8 122.6L514.6 122.6L515.5 122.7L516.3 122.8L517.1 122.9L517.9 123.0L518.8 123.1L519.6 123.1L520.4 123.2L521.2 123.3L522.0 123.4L522.9 123.5L523.7 123.5L524.5 123.6L525.3 123.7L526.2 123.7L527.0 123.8L527.8 123.8L528.6 123.9L529.5 123.9L530.3 124.0L531.1 124.0L531.9 124.0L532.7 124.0L533.6 124.1" fill="none" stroke="#fdad47" stroke-width="0.62" stroke-opacity="0.37" stroke-linejoin="round"/>
<path d="M410.1 47.5L411.0 47.5L411.8 47.5L412.6 47.5L413.4 47.5L414.2 47.4L415.1 47.4L415.9 47.3L416.7 47.3L417.5 46.6L418.4 43.9L419.2 40.2L420.0 36.4L420.8 33.6L421.7 32.8L422.5 33.2L423.3 34.2L424.1 35.6L424.9 37.4L425.8 39.4L426.6 41.7L427.4 44.0L428.2 46.4L429.1 48.7L429.9 50.9L430.7 52.8L431.5 54.4L432.4 55.6L433.2 56.3L434.0 56.4L434.8 56.3L435.6 55.9L436.5 55.5L437.3 54.9L438.1 54.2L438.9 53.4L439.8 52.5L440.6 51.6L441.4 50.6L442.2 49.7L443.1 48.7L443.9 47.8L444.7 46.9L445.5 46.1L446.3 45.4L447.2 44.8L448.0 44.2L448.8 43.6L449.6 43.0L450.5 42.4L451.3 41.8L452.1 41.2L452.9 40.6L453.7 40.0L454.6 39.4L455.4 38.8L456.2 38.2L457.0 37.7L457.9 37.2L458.7 36.6L459.5 36.2L460.3 35.7L461.2 35.3L462.0 35.0L462.8 34.6L463.6 34.4L464.4 34.1L465.3 34.0L466.1 33.9L466.9 33.8L467.7 33.9L468.6 34.3L469.4 35.2L470.2 36.5L471.0 38.1L471.9 40.1L472.7 42.5L473.5 45.2L474.3 50.6L475.1 64.0L476.0 79.5L476.8 91.1L477.6 94.9L478.4 97.0L479.3 98.6L480.1 100.0L480.9 101.3L481.7 102.3L482.6 103.2L483.4 103.9L484.2 104.5L485.0 105.0L485.8 105.5L486.7 105.9L487.5 106.3L488.3 106.7L489.1 107.1L490.0 107.5L490.8 107.9L491.6 108.2L492.4 108.3L493.2 108.2L494.1 107.8L494.9 107.3L495.7 106.6L496.5 105.7L497.4 104.8L498.2 101.9L499.0 96.9L499.8 91.9L500.7 88.7L501.5 89.3L502.3 92.8L503.1 97.8L503.9 102.7L504.8 106.1L505.6 109.1L506.4 111.9L507.2 114.3L508.1 116.3" fill="none" stroke="#fdba50" stroke-width="0.62" stroke-opacity="0.62" stroke-linejoin="round"/><path d="M508.1 116.3L508.9 117.7L509.7 118.7L510.5 119.6L511.4 120.4L512.2 121.2L513.0 121.9L513.8 122.5L514.6 122.9L515.5 123.3L516.3 123.5L517.1 123.6L517.9 123.6L518.8 123.6L519.6 123.6L520.4 123.6L521.2 123.6L522.0 123.6L522.9 123.6L523.7 123.6L524.5 123.6L525.3 123.6L526.2 123.6L527.0 123.5L527.8 123.5L528.6 123.5L529.5 123.5L530.3 123.5L531.1 123.5L531.9 123.5L532.7 123.5L533.6 123.5" fill="none" stroke="#fdba50" stroke-width="0.62" stroke-opacity="0.37" stroke-linejoin="round"/>
<path d="M410.1 69.2L411.0 67.1L411.8 65.0L412.6 63.1L413.4 61.2L414.2 59.5L415.1 58.0L415.9 56.5L416.7 55.2L417.5 54.1L418.4 52.9L419.2 51.7L420.0 50.7L420.8 49.9L421.7 49.4L422.5 49.3L423.3 49.9L424.1 51.1L424.9 52.7L425.8 54.6L426.6 56.7L427.4 58.7L428.2 60.6L429.1 62.1L429.9 63.2L430.7 63.6L431.5 63.6L432.4 63.5L433.2 63.3L434.0 62.9L434.8 62.6L435.6 62.1L436.5 61.7L437.3 61.1L438.1 60.6L438.9 60.0L439.8 59.4L440.6 58.7L441.4 58.1L442.2 57.5L443.1 56.9L443.9 56.3L444.7 55.8L445.5 55.2L446.3 54.8L447.2 54.4L448.0 54.0L448.8 53.7L449.6 53.5L450.5 53.4L451.3 53.5L452.1 53.8L452.9 54.4L453.7 55.2L454.6 56.2L455.4 57.4L456.2 58.6L457.0 59.9L457.9 61.2L458.7 62.5L459.5 63.6L460.3 64.7L461.2 65.8L462.0 67.0L462.8 68.1L463.6 69.2L464.4 70.4L465.3 71.7L466.1 73.0L466.9 74.3L467.7 75.8L468.6 77.4L469.4 79.1L470.2 80.9L471.0 82.9L471.9 85.0L472.7 87.7L473.5 91.2L474.3 95.2L475.1 99.2L476.0 102.8L476.8 106.3L477.6 109.9L478.4 112.4L479.3 113.4L480.1 114.1L480.9 114.6L481.7 115.0L482.6 115.3L483.4 115.6L484.2 115.8L485.0 116.1L485.8 116.3L486.7 116.4L487.5 116.6L488.3 116.8L489.1 116.9L490.0 117.1L490.8 117.3L491.6 117.4L492.4 117.5L493.2 117.5L494.1 117.5L494.9 117.4L495.7 117.4L496.5 117.4L497.4 117.4L498.2 117.2L499.0 116.8L499.8 116.4L500.7 116.2L501.5 116.2L502.3 116.6L503.1 117.2L503.9 117.9L504.8 118.5L505.6 119.1L506.4 119.8L507.2 120.5L508.1 121.1" fill="none" stroke="#a7cbe6" stroke-width="0.62" stroke-opacity="0.62" stroke-linejoin="round"/><path d="M508.1 121.1L508.9 121.5L509.7 121.8L510.5 122.1L511.4 122.4L512.2 122.7L513.0 122.9L513.8 123.1L514.6 123.3L515.5 123.4L516.3 123.5L517.1 123.6L517.9 123.6L518.8 123.6L519.6 123.7L520.4 123.7L521.2 123.7L522.0 123.8L522.9 123.8L523.7 123.8L524.5 123.8L525.3 123.8L526.2 123.9L527.0 123.9L527.8 123.9L528.6 123.9L529.5 123.9L530.3 123.9L531.1 123.9L531.9 123.9L532.7 123.9L533.6 123.9" fill="none" stroke="#a7cbe6" stroke-width="0.62" stroke-opacity="0.37" stroke-linejoin="round"/>
<path d="M410.1 81.6L411.0 81.0L411.8 80.5L412.6 80.0L413.4 79.6L414.2 79.3L415.1 79.1L415.9 79.0L416.7 79.0L417.5 79.1L418.4 79.1L419.2 79.2L420.0 79.4L420.8 79.5L421.7 79.6L422.5 79.9L423.3 80.4L424.1 81.2L424.9 82.1L425.8 83.1L426.6 84.2L427.4 85.4L428.2 86.7L429.1 87.9L429.9 89.1L430.7 90.2L431.5 91.1L432.4 92.0L433.2 92.6L434.0 93.0L434.8 93.1L435.6 93.1L436.5 93.0L437.3 92.9L438.1 92.7L438.9 92.5L439.8 92.3L440.6 92.0L441.4 91.8L442.2 91.6L443.1 91.3L443.9 91.1L444.7 90.9L445.5 90.6L446.3 90.3L447.2 90.0L448.0 89.6L448.8 89.3L449.6 88.9L450.5 88.5L451.3 88.2L452.1 87.8L452.9 87.4L453.7 87.1L454.6 86.7L455.4 86.4L456.2 86.1L457.0 85.8L457.9 85.6L458.7 85.3L459.5 85.1L460.3 84.9L461.2 84.8L462.0 84.7L462.8 84.7L463.6 84.7L464.4 84.8L465.3 84.9L466.1 85.2L466.9 85.5L467.7 85.8L468.6 86.2L469.4 86.7L470.2 88.2L471.0 90.4L471.9 93.1L472.7 95.7L473.5 98.0L474.3 100.5L475.1 103.1L476.0 105.7L476.8 108.1L477.6 110.1L478.4 111.6L479.3 112.4L480.1 113.1L480.9 113.7L481.7 114.2L482.6 114.5L483.4 114.9L484.2 115.1L485.0 115.4L485.8 115.6L486.7 115.8L487.5 116.0L488.3 116.2L489.1 116.3L490.0 116.5L490.8 116.7L491.6 116.9L492.4 116.9L493.2 116.9L494.1 116.9L494.9 116.8L495.7 116.8L496.5 116.7L497.4 116.7L498.2 116.4L499.0 115.8L499.8 115.2L500.7 114.8L501.5 114.9L502.3 115.4L503.1 116.2L503.9 117.1L504.8 117.8L505.6 118.6L506.4 119.4L507.2 120.2L508.1 120.9" fill="none" stroke="#fee277" stroke-width="0.62" stroke-opacity="0.62" stroke-linejoin="round"/><path d="M508.1 120.9L508.9 121.3L509.7 121.5L510.5 121.7L511.4 121.8L512.2 121.9L513.0 122.0L513.8 122.1L514.6 122.2L515.5 122.3L516.3 122.4L517.1 122.5L517.9 122.6L518.8 122.7L519.6 122.8L520.4 122.9L521.2 123.0L522.0 123.1L522.9 123.2L523.7 123.3L524.5 123.4L525.3 123.5L526.2 123.6L527.0 123.7L527.8 123.8L528.6 123.9L529.5 123.9L530.3 124.0L531.1 124.1L531.9 124.2L532.7 124.3L533.6 124.3" fill="none" stroke="#fee277" stroke-width="0.62" stroke-opacity="0.37" stroke-linejoin="round"/>
<path d="M410.1 57.1L411.0 55.7L411.8 54.1L412.6 52.4L413.4 50.6L414.2 48.6L415.1 46.6L415.9 44.5L416.7 42.3L417.5 39.7L418.4 36.3L419.2 33.4L420.0 32.4L420.8 32.8L421.7 33.7L422.5 35.0L423.3 36.7L424.1 38.7L424.9 40.8L425.8 43.0L426.6 45.3L427.4 47.4L428.2 49.4L429.1 51.1L429.9 52.5L430.7 53.5L431.5 53.9L432.4 53.9L433.2 53.8L434.0 53.6L434.8 53.4L435.6 53.0L436.5 52.6L437.3 52.1L438.1 51.6L438.9 51.1L439.8 50.5L440.6 49.9L441.4 49.2L442.2 48.5L443.1 47.9L443.9 47.2L444.7 46.5L445.5 45.9L446.3 45.2L447.2 44.6L448.0 43.9L448.8 43.2L449.6 42.4L450.5 41.5L451.3 40.5L452.1 39.5L452.9 38.5L453.7 37.5L454.6 36.4L455.4 35.3L456.2 34.3L457.0 33.2L457.9 32.2L458.7 31.2L459.5 30.2L460.3 29.4L461.2 28.5L462.0 27.8L462.8 27.1L463.6 26.6L464.4 26.1L465.3 25.8L466.1 25.6L466.9 25.6L467.7 25.7L468.6 26.1L469.4 26.8L470.2 27.8L471.0 29.0L471.9 30.5L472.7 32.3L473.5 34.4L474.3 39.7L475.1 54.7L476.0 72.9L476.8 87.1L477.6 93.1L478.4 96.7L479.3 98.7L480.1 100.2L480.9 101.4L481.7 102.4L482.6 103.2L483.4 103.9L484.2 104.4L485.0 105.0L485.8 105.4L486.7 105.9L487.5 106.3L488.3 106.6L489.1 107.0L490.0 107.5L490.8 107.9L491.6 108.1L492.4 108.2L493.2 108.2L494.1 107.9L494.9 107.4L495.7 106.8L496.5 106.1L497.4 105.2L498.2 102.8L499.0 98.4L499.8 93.9L500.7 91.2L501.5 91.7L502.3 94.8L503.1 99.3L503.9 103.7L504.8 106.8L505.6 109.5L506.4 112.2L507.2 114.5L508.1 116.4" fill="none" stroke="#fc8b35" stroke-width="0.62" stroke-opacity="0.62" stroke-linejoin="round"/><path d="M508.1 116.4L508.9 117.7L509.7 118.6L510.5 119.4L511.4 120.1L512.2 120.8L513.0 121.4L513.8 121.9L514.6 122.3L515.5 122.7L516.3 122.9L517.1 123.0L517.9 123.1L518.8 123.2L519.6 123.3L520.4 123.3L521.2 123.4L522.0 123.4L522.9 123.5L523.7 123.5L524.5 123.6L525.3 123.6L526.2 123.7L527.0 123.7L527.8 123.7L528.6 123.7L529.5 123.8L530.3 123.8L531.1 123.8L531.9 123.8L532.7 123.8L533.6 123.8" fill="none" stroke="#fc8b35" stroke-width="0.62" stroke-opacity="0.37" stroke-linejoin="round"/>
<path d="M410.1 88.7L411.0 89.0L411.8 89.2L412.6 89.3L413.4 89.4L414.2 89.5L415.1 89.5L415.9 89.5L416.7 89.5L417.5 89.4L418.4 89.1L419.2 88.9L420.0 88.6L420.8 88.5L421.7 88.4L422.5 88.5L423.3 88.8L424.1 89.3L424.9 90.0L425.8 90.8L426.6 91.6L427.4 92.5L428.2 93.5L429.1 94.5L429.9 95.4L430.7 96.2L431.5 97.0L432.4 97.7L433.2 98.2L434.0 98.5L434.8 98.6L435.6 98.6L436.5 98.5L437.3 98.3L438.1 98.1L438.9 97.8L439.8 97.5L440.6 97.2L441.4 96.9L442.2 96.6L443.1 96.4L443.9 96.1L444.7 95.7L445.5 95.3L446.3 94.9L447.2 94.5L448.0 94.0L448.8 93.5L449.6 93.1L450.5 92.6L451.3 92.2L452.1 91.8L452.9 91.4L453.7 91.0L454.6 90.8L455.4 90.5L456.2 90.4L457.0 90.3L457.9 90.3L458.7 90.3L459.5 90.4L460.3 90.5L461.2 90.6L462.0 90.8L462.8 90.9L463.6 91.2L464.4 91.4L465.3 91.7L466.1 92.0L466.9 92.4L467.7 92.8L468.6 93.2L469.4 93.7L470.2 95.1L471.0 97.1L471.9 99.5L472.7 101.7L473.5 103.5L474.3 105.1L475.1 106.8L476.0 108.3L476.8 109.8L477.6 111.0L478.4 112.0L479.3 112.7L480.1 113.4L480.9 114.0L481.7 114.4L482.6 114.8L483.4 115.1L484.2 115.4L485.0 115.6L485.8 115.8L486.7 116.0L487.5 116.2L488.3 116.4L489.1 116.6L490.0 116.8L490.8 116.9L491.6 117.1L492.4 117.1L493.2 117.1L494.1 117.1L494.9 117.1L495.7 117.1L496.5 117.1L497.4 117.1L498.2 116.9L499.0 116.6L499.8 116.2L500.7 116.0L501.5 116.0L502.3 116.4L503.1 117.0L503.9 117.6L504.8 118.2L505.6 118.9L506.4 119.6L507.2 120.4L508.1 121.0" fill="none" stroke="#fdbc51" stroke-width="0.62" stroke-opacity="0.62" stroke-linejoin="round"/><path d="M508.1 121.0L508.9 121.4L509.7 121.6L510.5 121.8L511.4 122.0L512.2 122.2L513.0 122.3L513.8 122.5L514.6 122.6L515.5 122.7L516.3 122.8L517.1 122.9L517.9 123.0L518.8 123.1L519.6 123.2L520.4 123.3L521.2 123.4L522.0 123.5L522.9 123.6L523.7 123.7L524.5 123.7L525.3 123.8L526.2 123.9L527.0 124.0L527.8 124.0L528.6 124.1L529.5 124.1L530.3 124.2L531.1 124.2L531.9 124.2L532.7 124.3L533.6 124.3" fill="none" stroke="#fdbc51" stroke-width="0.62" stroke-opacity="0.37" stroke-linejoin="round"/>
<path d="M410.1 57.8L411.0 57.2L411.8 56.7L412.6 56.2L413.4 55.7L414.2 55.3L415.1 54.8L415.9 54.3L416.7 53.8L417.5 53.3L418.4 52.7L419.2 52.1L420.0 51.6L420.8 51.3L421.7 51.3L422.5 51.5L423.3 51.9L424.1 52.5L424.9 53.3L425.8 54.2L426.6 55.3L427.4 56.4L428.2 57.5L429.1 58.7L429.9 59.9L430.7 61.0L431.5 62.1L432.4 63.1L433.2 63.9L434.0 64.6L434.8 65.1L435.6 65.5L436.5 65.5L437.3 65.1L438.1 64.1L438.9 62.7L439.8 60.9L440.6 58.9L441.4 56.9L442.2 54.8L443.1 52.9L443.9 51.2L444.7 49.9L445.5 49.0L446.3 48.7L447.2 48.3L448.0 48.0L448.8 47.7L449.6 47.4L450.5 47.1L451.3 46.9L452.1 46.6L452.9 46.4L453.7 46.2L454.6 45.9L455.4 45.8L456.2 45.6L457.0 45.4L457.9 45.3L458.7 45.1L459.5 45.0L460.3 44.9L461.2 44.8L462.0 44.8L462.8 44.7L463.6 44.7L464.4 44.6L465.3 44.6L466.1 44.8L466.9 45.4L467.7 46.3L468.6 47.7L469.4 49.3L470.2 51.2L471.0 53.5L471.9 55.9L472.7 58.6L473.5 63.2L474.3 70.4L475.1 79.0L476.0 87.8L476.8 95.6L477.6 104.7L478.4 111.3L479.3 112.8L480.1 113.6L480.9 114.1L481.7 114.5L482.6 114.8L483.4 115.1L484.2 115.3L485.0 115.6L485.8 115.8L486.7 116.0L487.5 116.2L488.3 116.3L489.1 116.5L490.0 116.7L490.8 116.9L491.6 117.0L492.4 117.1L493.2 117.0L494.1 117.0L494.9 116.9L495.7 116.7L496.5 116.5L497.4 116.3L498.2 115.5L499.0 114.2L499.8 112.9L500.7 112.1L501.5 112.3L502.3 113.2L503.1 114.6L503.9 116.1L504.8 117.2L505.6 118.2L506.4 119.2L507.2 120.2L508.1 120.9" fill="none" stroke="#feef89" stroke-width="0.62" stroke-opacity="0.62" stroke-linejoin="round"/><path d="M508.1 120.9L508.9 121.3L509.7 121.6L510.5 121.8L511.4 122.0L512.2 122.1L513.0 122.2L513.8 122.4L514.6 122.5L515.5 122.6L516.3 122.6L517.1 122.7L517.9 122.8L518.8 122.9L519.6 123.0L520.4 123.1L521.2 123.2L522.0 123.3L522.9 123.3L523.7 123.4L524.5 123.5L525.3 123.6L526.2 123.6L527.0 123.7L527.8 123.8L528.6 123.8L529.5 123.9L530.3 123.9L531.1 124.0L531.9 124.0L532.7 124.0L533.6 124.0" fill="none" stroke="#feef89" stroke-width="0.62" stroke-opacity="0.37" stroke-linejoin="round"/>
<path d="M410.1 77.9L411.0 77.3L411.8 76.8L412.6 76.4L413.4 76.0L414.2 75.8L415.1 75.6L415.9 75.5L416.7 75.5L417.5 75.6L418.4 75.7L419.2 75.9L420.0 76.1L420.8 76.3L421.7 76.6L422.5 77.0L423.3 77.6L424.1 78.3L424.9 79.3L425.8 80.3L426.6 81.5L427.4 82.7L428.2 83.9L429.1 85.1L429.9 86.2L430.7 87.3L431.5 88.3L432.4 89.1L433.2 89.7L434.0 90.1L434.8 90.2L435.6 90.1L436.5 90.0L437.3 89.7L438.1 89.4L438.9 89.0L439.8 88.5L440.6 88.1L441.4 87.7L442.2 87.3L443.1 86.9L443.9 86.5L444.7 86.1L445.5 85.7L446.3 85.3L447.2 84.8L448.0 84.4L448.8 83.9L449.6 83.4L450.5 83.0L451.3 82.5L452.1 82.1L452.9 81.8L453.7 81.4L454.6 81.1L455.4 80.9L456.2 80.7L457.0 80.5L457.9 80.5L458.7 80.5L459.5 80.5L460.3 80.5L461.2 80.6L462.0 80.7L462.8 80.8L463.6 81.0L464.4 81.1L465.3 81.3L466.1 81.6L466.9 81.8L467.7 82.1L468.6 82.4L469.4 82.9L470.2 84.3L471.0 86.7L471.9 89.6L472.7 92.6L473.5 95.3L474.3 98.3L475.1 101.6L476.0 104.9L476.8 108.0L477.6 110.6L478.4 112.3L479.3 113.2L480.1 113.8L480.9 114.4L481.7 114.8L482.6 115.1L483.4 115.4L484.2 115.7L485.0 115.9L485.8 116.1L486.7 116.3L487.5 116.5L488.3 116.6L489.1 116.8L490.0 117.0L490.8 117.2L491.6 117.3L492.4 117.3L493.2 117.3L494.1 117.3L494.9 117.2L495.7 117.1L496.5 117.0L497.4 116.9L498.2 116.5L499.0 115.6L499.8 114.8L500.7 114.3L501.5 114.4L502.3 115.1L503.1 116.0L503.9 117.1L504.8 117.9L505.6 118.7L506.4 119.6L507.2 120.4L508.1 121.0" fill="none" stroke="#fdf08b" stroke-width="0.62" stroke-opacity="0.62" stroke-linejoin="round"/><path d="M508.1 121.0L508.9 121.5L509.7 121.7L510.5 122.0L511.4 122.2L512.2 122.4L513.0 122.5L513.8 122.7L514.6 122.8L515.5 122.9L516.3 123.0L517.1 123.1L517.9 123.1L518.8 123.2L519.6 123.2L520.4 123.3L521.2 123.3L522.0 123.4L522.9 123.4L523.7 123.5L524.5 123.5L525.3 123.5L526.2 123.6L527.0 123.6L527.8 123.6L528.6 123.7L529.5 123.7L530.3 123.7L531.1 123.7L531.9 123.7L532.7 123.7L533.6 123.7" fill="none" stroke="#fdf08b" stroke-width="0.62" stroke-opacity="0.37" stroke-linejoin="round"/></g>
<rect x="405.40" y="13.50" width="133.4" height="118.40" fill="none" stroke="#b5b5b5" stroke-width="0.9"/>
<line x1="402.80" y1="124.40" x2="405.40" y2="124.40" stroke="#b5b5b5" stroke-width="0.8"/>
<text x="399.55" y="124.40" font-size="3.8" text-anchor="middle" font-weight="bold" fill="#1e1e1e" stroke="#1e1e1e" stroke-width="0.12" transform="rotate(-90 399.55 124.40)" textLength="10.0" lengthAdjust="spacingAndGlyphs">0.000</text>
<line x1="402.80" y1="108.25" x2="405.40" y2="108.25" stroke="#b5b5b5" stroke-width="0.8"/>
<text x="399.55" y="108.25" font-size="3.8" text-anchor="middle" font-weight="bold" fill="#1e1e1e" stroke="#1e1e1e" stroke-width="0.12" transform="rotate(-90 399.55 108.25)" textLength="10.0" lengthAdjust="spacingAndGlyphs">0.001</text>
<line x1="402.80" y1="92.10" x2="405.40" y2="92.10" stroke="#b5b5b5" stroke-width="0.8"/>
<text x="399.55" y="92.10" font-size="3.8" text-anchor="middle" font-weight="bold" fill="#1e1e1e" stroke="#1e1e1e" stroke-width="0.12" transform="rotate(-90 399.55 92.10)" textLength="10.0" lengthAdjust="spacingAndGlyphs">0.002</text>
<line x1="402.80" y1="75.95" x2="405.40" y2="75.95" stroke="#b5b5b5" stroke-width="0.8"/>
<text x="399.55" y="75.95" font-size="3.8" text-anchor="middle" font-weight="bold" fill="#1e1e1e" stroke="#1e1e1e" stroke-width="0.12" transform="rotate(-90 399.55 75.95)" textLength="10.0" lengthAdjust="spacingAndGlyphs">0.003</text>
<line x1="402.80" y1="59.80" x2="405.40" y2="59.80" stroke="#b5b5b5" stroke-width="0.8"/>
<text x="399.55" y="59.80" font-size="3.8" text-anchor="middle" font-weight="bold" fill="#1e1e1e" stroke="#1e1e1e" stroke-width="0.12" transform="rotate(-90 399.55 59.80)" textLength="10.0" lengthAdjust="spacingAndGlyphs">0.004</text>
<line x1="402.80" y1="43.65" x2="405.40" y2="43.65" stroke="#b5b5b5" stroke-width="0.8"/>
<text x="399.55" y="43.65" font-size="3.8" text-anchor="middle" font-weight="bold" fill="#1e1e1e" stroke="#1e1e1e" stroke-width="0.12" transform="rotate(-90 399.55 43.65)" textLength="10.0" lengthAdjust="spacingAndGlyphs">0.005</text>
<line x1="402.80" y1="27.50" x2="405.40" y2="27.50" stroke="#b5b5b5" stroke-width="0.8"/>
<text x="399.55" y="27.50" font-size="3.8" text-anchor="middle" font-weight="bold" fill="#1e1e1e" stroke="#1e1e1e" stroke-width="0.12" transform="rotate(-90 399.55 27.50)" textLength="10.0" lengthAdjust="spacingAndGlyphs">0.006</text>
<line x1="423.85" y1="131.90" x2="423.85" y2="134.50" stroke="#b5b5b5" stroke-width="0.8"/>
<text x="423.85" y="140.65" font-size="4.0" text-anchor="middle" font-weight="bold" fill="#1e1e1e" stroke="#1e1e1e" stroke-width="0.12" textLength="7.0" lengthAdjust="spacingAndGlyphs">400</text>
<line x1="451.28" y1="131.90" x2="451.28" y2="134.50" stroke="#b5b5b5" stroke-width="0.8"/>
<text x="451.28" y="140.65" font-size="4.0" text-anchor="middle" font-weight="bold" fill="#1e1e1e" stroke="#1e1e1e" stroke-width="0.12" textLength="7.0" lengthAdjust="spacingAndGlyphs">500</text>
<line x1="478.71" y1="131.90" x2="478.71" y2="134.50" stroke="#b5b5b5" stroke-width="0.8"/>
<text x="478.71" y="140.65" font-size="4.0" text-anchor="middle" font-weight="bold" fill="#1e1e1e" stroke="#1e1e1e" stroke-width="0.12" textLength="7.0" lengthAdjust="spacingAndGlyphs">600</text>
<line x1="506.14" y1="131.90" x2="506.14" y2="134.50" stroke="#b5b5b5" stroke-width="0.8"/>
<text x="506.14" y="140.65" font-size="4.0" text-anchor="middle" font-weight="bold" fill="#1e1e1e" stroke="#1e1e1e" stroke-width="0.12" textLength="7.0" lengthAdjust="spacingAndGlyphs">700</text>
<line x1="533.57" y1="131.90" x2="533.57" y2="134.50" stroke="#b5b5b5" stroke-width="0.8"/>
<text x="533.57" y="140.65" font-size="4.0" text-anchor="middle" font-weight="bold" fill="#1e1e1e" stroke="#1e1e1e" stroke-width="0.12" textLength="7.0" lengthAdjust="spacingAndGlyphs">800</text>
<g transform="rotate(-90)" font-family='"Liberation Serif", serif' font-weight="bold" fill="#1a1a1a" stroke="#1a1a1a" stroke-width="0.3"><text x="-94.60" y="392.30" font-size="9" textLength="6.3" lengthAdjust="spacingAndGlyphs">R</text><text x="-87.70" y="392.80" font-size="5.4" textLength="3.6" lengthAdjust="spacingAndGlyphs">rs</text><text x="-79.20" y="392.90" font-size="9" textLength="2.8" lengthAdjust="spacingAndGlyphs">[</text><text x="-75.40" y="392.30" font-size="9" textLength="6.7" lengthAdjust="spacingAndGlyphs">sr</text><text x="-68.60" y="388.30" font-size="5.0" textLength="4.6" lengthAdjust="spacingAndGlyphs">-1</text><text x="-62.00" y="392.90" font-size="9" textLength="2.8" lengthAdjust="spacingAndGlyphs">]</text></g>
<text x="474.50" y="155.50" font-size="8.2" text-anchor="middle" font-weight="bold" fill="#1a1a1a" stroke="#1a1a1a" stroke-width="0.4" textLength="73.6" lengthAdjust="spacingAndGlyphs">Wavelength [nm]</text>
<text x="468.50" y="23.00" font-size="9.0" text-anchor="middle" font-weight="bold" fill="#1a1a1a" stroke="#1a1a1a" stroke-width="0.4" textLength="22.7" lengthAdjust="spacingAndGlyphs">2015</text>
<text x="495.00" y="20.80" font-size="6.7" fill="#1a1a1a" stroke="#1a1a1a" stroke-width="0.1" textLength="35.9" lengthAdjust="spacingAndGlyphs">Chla [mg m</text>
<text x="531.20" y="18.30" font-size="3.8" fill="#1a1a1a" textLength="3.3" lengthAdjust="spacingAndGlyphs">-3</text>
<text x="535.30" y="20.80" font-size="6.7" fill="#1a1a1a" stroke="#1a1a1a" stroke-width="0.1">]</text>
<rect x="522.65" y="24.20" width="11.45" height="84.40" fill="url(#cb)"/>
<line x1="521.25" y1="25.80" x2="522.65" y2="25.80" stroke="#777" stroke-width="0.5"/>
<text x="520.50" y="28.55" font-size="6.3" text-anchor="end" font-weight="normal" fill="#1a1a1a" stroke="#1a1a1a" stroke-width="0.1">10</text>
<line x1="521.25" y1="40.90" x2="522.65" y2="40.90" stroke="#777" stroke-width="0.5"/>
<text x="520.50" y="43.65" font-size="6.3" text-anchor="end" font-weight="normal" fill="#1a1a1a" stroke="#1a1a1a" stroke-width="0.1">8</text>
<line x1="521.25" y1="57.40" x2="522.65" y2="57.40" stroke="#777" stroke-width="0.5"/>
<text x="520.50" y="60.15" font-size="6.3" text-anchor="end" font-weight="normal" fill="#1a1a1a" stroke="#1a1a1a" stroke-width="0.1">6</text>
<line x1="521.25" y1="74.25" x2="522.65" y2="74.25" stroke="#777" stroke-width="0.5"/>
<text x="520.50" y="77.00" font-size="6.3" text-anchor="end" font-weight="normal" fill="#1a1a1a" stroke="#1a1a1a" stroke-width="0.1">4</text>
<line x1="521.25" y1="91.30" x2="522.65" y2="91.30" stroke="#777" stroke-width="0.5"/>
<text x="520.50" y="94.05" font-size="6.3" text-anchor="end" font-weight="normal" fill="#1a1a1a" stroke="#1a1a1a" stroke-width="0.1">2</text>
<line x1="521.25" y1="107.40" x2="522.65" y2="107.40" stroke="#777" stroke-width="0.5"/>
<text x="520.50" y="110.15" font-size="6.3" text-anchor="end" font-weight="normal" fill="#1a1a1a" stroke="#1a1a1a" stroke-width="0.1">0.1</text>
<text x="407.10" y="128.10" font-size="7.4" text-anchor="start" font-weight="bold" fill="#1a1a1a" stroke="#1a1a1a" stroke-width="0.3" textLength="7.6" lengthAdjust="spacingAndGlyphs">c)</text>
<clipPath id="clip10"><rect x="32.2" y="168.1" width="133.4" height="118.4"/></clipPath><g clip-path="url(#clip10)"><path d="M37.1 233.2L46.7 246.9L56.4 255.7L61.0 258.8L73.0 265.0L91.2 272.4L116.3 278.5L160.7 279.1" fill="none" stroke="#a3c8e4" stroke-width="0.65" stroke-opacity="0.58"/><circle cx="37.1" cy="233.2" r="0.95" fill="#a3c8e4" fill-opacity="0.58"/><circle cx="46.7" cy="246.9" r="0.95" fill="#a3c8e4" fill-opacity="0.58"/><circle cx="56.4" cy="255.7" r="0.95" fill="#a3c8e4" fill-opacity="0.58"/><circle cx="61.0" cy="258.8" r="0.95" fill="#a3c8e4" fill-opacity="0.58"/><circle cx="73.0" cy="265.0" r="0.95" fill="#a3c8e4" fill-opacity="0.58"/><circle cx="91.2" cy="272.4" r="0.95" fill="#a3c8e4" fill-opacity="0.58"/><circle cx="116.3" cy="278.5" r="0.95" fill="#a3c8e4" fill-opacity="0.58"/><circle cx="160.7" cy="279.1" r="0.95" fill="#a3c8e4" fill-opacity="0.58"/>
<path d="M37.1 236.9L46.7 250.3L56.4 258.9L61.0 262.0L73.0 267.9L91.2 274.4L116.3 279.3L160.7 280.0" fill="none" stroke="#cbe7dd" stroke-width="0.65" stroke-opacity="0.58"/><circle cx="37.1" cy="236.9" r="0.95" fill="#cbe7dd" fill-opacity="0.58"/><circle cx="46.7" cy="250.3" r="0.95" fill="#cbe7dd" fill-opacity="0.58"/><circle cx="56.4" cy="258.9" r="0.95" fill="#cbe7dd" fill-opacity="0.58"/><circle cx="61.0" cy="262.0" r="0.95" fill="#cbe7dd" fill-opacity="0.58"/><circle cx="73.0" cy="267.9" r="0.95" fill="#cbe7dd" fill-opacity="0.58"/><circle cx="91.2" cy="274.4" r="0.95" fill="#cbe7dd" fill-opacity="0.58"/><circle cx="116.3" cy="279.3" r="0.95" fill="#cbe7dd" fill-opacity="0.58"/><circle cx="160.7" cy="280.0" r="0.95" fill="#cbe7dd" fill-opacity="0.58"/>
<path d="M37.1 231.5L46.7 245.7L56.4 255.1L61.0 258.4L73.0 265.1L91.2 272.6L116.3 278.5L160.7 279.5" fill="none" stroke="#afd2e5" stroke-width="0.65" stroke-opacity="0.58"/><circle cx="37.1" cy="231.5" r="0.95" fill="#afd2e5" fill-opacity="0.58"/><circle cx="46.7" cy="245.7" r="0.95" fill="#afd2e5" fill-opacity="0.58"/><circle cx="56.4" cy="255.1" r="0.95" fill="#afd2e5" fill-opacity="0.58"/><circle cx="61.0" cy="258.4" r="0.95" fill="#afd2e5" fill-opacity="0.58"/><circle cx="73.0" cy="265.1" r="0.95" fill="#afd2e5" fill-opacity="0.58"/><circle cx="91.2" cy="272.6" r="0.95" fill="#afd2e5" fill-opacity="0.58"/><circle cx="116.3" cy="278.5" r="0.95" fill="#afd2e5" fill-opacity="0.58"/><circle cx="160.7" cy="279.5" r="0.95" fill="#afd2e5" fill-opacity="0.58"/>
<path d="M37.1 214.5L46.7 235.3L56.4 248.8L61.0 253.5L73.0 262.5L91.2 271.7L116.3 278.4L160.7 279.5" fill="none" stroke="#b0d2e5" stroke-width="0.65" stroke-opacity="0.58"/><circle cx="37.1" cy="214.5" r="0.95" fill="#b0d2e5" fill-opacity="0.58"/><circle cx="46.7" cy="235.3" r="0.95" fill="#b0d2e5" fill-opacity="0.58"/><circle cx="56.4" cy="248.8" r="0.95" fill="#b0d2e5" fill-opacity="0.58"/><circle cx="61.0" cy="253.5" r="0.95" fill="#b0d2e5" fill-opacity="0.58"/><circle cx="73.0" cy="262.5" r="0.95" fill="#b0d2e5" fill-opacity="0.58"/><circle cx="91.2" cy="271.7" r="0.95" fill="#b0d2e5" fill-opacity="0.58"/><circle cx="116.3" cy="278.4" r="0.95" fill="#b0d2e5" fill-opacity="0.58"/><circle cx="160.7" cy="279.5" r="0.95" fill="#b0d2e5" fill-opacity="0.58"/>
<path d="M37.1 243.7L46.7 253.9L56.4 260.4L61.0 262.7L73.0 267.4L91.2 273.5L116.3 278.8L160.7 279.2" fill="none" stroke="#90b7de" stroke-width="0.65" stroke-opacity="0.58"/><circle cx="37.1" cy="243.7" r="0.95" fill="#90b7de" fill-opacity="0.58"/><circle cx="46.7" cy="253.9" r="0.95" fill="#90b7de" fill-opacity="0.58"/><circle cx="56.4" cy="260.4" r="0.95" fill="#90b7de" fill-opacity="0.58"/><circle cx="61.0" cy="262.7" r="0.95" fill="#90b7de" fill-opacity="0.58"/><circle cx="73.0" cy="267.4" r="0.95" fill="#90b7de" fill-opacity="0.58"/><circle cx="91.2" cy="273.5" r="0.95" fill="#90b7de" fill-opacity="0.58"/><circle cx="116.3" cy="278.8" r="0.95" fill="#90b7de" fill-opacity="0.58"/><circle cx="160.7" cy="279.2" r="0.95" fill="#90b7de" fill-opacity="0.58"/>
<path d="M37.1 212.4L46.7 231.3L56.4 244.0L61.0 248.5L73.0 257.6L91.2 268.2L116.3 276.6L160.7 278.3" fill="none" stroke="#c2e1e1" stroke-width="0.65" stroke-opacity="0.58"/><circle cx="37.1" cy="212.4" r="0.95" fill="#c2e1e1" fill-opacity="0.58"/><circle cx="46.7" cy="231.3" r="0.95" fill="#c2e1e1" fill-opacity="0.58"/><circle cx="56.4" cy="244.0" r="0.95" fill="#c2e1e1" fill-opacity="0.58"/><circle cx="61.0" cy="248.5" r="0.95" fill="#c2e1e1" fill-opacity="0.58"/><circle cx="73.0" cy="257.6" r="0.95" fill="#c2e1e1" fill-opacity="0.58"/><circle cx="91.2" cy="268.2" r="0.95" fill="#c2e1e1" fill-opacity="0.58"/><circle cx="116.3" cy="276.6" r="0.95" fill="#c2e1e1" fill-opacity="0.58"/><circle cx="160.7" cy="278.3" r="0.95" fill="#c2e1e1" fill-opacity="0.58"/>
<path d="M37.1 206.4L46.7 229.2L56.4 243.9L61.0 249.0L73.0 258.8L91.2 269.5L116.3 277.5L160.7 278.5" fill="none" stroke="#bfdee2" stroke-width="0.65" stroke-opacity="0.58"/><circle cx="37.1" cy="206.4" r="0.95" fill="#bfdee2" fill-opacity="0.58"/><circle cx="46.7" cy="229.2" r="0.95" fill="#bfdee2" fill-opacity="0.58"/><circle cx="56.4" cy="243.9" r="0.95" fill="#bfdee2" fill-opacity="0.58"/><circle cx="61.0" cy="249.0" r="0.95" fill="#bfdee2" fill-opacity="0.58"/><circle cx="73.0" cy="258.8" r="0.95" fill="#bfdee2" fill-opacity="0.58"/><circle cx="91.2" cy="269.5" r="0.95" fill="#bfdee2" fill-opacity="0.58"/><circle cx="116.3" cy="277.5" r="0.95" fill="#bfdee2" fill-opacity="0.58"/><circle cx="160.7" cy="278.5" r="0.95" fill="#bfdee2" fill-opacity="0.58"/>
<path d="M37.1 250.2L46.7 258.8L56.4 264.3L61.0 266.2L73.0 270.2L91.2 275.2L116.3 279.5L160.7 279.9" fill="none" stroke="#b8d9e3" stroke-width="0.65" stroke-opacity="0.58"/><circle cx="37.1" cy="250.2" r="0.95" fill="#b8d9e3" fill-opacity="0.58"/><circle cx="46.7" cy="258.8" r="0.95" fill="#b8d9e3" fill-opacity="0.58"/><circle cx="56.4" cy="264.3" r="0.95" fill="#b8d9e3" fill-opacity="0.58"/><circle cx="61.0" cy="266.2" r="0.95" fill="#b8d9e3" fill-opacity="0.58"/><circle cx="73.0" cy="270.2" r="0.95" fill="#b8d9e3" fill-opacity="0.58"/><circle cx="91.2" cy="275.2" r="0.95" fill="#b8d9e3" fill-opacity="0.58"/><circle cx="116.3" cy="279.5" r="0.95" fill="#b8d9e3" fill-opacity="0.58"/><circle cx="160.7" cy="279.9" r="0.95" fill="#b8d9e3" fill-opacity="0.58"/>
<path d="M37.1 251.2L46.7 259.3L56.4 264.3L61.0 266.1L73.0 269.7L91.2 274.8L116.3 279.4L160.7 279.4" fill="none" stroke="#8db5dd" stroke-width="0.65" stroke-opacity="0.58"/><circle cx="37.1" cy="251.2" r="0.95" fill="#8db5dd" fill-opacity="0.58"/><circle cx="46.7" cy="259.3" r="0.95" fill="#8db5dd" fill-opacity="0.58"/><circle cx="56.4" cy="264.3" r="0.95" fill="#8db5dd" fill-opacity="0.58"/><circle cx="61.0" cy="266.1" r="0.95" fill="#8db5dd" fill-opacity="0.58"/><circle cx="73.0" cy="269.7" r="0.95" fill="#8db5dd" fill-opacity="0.58"/><circle cx="91.2" cy="274.8" r="0.95" fill="#8db5dd" fill-opacity="0.58"/><circle cx="116.3" cy="279.4" r="0.95" fill="#8db5dd" fill-opacity="0.58"/><circle cx="160.7" cy="279.4" r="0.95" fill="#8db5dd" fill-opacity="0.58"/>
<path d="M37.1 245.3L46.7 255.3L56.4 261.7L61.0 264.0L73.0 268.5L91.2 274.3L116.3 279.2L160.7 279.5" fill="none" stroke="#f2f4aa" stroke-width="0.65" stroke-opacity="0.58"/><circle cx="37.1" cy="245.3" r="0.95" fill="#f2f4aa" fill-opacity="0.58"/><circle cx="46.7" cy="255.3" r="0.95" fill="#f2f4aa" fill-opacity="0.58"/><circle cx="56.4" cy="261.7" r="0.95" fill="#f2f4aa" fill-opacity="0.58"/><circle cx="61.0" cy="264.0" r="0.95" fill="#f2f4aa" fill-opacity="0.58"/><circle cx="73.0" cy="268.5" r="0.95" fill="#f2f4aa" fill-opacity="0.58"/><circle cx="91.2" cy="274.3" r="0.95" fill="#f2f4aa" fill-opacity="0.58"/><circle cx="116.3" cy="279.2" r="0.95" fill="#f2f4aa" fill-opacity="0.58"/><circle cx="160.7" cy="279.5" r="0.95" fill="#f2f4aa" fill-opacity="0.58"/>
<path d="M37.1 203.7L46.7 225.2L56.4 239.1L61.0 244.1L73.0 253.9L91.2 265.9L116.3 275.8L160.7 276.9" fill="none" stroke="#fef08a" stroke-width="0.65" stroke-opacity="0.58"/><circle cx="37.1" cy="203.7" r="0.95" fill="#fef08a" fill-opacity="0.58"/><circle cx="46.7" cy="225.2" r="0.95" fill="#fef08a" fill-opacity="0.58"/><circle cx="56.4" cy="239.1" r="0.95" fill="#fef08a" fill-opacity="0.58"/><circle cx="61.0" cy="244.1" r="0.95" fill="#fef08a" fill-opacity="0.58"/><circle cx="73.0" cy="253.9" r="0.95" fill="#fef08a" fill-opacity="0.58"/><circle cx="91.2" cy="265.9" r="0.95" fill="#fef08a" fill-opacity="0.58"/><circle cx="116.3" cy="275.8" r="0.95" fill="#fef08a" fill-opacity="0.58"/><circle cx="160.7" cy="276.9" r="0.95" fill="#fef08a" fill-opacity="0.58"/>
<path d="M37.1 236.8L46.7 249.9L56.4 258.3L61.0 261.2L73.0 267.0L91.2 273.7L116.3 279.0L160.7 279.5" fill="none" stroke="#bfdfe2" stroke-width="0.65" stroke-opacity="0.58"/><circle cx="37.1" cy="236.8" r="0.95" fill="#bfdfe2" fill-opacity="0.58"/><circle cx="46.7" cy="249.9" r="0.95" fill="#bfdfe2" fill-opacity="0.58"/><circle cx="56.4" cy="258.3" r="0.95" fill="#bfdfe2" fill-opacity="0.58"/><circle cx="61.0" cy="261.2" r="0.95" fill="#bfdfe2" fill-opacity="0.58"/><circle cx="73.0" cy="267.0" r="0.95" fill="#bfdfe2" fill-opacity="0.58"/><circle cx="91.2" cy="273.7" r="0.95" fill="#bfdfe2" fill-opacity="0.58"/><circle cx="116.3" cy="279.0" r="0.95" fill="#bfdfe2" fill-opacity="0.58"/><circle cx="160.7" cy="279.5" r="0.95" fill="#bfdfe2" fill-opacity="0.58"/>
<path d="M37.1 218.1L46.7 235.1L56.4 246.1L61.0 250.1L73.0 258.1L91.2 268.1L116.3 276.6L160.7 277.6" fill="none" stroke="#f5f3a3" stroke-width="0.65" stroke-opacity="0.58"/><circle cx="37.1" cy="218.1" r="0.95" fill="#f5f3a3" fill-opacity="0.58"/><circle cx="46.7" cy="235.1" r="0.95" fill="#f5f3a3" fill-opacity="0.58"/><circle cx="56.4" cy="246.1" r="0.95" fill="#f5f3a3" fill-opacity="0.58"/><circle cx="61.0" cy="250.1" r="0.95" fill="#f5f3a3" fill-opacity="0.58"/><circle cx="73.0" cy="258.1" r="0.95" fill="#f5f3a3" fill-opacity="0.58"/><circle cx="91.2" cy="268.1" r="0.95" fill="#f5f3a3" fill-opacity="0.58"/><circle cx="116.3" cy="276.6" r="0.95" fill="#f5f3a3" fill-opacity="0.58"/><circle cx="160.7" cy="277.6" r="0.95" fill="#f5f3a3" fill-opacity="0.58"/>
<path d="M37.1 214.6L46.7 234.4L56.4 247.3L61.0 251.8L73.0 260.7L91.2 270.4L116.3 277.8L160.7 278.9" fill="none" stroke="#86afdb" stroke-width="0.65" stroke-opacity="0.58"/><circle cx="37.1" cy="214.6" r="0.95" fill="#86afdb" fill-opacity="0.58"/><circle cx="46.7" cy="234.4" r="0.95" fill="#86afdb" fill-opacity="0.58"/><circle cx="56.4" cy="247.3" r="0.95" fill="#86afdb" fill-opacity="0.58"/><circle cx="61.0" cy="251.8" r="0.95" fill="#86afdb" fill-opacity="0.58"/><circle cx="73.0" cy="260.7" r="0.95" fill="#86afdb" fill-opacity="0.58"/><circle cx="91.2" cy="270.4" r="0.95" fill="#86afdb" fill-opacity="0.58"/><circle cx="116.3" cy="277.8" r="0.95" fill="#86afdb" fill-opacity="0.58"/><circle cx="160.7" cy="278.9" r="0.95" fill="#86afdb" fill-opacity="0.58"/>
<path d="M37.1 219.3L46.7 236.7L56.4 248.3L61.0 252.5L73.0 260.8L91.2 270.1L116.3 277.4L160.7 279.0" fill="none" stroke="#407dcb" stroke-width="0.65" stroke-opacity="0.58"/><circle cx="37.1" cy="219.3" r="0.95" fill="#407dcb" fill-opacity="0.58"/><circle cx="46.7" cy="236.7" r="0.95" fill="#407dcb" fill-opacity="0.58"/><circle cx="56.4" cy="248.3" r="0.95" fill="#407dcb" fill-opacity="0.58"/><circle cx="61.0" cy="252.5" r="0.95" fill="#407dcb" fill-opacity="0.58"/><circle cx="73.0" cy="260.8" r="0.95" fill="#407dcb" fill-opacity="0.58"/><circle cx="91.2" cy="270.1" r="0.95" fill="#407dcb" fill-opacity="0.58"/><circle cx="116.3" cy="277.4" r="0.95" fill="#407dcb" fill-opacity="0.58"/><circle cx="160.7" cy="279.0" r="0.95" fill="#407dcb" fill-opacity="0.58"/>
<path d="M37.1 242.8L46.7 254.1L56.4 261.3L61.0 263.8L73.0 268.6L91.2 274.5L116.3 279.4L160.7 279.6" fill="none" stroke="#5f93d3" stroke-width="0.65" stroke-opacity="0.58"/><circle cx="37.1" cy="242.8" r="0.95" fill="#5f93d3" fill-opacity="0.58"/><circle cx="46.7" cy="254.1" r="0.95" fill="#5f93d3" fill-opacity="0.58"/><circle cx="56.4" cy="261.3" r="0.95" fill="#5f93d3" fill-opacity="0.58"/><circle cx="61.0" cy="263.8" r="0.95" fill="#5f93d3" fill-opacity="0.58"/><circle cx="73.0" cy="268.6" r="0.95" fill="#5f93d3" fill-opacity="0.58"/><circle cx="91.2" cy="274.5" r="0.95" fill="#5f93d3" fill-opacity="0.58"/><circle cx="116.3" cy="279.4" r="0.95" fill="#5f93d3" fill-opacity="0.58"/><circle cx="160.7" cy="279.6" r="0.95" fill="#5f93d3" fill-opacity="0.58"/>
<path d="M37.1 226.4L46.7 242.9L56.4 253.6L61.0 257.4L73.0 264.7L91.2 272.6L116.3 278.7L160.7 279.5" fill="none" stroke="#d4ebd2" stroke-width="0.65" stroke-opacity="0.58"/><circle cx="37.1" cy="226.4" r="0.95" fill="#d4ebd2" fill-opacity="0.58"/><circle cx="46.7" cy="242.9" r="0.95" fill="#d4ebd2" fill-opacity="0.58"/><circle cx="56.4" cy="253.6" r="0.95" fill="#d4ebd2" fill-opacity="0.58"/><circle cx="61.0" cy="257.4" r="0.95" fill="#d4ebd2" fill-opacity="0.58"/><circle cx="73.0" cy="264.7" r="0.95" fill="#d4ebd2" fill-opacity="0.58"/><circle cx="91.2" cy="272.6" r="0.95" fill="#d4ebd2" fill-opacity="0.58"/><circle cx="116.3" cy="278.7" r="0.95" fill="#d4ebd2" fill-opacity="0.58"/><circle cx="160.7" cy="279.5" r="0.95" fill="#d4ebd2" fill-opacity="0.58"/>
<path d="M37.1 226.1L46.7 241.4L56.4 251.2L61.0 254.6L73.0 261.5L91.2 270.2L116.3 277.6L160.7 278.1" fill="none" stroke="#f9f297" stroke-width="0.65" stroke-opacity="0.58"/><circle cx="37.1" cy="226.1" r="0.95" fill="#f9f297" fill-opacity="0.58"/><circle cx="46.7" cy="241.4" r="0.95" fill="#f9f297" fill-opacity="0.58"/><circle cx="56.4" cy="251.2" r="0.95" fill="#f9f297" fill-opacity="0.58"/><circle cx="61.0" cy="254.6" r="0.95" fill="#f9f297" fill-opacity="0.58"/><circle cx="73.0" cy="261.5" r="0.95" fill="#f9f297" fill-opacity="0.58"/><circle cx="91.2" cy="270.2" r="0.95" fill="#f9f297" fill-opacity="0.58"/><circle cx="116.3" cy="277.6" r="0.95" fill="#f9f297" fill-opacity="0.58"/><circle cx="160.7" cy="278.1" r="0.95" fill="#f9f297" fill-opacity="0.58"/>
<path d="M37.1 223.1L46.7 239.8L56.4 250.2L61.0 253.8L73.0 260.9L91.2 270.0L116.3 277.6L160.7 277.7" fill="none" stroke="#a5c9e5" stroke-width="0.65" stroke-opacity="0.58"/><circle cx="37.1" cy="223.1" r="0.95" fill="#a5c9e5" fill-opacity="0.58"/><circle cx="46.7" cy="239.8" r="0.95" fill="#a5c9e5" fill-opacity="0.58"/><circle cx="56.4" cy="250.2" r="0.95" fill="#a5c9e5" fill-opacity="0.58"/><circle cx="61.0" cy="253.8" r="0.95" fill="#a5c9e5" fill-opacity="0.58"/><circle cx="73.0" cy="260.9" r="0.95" fill="#a5c9e5" fill-opacity="0.58"/><circle cx="91.2" cy="270.0" r="0.95" fill="#a5c9e5" fill-opacity="0.58"/><circle cx="116.3" cy="277.6" r="0.95" fill="#a5c9e5" fill-opacity="0.58"/><circle cx="160.7" cy="277.7" r="0.95" fill="#a5c9e5" fill-opacity="0.58"/>
<path d="M37.1 235.4L46.7 248.3L56.4 256.9L61.0 260.0L73.0 266.1L91.2 273.1L116.3 278.7L160.7 279.6" fill="none" stroke="#c2e1e1" stroke-width="0.65" stroke-opacity="0.58"/><circle cx="37.1" cy="235.4" r="0.95" fill="#c2e1e1" fill-opacity="0.58"/><circle cx="46.7" cy="248.3" r="0.95" fill="#c2e1e1" fill-opacity="0.58"/><circle cx="56.4" cy="256.9" r="0.95" fill="#c2e1e1" fill-opacity="0.58"/><circle cx="61.0" cy="260.0" r="0.95" fill="#c2e1e1" fill-opacity="0.58"/><circle cx="73.0" cy="266.1" r="0.95" fill="#c2e1e1" fill-opacity="0.58"/><circle cx="91.2" cy="273.1" r="0.95" fill="#c2e1e1" fill-opacity="0.58"/><circle cx="116.3" cy="278.7" r="0.95" fill="#c2e1e1" fill-opacity="0.58"/><circle cx="160.7" cy="279.6" r="0.95" fill="#c2e1e1" fill-opacity="0.58"/>
<path d="M37.1 238.9L46.7 250.6L56.4 257.9L61.0 260.5L73.0 265.7L91.2 272.6L116.3 278.5L160.7 278.7" fill="none" stroke="#f0f5b0" stroke-width="0.65" stroke-opacity="0.58"/><circle cx="37.1" cy="238.9" r="0.95" fill="#f0f5b0" fill-opacity="0.58"/><circle cx="46.7" cy="250.6" r="0.95" fill="#f0f5b0" fill-opacity="0.58"/><circle cx="56.4" cy="257.9" r="0.95" fill="#f0f5b0" fill-opacity="0.58"/><circle cx="61.0" cy="260.5" r="0.95" fill="#f0f5b0" fill-opacity="0.58"/><circle cx="73.0" cy="265.7" r="0.95" fill="#f0f5b0" fill-opacity="0.58"/><circle cx="91.2" cy="272.6" r="0.95" fill="#f0f5b0" fill-opacity="0.58"/><circle cx="116.3" cy="278.5" r="0.95" fill="#f0f5b0" fill-opacity="0.58"/><circle cx="160.7" cy="278.7" r="0.95" fill="#f0f5b0" fill-opacity="0.58"/>
<path d="M37.1 220.3L46.7 237.8L56.4 249.4L61.0 253.6L73.0 261.7L91.2 270.8L116.3 277.8L160.7 279.1" fill="none" stroke="#a9cde6" stroke-width="0.65" stroke-opacity="0.58"/><circle cx="37.1" cy="220.3" r="0.95" fill="#a9cde6" fill-opacity="0.58"/><circle cx="46.7" cy="237.8" r="0.95" fill="#a9cde6" fill-opacity="0.58"/><circle cx="56.4" cy="249.4" r="0.95" fill="#a9cde6" fill-opacity="0.58"/><circle cx="61.0" cy="253.6" r="0.95" fill="#a9cde6" fill-opacity="0.58"/><circle cx="73.0" cy="261.7" r="0.95" fill="#a9cde6" fill-opacity="0.58"/><circle cx="91.2" cy="270.8" r="0.95" fill="#a9cde6" fill-opacity="0.58"/><circle cx="116.3" cy="277.8" r="0.95" fill="#a9cde6" fill-opacity="0.58"/><circle cx="160.7" cy="279.1" r="0.95" fill="#a9cde6" fill-opacity="0.58"/>
<path d="M37.1 219.5L46.7 236.5L56.4 247.4L61.0 251.3L73.0 259.0L91.2 268.8L116.3 277.0L160.7 277.7" fill="none" stroke="#72a0d6" stroke-width="0.65" stroke-opacity="0.58"/><circle cx="37.1" cy="219.5" r="0.95" fill="#72a0d6" fill-opacity="0.58"/><circle cx="46.7" cy="236.5" r="0.95" fill="#72a0d6" fill-opacity="0.58"/><circle cx="56.4" cy="247.4" r="0.95" fill="#72a0d6" fill-opacity="0.58"/><circle cx="61.0" cy="251.3" r="0.95" fill="#72a0d6" fill-opacity="0.58"/><circle cx="73.0" cy="259.0" r="0.95" fill="#72a0d6" fill-opacity="0.58"/><circle cx="91.2" cy="268.8" r="0.95" fill="#72a0d6" fill-opacity="0.58"/><circle cx="116.3" cy="277.0" r="0.95" fill="#72a0d6" fill-opacity="0.58"/><circle cx="160.7" cy="277.7" r="0.95" fill="#72a0d6" fill-opacity="0.58"/>
<path d="M37.1 228.4L46.7 243.3L56.4 252.9L61.0 256.4L73.0 263.2L91.2 271.4L116.3 278.0L160.7 278.8" fill="none" stroke="#c6e4e0" stroke-width="0.65" stroke-opacity="0.58"/><circle cx="37.1" cy="228.4" r="0.95" fill="#c6e4e0" fill-opacity="0.58"/><circle cx="46.7" cy="243.3" r="0.95" fill="#c6e4e0" fill-opacity="0.58"/><circle cx="56.4" cy="252.9" r="0.95" fill="#c6e4e0" fill-opacity="0.58"/><circle cx="61.0" cy="256.4" r="0.95" fill="#c6e4e0" fill-opacity="0.58"/><circle cx="73.0" cy="263.2" r="0.95" fill="#c6e4e0" fill-opacity="0.58"/><circle cx="91.2" cy="271.4" r="0.95" fill="#c6e4e0" fill-opacity="0.58"/><circle cx="116.3" cy="278.0" r="0.95" fill="#c6e4e0" fill-opacity="0.58"/><circle cx="160.7" cy="278.8" r="0.95" fill="#c6e4e0" fill-opacity="0.58"/>
<path d="M37.1 240.7L46.7 252.5L56.4 260.2L61.0 262.9L73.0 268.3L91.2 274.4L116.3 279.3L160.7 280.0" fill="none" stroke="#d9eccc" stroke-width="0.65" stroke-opacity="0.58"/><circle cx="37.1" cy="240.7" r="0.95" fill="#d9eccc" fill-opacity="0.58"/><circle cx="46.7" cy="252.5" r="0.95" fill="#d9eccc" fill-opacity="0.58"/><circle cx="56.4" cy="260.2" r="0.95" fill="#d9eccc" fill-opacity="0.58"/><circle cx="61.0" cy="262.9" r="0.95" fill="#d9eccc" fill-opacity="0.58"/><circle cx="73.0" cy="268.3" r="0.95" fill="#d9eccc" fill-opacity="0.58"/><circle cx="91.2" cy="274.4" r="0.95" fill="#d9eccc" fill-opacity="0.58"/><circle cx="116.3" cy="279.3" r="0.95" fill="#d9eccc" fill-opacity="0.58"/><circle cx="160.7" cy="280.0" r="0.95" fill="#d9eccc" fill-opacity="0.58"/></g>
<rect x="32.20" y="168.10" width="133.4" height="118.40" fill="none" stroke="#b5b5b5" stroke-width="0.9"/>
<line x1="29.60" y1="282.40" x2="32.20" y2="282.40" stroke="#b5b5b5" stroke-width="0.8"/>
<text x="26.35" y="282.40" font-size="3.8" text-anchor="middle" font-weight="bold" fill="#1e1e1e" stroke="#1e1e1e" stroke-width="0.12" transform="rotate(-90 26.35 282.40)" textLength="5.8" lengthAdjust="spacingAndGlyphs">0.0</text>
<line x1="29.60" y1="254.58" x2="32.20" y2="254.58" stroke="#b5b5b5" stroke-width="0.8"/>
<text x="26.35" y="254.58" font-size="3.8" text-anchor="middle" font-weight="bold" fill="#1e1e1e" stroke="#1e1e1e" stroke-width="0.12" transform="rotate(-90 26.35 254.58)" textLength="5.8" lengthAdjust="spacingAndGlyphs">0.2</text>
<line x1="29.60" y1="226.76" x2="32.20" y2="226.76" stroke="#b5b5b5" stroke-width="0.8"/>
<text x="26.35" y="226.76" font-size="3.8" text-anchor="middle" font-weight="bold" fill="#1e1e1e" stroke="#1e1e1e" stroke-width="0.12" transform="rotate(-90 26.35 226.76)" textLength="5.8" lengthAdjust="spacingAndGlyphs">0.4</text>
<line x1="29.60" y1="198.94" x2="32.20" y2="198.94" stroke="#b5b5b5" stroke-width="0.8"/>
<text x="26.35" y="198.94" font-size="3.8" text-anchor="middle" font-weight="bold" fill="#1e1e1e" stroke="#1e1e1e" stroke-width="0.12" transform="rotate(-90 26.35 198.94)" textLength="5.8" lengthAdjust="spacingAndGlyphs">0.6</text>
<line x1="29.60" y1="171.12" x2="32.20" y2="171.12" stroke="#b5b5b5" stroke-width="0.8"/>
<text x="26.35" y="171.12" font-size="3.8" text-anchor="middle" font-weight="bold" fill="#1e1e1e" stroke="#1e1e1e" stroke-width="0.12" transform="rotate(-90 26.35 171.12)" textLength="5.8" lengthAdjust="spacingAndGlyphs">0.8</text>
<line x1="37.05" y1="286.50" x2="37.05" y2="289.10" stroke="#b5b5b5" stroke-width="0.8"/>
<text x="37.05" y="295.25" font-size="4.0" text-anchor="middle" font-weight="bold" fill="#1e1e1e" stroke="#1e1e1e" stroke-width="0.12" textLength="7.0" lengthAdjust="spacingAndGlyphs">350</text>
<line x1="56.38" y1="286.50" x2="56.38" y2="289.10" stroke="#b5b5b5" stroke-width="0.8"/>
<text x="56.38" y="295.25" font-size="4.0" text-anchor="middle" font-weight="bold" fill="#1e1e1e" stroke="#1e1e1e" stroke-width="0.12" textLength="7.0" lengthAdjust="spacingAndGlyphs">400</text>
<line x1="75.70" y1="286.50" x2="75.70" y2="289.10" stroke="#b5b5b5" stroke-width="0.8"/>
<text x="75.70" y="295.25" font-size="4.0" text-anchor="middle" font-weight="bold" fill="#1e1e1e" stroke="#1e1e1e" stroke-width="0.12" textLength="7.0" lengthAdjust="spacingAndGlyphs">450</text>
<line x1="95.03" y1="286.50" x2="95.03" y2="289.10" stroke="#b5b5b5" stroke-width="0.8"/>
<text x="95.03" y="295.25" font-size="4.0" text-anchor="middle" font-weight="bold" fill="#1e1e1e" stroke="#1e1e1e" stroke-width="0.12" textLength="7.0" lengthAdjust="spacingAndGlyphs">500</text>
<line x1="114.35" y1="286.50" x2="114.35" y2="289.10" stroke="#b5b5b5" stroke-width="0.8"/>
<text x="114.35" y="295.25" font-size="4.0" text-anchor="middle" font-weight="bold" fill="#1e1e1e" stroke="#1e1e1e" stroke-width="0.12" textLength="7.0" lengthAdjust="spacingAndGlyphs">550</text>
<line x1="133.68" y1="286.50" x2="133.68" y2="289.10" stroke="#b5b5b5" stroke-width="0.8"/>
<text x="133.68" y="295.25" font-size="4.0" text-anchor="middle" font-weight="bold" fill="#1e1e1e" stroke="#1e1e1e" stroke-width="0.12" textLength="7.0" lengthAdjust="spacingAndGlyphs">600</text>
<line x1="153.00" y1="286.50" x2="153.00" y2="289.10" stroke="#b5b5b5" stroke-width="0.8"/>
<text x="153.00" y="295.25" font-size="4.0" text-anchor="middle" font-weight="bold" fill="#1e1e1e" stroke="#1e1e1e" stroke-width="0.12" textLength="7.0" lengthAdjust="spacingAndGlyphs">650</text>
<g transform="rotate(-90)" font-family='"Liberation Sans", sans-serif' font-weight="bold" fill="#1a1a1a" stroke="#1a1a1a" stroke-width="0.3"><text x="-247.30" y="19.10" font-size="9" textLength="4.7" lengthAdjust="spacingAndGlyphs">a</text><text x="-241.80" y="19.60" font-size="5.4" textLength="7.4" lengthAdjust="spacingAndGlyphs">tot</text><text x="-231.20" y="19.70" font-size="9" textLength="2.8" lengthAdjust="spacingAndGlyphs">[</text><text x="-227.50" y="19.10" font-size="9" textLength="6.6" lengthAdjust="spacingAndGlyphs">m</text><text x="-219.90" y="15.10" font-size="5.0" textLength="4.3" lengthAdjust="spacingAndGlyphs">-1</text><text x="-214.00" y="19.70" font-size="9" textLength="2.8" lengthAdjust="spacingAndGlyphs">]</text></g>
<text x="101.30" y="310.10" font-size="8.2" text-anchor="middle" font-weight="bold" fill="#1a1a1a" stroke="#1a1a1a" stroke-width="0.4" textLength="73.6" lengthAdjust="spacingAndGlyphs">Wavelength [nm]</text>
<text x="92.80" y="177.60" font-size="9.0" text-anchor="middle" font-weight="bold" fill="#1a1a1a" stroke="#1a1a1a" stroke-width="0.4" textLength="22.7" lengthAdjust="spacingAndGlyphs">2013</text>
<text x="121.80" y="175.40" font-size="6.7" fill="#1a1a1a" stroke="#1a1a1a" stroke-width="0.1" textLength="35.9" lengthAdjust="spacingAndGlyphs">Chla [mg m</text>
<text x="158.00" y="172.90" font-size="3.8" fill="#1a1a1a" textLength="3.3" lengthAdjust="spacingAndGlyphs">-3</text>
<text x="162.10" y="175.40" font-size="6.7" fill="#1a1a1a" stroke="#1a1a1a" stroke-width="0.1">]</text>
<rect x="149.45" y="178.80" width="11.45" height="84.40" fill="url(#cb)"/>
<line x1="148.05" y1="180.40" x2="149.45" y2="180.40" stroke="#777" stroke-width="0.5"/>
<text x="147.30" y="183.15" font-size="6.3" text-anchor="end" font-weight="normal" fill="#1a1a1a" stroke="#1a1a1a" stroke-width="0.1">10</text>
<line x1="148.05" y1="195.50" x2="149.45" y2="195.50" stroke="#777" stroke-width="0.5"/>
<text x="147.30" y="198.25" font-size="6.3" text-anchor="end" font-weight="normal" fill="#1a1a1a" stroke="#1a1a1a" stroke-width="0.1">8</text>
<line x1="148.05" y1="212.00" x2="149.45" y2="212.00" stroke="#777" stroke-width="0.5"/>
<text x="147.30" y="214.75" font-size="6.3" text-anchor="end" font-weight="normal" fill="#1a1a1a" stroke="#1a1a1a" stroke-width="0.1">6</text>
<line x1="148.05" y1="228.85" x2="149.45" y2="228.85" stroke="#777" stroke-width="0.5"/>
<text x="147.30" y="231.60" font-size="6.3" text-anchor="end" font-weight="normal" fill="#1a1a1a" stroke="#1a1a1a" stroke-width="0.1">4</text>
<line x1="148.05" y1="245.90" x2="149.45" y2="245.90" stroke="#777" stroke-width="0.5"/>
<text x="147.30" y="248.65" font-size="6.3" text-anchor="end" font-weight="normal" fill="#1a1a1a" stroke="#1a1a1a" stroke-width="0.1">2</text>
<line x1="148.05" y1="262.00" x2="149.45" y2="262.00" stroke="#777" stroke-width="0.5"/>
<text x="147.30" y="264.75" font-size="6.3" text-anchor="end" font-weight="normal" fill="#1a1a1a" stroke="#1a1a1a" stroke-width="0.1">0.1</text>
<text x="33.90" y="282.70" font-size="7.4" text-anchor="start" font-weight="bold" fill="#1a1a1a" stroke="#1a1a1a" stroke-width="0.3" textLength="8.3" lengthAdjust="spacingAndGlyphs">d)</text>
<clipPath id="clip11"><rect x="218.6" y="168.1" width="133.4" height="118.4"/></clipPath><g clip-path="url(#clip11)"><path d="M223.4 267.5L233.1 271.8L242.8 274.5L247.4 275.5L259.4 277.4L277.6 279.5L302.7 281.3L347.1 281.4" fill="none" stroke="#2065be" stroke-width="0.65" stroke-opacity="0.62"/><circle cx="223.4" cy="267.5" r="0.95" fill="#2065be" fill-opacity="0.62"/><circle cx="233.1" cy="271.8" r="0.95" fill="#2065be" fill-opacity="0.62"/><circle cx="242.8" cy="274.5" r="0.95" fill="#2065be" fill-opacity="0.62"/><circle cx="247.4" cy="275.5" r="0.95" fill="#2065be" fill-opacity="0.62"/><circle cx="259.4" cy="277.4" r="0.95" fill="#2065be" fill-opacity="0.62"/><circle cx="277.6" cy="279.5" r="0.95" fill="#2065be" fill-opacity="0.62"/><circle cx="302.7" cy="281.3" r="0.95" fill="#2065be" fill-opacity="0.62"/><circle cx="347.1" cy="281.4" r="0.95" fill="#2065be" fill-opacity="0.62"/>
<path d="M223.4 266.2L233.1 270.7L242.8 273.7L247.4 274.7L259.4 276.8L277.6 279.2L302.7 281.1L347.1 281.4" fill="none" stroke="#2367bf" stroke-width="0.65" stroke-opacity="0.62"/><circle cx="223.4" cy="266.2" r="0.95" fill="#2367bf" fill-opacity="0.62"/><circle cx="233.1" cy="270.7" r="0.95" fill="#2367bf" fill-opacity="0.62"/><circle cx="242.8" cy="273.7" r="0.95" fill="#2367bf" fill-opacity="0.62"/><circle cx="247.4" cy="274.7" r="0.95" fill="#2367bf" fill-opacity="0.62"/><circle cx="259.4" cy="276.8" r="0.95" fill="#2367bf" fill-opacity="0.62"/><circle cx="277.6" cy="279.2" r="0.95" fill="#2367bf" fill-opacity="0.62"/><circle cx="302.7" cy="281.1" r="0.95" fill="#2367bf" fill-opacity="0.62"/><circle cx="347.1" cy="281.4" r="0.95" fill="#2367bf" fill-opacity="0.62"/>
<path d="M223.4 274.5L233.1 276.7L242.8 278.2L247.4 278.7L259.4 279.7L277.6 280.9L302.7 281.8L347.1 281.9" fill="none" stroke="#2468c0" stroke-width="0.65" stroke-opacity="0.62"/><circle cx="223.4" cy="274.5" r="0.95" fill="#2468c0" fill-opacity="0.62"/><circle cx="233.1" cy="276.7" r="0.95" fill="#2468c0" fill-opacity="0.62"/><circle cx="242.8" cy="278.2" r="0.95" fill="#2468c0" fill-opacity="0.62"/><circle cx="247.4" cy="278.7" r="0.95" fill="#2468c0" fill-opacity="0.62"/><circle cx="259.4" cy="279.7" r="0.95" fill="#2468c0" fill-opacity="0.62"/><circle cx="277.6" cy="280.9" r="0.95" fill="#2468c0" fill-opacity="0.62"/><circle cx="302.7" cy="281.8" r="0.95" fill="#2468c0" fill-opacity="0.62"/><circle cx="347.1" cy="281.9" r="0.95" fill="#2468c0" fill-opacity="0.62"/>
<path d="M223.4 269.0L233.1 272.8L242.8 275.3L247.4 276.2L259.4 277.9L277.6 279.9L302.7 281.4L347.1 281.6" fill="none" stroke="#296bc2" stroke-width="0.65" stroke-opacity="0.62"/><circle cx="223.4" cy="269.0" r="0.95" fill="#296bc2" fill-opacity="0.62"/><circle cx="233.1" cy="272.8" r="0.95" fill="#296bc2" fill-opacity="0.62"/><circle cx="242.8" cy="275.3" r="0.95" fill="#296bc2" fill-opacity="0.62"/><circle cx="247.4" cy="276.2" r="0.95" fill="#296bc2" fill-opacity="0.62"/><circle cx="259.4" cy="277.9" r="0.95" fill="#296bc2" fill-opacity="0.62"/><circle cx="277.6" cy="279.9" r="0.95" fill="#296bc2" fill-opacity="0.62"/><circle cx="302.7" cy="281.4" r="0.95" fill="#296bc2" fill-opacity="0.62"/><circle cx="347.1" cy="281.6" r="0.95" fill="#296bc2" fill-opacity="0.62"/>
<path d="M223.4 266.1L233.1 270.5L242.8 273.1L247.4 274.1L259.4 276.0L277.6 278.6L302.7 280.9L347.1 280.9" fill="none" stroke="#2c6dc3" stroke-width="0.65" stroke-opacity="0.62"/><circle cx="223.4" cy="266.1" r="0.95" fill="#2c6dc3" fill-opacity="0.62"/><circle cx="233.1" cy="270.5" r="0.95" fill="#2c6dc3" fill-opacity="0.62"/><circle cx="242.8" cy="273.1" r="0.95" fill="#2c6dc3" fill-opacity="0.62"/><circle cx="247.4" cy="274.1" r="0.95" fill="#2c6dc3" fill-opacity="0.62"/><circle cx="259.4" cy="276.0" r="0.95" fill="#2c6dc3" fill-opacity="0.62"/><circle cx="277.6" cy="278.6" r="0.95" fill="#2c6dc3" fill-opacity="0.62"/><circle cx="302.7" cy="280.9" r="0.95" fill="#2c6dc3" fill-opacity="0.62"/><circle cx="347.1" cy="280.9" r="0.95" fill="#2c6dc3" fill-opacity="0.62"/>
<path d="M223.4 273.7L233.1 275.9L242.8 277.3L247.4 277.8L259.4 278.8L277.6 280.2L302.7 281.5L347.1 281.6" fill="none" stroke="#3373c6" stroke-width="0.65" stroke-opacity="0.62"/><circle cx="223.4" cy="273.7" r="0.95" fill="#3373c6" fill-opacity="0.62"/><circle cx="233.1" cy="275.9" r="0.95" fill="#3373c6" fill-opacity="0.62"/><circle cx="242.8" cy="277.3" r="0.95" fill="#3373c6" fill-opacity="0.62"/><circle cx="247.4" cy="277.8" r="0.95" fill="#3373c6" fill-opacity="0.62"/><circle cx="259.4" cy="278.8" r="0.95" fill="#3373c6" fill-opacity="0.62"/><circle cx="277.6" cy="280.2" r="0.95" fill="#3373c6" fill-opacity="0.62"/><circle cx="302.7" cy="281.5" r="0.95" fill="#3373c6" fill-opacity="0.62"/><circle cx="347.1" cy="281.6" r="0.95" fill="#3373c6" fill-opacity="0.62"/>
<path d="M223.4 273.5L233.1 276.0L242.8 277.5L247.4 278.0L259.4 279.1L277.6 280.5L302.7 281.6L347.1 281.6" fill="none" stroke="#4d88d0" stroke-width="0.65" stroke-opacity="0.62"/><circle cx="223.4" cy="273.5" r="0.95" fill="#4d88d0" fill-opacity="0.62"/><circle cx="233.1" cy="276.0" r="0.95" fill="#4d88d0" fill-opacity="0.62"/><circle cx="242.8" cy="277.5" r="0.95" fill="#4d88d0" fill-opacity="0.62"/><circle cx="247.4" cy="278.0" r="0.95" fill="#4d88d0" fill-opacity="0.62"/><circle cx="259.4" cy="279.1" r="0.95" fill="#4d88d0" fill-opacity="0.62"/><circle cx="277.6" cy="280.5" r="0.95" fill="#4d88d0" fill-opacity="0.62"/><circle cx="302.7" cy="281.6" r="0.95" fill="#4d88d0" fill-opacity="0.62"/><circle cx="347.1" cy="281.6" r="0.95" fill="#4d88d0" fill-opacity="0.62"/>
<path d="M223.4 262.7L233.1 267.8L242.8 270.7L247.4 271.7L259.4 273.7L277.6 277.0L302.7 280.3L347.1 279.9" fill="none" stroke="#709fd6" stroke-width="0.65" stroke-opacity="0.62"/><circle cx="223.4" cy="262.7" r="0.95" fill="#709fd6" fill-opacity="0.62"/><circle cx="233.1" cy="267.8" r="0.95" fill="#709fd6" fill-opacity="0.62"/><circle cx="242.8" cy="270.7" r="0.95" fill="#709fd6" fill-opacity="0.62"/><circle cx="247.4" cy="271.7" r="0.95" fill="#709fd6" fill-opacity="0.62"/><circle cx="259.4" cy="273.7" r="0.95" fill="#709fd6" fill-opacity="0.62"/><circle cx="277.6" cy="277.0" r="0.95" fill="#709fd6" fill-opacity="0.62"/><circle cx="302.7" cy="280.3" r="0.95" fill="#709fd6" fill-opacity="0.62"/><circle cx="347.1" cy="279.9" r="0.95" fill="#709fd6" fill-opacity="0.62"/>
<path d="M223.4 262.1L233.1 267.5L242.8 270.9L247.4 272.1L259.4 274.4L277.6 277.7L302.7 280.5L347.1 280.5" fill="none" stroke="#7ca6d8" stroke-width="0.65" stroke-opacity="0.62"/><circle cx="223.4" cy="262.1" r="0.95" fill="#7ca6d8" fill-opacity="0.62"/><circle cx="233.1" cy="267.5" r="0.95" fill="#7ca6d8" fill-opacity="0.62"/><circle cx="242.8" cy="270.9" r="0.95" fill="#7ca6d8" fill-opacity="0.62"/><circle cx="247.4" cy="272.1" r="0.95" fill="#7ca6d8" fill-opacity="0.62"/><circle cx="259.4" cy="274.4" r="0.95" fill="#7ca6d8" fill-opacity="0.62"/><circle cx="277.6" cy="277.7" r="0.95" fill="#7ca6d8" fill-opacity="0.62"/><circle cx="302.7" cy="280.5" r="0.95" fill="#7ca6d8" fill-opacity="0.62"/><circle cx="347.1" cy="280.5" r="0.95" fill="#7ca6d8" fill-opacity="0.62"/>
<path d="M223.4 256.8L233.1 263.7L242.8 267.7L247.4 269.0L259.4 271.7L277.6 275.9L302.7 279.9L347.1 279.4" fill="none" stroke="#b2d4e4" stroke-width="0.65" stroke-opacity="0.62"/><circle cx="223.4" cy="256.8" r="0.95" fill="#b2d4e4" fill-opacity="0.62"/><circle cx="233.1" cy="263.7" r="0.95" fill="#b2d4e4" fill-opacity="0.62"/><circle cx="242.8" cy="267.7" r="0.95" fill="#b2d4e4" fill-opacity="0.62"/><circle cx="247.4" cy="269.0" r="0.95" fill="#b2d4e4" fill-opacity="0.62"/><circle cx="259.4" cy="271.7" r="0.95" fill="#b2d4e4" fill-opacity="0.62"/><circle cx="277.6" cy="275.9" r="0.95" fill="#b2d4e4" fill-opacity="0.62"/><circle cx="302.7" cy="279.9" r="0.95" fill="#b2d4e4" fill-opacity="0.62"/><circle cx="347.1" cy="279.4" r="0.95" fill="#b2d4e4" fill-opacity="0.62"/>
<path d="M223.4 266.0L233.1 270.2L242.8 272.7L247.4 273.5L259.4 275.3L277.6 278.1L302.7 280.7L347.1 280.5" fill="none" stroke="#badae3" stroke-width="0.65" stroke-opacity="0.62"/><circle cx="223.4" cy="266.0" r="0.95" fill="#badae3" fill-opacity="0.62"/><circle cx="233.1" cy="270.2" r="0.95" fill="#badae3" fill-opacity="0.62"/><circle cx="242.8" cy="272.7" r="0.95" fill="#badae3" fill-opacity="0.62"/><circle cx="247.4" cy="273.5" r="0.95" fill="#badae3" fill-opacity="0.62"/><circle cx="259.4" cy="275.3" r="0.95" fill="#badae3" fill-opacity="0.62"/><circle cx="277.6" cy="278.1" r="0.95" fill="#badae3" fill-opacity="0.62"/><circle cx="302.7" cy="280.7" r="0.95" fill="#badae3" fill-opacity="0.62"/><circle cx="347.1" cy="280.5" r="0.95" fill="#badae3" fill-opacity="0.62"/>
<path d="M223.4 257.1L233.1 263.6L242.8 267.5L247.4 268.8L259.4 271.5L277.6 275.8L302.7 279.8L347.1 279.5" fill="none" stroke="#bedee2" stroke-width="0.65" stroke-opacity="0.62"/><circle cx="223.4" cy="257.1" r="0.95" fill="#bedee2" fill-opacity="0.62"/><circle cx="233.1" cy="263.6" r="0.95" fill="#bedee2" fill-opacity="0.62"/><circle cx="242.8" cy="267.5" r="0.95" fill="#bedee2" fill-opacity="0.62"/><circle cx="247.4" cy="268.8" r="0.95" fill="#bedee2" fill-opacity="0.62"/><circle cx="259.4" cy="271.5" r="0.95" fill="#bedee2" fill-opacity="0.62"/><circle cx="277.6" cy="275.8" r="0.95" fill="#bedee2" fill-opacity="0.62"/><circle cx="302.7" cy="279.8" r="0.95" fill="#bedee2" fill-opacity="0.62"/><circle cx="347.1" cy="279.5" r="0.95" fill="#bedee2" fill-opacity="0.62"/>
<path d="M223.4 258.9L233.1 265.3L242.8 269.0L247.4 270.3L259.4 272.8L277.6 276.7L302.7 280.2L347.1 279.8" fill="none" stroke="#c6e5e0" stroke-width="0.65" stroke-opacity="0.62"/><circle cx="223.4" cy="258.9" r="0.95" fill="#c6e5e0" fill-opacity="0.62"/><circle cx="233.1" cy="265.3" r="0.95" fill="#c6e5e0" fill-opacity="0.62"/><circle cx="242.8" cy="269.0" r="0.95" fill="#c6e5e0" fill-opacity="0.62"/><circle cx="247.4" cy="270.3" r="0.95" fill="#c6e5e0" fill-opacity="0.62"/><circle cx="259.4" cy="272.8" r="0.95" fill="#c6e5e0" fill-opacity="0.62"/><circle cx="277.6" cy="276.7" r="0.95" fill="#c6e5e0" fill-opacity="0.62"/><circle cx="302.7" cy="280.2" r="0.95" fill="#c6e5e0" fill-opacity="0.62"/><circle cx="347.1" cy="279.8" r="0.95" fill="#c6e5e0" fill-opacity="0.62"/>
<path d="M223.4 266.1L233.1 270.3L242.8 272.8L247.4 273.6L259.4 275.3L277.6 278.1L302.7 280.7L347.1 280.4" fill="none" stroke="#c9e6df" stroke-width="0.65" stroke-opacity="0.62"/><circle cx="223.4" cy="266.1" r="0.95" fill="#c9e6df" fill-opacity="0.62"/><circle cx="233.1" cy="270.3" r="0.95" fill="#c9e6df" fill-opacity="0.62"/><circle cx="242.8" cy="272.8" r="0.95" fill="#c9e6df" fill-opacity="0.62"/><circle cx="247.4" cy="273.6" r="0.95" fill="#c9e6df" fill-opacity="0.62"/><circle cx="259.4" cy="275.3" r="0.95" fill="#c9e6df" fill-opacity="0.62"/><circle cx="277.6" cy="278.1" r="0.95" fill="#c9e6df" fill-opacity="0.62"/><circle cx="302.7" cy="280.7" r="0.95" fill="#c9e6df" fill-opacity="0.62"/><circle cx="347.1" cy="280.4" r="0.95" fill="#c9e6df" fill-opacity="0.62"/>
<path d="M223.4 260.6L233.1 266.2L242.8 269.5L247.4 270.7L259.4 273.0L277.6 276.7L302.7 280.1L347.1 279.9" fill="none" stroke="#e9f2b8" stroke-width="0.65" stroke-opacity="0.62"/><circle cx="223.4" cy="260.6" r="0.95" fill="#e9f2b8" fill-opacity="0.62"/><circle cx="233.1" cy="266.2" r="0.95" fill="#e9f2b8" fill-opacity="0.62"/><circle cx="242.8" cy="269.5" r="0.95" fill="#e9f2b8" fill-opacity="0.62"/><circle cx="247.4" cy="270.7" r="0.95" fill="#e9f2b8" fill-opacity="0.62"/><circle cx="259.4" cy="273.0" r="0.95" fill="#e9f2b8" fill-opacity="0.62"/><circle cx="277.6" cy="276.7" r="0.95" fill="#e9f2b8" fill-opacity="0.62"/><circle cx="302.7" cy="280.1" r="0.95" fill="#e9f2b8" fill-opacity="0.62"/><circle cx="347.1" cy="279.9" r="0.95" fill="#e9f2b8" fill-opacity="0.62"/>
<path d="M223.4 243.8L233.1 252.7L242.8 257.2L247.4 258.7L259.4 261.9L277.6 269.4L302.7 277.2L347.1 275.6" fill="none" stroke="#faf195" stroke-width="0.65" stroke-opacity="0.62"/><circle cx="223.4" cy="243.8" r="0.95" fill="#faf195" fill-opacity="0.62"/><circle cx="233.1" cy="252.7" r="0.95" fill="#faf195" fill-opacity="0.62"/><circle cx="242.8" cy="257.2" r="0.95" fill="#faf195" fill-opacity="0.62"/><circle cx="247.4" cy="258.7" r="0.95" fill="#faf195" fill-opacity="0.62"/><circle cx="259.4" cy="261.9" r="0.95" fill="#faf195" fill-opacity="0.62"/><circle cx="277.6" cy="269.4" r="0.95" fill="#faf195" fill-opacity="0.62"/><circle cx="302.7" cy="277.2" r="0.95" fill="#faf195" fill-opacity="0.62"/><circle cx="347.1" cy="275.6" r="0.95" fill="#faf195" fill-opacity="0.62"/>
<path d="M223.4 254.5L233.1 260.9L242.8 264.1L247.4 265.0L259.4 267.2L277.6 272.7L302.7 278.6L347.1 277.0" fill="none" stroke="#fbf192" stroke-width="0.65" stroke-opacity="0.62"/><circle cx="223.4" cy="254.5" r="0.95" fill="#fbf192" fill-opacity="0.62"/><circle cx="233.1" cy="260.9" r="0.95" fill="#fbf192" fill-opacity="0.62"/><circle cx="242.8" cy="264.1" r="0.95" fill="#fbf192" fill-opacity="0.62"/><circle cx="247.4" cy="265.0" r="0.95" fill="#fbf192" fill-opacity="0.62"/><circle cx="259.4" cy="267.2" r="0.95" fill="#fbf192" fill-opacity="0.62"/><circle cx="277.6" cy="272.7" r="0.95" fill="#fbf192" fill-opacity="0.62"/><circle cx="302.7" cy="278.6" r="0.95" fill="#fbf192" fill-opacity="0.62"/><circle cx="347.1" cy="277.0" r="0.95" fill="#fbf192" fill-opacity="0.62"/>
<path d="M223.4 239.1L233.1 250.5L242.8 257.1L247.4 259.4L259.4 263.9L277.6 271.2L302.7 278.0L347.1 277.3" fill="none" stroke="#fdf08b" stroke-width="0.65" stroke-opacity="0.62"/><circle cx="223.4" cy="239.1" r="0.95" fill="#fdf08b" fill-opacity="0.62"/><circle cx="233.1" cy="250.5" r="0.95" fill="#fdf08b" fill-opacity="0.62"/><circle cx="242.8" cy="257.1" r="0.95" fill="#fdf08b" fill-opacity="0.62"/><circle cx="247.4" cy="259.4" r="0.95" fill="#fdf08b" fill-opacity="0.62"/><circle cx="259.4" cy="263.9" r="0.95" fill="#fdf08b" fill-opacity="0.62"/><circle cx="277.6" cy="271.2" r="0.95" fill="#fdf08b" fill-opacity="0.62"/><circle cx="302.7" cy="278.0" r="0.95" fill="#fdf08b" fill-opacity="0.62"/><circle cx="347.1" cy="277.3" r="0.95" fill="#fdf08b" fill-opacity="0.62"/>
<path d="M223.4 241.5L233.1 251.3L242.8 256.4L247.4 258.0L259.4 261.6L277.6 269.3L302.7 277.3L347.1 275.5" fill="none" stroke="#fef08b" stroke-width="0.65" stroke-opacity="0.62"/><circle cx="223.4" cy="241.5" r="0.95" fill="#fef08b" fill-opacity="0.62"/><circle cx="233.1" cy="251.3" r="0.95" fill="#fef08b" fill-opacity="0.62"/><circle cx="242.8" cy="256.4" r="0.95" fill="#fef08b" fill-opacity="0.62"/><circle cx="247.4" cy="258.0" r="0.95" fill="#fef08b" fill-opacity="0.62"/><circle cx="259.4" cy="261.6" r="0.95" fill="#fef08b" fill-opacity="0.62"/><circle cx="277.6" cy="269.3" r="0.95" fill="#fef08b" fill-opacity="0.62"/><circle cx="302.7" cy="277.3" r="0.95" fill="#fef08b" fill-opacity="0.62"/><circle cx="347.1" cy="275.5" r="0.95" fill="#fef08b" fill-opacity="0.62"/>
<path d="M223.4 257.8L233.1 263.8L242.8 267.3L247.4 268.4L259.4 270.9L277.6 275.3L302.7 279.6L347.1 279.1" fill="none" stroke="#fef089" stroke-width="0.65" stroke-opacity="0.62"/><circle cx="223.4" cy="257.8" r="0.95" fill="#fef089" fill-opacity="0.62"/><circle cx="233.1" cy="263.8" r="0.95" fill="#fef089" fill-opacity="0.62"/><circle cx="242.8" cy="267.3" r="0.95" fill="#fef089" fill-opacity="0.62"/><circle cx="247.4" cy="268.4" r="0.95" fill="#fef089" fill-opacity="0.62"/><circle cx="259.4" cy="270.9" r="0.95" fill="#fef089" fill-opacity="0.62"/><circle cx="277.6" cy="275.3" r="0.95" fill="#fef089" fill-opacity="0.62"/><circle cx="302.7" cy="279.6" r="0.95" fill="#fef089" fill-opacity="0.62"/><circle cx="347.1" cy="279.1" r="0.95" fill="#fef089" fill-opacity="0.62"/>
<path d="M223.4 248.3L233.1 256.4L242.8 260.8L247.4 262.3L259.4 265.4L277.6 271.7L302.7 278.2L347.1 277.1" fill="none" stroke="#feee88" stroke-width="0.65" stroke-opacity="0.62"/><circle cx="223.4" cy="248.3" r="0.95" fill="#feee88" fill-opacity="0.62"/><circle cx="233.1" cy="256.4" r="0.95" fill="#feee88" fill-opacity="0.62"/><circle cx="242.8" cy="260.8" r="0.95" fill="#feee88" fill-opacity="0.62"/><circle cx="247.4" cy="262.3" r="0.95" fill="#feee88" fill-opacity="0.62"/><circle cx="259.4" cy="265.4" r="0.95" fill="#feee88" fill-opacity="0.62"/><circle cx="277.6" cy="271.7" r="0.95" fill="#feee88" fill-opacity="0.62"/><circle cx="302.7" cy="278.2" r="0.95" fill="#feee88" fill-opacity="0.62"/><circle cx="347.1" cy="277.1" r="0.95" fill="#feee88" fill-opacity="0.62"/>
<path d="M223.4 254.4L233.1 261.1L242.8 264.6L247.4 265.7L259.4 268.1L277.6 273.4L302.7 278.9L347.1 277.6" fill="none" stroke="#feeb83" stroke-width="0.65" stroke-opacity="0.62"/><circle cx="223.4" cy="254.4" r="0.95" fill="#feeb83" fill-opacity="0.62"/><circle cx="233.1" cy="261.1" r="0.95" fill="#feeb83" fill-opacity="0.62"/><circle cx="242.8" cy="264.6" r="0.95" fill="#feeb83" fill-opacity="0.62"/><circle cx="247.4" cy="265.7" r="0.95" fill="#feeb83" fill-opacity="0.62"/><circle cx="259.4" cy="268.1" r="0.95" fill="#feeb83" fill-opacity="0.62"/><circle cx="277.6" cy="273.4" r="0.95" fill="#feeb83" fill-opacity="0.62"/><circle cx="302.7" cy="278.9" r="0.95" fill="#feeb83" fill-opacity="0.62"/><circle cx="347.1" cy="277.6" r="0.95" fill="#feeb83" fill-opacity="0.62"/>
<path d="M223.4 253.8L233.1 260.1L242.8 263.2L247.4 264.2L259.4 266.5L277.6 272.2L302.7 278.3L347.1 277.0" fill="none" stroke="#fee980" stroke-width="0.65" stroke-opacity="0.62"/><circle cx="223.4" cy="253.8" r="0.95" fill="#fee980" fill-opacity="0.62"/><circle cx="233.1" cy="260.1" r="0.95" fill="#fee980" fill-opacity="0.62"/><circle cx="242.8" cy="263.2" r="0.95" fill="#fee980" fill-opacity="0.62"/><circle cx="247.4" cy="264.2" r="0.95" fill="#fee980" fill-opacity="0.62"/><circle cx="259.4" cy="266.5" r="0.95" fill="#fee980" fill-opacity="0.62"/><circle cx="277.6" cy="272.2" r="0.95" fill="#fee980" fill-opacity="0.62"/><circle cx="302.7" cy="278.3" r="0.95" fill="#fee980" fill-opacity="0.62"/><circle cx="347.1" cy="277.0" r="0.95" fill="#fee980" fill-opacity="0.62"/>
<path d="M223.4 252.0L233.1 260.2L242.8 264.9L247.4 266.5L259.4 269.7L277.6 274.7L302.7 279.5L347.1 278.8" fill="none" stroke="#fee176" stroke-width="0.65" stroke-opacity="0.62"/><circle cx="223.4" cy="252.0" r="0.95" fill="#fee176" fill-opacity="0.62"/><circle cx="233.1" cy="260.2" r="0.95" fill="#fee176" fill-opacity="0.62"/><circle cx="242.8" cy="264.9" r="0.95" fill="#fee176" fill-opacity="0.62"/><circle cx="247.4" cy="266.5" r="0.95" fill="#fee176" fill-opacity="0.62"/><circle cx="259.4" cy="269.7" r="0.95" fill="#fee176" fill-opacity="0.62"/><circle cx="277.6" cy="274.7" r="0.95" fill="#fee176" fill-opacity="0.62"/><circle cx="302.7" cy="279.5" r="0.95" fill="#fee176" fill-opacity="0.62"/><circle cx="347.1" cy="278.8" r="0.95" fill="#fee176" fill-opacity="0.62"/>
<path d="M223.4 235.6L233.1 248.0L242.8 255.3L247.4 257.8L259.4 262.8L277.6 270.6L302.7 277.8L347.1 277.1" fill="none" stroke="#fdd96c" stroke-width="0.65" stroke-opacity="0.62"/><circle cx="223.4" cy="235.6" r="0.95" fill="#fdd96c" fill-opacity="0.62"/><circle cx="233.1" cy="248.0" r="0.95" fill="#fdd96c" fill-opacity="0.62"/><circle cx="242.8" cy="255.3" r="0.95" fill="#fdd96c" fill-opacity="0.62"/><circle cx="247.4" cy="257.8" r="0.95" fill="#fdd96c" fill-opacity="0.62"/><circle cx="259.4" cy="262.8" r="0.95" fill="#fdd96c" fill-opacity="0.62"/><circle cx="277.6" cy="270.6" r="0.95" fill="#fdd96c" fill-opacity="0.62"/><circle cx="302.7" cy="277.8" r="0.95" fill="#fdd96c" fill-opacity="0.62"/><circle cx="347.1" cy="277.1" r="0.95" fill="#fdd96c" fill-opacity="0.62"/>
<path d="M223.4 244.1L233.1 254.1L242.8 259.7L247.4 261.6L259.4 265.4L277.6 272.0L302.7 278.4L347.1 277.4" fill="none" stroke="#fdd76a" stroke-width="0.65" stroke-opacity="0.62"/><circle cx="223.4" cy="244.1" r="0.95" fill="#fdd76a" fill-opacity="0.62"/><circle cx="233.1" cy="254.1" r="0.95" fill="#fdd76a" fill-opacity="0.62"/><circle cx="242.8" cy="259.7" r="0.95" fill="#fdd76a" fill-opacity="0.62"/><circle cx="247.4" cy="261.6" r="0.95" fill="#fdd76a" fill-opacity="0.62"/><circle cx="259.4" cy="265.4" r="0.95" fill="#fdd76a" fill-opacity="0.62"/><circle cx="277.6" cy="272.0" r="0.95" fill="#fdd76a" fill-opacity="0.62"/><circle cx="302.7" cy="278.4" r="0.95" fill="#fdd76a" fill-opacity="0.62"/><circle cx="347.1" cy="277.4" r="0.95" fill="#fdd76a" fill-opacity="0.62"/>
<path d="M223.4 260.3L233.1 265.2L242.8 267.7L247.4 268.5L259.4 270.2L277.6 274.6L302.7 279.3L347.1 278.2" fill="none" stroke="#fdd465" stroke-width="0.65" stroke-opacity="0.62"/><circle cx="223.4" cy="260.3" r="0.95" fill="#fdd465" fill-opacity="0.62"/><circle cx="233.1" cy="265.2" r="0.95" fill="#fdd465" fill-opacity="0.62"/><circle cx="242.8" cy="267.7" r="0.95" fill="#fdd465" fill-opacity="0.62"/><circle cx="247.4" cy="268.5" r="0.95" fill="#fdd465" fill-opacity="0.62"/><circle cx="259.4" cy="270.2" r="0.95" fill="#fdd465" fill-opacity="0.62"/><circle cx="277.6" cy="274.6" r="0.95" fill="#fdd465" fill-opacity="0.62"/><circle cx="302.7" cy="279.3" r="0.95" fill="#fdd465" fill-opacity="0.62"/><circle cx="347.1" cy="278.2" r="0.95" fill="#fdd465" fill-opacity="0.62"/>
<path d="M223.4 255.8L233.1 262.3L242.8 265.8L247.4 266.9L259.4 269.3L277.6 274.2L302.7 279.2L347.1 278.1" fill="none" stroke="#fdd262" stroke-width="0.65" stroke-opacity="0.62"/><circle cx="223.4" cy="255.8" r="0.95" fill="#fdd262" fill-opacity="0.62"/><circle cx="233.1" cy="262.3" r="0.95" fill="#fdd262" fill-opacity="0.62"/><circle cx="242.8" cy="265.8" r="0.95" fill="#fdd262" fill-opacity="0.62"/><circle cx="247.4" cy="266.9" r="0.95" fill="#fdd262" fill-opacity="0.62"/><circle cx="259.4" cy="269.3" r="0.95" fill="#fdd262" fill-opacity="0.62"/><circle cx="277.6" cy="274.2" r="0.95" fill="#fdd262" fill-opacity="0.62"/><circle cx="302.7" cy="279.2" r="0.95" fill="#fdd262" fill-opacity="0.62"/><circle cx="347.1" cy="278.1" r="0.95" fill="#fdd262" fill-opacity="0.62"/>
<path d="M223.4 248.5L233.1 256.9L242.8 261.7L247.4 263.4L259.4 266.8L277.6 272.8L302.7 278.5L347.1 278.0" fill="none" stroke="#fdc85a" stroke-width="0.65" stroke-opacity="0.62"/><circle cx="223.4" cy="248.5" r="0.95" fill="#fdc85a" fill-opacity="0.62"/><circle cx="233.1" cy="256.9" r="0.95" fill="#fdc85a" fill-opacity="0.62"/><circle cx="242.8" cy="261.7" r="0.95" fill="#fdc85a" fill-opacity="0.62"/><circle cx="247.4" cy="263.4" r="0.95" fill="#fdc85a" fill-opacity="0.62"/><circle cx="259.4" cy="266.8" r="0.95" fill="#fdc85a" fill-opacity="0.62"/><circle cx="277.6" cy="272.8" r="0.95" fill="#fdc85a" fill-opacity="0.62"/><circle cx="302.7" cy="278.5" r="0.95" fill="#fdc85a" fill-opacity="0.62"/><circle cx="347.1" cy="278.0" r="0.95" fill="#fdc85a" fill-opacity="0.62"/>
<path d="M223.4 251.4L233.1 259.3L242.8 263.7L247.4 265.2L259.4 268.3L277.6 273.7L302.7 279.0L347.1 278.2" fill="none" stroke="#fdc759" stroke-width="0.65" stroke-opacity="0.62"/><circle cx="223.4" cy="251.4" r="0.95" fill="#fdc759" fill-opacity="0.62"/><circle cx="233.1" cy="259.3" r="0.95" fill="#fdc759" fill-opacity="0.62"/><circle cx="242.8" cy="263.7" r="0.95" fill="#fdc759" fill-opacity="0.62"/><circle cx="247.4" cy="265.2" r="0.95" fill="#fdc759" fill-opacity="0.62"/><circle cx="259.4" cy="268.3" r="0.95" fill="#fdc759" fill-opacity="0.62"/><circle cx="277.6" cy="273.7" r="0.95" fill="#fdc759" fill-opacity="0.62"/><circle cx="302.7" cy="279.0" r="0.95" fill="#fdc759" fill-opacity="0.62"/><circle cx="347.1" cy="278.2" r="0.95" fill="#fdc759" fill-opacity="0.62"/>
<path d="M223.4 241.2L233.1 251.3L242.8 257.1L247.4 259.0L259.4 263.1L277.6 270.4L302.7 277.6L347.1 276.7" fill="none" stroke="#fdc557" stroke-width="0.65" stroke-opacity="0.62"/><circle cx="223.4" cy="241.2" r="0.95" fill="#fdc557" fill-opacity="0.62"/><circle cx="233.1" cy="251.3" r="0.95" fill="#fdc557" fill-opacity="0.62"/><circle cx="242.8" cy="257.1" r="0.95" fill="#fdc557" fill-opacity="0.62"/><circle cx="247.4" cy="259.0" r="0.95" fill="#fdc557" fill-opacity="0.62"/><circle cx="259.4" cy="263.1" r="0.95" fill="#fdc557" fill-opacity="0.62"/><circle cx="277.6" cy="270.4" r="0.95" fill="#fdc557" fill-opacity="0.62"/><circle cx="302.7" cy="277.6" r="0.95" fill="#fdc557" fill-opacity="0.62"/><circle cx="347.1" cy="276.7" r="0.95" fill="#fdc557" fill-opacity="0.62"/>
<path d="M223.4 245.5L233.1 254.6L242.8 259.5L247.4 261.2L259.4 264.5L277.6 271.3L302.7 278.0L347.1 276.7" fill="none" stroke="#fdc557" stroke-width="0.65" stroke-opacity="0.62"/><circle cx="223.4" cy="245.5" r="0.95" fill="#fdc557" fill-opacity="0.62"/><circle cx="233.1" cy="254.6" r="0.95" fill="#fdc557" fill-opacity="0.62"/><circle cx="242.8" cy="259.5" r="0.95" fill="#fdc557" fill-opacity="0.62"/><circle cx="247.4" cy="261.2" r="0.95" fill="#fdc557" fill-opacity="0.62"/><circle cx="259.4" cy="264.5" r="0.95" fill="#fdc557" fill-opacity="0.62"/><circle cx="277.6" cy="271.3" r="0.95" fill="#fdc557" fill-opacity="0.62"/><circle cx="302.7" cy="278.0" r="0.95" fill="#fdc557" fill-opacity="0.62"/><circle cx="347.1" cy="276.7" r="0.95" fill="#fdc557" fill-opacity="0.62"/>
<path d="M223.4 246.9L233.1 254.8L242.8 258.0L247.4 258.8L259.4 260.8L277.6 268.3L302.7 277.0L347.1 273.9" fill="none" stroke="#fdb64c" stroke-width="0.65" stroke-opacity="0.62"/><circle cx="223.4" cy="246.9" r="0.95" fill="#fdb64c" fill-opacity="0.62"/><circle cx="233.1" cy="254.8" r="0.95" fill="#fdb64c" fill-opacity="0.62"/><circle cx="242.8" cy="258.0" r="0.95" fill="#fdb64c" fill-opacity="0.62"/><circle cx="247.4" cy="258.8" r="0.95" fill="#fdb64c" fill-opacity="0.62"/><circle cx="259.4" cy="260.8" r="0.95" fill="#fdb64c" fill-opacity="0.62"/><circle cx="277.6" cy="268.3" r="0.95" fill="#fdb64c" fill-opacity="0.62"/><circle cx="302.7" cy="277.0" r="0.95" fill="#fdb64c" fill-opacity="0.62"/><circle cx="347.1" cy="273.9" r="0.95" fill="#fdb64c" fill-opacity="0.62"/>
<path d="M223.4 249.6L233.1 255.2L242.8 255.5L247.4 255.0L259.4 254.9L277.6 263.6L302.7 275.2L347.1 269.4" fill="none" stroke="#fc9c3e" stroke-width="0.65" stroke-opacity="0.62"/><circle cx="223.4" cy="249.6" r="0.95" fill="#fc9c3e" fill-opacity="0.62"/><circle cx="233.1" cy="255.2" r="0.95" fill="#fc9c3e" fill-opacity="0.62"/><circle cx="242.8" cy="255.5" r="0.95" fill="#fc9c3e" fill-opacity="0.62"/><circle cx="247.4" cy="255.0" r="0.95" fill="#fc9c3e" fill-opacity="0.62"/><circle cx="259.4" cy="254.9" r="0.95" fill="#fc9c3e" fill-opacity="0.62"/><circle cx="277.6" cy="263.6" r="0.95" fill="#fc9c3e" fill-opacity="0.62"/><circle cx="302.7" cy="275.2" r="0.95" fill="#fc9c3e" fill-opacity="0.62"/><circle cx="347.1" cy="269.4" r="0.95" fill="#fc9c3e" fill-opacity="0.62"/>
<path d="M223.4 220.1L233.1 233.2L242.8 237.1L247.4 237.7L259.4 239.7L277.6 254.0L302.7 271.5L347.1 263.8" fill="none" stroke="#f8762d" stroke-width="0.65" stroke-opacity="0.62"/><circle cx="223.4" cy="220.1" r="0.95" fill="#f8762d" fill-opacity="0.62"/><circle cx="233.1" cy="233.2" r="0.95" fill="#f8762d" fill-opacity="0.62"/><circle cx="242.8" cy="237.1" r="0.95" fill="#f8762d" fill-opacity="0.62"/><circle cx="247.4" cy="237.7" r="0.95" fill="#f8762d" fill-opacity="0.62"/><circle cx="259.4" cy="239.7" r="0.95" fill="#f8762d" fill-opacity="0.62"/><circle cx="277.6" cy="254.0" r="0.95" fill="#f8762d" fill-opacity="0.62"/><circle cx="302.7" cy="271.5" r="0.95" fill="#f8762d" fill-opacity="0.62"/><circle cx="347.1" cy="263.8" r="0.95" fill="#f8762d" fill-opacity="0.62"/></g>
<rect x="218.60" y="168.10" width="133.4" height="118.40" fill="none" stroke="#b5b5b5" stroke-width="0.9"/>
<line x1="216.00" y1="282.40" x2="218.60" y2="282.40" stroke="#b5b5b5" stroke-width="0.8"/>
<text x="212.75" y="282.40" font-size="3.8" text-anchor="middle" font-weight="bold" fill="#1e1e1e" stroke="#1e1e1e" stroke-width="0.12" transform="rotate(-90 212.75 282.40)" textLength="5.8" lengthAdjust="spacingAndGlyphs">0.0</text>
<line x1="216.00" y1="254.58" x2="218.60" y2="254.58" stroke="#b5b5b5" stroke-width="0.8"/>
<text x="212.75" y="254.58" font-size="3.8" text-anchor="middle" font-weight="bold" fill="#1e1e1e" stroke="#1e1e1e" stroke-width="0.12" transform="rotate(-90 212.75 254.58)" textLength="5.8" lengthAdjust="spacingAndGlyphs">0.2</text>
<line x1="216.00" y1="226.76" x2="218.60" y2="226.76" stroke="#b5b5b5" stroke-width="0.8"/>
<text x="212.75" y="226.76" font-size="3.8" text-anchor="middle" font-weight="bold" fill="#1e1e1e" stroke="#1e1e1e" stroke-width="0.12" transform="rotate(-90 212.75 226.76)" textLength="5.8" lengthAdjust="spacingAndGlyphs">0.4</text>
<line x1="216.00" y1="198.94" x2="218.60" y2="198.94" stroke="#b5b5b5" stroke-width="0.8"/>
<text x="212.75" y="198.94" font-size="3.8" text-anchor="middle" font-weight="bold" fill="#1e1e1e" stroke="#1e1e1e" stroke-width="0.12" transform="rotate(-90 212.75 198.94)" textLength="5.8" lengthAdjust="spacingAndGlyphs">0.6</text>
<line x1="216.00" y1="171.12" x2="218.60" y2="171.12" stroke="#b5b5b5" stroke-width="0.8"/>
<text x="212.75" y="171.12" font-size="3.8" text-anchor="middle" font-weight="bold" fill="#1e1e1e" stroke="#1e1e1e" stroke-width="0.12" transform="rotate(-90 212.75 171.12)" textLength="5.8" lengthAdjust="spacingAndGlyphs">0.8</text>
<line x1="223.45" y1="286.50" x2="223.45" y2="289.10" stroke="#b5b5b5" stroke-width="0.8"/>
<text x="223.45" y="295.25" font-size="4.0" text-anchor="middle" font-weight="bold" fill="#1e1e1e" stroke="#1e1e1e" stroke-width="0.12" textLength="7.0" lengthAdjust="spacingAndGlyphs">350</text>
<line x1="242.77" y1="286.50" x2="242.77" y2="289.10" stroke="#b5b5b5" stroke-width="0.8"/>
<text x="242.77" y="295.25" font-size="4.0" text-anchor="middle" font-weight="bold" fill="#1e1e1e" stroke="#1e1e1e" stroke-width="0.12" textLength="7.0" lengthAdjust="spacingAndGlyphs">400</text>
<line x1="262.10" y1="286.50" x2="262.10" y2="289.10" stroke="#b5b5b5" stroke-width="0.8"/>
<text x="262.10" y="295.25" font-size="4.0" text-anchor="middle" font-weight="bold" fill="#1e1e1e" stroke="#1e1e1e" stroke-width="0.12" textLength="7.0" lengthAdjust="spacingAndGlyphs">450</text>
<line x1="281.43" y1="286.50" x2="281.43" y2="289.10" stroke="#b5b5b5" stroke-width="0.8"/>
<text x="281.43" y="295.25" font-size="4.0" text-anchor="middle" font-weight="bold" fill="#1e1e1e" stroke="#1e1e1e" stroke-width="0.12" textLength="7.0" lengthAdjust="spacingAndGlyphs">500</text>
<line x1="300.75" y1="286.50" x2="300.75" y2="289.10" stroke="#b5b5b5" stroke-width="0.8"/>
<text x="300.75" y="295.25" font-size="4.0" text-anchor="middle" font-weight="bold" fill="#1e1e1e" stroke="#1e1e1e" stroke-width="0.12" textLength="7.0" lengthAdjust="spacingAndGlyphs">550</text>
<line x1="320.07" y1="286.50" x2="320.07" y2="289.10" stroke="#b5b5b5" stroke-width="0.8"/>
<text x="320.07" y="295.25" font-size="4.0" text-anchor="middle" font-weight="bold" fill="#1e1e1e" stroke="#1e1e1e" stroke-width="0.12" textLength="7.0" lengthAdjust="spacingAndGlyphs">600</text>
<line x1="339.40" y1="286.50" x2="339.40" y2="289.10" stroke="#b5b5b5" stroke-width="0.8"/>
<text x="339.40" y="295.25" font-size="4.0" text-anchor="middle" font-weight="bold" fill="#1e1e1e" stroke="#1e1e1e" stroke-width="0.12" textLength="7.0" lengthAdjust="spacingAndGlyphs">650</text>
<g transform="rotate(-90)" font-family='"Liberation Sans", sans-serif' font-weight="bold" fill="#1a1a1a" stroke="#1a1a1a" stroke-width="0.3"><text x="-247.30" y="205.50" font-size="9" textLength="4.7" lengthAdjust="spacingAndGlyphs">a</text><text x="-241.80" y="206.00" font-size="5.4" textLength="7.4" lengthAdjust="spacingAndGlyphs">tot</text><text x="-231.20" y="206.10" font-size="9" textLength="2.8" lengthAdjust="spacingAndGlyphs">[</text><text x="-227.50" y="205.50" font-size="9" textLength="6.6" lengthAdjust="spacingAndGlyphs">m</text><text x="-219.90" y="201.50" font-size="5.0" textLength="4.3" lengthAdjust="spacingAndGlyphs">-1</text><text x="-214.00" y="206.10" font-size="9" textLength="2.8" lengthAdjust="spacingAndGlyphs">]</text></g>
<text x="287.70" y="310.10" font-size="8.2" text-anchor="middle" font-weight="bold" fill="#1a1a1a" stroke="#1a1a1a" stroke-width="0.4" textLength="73.6" lengthAdjust="spacingAndGlyphs">Wavelength [nm]</text>
<text x="279.20" y="177.60" font-size="9.0" text-anchor="middle" font-weight="bold" fill="#1a1a1a" stroke="#1a1a1a" stroke-width="0.4" textLength="22.7" lengthAdjust="spacingAndGlyphs">2014</text>
<text x="308.20" y="175.40" font-size="6.7" fill="#1a1a1a" stroke="#1a1a1a" stroke-width="0.1" textLength="35.9" lengthAdjust="spacingAndGlyphs">Chla [mg m</text>
<text x="344.40" y="172.90" font-size="3.8" fill="#1a1a1a" textLength="3.3" lengthAdjust="spacingAndGlyphs">-3</text>
<text x="348.50" y="175.40" font-size="6.7" fill="#1a1a1a" stroke="#1a1a1a" stroke-width="0.1">]</text>
<rect x="335.85" y="178.80" width="11.45" height="84.40" fill="url(#cb)"/>
<line x1="334.45" y1="180.40" x2="335.85" y2="180.40" stroke="#777" stroke-width="0.5"/>
<text x="333.70" y="183.15" font-size="6.3" text-anchor="end" font-weight="normal" fill="#1a1a1a" stroke="#1a1a1a" stroke-width="0.1">10</text>
<line x1="334.45" y1="195.50" x2="335.85" y2="195.50" stroke="#777" stroke-width="0.5"/>
<text x="333.70" y="198.25" font-size="6.3" text-anchor="end" font-weight="normal" fill="#1a1a1a" stroke="#1a1a1a" stroke-width="0.1">8</text>
<line x1="334.45" y1="212.00" x2="335.85" y2="212.00" stroke="#777" stroke-width="0.5"/>
<text x="333.70" y="214.75" font-size="6.3" text-anchor="end" font-weight="normal" fill="#1a1a1a" stroke="#1a1a1a" stroke-width="0.1">6</text>
<line x1="334.45" y1="228.85" x2="335.85" y2="228.85" stroke="#777" stroke-width="0.5"/>
<text x="333.70" y="231.60" font-size="6.3" text-anchor="end" font-weight="normal" fill="#1a1a1a" stroke="#1a1a1a" stroke-width="0.1">4</text>
<line x1="334.45" y1="245.90" x2="335.85" y2="245.90" stroke="#777" stroke-width="0.5"/>
<text x="333.70" y="248.65" font-size="6.3" text-anchor="end" font-weight="normal" fill="#1a1a1a" stroke="#1a1a1a" stroke-width="0.1">2</text>
<line x1="334.45" y1="262.00" x2="335.85" y2="262.00" stroke="#777" stroke-width="0.5"/>
<text x="333.70" y="264.75" font-size="6.3" text-anchor="end" font-weight="normal" fill="#1a1a1a" stroke="#1a1a1a" stroke-width="0.1">0.1</text>
<text x="220.30" y="282.70" font-size="7.4" text-anchor="start" font-weight="bold" fill="#1a1a1a" stroke="#1a1a1a" stroke-width="0.3" textLength="8.1" lengthAdjust="spacingAndGlyphs">e)</text>
<clipPath id="clip12"><rect x="405.4" y="168.1" width="133.4" height="118.4"/></clipPath><g clip-path="url(#clip12)"><path d="M410.2 260.6L419.9 266.5L429.6 270.2L434.2 271.5L446.2 274.1L464.4 277.5L489.5 280.5L533.9 280.6" fill="none" stroke="#2367bf" stroke-width="0.65" stroke-opacity="0.62"/><circle cx="410.2" cy="260.6" r="0.95" fill="#2367bf" fill-opacity="0.62"/><circle cx="419.9" cy="266.5" r="0.95" fill="#2367bf" fill-opacity="0.62"/><circle cx="429.6" cy="270.2" r="0.95" fill="#2367bf" fill-opacity="0.62"/><circle cx="434.2" cy="271.5" r="0.95" fill="#2367bf" fill-opacity="0.62"/><circle cx="446.2" cy="274.1" r="0.95" fill="#2367bf" fill-opacity="0.62"/><circle cx="464.4" cy="277.5" r="0.95" fill="#2367bf" fill-opacity="0.62"/><circle cx="489.5" cy="280.5" r="0.95" fill="#2367bf" fill-opacity="0.62"/><circle cx="533.9" cy="280.6" r="0.95" fill="#2367bf" fill-opacity="0.62"/>
<path d="M410.2 254.6L419.9 262.0L429.6 266.7L434.2 268.4L446.2 271.7L464.4 276.1L489.5 279.9L533.9 280.1" fill="none" stroke="#6f9ed6" stroke-width="0.65" stroke-opacity="0.62"/><circle cx="410.2" cy="254.6" r="0.95" fill="#6f9ed6" fill-opacity="0.62"/><circle cx="419.9" cy="262.0" r="0.95" fill="#6f9ed6" fill-opacity="0.62"/><circle cx="429.6" cy="266.7" r="0.95" fill="#6f9ed6" fill-opacity="0.62"/><circle cx="434.2" cy="268.4" r="0.95" fill="#6f9ed6" fill-opacity="0.62"/><circle cx="446.2" cy="271.7" r="0.95" fill="#6f9ed6" fill-opacity="0.62"/><circle cx="464.4" cy="276.1" r="0.95" fill="#6f9ed6" fill-opacity="0.62"/><circle cx="489.5" cy="279.9" r="0.95" fill="#6f9ed6" fill-opacity="0.62"/><circle cx="533.9" cy="280.1" r="0.95" fill="#6f9ed6" fill-opacity="0.62"/>
<path d="M410.2 255.5L419.9 262.6L429.6 267.1L434.2 268.6L446.2 271.8L464.4 276.1L489.5 279.9L533.9 280.1" fill="none" stroke="#72a0d6" stroke-width="0.65" stroke-opacity="0.62"/><circle cx="410.2" cy="255.5" r="0.95" fill="#72a0d6" fill-opacity="0.62"/><circle cx="419.9" cy="262.6" r="0.95" fill="#72a0d6" fill-opacity="0.62"/><circle cx="429.6" cy="267.1" r="0.95" fill="#72a0d6" fill-opacity="0.62"/><circle cx="434.2" cy="268.6" r="0.95" fill="#72a0d6" fill-opacity="0.62"/><circle cx="446.2" cy="271.8" r="0.95" fill="#72a0d6" fill-opacity="0.62"/><circle cx="464.4" cy="276.1" r="0.95" fill="#72a0d6" fill-opacity="0.62"/><circle cx="489.5" cy="279.9" r="0.95" fill="#72a0d6" fill-opacity="0.62"/><circle cx="533.9" cy="280.1" r="0.95" fill="#72a0d6" fill-opacity="0.62"/>
<path d="M410.2 260.0L419.9 265.7L429.6 269.5L434.2 270.8L446.2 273.6L464.4 277.1L489.5 280.2L533.9 280.6" fill="none" stroke="#93badf" stroke-width="0.65" stroke-opacity="0.62"/><circle cx="410.2" cy="260.0" r="0.95" fill="#93badf" fill-opacity="0.62"/><circle cx="419.9" cy="265.7" r="0.95" fill="#93badf" fill-opacity="0.62"/><circle cx="429.6" cy="269.5" r="0.95" fill="#93badf" fill-opacity="0.62"/><circle cx="434.2" cy="270.8" r="0.95" fill="#93badf" fill-opacity="0.62"/><circle cx="446.2" cy="273.6" r="0.95" fill="#93badf" fill-opacity="0.62"/><circle cx="464.4" cy="277.1" r="0.95" fill="#93badf" fill-opacity="0.62"/><circle cx="489.5" cy="280.2" r="0.95" fill="#93badf" fill-opacity="0.62"/><circle cx="533.9" cy="280.6" r="0.95" fill="#93badf" fill-opacity="0.62"/>
<path d="M410.2 248.8L419.9 258.2L429.6 264.0L434.2 266.1L446.2 270.0L464.4 275.2L489.5 279.6L533.9 279.6" fill="none" stroke="#95bce0" stroke-width="0.65" stroke-opacity="0.62"/><circle cx="410.2" cy="248.8" r="0.95" fill="#95bce0" fill-opacity="0.62"/><circle cx="419.9" cy="258.2" r="0.95" fill="#95bce0" fill-opacity="0.62"/><circle cx="429.6" cy="264.0" r="0.95" fill="#95bce0" fill-opacity="0.62"/><circle cx="434.2" cy="266.1" r="0.95" fill="#95bce0" fill-opacity="0.62"/><circle cx="446.2" cy="270.0" r="0.95" fill="#95bce0" fill-opacity="0.62"/><circle cx="464.4" cy="275.2" r="0.95" fill="#95bce0" fill-opacity="0.62"/><circle cx="489.5" cy="279.6" r="0.95" fill="#95bce0" fill-opacity="0.62"/><circle cx="533.9" cy="279.6" r="0.95" fill="#95bce0" fill-opacity="0.62"/>
<path d="M410.2 250.6L419.9 259.3L429.6 264.7L434.2 266.6L446.2 270.3L464.4 275.3L489.5 279.6L533.9 279.6" fill="none" stroke="#9bc1e2" stroke-width="0.65" stroke-opacity="0.62"/><circle cx="410.2" cy="250.6" r="0.95" fill="#9bc1e2" fill-opacity="0.62"/><circle cx="419.9" cy="259.3" r="0.95" fill="#9bc1e2" fill-opacity="0.62"/><circle cx="429.6" cy="264.7" r="0.95" fill="#9bc1e2" fill-opacity="0.62"/><circle cx="434.2" cy="266.6" r="0.95" fill="#9bc1e2" fill-opacity="0.62"/><circle cx="446.2" cy="270.3" r="0.95" fill="#9bc1e2" fill-opacity="0.62"/><circle cx="464.4" cy="275.3" r="0.95" fill="#9bc1e2" fill-opacity="0.62"/><circle cx="489.5" cy="279.6" r="0.95" fill="#9bc1e2" fill-opacity="0.62"/><circle cx="533.9" cy="279.6" r="0.95" fill="#9bc1e2" fill-opacity="0.62"/>
<path d="M410.2 238.0L419.9 249.7L429.6 256.8L434.2 259.3L446.2 264.3L464.4 271.6L489.5 278.1L533.9 278.0" fill="none" stroke="#a8cce6" stroke-width="0.65" stroke-opacity="0.62"/><circle cx="410.2" cy="238.0" r="0.95" fill="#a8cce6" fill-opacity="0.62"/><circle cx="419.9" cy="249.7" r="0.95" fill="#a8cce6" fill-opacity="0.62"/><circle cx="429.6" cy="256.8" r="0.95" fill="#a8cce6" fill-opacity="0.62"/><circle cx="434.2" cy="259.3" r="0.95" fill="#a8cce6" fill-opacity="0.62"/><circle cx="446.2" cy="264.3" r="0.95" fill="#a8cce6" fill-opacity="0.62"/><circle cx="464.4" cy="271.6" r="0.95" fill="#a8cce6" fill-opacity="0.62"/><circle cx="489.5" cy="278.1" r="0.95" fill="#a8cce6" fill-opacity="0.62"/><circle cx="533.9" cy="278.0" r="0.95" fill="#a8cce6" fill-opacity="0.62"/>
<path d="M410.2 257.7L419.9 264.1L429.6 268.3L434.2 269.8L446.2 272.8L464.4 276.7L489.5 280.1L533.9 280.4" fill="none" stroke="#b4d6e4" stroke-width="0.65" stroke-opacity="0.62"/><circle cx="410.2" cy="257.7" r="0.95" fill="#b4d6e4" fill-opacity="0.62"/><circle cx="419.9" cy="264.1" r="0.95" fill="#b4d6e4" fill-opacity="0.62"/><circle cx="429.6" cy="268.3" r="0.95" fill="#b4d6e4" fill-opacity="0.62"/><circle cx="434.2" cy="269.8" r="0.95" fill="#b4d6e4" fill-opacity="0.62"/><circle cx="446.2" cy="272.8" r="0.95" fill="#b4d6e4" fill-opacity="0.62"/><circle cx="464.4" cy="276.7" r="0.95" fill="#b4d6e4" fill-opacity="0.62"/><circle cx="489.5" cy="280.1" r="0.95" fill="#b4d6e4" fill-opacity="0.62"/><circle cx="533.9" cy="280.4" r="0.95" fill="#b4d6e4" fill-opacity="0.62"/>
<path d="M410.2 232.5L419.9 245.4L429.6 253.3L434.2 256.0L446.2 261.5L464.4 269.8L489.5 277.4L533.9 277.1" fill="none" stroke="#c3e2e1" stroke-width="0.65" stroke-opacity="0.62"/><circle cx="410.2" cy="232.5" r="0.95" fill="#c3e2e1" fill-opacity="0.62"/><circle cx="419.9" cy="245.4" r="0.95" fill="#c3e2e1" fill-opacity="0.62"/><circle cx="429.6" cy="253.3" r="0.95" fill="#c3e2e1" fill-opacity="0.62"/><circle cx="434.2" cy="256.0" r="0.95" fill="#c3e2e1" fill-opacity="0.62"/><circle cx="446.2" cy="261.5" r="0.95" fill="#c3e2e1" fill-opacity="0.62"/><circle cx="464.4" cy="269.8" r="0.95" fill="#c3e2e1" fill-opacity="0.62"/><circle cx="489.5" cy="277.4" r="0.95" fill="#c3e2e1" fill-opacity="0.62"/><circle cx="533.9" cy="277.1" r="0.95" fill="#c3e2e1" fill-opacity="0.62"/>
<path d="M410.2 213.5L419.9 232.0L429.6 243.6L434.2 247.7L446.2 256.0L464.4 266.8L489.5 276.2L533.9 276.6" fill="none" stroke="#eaf3b7" stroke-width="0.65" stroke-opacity="0.62"/><circle cx="410.2" cy="213.5" r="0.95" fill="#eaf3b7" fill-opacity="0.62"/><circle cx="419.9" cy="232.0" r="0.95" fill="#eaf3b7" fill-opacity="0.62"/><circle cx="429.6" cy="243.6" r="0.95" fill="#eaf3b7" fill-opacity="0.62"/><circle cx="434.2" cy="247.7" r="0.95" fill="#eaf3b7" fill-opacity="0.62"/><circle cx="446.2" cy="256.0" r="0.95" fill="#eaf3b7" fill-opacity="0.62"/><circle cx="464.4" cy="266.8" r="0.95" fill="#eaf3b7" fill-opacity="0.62"/><circle cx="489.5" cy="276.2" r="0.95" fill="#eaf3b7" fill-opacity="0.62"/><circle cx="533.9" cy="276.6" r="0.95" fill="#eaf3b7" fill-opacity="0.62"/>
<path d="M410.2 253.9L419.9 260.6L429.6 264.3L434.2 265.5L446.2 268.2L464.4 273.5L489.5 278.8L533.9 278.0" fill="none" stroke="#ecf3b5" stroke-width="0.65" stroke-opacity="0.62"/><circle cx="410.2" cy="253.9" r="0.95" fill="#ecf3b5" fill-opacity="0.62"/><circle cx="419.9" cy="260.6" r="0.95" fill="#ecf3b5" fill-opacity="0.62"/><circle cx="429.6" cy="264.3" r="0.95" fill="#ecf3b5" fill-opacity="0.62"/><circle cx="434.2" cy="265.5" r="0.95" fill="#ecf3b5" fill-opacity="0.62"/><circle cx="446.2" cy="268.2" r="0.95" fill="#ecf3b5" fill-opacity="0.62"/><circle cx="464.4" cy="273.5" r="0.95" fill="#ecf3b5" fill-opacity="0.62"/><circle cx="489.5" cy="278.8" r="0.95" fill="#ecf3b5" fill-opacity="0.62"/><circle cx="533.9" cy="278.0" r="0.95" fill="#ecf3b5" fill-opacity="0.62"/>
<path d="M410.2 247.7L419.9 256.0L429.6 260.5L434.2 261.9L446.2 265.0L464.4 271.5L489.5 278.1L533.9 276.9" fill="none" stroke="#f3f4a8" stroke-width="0.65" stroke-opacity="0.62"/><circle cx="410.2" cy="247.7" r="0.95" fill="#f3f4a8" fill-opacity="0.62"/><circle cx="419.9" cy="256.0" r="0.95" fill="#f3f4a8" fill-opacity="0.62"/><circle cx="429.6" cy="260.5" r="0.95" fill="#f3f4a8" fill-opacity="0.62"/><circle cx="434.2" cy="261.9" r="0.95" fill="#f3f4a8" fill-opacity="0.62"/><circle cx="446.2" cy="265.0" r="0.95" fill="#f3f4a8" fill-opacity="0.62"/><circle cx="464.4" cy="271.5" r="0.95" fill="#f3f4a8" fill-opacity="0.62"/><circle cx="489.5" cy="278.1" r="0.95" fill="#f3f4a8" fill-opacity="0.62"/><circle cx="533.9" cy="276.9" r="0.95" fill="#f3f4a8" fill-opacity="0.62"/>
<path d="M410.2 241.9L419.9 251.3L429.6 256.6L434.2 258.3L446.2 262.1L464.4 269.6L489.5 277.3L533.9 276.2" fill="none" stroke="#fbf193" stroke-width="0.65" stroke-opacity="0.62"/><circle cx="410.2" cy="241.9" r="0.95" fill="#fbf193" fill-opacity="0.62"/><circle cx="419.9" cy="251.3" r="0.95" fill="#fbf193" fill-opacity="0.62"/><circle cx="429.6" cy="256.6" r="0.95" fill="#fbf193" fill-opacity="0.62"/><circle cx="434.2" cy="258.3" r="0.95" fill="#fbf193" fill-opacity="0.62"/><circle cx="446.2" cy="262.1" r="0.95" fill="#fbf193" fill-opacity="0.62"/><circle cx="464.4" cy="269.6" r="0.95" fill="#fbf193" fill-opacity="0.62"/><circle cx="489.5" cy="277.3" r="0.95" fill="#fbf193" fill-opacity="0.62"/><circle cx="533.9" cy="276.2" r="0.95" fill="#fbf193" fill-opacity="0.62"/>
<path d="M410.2 233.9L419.9 246.3L429.6 253.8L434.2 256.4L446.2 261.7L464.4 269.9L489.5 277.4L533.9 277.1" fill="none" stroke="#fcf18f" stroke-width="0.65" stroke-opacity="0.62"/><circle cx="410.2" cy="233.9" r="0.95" fill="#fcf18f" fill-opacity="0.62"/><circle cx="419.9" cy="246.3" r="0.95" fill="#fcf18f" fill-opacity="0.62"/><circle cx="429.6" cy="253.8" r="0.95" fill="#fcf18f" fill-opacity="0.62"/><circle cx="434.2" cy="256.4" r="0.95" fill="#fcf18f" fill-opacity="0.62"/><circle cx="446.2" cy="261.7" r="0.95" fill="#fcf18f" fill-opacity="0.62"/><circle cx="464.4" cy="269.9" r="0.95" fill="#fcf18f" fill-opacity="0.62"/><circle cx="489.5" cy="277.4" r="0.95" fill="#fcf18f" fill-opacity="0.62"/><circle cx="533.9" cy="277.1" r="0.95" fill="#fcf18f" fill-opacity="0.62"/>
<path d="M410.2 205.6L419.9 226.6L429.6 240.2L434.2 245.0L446.2 254.6L464.4 266.3L489.5 276.0L533.9 277.0" fill="none" stroke="#feeb84" stroke-width="0.65" stroke-opacity="0.62"/><circle cx="410.2" cy="205.6" r="0.95" fill="#feeb84" fill-opacity="0.62"/><circle cx="419.9" cy="226.6" r="0.95" fill="#feeb84" fill-opacity="0.62"/><circle cx="429.6" cy="240.2" r="0.95" fill="#feeb84" fill-opacity="0.62"/><circle cx="434.2" cy="245.0" r="0.95" fill="#feeb84" fill-opacity="0.62"/><circle cx="446.2" cy="254.6" r="0.95" fill="#feeb84" fill-opacity="0.62"/><circle cx="464.4" cy="266.3" r="0.95" fill="#feeb84" fill-opacity="0.62"/><circle cx="489.5" cy="276.0" r="0.95" fill="#feeb84" fill-opacity="0.62"/><circle cx="533.9" cy="277.0" r="0.95" fill="#feeb84" fill-opacity="0.62"/>
<path d="M410.2 240.0L419.9 250.7L429.6 257.2L434.2 259.4L446.2 264.0L464.4 271.2L489.5 277.9L533.9 277.5" fill="none" stroke="#feeb83" stroke-width="0.65" stroke-opacity="0.62"/><circle cx="410.2" cy="240.0" r="0.95" fill="#feeb83" fill-opacity="0.62"/><circle cx="419.9" cy="250.7" r="0.95" fill="#feeb83" fill-opacity="0.62"/><circle cx="429.6" cy="257.2" r="0.95" fill="#feeb83" fill-opacity="0.62"/><circle cx="434.2" cy="259.4" r="0.95" fill="#feeb83" fill-opacity="0.62"/><circle cx="446.2" cy="264.0" r="0.95" fill="#feeb83" fill-opacity="0.62"/><circle cx="464.4" cy="271.2" r="0.95" fill="#feeb83" fill-opacity="0.62"/><circle cx="489.5" cy="277.9" r="0.95" fill="#feeb83" fill-opacity="0.62"/><circle cx="533.9" cy="277.5" r="0.95" fill="#feeb83" fill-opacity="0.62"/>
<path d="M410.2 248.8L419.9 257.0L429.6 261.7L434.2 263.2L446.2 266.5L464.4 272.5L489.5 278.5L533.9 277.6" fill="none" stroke="#fee77e" stroke-width="0.65" stroke-opacity="0.62"/><circle cx="410.2" cy="248.8" r="0.95" fill="#fee77e" fill-opacity="0.62"/><circle cx="419.9" cy="257.0" r="0.95" fill="#fee77e" fill-opacity="0.62"/><circle cx="429.6" cy="261.7" r="0.95" fill="#fee77e" fill-opacity="0.62"/><circle cx="434.2" cy="263.2" r="0.95" fill="#fee77e" fill-opacity="0.62"/><circle cx="446.2" cy="266.5" r="0.95" fill="#fee77e" fill-opacity="0.62"/><circle cx="464.4" cy="272.5" r="0.95" fill="#fee77e" fill-opacity="0.62"/><circle cx="489.5" cy="278.5" r="0.95" fill="#fee77e" fill-opacity="0.62"/><circle cx="533.9" cy="277.6" r="0.95" fill="#fee77e" fill-opacity="0.62"/>
<path d="M410.2 244.4L419.9 253.6L429.6 258.7L434.2 260.4L446.2 264.0L464.4 270.9L489.5 277.8L533.9 276.8" fill="none" stroke="#fdd465" stroke-width="0.65" stroke-opacity="0.62"/><circle cx="410.2" cy="244.4" r="0.95" fill="#fdd465" fill-opacity="0.62"/><circle cx="419.9" cy="253.6" r="0.95" fill="#fdd465" fill-opacity="0.62"/><circle cx="429.6" cy="258.7" r="0.95" fill="#fdd465" fill-opacity="0.62"/><circle cx="434.2" cy="260.4" r="0.95" fill="#fdd465" fill-opacity="0.62"/><circle cx="446.2" cy="264.0" r="0.95" fill="#fdd465" fill-opacity="0.62"/><circle cx="464.4" cy="270.9" r="0.95" fill="#fdd465" fill-opacity="0.62"/><circle cx="489.5" cy="277.8" r="0.95" fill="#fdd465" fill-opacity="0.62"/><circle cx="533.9" cy="276.8" r="0.95" fill="#fdd465" fill-opacity="0.62"/>
<path d="M410.2 249.6L419.9 258.2L429.6 262.9L434.2 264.5L446.2 267.7L464.4 273.4L489.5 278.9L533.9 277.9" fill="none" stroke="#fdd161" stroke-width="0.65" stroke-opacity="0.62"/><circle cx="410.2" cy="249.6" r="0.95" fill="#fdd161" fill-opacity="0.62"/><circle cx="419.9" cy="258.2" r="0.95" fill="#fdd161" fill-opacity="0.62"/><circle cx="429.6" cy="262.9" r="0.95" fill="#fdd161" fill-opacity="0.62"/><circle cx="434.2" cy="264.5" r="0.95" fill="#fdd161" fill-opacity="0.62"/><circle cx="446.2" cy="267.7" r="0.95" fill="#fdd161" fill-opacity="0.62"/><circle cx="464.4" cy="273.4" r="0.95" fill="#fdd161" fill-opacity="0.62"/><circle cx="489.5" cy="278.9" r="0.95" fill="#fdd161" fill-opacity="0.62"/><circle cx="533.9" cy="277.9" r="0.95" fill="#fdd161" fill-opacity="0.62"/>
<path d="M410.2 248.7L419.9 256.9L429.6 261.7L434.2 263.3L446.2 266.8L464.4 272.7L489.5 278.5L533.9 278.0" fill="none" stroke="#fdcc5d" stroke-width="0.65" stroke-opacity="0.62"/><circle cx="410.2" cy="248.7" r="0.95" fill="#fdcc5d" fill-opacity="0.62"/><circle cx="419.9" cy="256.9" r="0.95" fill="#fdcc5d" fill-opacity="0.62"/><circle cx="429.6" cy="261.7" r="0.95" fill="#fdcc5d" fill-opacity="0.62"/><circle cx="434.2" cy="263.3" r="0.95" fill="#fdcc5d" fill-opacity="0.62"/><circle cx="446.2" cy="266.8" r="0.95" fill="#fdcc5d" fill-opacity="0.62"/><circle cx="464.4" cy="272.7" r="0.95" fill="#fdcc5d" fill-opacity="0.62"/><circle cx="489.5" cy="278.5" r="0.95" fill="#fdcc5d" fill-opacity="0.62"/><circle cx="533.9" cy="278.0" r="0.95" fill="#fdcc5d" fill-opacity="0.62"/>
<path d="M410.2 229.0L419.9 243.1L429.6 251.5L434.2 254.4L446.2 260.1L464.4 269.0L489.5 277.2L533.9 276.5" fill="none" stroke="#fdc457" stroke-width="0.65" stroke-opacity="0.62"/><circle cx="410.2" cy="229.0" r="0.95" fill="#fdc457" fill-opacity="0.62"/><circle cx="419.9" cy="243.1" r="0.95" fill="#fdc457" fill-opacity="0.62"/><circle cx="429.6" cy="251.5" r="0.95" fill="#fdc457" fill-opacity="0.62"/><circle cx="434.2" cy="254.4" r="0.95" fill="#fdc457" fill-opacity="0.62"/><circle cx="446.2" cy="260.1" r="0.95" fill="#fdc457" fill-opacity="0.62"/><circle cx="464.4" cy="269.0" r="0.95" fill="#fdc457" fill-opacity="0.62"/><circle cx="489.5" cy="277.2" r="0.95" fill="#fdc457" fill-opacity="0.62"/><circle cx="533.9" cy="276.5" r="0.95" fill="#fdc457" fill-opacity="0.62"/>
<path d="M410.2 242.2L419.9 250.9L429.6 255.1L434.2 256.4L446.2 259.3L464.4 267.5L489.5 276.5L533.9 274.2" fill="none" stroke="#fdbe52" stroke-width="0.65" stroke-opacity="0.62"/><circle cx="410.2" cy="242.2" r="0.95" fill="#fdbe52" fill-opacity="0.62"/><circle cx="419.9" cy="250.9" r="0.95" fill="#fdbe52" fill-opacity="0.62"/><circle cx="429.6" cy="255.1" r="0.95" fill="#fdbe52" fill-opacity="0.62"/><circle cx="434.2" cy="256.4" r="0.95" fill="#fdbe52" fill-opacity="0.62"/><circle cx="446.2" cy="259.3" r="0.95" fill="#fdbe52" fill-opacity="0.62"/><circle cx="464.4" cy="267.5" r="0.95" fill="#fdbe52" fill-opacity="0.62"/><circle cx="489.5" cy="276.5" r="0.95" fill="#fdbe52" fill-opacity="0.62"/><circle cx="533.9" cy="274.2" r="0.95" fill="#fdbe52" fill-opacity="0.62"/>
<path d="M410.2 216.0L419.9 231.8L429.6 240.3L434.2 243.0L446.2 248.9L464.4 261.3L489.5 274.1L533.9 271.5" fill="none" stroke="#fdbe52" stroke-width="0.65" stroke-opacity="0.62"/><circle cx="410.2" cy="216.0" r="0.95" fill="#fdbe52" fill-opacity="0.62"/><circle cx="419.9" cy="231.8" r="0.95" fill="#fdbe52" fill-opacity="0.62"/><circle cx="429.6" cy="240.3" r="0.95" fill="#fdbe52" fill-opacity="0.62"/><circle cx="434.2" cy="243.0" r="0.95" fill="#fdbe52" fill-opacity="0.62"/><circle cx="446.2" cy="248.9" r="0.95" fill="#fdbe52" fill-opacity="0.62"/><circle cx="464.4" cy="261.3" r="0.95" fill="#fdbe52" fill-opacity="0.62"/><circle cx="489.5" cy="274.1" r="0.95" fill="#fdbe52" fill-opacity="0.62"/><circle cx="533.9" cy="271.5" r="0.95" fill="#fdbe52" fill-opacity="0.62"/>
<path d="M410.2 222.8L419.9 236.0L429.6 242.8L434.2 244.9L446.2 249.8L464.4 261.5L489.5 274.0L533.9 271.5" fill="none" stroke="#fdb94f" stroke-width="0.65" stroke-opacity="0.62"/><circle cx="410.2" cy="222.8" r="0.95" fill="#fdb94f" fill-opacity="0.62"/><circle cx="419.9" cy="236.0" r="0.95" fill="#fdb94f" fill-opacity="0.62"/><circle cx="429.6" cy="242.8" r="0.95" fill="#fdb94f" fill-opacity="0.62"/><circle cx="434.2" cy="244.9" r="0.95" fill="#fdb94f" fill-opacity="0.62"/><circle cx="446.2" cy="249.8" r="0.95" fill="#fdb94f" fill-opacity="0.62"/><circle cx="464.4" cy="261.5" r="0.95" fill="#fdb94f" fill-opacity="0.62"/><circle cx="489.5" cy="274.0" r="0.95" fill="#fdb94f" fill-opacity="0.62"/><circle cx="533.9" cy="271.5" r="0.95" fill="#fdb94f" fill-opacity="0.62"/>
<path d="M410.2 235.2L419.9 246.3L429.6 252.2L434.2 254.1L446.2 258.1L464.4 267.0L489.5 276.4L533.9 274.4" fill="none" stroke="#fdb84e" stroke-width="0.65" stroke-opacity="0.62"/><circle cx="410.2" cy="235.2" r="0.95" fill="#fdb84e" fill-opacity="0.62"/><circle cx="419.9" cy="246.3" r="0.95" fill="#fdb84e" fill-opacity="0.62"/><circle cx="429.6" cy="252.2" r="0.95" fill="#fdb84e" fill-opacity="0.62"/><circle cx="434.2" cy="254.1" r="0.95" fill="#fdb84e" fill-opacity="0.62"/><circle cx="446.2" cy="258.1" r="0.95" fill="#fdb84e" fill-opacity="0.62"/><circle cx="464.4" cy="267.0" r="0.95" fill="#fdb84e" fill-opacity="0.62"/><circle cx="489.5" cy="276.4" r="0.95" fill="#fdb84e" fill-opacity="0.62"/><circle cx="533.9" cy="274.4" r="0.95" fill="#fdb84e" fill-opacity="0.62"/>
<path d="M410.2 219.3L419.9 233.6L429.6 240.7L434.2 242.9L446.2 247.8L464.4 260.3L489.5 273.7L533.9 270.4" fill="none" stroke="#fca442" stroke-width="0.65" stroke-opacity="0.62"/><circle cx="410.2" cy="219.3" r="0.95" fill="#fca442" fill-opacity="0.62"/><circle cx="419.9" cy="233.6" r="0.95" fill="#fca442" fill-opacity="0.62"/><circle cx="429.6" cy="240.7" r="0.95" fill="#fca442" fill-opacity="0.62"/><circle cx="434.2" cy="242.9" r="0.95" fill="#fca442" fill-opacity="0.62"/><circle cx="446.2" cy="247.8" r="0.95" fill="#fca442" fill-opacity="0.62"/><circle cx="464.4" cy="260.3" r="0.95" fill="#fca442" fill-opacity="0.62"/><circle cx="489.5" cy="273.7" r="0.95" fill="#fca442" fill-opacity="0.62"/><circle cx="533.9" cy="270.4" r="0.95" fill="#fca442" fill-opacity="0.62"/>
<path d="M410.2 225.2L419.9 238.4L429.6 245.1L434.2 247.2L446.2 251.8L464.4 262.9L489.5 274.7L533.9 272.0" fill="none" stroke="#fca342" stroke-width="0.65" stroke-opacity="0.62"/><circle cx="410.2" cy="225.2" r="0.95" fill="#fca342" fill-opacity="0.62"/><circle cx="419.9" cy="238.4" r="0.95" fill="#fca342" fill-opacity="0.62"/><circle cx="429.6" cy="245.1" r="0.95" fill="#fca342" fill-opacity="0.62"/><circle cx="434.2" cy="247.2" r="0.95" fill="#fca342" fill-opacity="0.62"/><circle cx="446.2" cy="251.8" r="0.95" fill="#fca342" fill-opacity="0.62"/><circle cx="464.4" cy="262.9" r="0.95" fill="#fca342" fill-opacity="0.62"/><circle cx="489.5" cy="274.7" r="0.95" fill="#fca342" fill-opacity="0.62"/><circle cx="533.9" cy="272.0" r="0.95" fill="#fca342" fill-opacity="0.62"/>
<path d="M410.2 234.7L419.9 246.9L429.6 253.7L434.2 255.9L446.2 260.5L464.4 268.9L489.5 277.2L533.9 275.7" fill="none" stroke="#fca342" stroke-width="0.65" stroke-opacity="0.62"/><circle cx="410.2" cy="234.7" r="0.95" fill="#fca342" fill-opacity="0.62"/><circle cx="419.9" cy="246.9" r="0.95" fill="#fca342" fill-opacity="0.62"/><circle cx="429.6" cy="253.7" r="0.95" fill="#fca342" fill-opacity="0.62"/><circle cx="434.2" cy="255.9" r="0.95" fill="#fca342" fill-opacity="0.62"/><circle cx="446.2" cy="260.5" r="0.95" fill="#fca342" fill-opacity="0.62"/><circle cx="464.4" cy="268.9" r="0.95" fill="#fca342" fill-opacity="0.62"/><circle cx="489.5" cy="277.2" r="0.95" fill="#fca342" fill-opacity="0.62"/><circle cx="533.9" cy="275.7" r="0.95" fill="#fca342" fill-opacity="0.62"/>
<path d="M410.2 225.7L419.9 238.5L429.6 244.8L434.2 246.7L446.2 251.0L464.4 262.3L489.5 274.5L533.9 271.4" fill="none" stroke="#fc9e3f" stroke-width="0.65" stroke-opacity="0.62"/><circle cx="410.2" cy="225.7" r="0.95" fill="#fc9e3f" fill-opacity="0.62"/><circle cx="419.9" cy="238.5" r="0.95" fill="#fc9e3f" fill-opacity="0.62"/><circle cx="429.6" cy="244.8" r="0.95" fill="#fc9e3f" fill-opacity="0.62"/><circle cx="434.2" cy="246.7" r="0.95" fill="#fc9e3f" fill-opacity="0.62"/><circle cx="446.2" cy="251.0" r="0.95" fill="#fc9e3f" fill-opacity="0.62"/><circle cx="464.4" cy="262.3" r="0.95" fill="#fc9e3f" fill-opacity="0.62"/><circle cx="489.5" cy="274.5" r="0.95" fill="#fc9e3f" fill-opacity="0.62"/><circle cx="533.9" cy="271.4" r="0.95" fill="#fc9e3f" fill-opacity="0.62"/>
<path d="M410.2 216.4L419.9 234.5L429.6 245.1L434.2 248.7L446.2 255.9L464.4 266.6L489.5 276.3L533.9 275.3" fill="none" stroke="#fc9b3e" stroke-width="0.65" stroke-opacity="0.62"/><circle cx="410.2" cy="216.4" r="0.95" fill="#fc9b3e" fill-opacity="0.62"/><circle cx="419.9" cy="234.5" r="0.95" fill="#fc9b3e" fill-opacity="0.62"/><circle cx="429.6" cy="245.1" r="0.95" fill="#fc9b3e" fill-opacity="0.62"/><circle cx="434.2" cy="248.7" r="0.95" fill="#fc9b3e" fill-opacity="0.62"/><circle cx="446.2" cy="255.9" r="0.95" fill="#fc9b3e" fill-opacity="0.62"/><circle cx="464.4" cy="266.6" r="0.95" fill="#fc9b3e" fill-opacity="0.62"/><circle cx="489.5" cy="276.3" r="0.95" fill="#fc9b3e" fill-opacity="0.62"/><circle cx="533.9" cy="275.3" r="0.95" fill="#fc9b3e" fill-opacity="0.62"/>
<path d="M410.2 223.1L419.9 237.5L429.6 246.1L434.2 249.1L446.2 255.4L464.4 265.7L489.5 275.6L533.9 275.2" fill="none" stroke="#fc9b3e" stroke-width="0.65" stroke-opacity="0.62"/><circle cx="410.2" cy="223.1" r="0.95" fill="#fc9b3e" fill-opacity="0.62"/><circle cx="419.9" cy="237.5" r="0.95" fill="#fc9b3e" fill-opacity="0.62"/><circle cx="429.6" cy="246.1" r="0.95" fill="#fc9b3e" fill-opacity="0.62"/><circle cx="434.2" cy="249.1" r="0.95" fill="#fc9b3e" fill-opacity="0.62"/><circle cx="446.2" cy="255.4" r="0.95" fill="#fc9b3e" fill-opacity="0.62"/><circle cx="464.4" cy="265.7" r="0.95" fill="#fc9b3e" fill-opacity="0.62"/><circle cx="489.5" cy="275.6" r="0.95" fill="#fc9b3e" fill-opacity="0.62"/><circle cx="533.9" cy="275.2" r="0.95" fill="#fc9b3e" fill-opacity="0.62"/>
<path d="M410.2 215.9L419.9 232.0L429.6 241.7L434.2 245.1L446.2 252.2L464.4 263.8L489.5 274.8L533.9 274.4" fill="none" stroke="#fc9a3d" stroke-width="0.65" stroke-opacity="0.62"/><circle cx="410.2" cy="215.9" r="0.95" fill="#fc9a3d" fill-opacity="0.62"/><circle cx="419.9" cy="232.0" r="0.95" fill="#fc9a3d" fill-opacity="0.62"/><circle cx="429.6" cy="241.7" r="0.95" fill="#fc9a3d" fill-opacity="0.62"/><circle cx="434.2" cy="245.1" r="0.95" fill="#fc9a3d" fill-opacity="0.62"/><circle cx="446.2" cy="252.2" r="0.95" fill="#fc9a3d" fill-opacity="0.62"/><circle cx="464.4" cy="263.8" r="0.95" fill="#fc9a3d" fill-opacity="0.62"/><circle cx="489.5" cy="274.8" r="0.95" fill="#fc9a3d" fill-opacity="0.62"/><circle cx="533.9" cy="274.4" r="0.95" fill="#fc9a3d" fill-opacity="0.62"/>
<path d="M410.2 229.1L419.9 242.4L429.6 250.1L434.2 252.7L446.2 258.1L464.4 267.4L489.5 276.5L533.9 275.5" fill="none" stroke="#fc973b" stroke-width="0.65" stroke-opacity="0.62"/><circle cx="410.2" cy="229.1" r="0.95" fill="#fc973b" fill-opacity="0.62"/><circle cx="419.9" cy="242.4" r="0.95" fill="#fc973b" fill-opacity="0.62"/><circle cx="429.6" cy="250.1" r="0.95" fill="#fc973b" fill-opacity="0.62"/><circle cx="434.2" cy="252.7" r="0.95" fill="#fc973b" fill-opacity="0.62"/><circle cx="446.2" cy="258.1" r="0.95" fill="#fc973b" fill-opacity="0.62"/><circle cx="464.4" cy="267.4" r="0.95" fill="#fc973b" fill-opacity="0.62"/><circle cx="489.5" cy="276.5" r="0.95" fill="#fc973b" fill-opacity="0.62"/><circle cx="533.9" cy="275.5" r="0.95" fill="#fc973b" fill-opacity="0.62"/>
<path d="M410.2 217.9L419.9 233.9L429.6 243.5L434.2 246.9L446.2 253.8L464.4 264.8L489.5 275.4L533.9 274.7" fill="none" stroke="#fc943a" stroke-width="0.65" stroke-opacity="0.62"/><circle cx="410.2" cy="217.9" r="0.95" fill="#fc943a" fill-opacity="0.62"/><circle cx="419.9" cy="233.9" r="0.95" fill="#fc943a" fill-opacity="0.62"/><circle cx="429.6" cy="243.5" r="0.95" fill="#fc943a" fill-opacity="0.62"/><circle cx="434.2" cy="246.9" r="0.95" fill="#fc943a" fill-opacity="0.62"/><circle cx="446.2" cy="253.8" r="0.95" fill="#fc943a" fill-opacity="0.62"/><circle cx="464.4" cy="264.8" r="0.95" fill="#fc943a" fill-opacity="0.62"/><circle cx="489.5" cy="275.4" r="0.95" fill="#fc943a" fill-opacity="0.62"/><circle cx="533.9" cy="274.7" r="0.95" fill="#fc943a" fill-opacity="0.62"/>
<path d="M410.2 173.4L419.9 201.7L429.6 218.4L434.2 224.1L446.2 235.8L464.4 254.2L489.5 271.3L533.9 269.8" fill="none" stroke="#fb8633" stroke-width="0.65" stroke-opacity="0.62"/><circle cx="410.2" cy="173.4" r="0.95" fill="#fb8633" fill-opacity="0.62"/><circle cx="419.9" cy="201.7" r="0.95" fill="#fb8633" fill-opacity="0.62"/><circle cx="429.6" cy="218.4" r="0.95" fill="#fb8633" fill-opacity="0.62"/><circle cx="434.2" cy="224.1" r="0.95" fill="#fb8633" fill-opacity="0.62"/><circle cx="446.2" cy="235.8" r="0.95" fill="#fb8633" fill-opacity="0.62"/><circle cx="464.4" cy="254.2" r="0.95" fill="#fb8633" fill-opacity="0.62"/><circle cx="489.5" cy="271.3" r="0.95" fill="#fb8633" fill-opacity="0.62"/><circle cx="533.9" cy="269.8" r="0.95" fill="#fb8633" fill-opacity="0.62"/>
<path d="M410.2 226.5L419.9 240.0L429.6 246.9L434.2 249.1L446.2 253.8L464.4 264.3L489.5 275.4L533.9 272.7" fill="none" stroke="#fb8331" stroke-width="0.65" stroke-opacity="0.62"/><circle cx="410.2" cy="226.5" r="0.95" fill="#fb8331" fill-opacity="0.62"/><circle cx="419.9" cy="240.0" r="0.95" fill="#fb8331" fill-opacity="0.62"/><circle cx="429.6" cy="246.9" r="0.95" fill="#fb8331" fill-opacity="0.62"/><circle cx="434.2" cy="249.1" r="0.95" fill="#fb8331" fill-opacity="0.62"/><circle cx="446.2" cy="253.8" r="0.95" fill="#fb8331" fill-opacity="0.62"/><circle cx="464.4" cy="264.3" r="0.95" fill="#fb8331" fill-opacity="0.62"/><circle cx="489.5" cy="275.4" r="0.95" fill="#fb8331" fill-opacity="0.62"/><circle cx="533.9" cy="272.7" r="0.95" fill="#fb8331" fill-opacity="0.62"/>
<path d="M410.2 212.7L419.9 229.9L429.6 238.9L434.2 241.8L446.2 247.9L464.4 260.8L489.5 274.0L533.9 271.0" fill="none" stroke="#fb7f2f" stroke-width="0.65" stroke-opacity="0.62"/><circle cx="410.2" cy="212.7" r="0.95" fill="#fb7f2f" fill-opacity="0.62"/><circle cx="419.9" cy="229.9" r="0.95" fill="#fb7f2f" fill-opacity="0.62"/><circle cx="429.6" cy="238.9" r="0.95" fill="#fb7f2f" fill-opacity="0.62"/><circle cx="434.2" cy="241.8" r="0.95" fill="#fb7f2f" fill-opacity="0.62"/><circle cx="446.2" cy="247.9" r="0.95" fill="#fb7f2f" fill-opacity="0.62"/><circle cx="464.4" cy="260.8" r="0.95" fill="#fb7f2f" fill-opacity="0.62"/><circle cx="489.5" cy="274.0" r="0.95" fill="#fb7f2f" fill-opacity="0.62"/><circle cx="533.9" cy="271.0" r="0.95" fill="#fb7f2f" fill-opacity="0.62"/>
<path d="M410.2 226.0L419.9 240.2L429.6 248.3L434.2 251.0L446.2 256.5L464.4 266.4L489.5 276.2L533.9 274.7" fill="none" stroke="#fb7d2e" stroke-width="0.65" stroke-opacity="0.62"/><circle cx="410.2" cy="226.0" r="0.95" fill="#fb7d2e" fill-opacity="0.62"/><circle cx="419.9" cy="240.2" r="0.95" fill="#fb7d2e" fill-opacity="0.62"/><circle cx="429.6" cy="248.3" r="0.95" fill="#fb7d2e" fill-opacity="0.62"/><circle cx="434.2" cy="251.0" r="0.95" fill="#fb7d2e" fill-opacity="0.62"/><circle cx="446.2" cy="256.5" r="0.95" fill="#fb7d2e" fill-opacity="0.62"/><circle cx="464.4" cy="266.4" r="0.95" fill="#fb7d2e" fill-opacity="0.62"/><circle cx="489.5" cy="276.2" r="0.95" fill="#fb7d2e" fill-opacity="0.62"/><circle cx="533.9" cy="274.7" r="0.95" fill="#fb7d2e" fill-opacity="0.62"/></g>
<rect x="405.40" y="168.10" width="133.4" height="118.40" fill="none" stroke="#b5b5b5" stroke-width="0.9"/>
<line x1="402.80" y1="282.40" x2="405.40" y2="282.40" stroke="#b5b5b5" stroke-width="0.8"/>
<text x="399.55" y="282.40" font-size="3.8" text-anchor="middle" font-weight="bold" fill="#1e1e1e" stroke="#1e1e1e" stroke-width="0.12" transform="rotate(-90 399.55 282.40)" textLength="5.8" lengthAdjust="spacingAndGlyphs">0.0</text>
<line x1="402.80" y1="254.58" x2="405.40" y2="254.58" stroke="#b5b5b5" stroke-width="0.8"/>
<text x="399.55" y="254.58" font-size="3.8" text-anchor="middle" font-weight="bold" fill="#1e1e1e" stroke="#1e1e1e" stroke-width="0.12" transform="rotate(-90 399.55 254.58)" textLength="5.8" lengthAdjust="spacingAndGlyphs">0.2</text>
<line x1="402.80" y1="226.76" x2="405.40" y2="226.76" stroke="#b5b5b5" stroke-width="0.8"/>
<text x="399.55" y="226.76" font-size="3.8" text-anchor="middle" font-weight="bold" fill="#1e1e1e" stroke="#1e1e1e" stroke-width="0.12" transform="rotate(-90 399.55 226.76)" textLength="5.8" lengthAdjust="spacingAndGlyphs">0.4</text>
<line x1="402.80" y1="198.94" x2="405.40" y2="198.94" stroke="#b5b5b5" stroke-width="0.8"/>
<text x="399.55" y="198.94" font-size="3.8" text-anchor="middle" font-weight="bold" fill="#1e1e1e" stroke="#1e1e1e" stroke-width="0.12" transform="rotate(-90 399.55 198.94)" textLength="5.8" lengthAdjust="spacingAndGlyphs">0.6</text>
<line x1="402.80" y1="171.12" x2="405.40" y2="171.12" stroke="#b5b5b5" stroke-width="0.8"/>
<text x="399.55" y="171.12" font-size="3.8" text-anchor="middle" font-weight="bold" fill="#1e1e1e" stroke="#1e1e1e" stroke-width="0.12" transform="rotate(-90 399.55 171.12)" textLength="5.8" lengthAdjust="spacingAndGlyphs">0.8</text>
<line x1="410.25" y1="286.50" x2="410.25" y2="289.10" stroke="#b5b5b5" stroke-width="0.8"/>
<text x="410.25" y="295.25" font-size="4.0" text-anchor="middle" font-weight="bold" fill="#1e1e1e" stroke="#1e1e1e" stroke-width="0.12" textLength="7.0" lengthAdjust="spacingAndGlyphs">350</text>
<line x1="429.57" y1="286.50" x2="429.57" y2="289.10" stroke="#b5b5b5" stroke-width="0.8"/>
<text x="429.57" y="295.25" font-size="4.0" text-anchor="middle" font-weight="bold" fill="#1e1e1e" stroke="#1e1e1e" stroke-width="0.12" textLength="7.0" lengthAdjust="spacingAndGlyphs">400</text>
<line x1="448.90" y1="286.50" x2="448.90" y2="289.10" stroke="#b5b5b5" stroke-width="0.8"/>
<text x="448.90" y="295.25" font-size="4.0" text-anchor="middle" font-weight="bold" fill="#1e1e1e" stroke="#1e1e1e" stroke-width="0.12" textLength="7.0" lengthAdjust="spacingAndGlyphs">450</text>
<line x1="468.23" y1="286.50" x2="468.23" y2="289.10" stroke="#b5b5b5" stroke-width="0.8"/>
<text x="468.23" y="295.25" font-size="4.0" text-anchor="middle" font-weight="bold" fill="#1e1e1e" stroke="#1e1e1e" stroke-width="0.12" textLength="7.0" lengthAdjust="spacingAndGlyphs">500</text>
<line x1="487.55" y1="286.50" x2="487.55" y2="289.10" stroke="#b5b5b5" stroke-width="0.8"/>
<text x="487.55" y="295.25" font-size="4.0" text-anchor="middle" font-weight="bold" fill="#1e1e1e" stroke="#1e1e1e" stroke-width="0.12" textLength="7.0" lengthAdjust="spacingAndGlyphs">550</text>
<line x1="506.88" y1="286.50" x2="506.88" y2="289.10" stroke="#b5b5b5" stroke-width="0.8"/>
<text x="506.88" y="295.25" font-size="4.0" text-anchor="middle" font-weight="bold" fill="#1e1e1e" stroke="#1e1e1e" stroke-width="0.12" textLength="7.0" lengthAdjust="spacingAndGlyphs">600</text>
<line x1="526.20" y1="286.50" x2="526.20" y2="289.10" stroke="#b5b5b5" stroke-width="0.8"/>
<text x="526.20" y="295.25" font-size="4.0" text-anchor="middle" font-weight="bold" fill="#1e1e1e" stroke="#1e1e1e" stroke-width="0.12" textLength="7.0" lengthAdjust="spacingAndGlyphs">650</text>
<g transform="rotate(-90)" font-family='"Liberation Sans", sans-serif' font-weight="bold" fill="#1a1a1a" stroke="#1a1a1a" stroke-width="0.3"><text x="-247.30" y="392.30" font-size="9" textLength="4.7" lengthAdjust="spacingAndGlyphs">a</text><text x="-241.80" y="392.80" font-size="5.4" textLength="7.4" lengthAdjust="spacingAndGlyphs">tot</text><text x="-231.20" y="392.90" font-size="9" textLength="2.8" lengthAdjust="spacingAndGlyphs">[</text><text x="-227.50" y="392.30" font-size="9" textLength="6.6" lengthAdjust="spacingAndGlyphs">m</text><text x="-219.90" y="388.30" font-size="5.0" textLength="4.3" lengthAdjust="spacingAndGlyphs">-1</text><text x="-214.00" y="392.90" font-size="9" textLength="2.8" lengthAdjust="spacingAndGlyphs">]</text></g>
<text x="474.50" y="310.10" font-size="8.2" text-anchor="middle" font-weight="bold" fill="#1a1a1a" stroke="#1a1a1a" stroke-width="0.4" textLength="73.6" lengthAdjust="spacingAndGlyphs">Wavelength [nm]</text>
<text x="466.00" y="177.60" font-size="9.0" text-anchor="middle" font-weight="bold" fill="#1a1a1a" stroke="#1a1a1a" stroke-width="0.4" textLength="22.7" lengthAdjust="spacingAndGlyphs">2015</text>
<text x="495.00" y="175.40" font-size="6.7" fill="#1a1a1a" stroke="#1a1a1a" stroke-width="0.1" textLength="35.9" lengthAdjust="spacingAndGlyphs">Chla [mg m</text>
<text x="531.20" y="172.90" font-size="3.8" fill="#1a1a1a" textLength="3.3" lengthAdjust="spacingAndGlyphs">-3</text>
<text x="535.30" y="175.40" font-size="6.7" fill="#1a1a1a" stroke="#1a1a1a" stroke-width="0.1">]</text>
<rect x="522.65" y="178.80" width="11.45" height="84.40" fill="url(#cb)"/>
<line x1="521.25" y1="180.40" x2="522.65" y2="180.40" stroke="#777" stroke-width="0.5"/>
<text x="520.50" y="183.15" font-size="6.3" text-anchor="end" font-weight="normal" fill="#1a1a1a" stroke="#1a1a1a" stroke-width="0.1">10</text>
<line x1="521.25" y1="195.50" x2="522.65" y2="195.50" stroke="#777" stroke-width="0.5"/>
<text x="520.50" y="198.25" font-size="6.3" text-anchor="end" font-weight="normal" fill="#1a1a1a" stroke="#1a1a1a" stroke-width="0.1">8</text>
<line x1="521.25" y1="212.00" x2="522.65" y2="212.00" stroke="#777" stroke-width="0.5"/>
<text x="520.50" y="214.75" font-size="6.3" text-anchor="end" font-weight="normal" fill="#1a1a1a" stroke="#1a1a1a" stroke-width="0.1">6</text>
<line x1="521.25" y1="228.85" x2="522.65" y2="228.85" stroke="#777" stroke-width="0.5"/>
<text x="520.50" y="231.60" font-size="6.3" text-anchor="end" font-weight="normal" fill="#1a1a1a" stroke="#1a1a1a" stroke-width="0.1">4</text>
<line x1="521.25" y1="245.90" x2="522.65" y2="245.90" stroke="#777" stroke-width="0.5"/>
<text x="520.50" y="248.65" font-size="6.3" text-anchor="end" font-weight="normal" fill="#1a1a1a" stroke="#1a1a1a" stroke-width="0.1">2</text>
<line x1="521.25" y1="262.00" x2="522.65" y2="262.00" stroke="#777" stroke-width="0.5"/>
<text x="520.50" y="264.75" font-size="6.3" text-anchor="end" font-weight="normal" fill="#1a1a1a" stroke="#1a1a1a" stroke-width="0.1">0.1</text>
<text x="407.10" y="282.70" font-size="7.4" text-anchor="start" font-weight="bold" fill="#1a1a1a" stroke="#1a1a1a" stroke-width="0.3" textLength="5.9" lengthAdjust="spacingAndGlyphs">f)</text>
</svg></body></html>
